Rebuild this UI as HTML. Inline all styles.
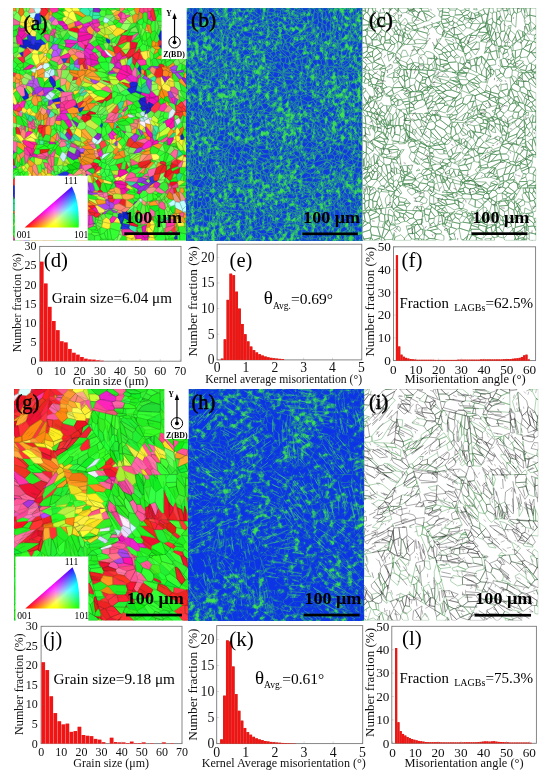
<!DOCTYPE html>
<html><head><meta charset="utf-8"><title>EBSD figure</title>
<style>html,body{margin:0;padding:0;background:#fff}svg{display:block}</style></head>
<body>
<svg width="550" height="780" viewBox="0 0 550 780">
<rect width="550" height="780" fill="#fff"/>
<g id="maps">
<defs><path id="a0" d="M33.7,104.2l0-2.1 -4.2-3 -2.2,5 0,.1 .3,1 2.9,2.1zM40.3,101.1l-2.8-3.8 -2.2,.2 -1.3,.4 -.2,2 2.2,1.4 2.8,.5z"/><path id="a1" d="M27.9,111.5l-.3-6.3 -.3-1 -3.3,6.8 1.9,3.1zM129.8,9.9l-4.7,2.8 .9-8.4 .2-1 3.7,2.3zM76.9,146l-5.3,1.3 -1.2-2 -.2-.6 1.9-3.3 .4,0zM83.4,149.9l-2.2-3.9 -4.3,0 -5.3,1.3 -.4,1.3 10,2.9 2.2-.7z"/><path id="a2" d="M35.3,108.3l2.4-5.7 3.2,2.2 1.1,2.7 -5.1,2.8zM145.3,120.9l.6-.4 .6,3.4 -1.9,.3z"/><path id="a3" d="M40.9,104.8l1.1,2.7 0,0 .3-.3 .1-1.4zM44.4,107.2l-1.1-.8 -1,.8 -.3,.3 .4,5.9zM164.8,179.9l.4-1.9 .9-.2 6.8-.2 -.6,2.3zM146.6,192.2l-1.4,.2 .8,3.8 .6-1.2zM148.8,191.9l2.3-.3 1,.7 .3,.5 -.6,3.2 -3.2-3.2zM146.5,188.5l1.6,3.5 -4.2,.6 -.5-1.9 1.7-1.4zM151.7,188.1l-2.9,3.8 2.4-.3 .1-.1zM89.9,114.2l1.8,.1 1.9-2.5 -.3-1.6 -5,1.9zM0,29l0,5.3 4.1,1.4 -.9-7.6zM169.8,118.4l-.7-3.7 .6-.4 3.5-.1 .5,.7 0,2.5 -1.4,4.2 -1.6-.5zM44.9,106.9l-.8,0 -5.4-3.7 .1-1.4 1.5-.7 3.5,.1 1.7,5.2zM51.5,144.8l3.8-4.5 .9-.3 -1.4,4.1 -3.2,.8zM85.5,209.3l-1.6-.3 -1,.6 -.2,1.9 2.4,.5zM84.3,214.1l-1.4,2.6 .1,.1 4.6,2.6 1.2-.2 .3-3zM85.2,212.1l-.1-.1 .4-2.7 .1-.2 1.9-1 2.3,4.4 -.4,.6zM31.6,204.7l-3.8-3.6 -1.4,.8 -.6,4.7 4.7,1.6 1.4-.6zM6.2,44.8l-.1,.4 -3.5,4.3 -1.6,.5 -1-3.4 0-.8 4.7-2.5z"/><path id="a4" d="M29.1,96.7l.6,.3 -.2,2.1 -2.2,5 -1.8-1.7zM173.7,179.8l-1.4,.1 .6-2.3 .8-1.4zM133.2,194l.6-.1 .3,.7 -.5,.7zM125.4,154.5l.2,.3 2.9-1.3 6.4-6.8 -6.3-.7 -.6,1zM133.2,194l-3.8-2.4 -.8,2.7 .6,2 2.8,1.1 1.3-3.2zM132,197.4l1.3-3.2 .9,3.2 -2,.7zM73.2,166.1l-.5,3.9 -.6-.1 -2.9-3.3 -.4-.8 .4-.9 3.8,.4zM70.5,161.7l-1.9-1.4 -3.5,.6 .7,.4 3,1.8z"/><path id="a5" d="M22.9,111.9l1.1-.9 3.3-6.8 0-.1 -1.8-1.7 -3.8,5.9zM81.5,142.6l-1-1.1 -8-.1 4.4,4.6 4.3,0 .3-.4z"/><path id="a6" d="M42.4,105.8l-.1,1.4 1-.8zM72.5,201.2l1.2-3.6 -2-1.1 -.3-.1 -1.4-.2 -2.1,1.3zM138.4,211.9l2.6,.8 -1.2-4 -3-2.3zM3.4,65l-3.4-1.1 0,4.1 .6,.6 1.4-.4 1.4-3.1zM144.3,93.7l-3.7,3 -3,3.7 .1,2.2 3.8,2.7 3.9-3.1 2.3-5.7 -2.1-3zM160.6,225.4l-2.8-2.8 3.8-4.2 .7,.5 .2,4.6zM49.5,219.6l-4.5,2.3 -.2-.3 -.9-3.6 5-.5 1.1,1.4zM148.4,78.8l.4-.4 .7,2.6 -.7,.7 -1-.1z"/><path id="a7" d="M24.6,117.1l1.2,0 .1-3 -1.9-3.1 -1.1,.9zM152.3,209.3l1.4,.7 2.1-1.9 -1-4 -2.4-3.6 -1.1,1.5zM114.1,0l.6,2.1 -3.6-.7 .7-1.4zM59,216.1l-3.4,.3 -1.7-3.4 0-.8 5.2-.9 .4,.9zM59.7,210.8l-.6,.5 .4,.9zM24.5,117.2l-.9,1.3 -1.5-.3 -.4-1.2 .1-1.9zM26.1,211.8l0,0 -3.4,2.3 0,.2 0,.2 .2,.2 1.1,1zM117.1,139l7.1,1.4 -3.6,4.9 -1.9,.1 -3.4-.4 -.4-.5 1.4-4.7 .4-.5zM114.9,144.5l1.4-4.7 -4.6,1.3zM67,112l2.3,.1 -1.4-2.1z"/><path id="a8" d="M30.5,107.3l-2.9-2.1 .3,6.3 .4,.7 .2,.2 2.1-.3zM4.1,138.3l6.6,4.8 .4-.1 .6-4.2 -3-3.8 -4.7-1.3 -.1,.2zM74.9,61.4l2.3,.4 .3-3.8 0,0 -3.8-2zM9.2,135.7l1.2-.1 3.3,2.7 -.8,2.1zM47.5,93.6l-.2,2.2 -4.8,1 -1.8-1.7 0-1.1 6.1-.8zM154.1,128.6l1,1.8 5.7-6 -.4-1.8 -2.1-1.8 -.5,.1 -3.2,5zM69.6,16.2l.2,2.6 -.6,.6 -3.1,2 -2.4-2.1 .1-1.2zM44.2,124.6l-1.4,7.5 0,0 -3.7-3.5 4.5-3.9zM8.2,71.5l2.6-2.3 -.9-1.6 -3.4-2.2zM137,142.5l-4.8,.8 -1.3-1.8 7.4-2.9zM73.6,62.5l1.3-1 -1.9-.7 -1.8-.2 -3.1,1.7zM104.8,133.7l-1.7-1 -.2-.8 .2-.6 3.9-2.7 1.9,1 .3,.3 -4,3.9zM71.2,148.6l.4-1.3 -1.2-2 -3.3,.1 .2,2.5 3.8,.7z"/><path id="a9" d="M35,108.2l.3,.1 2.4-5.7 -3.3-2.3 -.7,1.8 0,2.1zM30.3,180.4l1.9,2.2 2-.8 0-.1 -.3-1.9 -2.5-2zM32.2,182.6l2-.8 -1.6,1.3zM40.5,175l.7,.7 .3,.4 .8,1.4 -2.2-.8z"/><path id="a10" d="M34.2,109.7l-1.4,7.7 3.7,.2 .4-7.3 -1.6-2 -.3-.1zM90.8,204.6l0,0 .8-1.4 1.1,.2zM38.4,158.4l0,1.8 -.7-1.3 .1-.4zM38.8,158.2l-1.4-9.8 -1.9,1.4 -1.4,2.8 3.3,5.8 .4,.1 .6-.1z"/><path id="a11" d="M36.5,117.6l.4-7.3 5.1-2.8 0,0 .4,5.9 -1.4,4.1 -.2,.3zM58.1,202.9l0,0 -3.6-3.9 4.9-.5 -.6,4zM57.4,202.8l2.3,.1 -.9,.6z"/><path id="a12" d="M26.4,117.2l1.9-5 .2,.2 -.4,4.8zM41.9,66.6l-3.2,2 3.6,5zM82.9,11.2l2.2-.6 2,3.5 -.8,.6 -.7,0zM74.1,37.6l4.7-7.3 -3,1.1 -1.7,6.2zM161.3,217.3l-8.5,2.1 .4-6.5 2.5-2.8 8.1,2.5zM136.9,11.5l-1.9,.1 2.8-3.6zM36.2,0l0,1.1 3.3,4 4.2-.7 2.4-2.2 -.8-2.2z"/><path id="a13" d="M34.2,109.7l-1.4,7.7 -2.2-.1 .1-5zM100.9,43.8l.6,.4 1.1,3.8 -2.1,.8 -.3,0 -7.5-7 .3-.3 1.8-.4zM79.8,58.9l-2.3-.9 -.3,3.8 4.5,.9 1.8-1.6zM150.4,48.1l-1-1.2 -2.8,.3 -3.9,3.3 .4,.3 4.4,.8zM60.2,105.6l2.1,3.1 1.2,.4 1.3-2.4 -.5-1.2zM36.7,133.7l4.6,.8 1.5-2.4 -3.7-3.5 -1.4,.2zM76.5,61.7l-1.6-.3 -1.3,1.1 -2.1,5.4 .8-.1 6.8-4.5zM53.4,101.4l2.2,4.2 6.4,0 3.9-1.5 .4-.3 -1.3-3.8 -4.7-1.3zM173.7,210l-2.3,.5 -1.1-1.6 .7-2.9 2.7,1.4z"/><path id="a14" d="M34.4,100.3l-.7,1.8 -4.2-3 .2-2.1zM95,156.4l-1.2-.5 -2.3,5.3 5,.3 .8-.6zM95.5,157.2l-.2-.2 -.3-.6 4.9-6.1 2,1zM92.3,154.8l6.5-3.3 .2-.2 .6-2.9 -6.8,3.9zM99.6,148.4l.7-2.5 2.9,.1 -4.1,5.2 -.1,.1z"/><path id="a15" d="M28.3,112.2l-1.9,5 -.6-.1 .1-3 2-2.6zM164.6,49.8l2.4,5.6 1.6-.2 5.1-4.3 0-.6 -4.3-5.4 -.9-.5 -1,.2 -2.6,4.3zM83.4,218.1l-2,.3 -.9-.3 -.4-2.1 2.5-.1zM147.7,153.6l-.9,1.5 -4.6-1.8 -.3-1 4-1.1zM155.9,145.8l1.4,.5 4-4.9 -1.1-3 -2.8-.9 -3.8,6.8zM161.3,141.4l-1.1-3 3.3,1.2 2.1,2.1 -.7,.9zM116.4,146.1l-4.3-4.5 -1.2,.6 1.5,6.3 4.1-1.8zM43.8,121.6l-.3,1.4 3.3,6.4 .6-.2 -.8-5.7 -2.6-1.9zM22.6,119.8l-.4-.7 -.1-.9 1.5,.3zM24.6,117.1l-.1,.1 -2.7-2.1 -1.5-3.6 2.7,.8zM24.6,117.1l1.3,0 -1.5,3.4 -1.3-1.3zM22.2,206.8l-3.4-1.6 0-4.7 4.5-.6 0,6.8zM80.9,129.4l3.3-3.4 0-.9 -2.3-3.3 -8.4-4.5 -1.5,3.5 7.3,8.8zM102.1,115.1l1.4-.5 2,1.8 -.7,1.6zM123.2,18.6l2.3,6 0,0 -9.1-.5 1.1-2.4 2.6-2.2 .2-.1z"/><path id="a16" d="M34.2,109.7l-3.5,2.6 -.1-.2 -.1-4.8 3.2-3.1 1.3,4zM163.9,218.9l-.1-6.3 0,0 -2.5,4.7 .3,1.1 .7,.5z"/><path id="a17" d="M30.6,112.1l-2.1,.3 -.4,4.8 2.5,.1 .1-5zM122.3,106l1.8-1.6 2.7,.7 2.2,3.8 -.8,.8 -.9,.4 -4.6-1.8zM90.8,204.6l0,0 -4,.4 .7,1.7zM47.2,164.4l.8-2.3 -3-3.3 0,5 .7,1.5zM78.3,73.9l-7.4-4.5 .5-1.2 5.9,2.4zM124.6,218.6l-.7,.1 -1.1,5.8 .8,.2zM115.3,145l3.4,.4 -.2,.3 -2.1,.4zM115.8,129.8l-.5,1.2 2.6-1.3 .5-1.3zM65.8,114.5l4.9-1.1 1.7,1.4 1.1,2.5 -1.5,3.5 -3.8,1.2 -4.1-2 -.4-.8zM131.5,119.1l-2.7,3.8 .5,.8 4,1 -1.2-5.6zM111.5,125.2l1.3-1.2 .4,0 5.1,.6 3.1,1.1 -.8,1.5 -4.8,2.6zM166,73.6l.6,.8 1.8,8.2 -1.9-.1 -1.3-.3 -3.7-3.4 -.5-5.3 .1-.4zM110.4,124l1.5,2 .2-.1zM68.8,165.8l-4.8,1.5 1.4,4.7 0,0 2.1-2.1 1.7-3.3zM13.4,0l-3.6,0 1.4,4 2-.9zM3,0l3.2,0 .3,.1 -1.2,4.8 -1.6-.6 -.5-1.2 -.4-2.9zM13.2,3.1l-2,.9 -.9,2.4 4.1,4.7 .3,.2 1.7-2.6 0-3.3 -1.1-2zM3.2,3.1l-3.2-.5 0,3.2 1,2 2.7-3.5zM1,7.8l-1-2 0,5.2 .6-.4z"/><path id="a18" d="M6.3,154.4l1.1-4.4 1.1,.8 .6,6.2 -2-.9zM93.4,63.7l.4,1.2 1.1,.2 2.2-2.2 -1-.3 -2.7,.8zM5.5,185.8l-3.2,.5 -.5-.8 2.2-7.6 0,0 .6,.5zM12.1,179.6l2.1,3.3 1.6,.4 .3-2.8zM73,184l.7,.8 2.3-.7zM115.9,65.5l-1.7-1.8 -.2,.8zM82.8,139.1l1.1,2.9 4-2 -1.8-4.2 -2.6,.8zM6.9,178.5l-2.6-2.4 -.2,1.8zM0,163.7l0-2.7 1.1-.4 1,1.1zM57.1,27.6l-1.8,3.6 -3.7,1.3 -2-1.6 .2-.6 4.7-6.6zM114.6,204.3l.1,.2 4.3,4.8 .4-.2 1.5-1.8 .1-1.7 -.4-5.9zM116.5,216.8l-7.2-1.4 1.1-3.5 5.2,1.6 .4,.4zM173.7,79.9l0,5.3 -5.3-2.6 -1.8-8.2zM104.2,126.7l-1.1,4.6 3.9-2.7 -2.1-2.4zM106.4,119.7l1,2.7 -.3,.4 -1.5,.8 -3.4-2.8 .9-1 3.1-.3zM106.4,119.7l1,2.7 1.2-.3zM102.1,138.3l-3.3-2 2.9-1.6 .8,3z"/><path id="a19" d="M17,151.1l-3,3.2 2.1-6.3 .5-.3zM9.6,157.8l1.6-.4 1.2-1.3 -1-8.7 -2.9,3.4 .6,6.2zM98.6,178l-.4-1.6 .2-2.6 2.3,.8zM122.7,101.7l-5.9,.4 2.8-6 .3-.3 4.6,4.1zM128.5,98.5l-3.3-5.9 -5.3,1.6 0,1.6 4.6,4.1 2.8-.4zM68.8,102.8l-2.2,2.1 .2,.6 2.3,1.6 2.4-.4 1.4-.5 2.3-1.7 1.4-1.5 .2-.6 -.1-.1zM60.1,83.9l-.4,.2 1.2,3.6 .7-.8zM94.3,30.2l-4.2-2.1 0,.9 3.1,1.8zM91.4,35l-.8,1.4 -4.9-.5 -2.7-4.2 0-.7 7.2,2.9zM23.8,199.8l4.9-.6 .8-1.4 -1.8-2.2 -3.3,2zM70.7,184l-3.3,3.1 1.2,.5 1.7,.1 3.3-2.4 .1-.5 -.7-.8zM171,166.5l-.5,6.6 1.8,.6 .5,0 .7-4.7 -.3-1.2zM172.8,173.7l.9,1.1 0,1.4 -.8,1.4 -6.8,.2 6.2-4.1zM158.6,155.5l.3-1.1 -4.8,3.2 3.4-.1zM148.2,215.1l1-.9 -.2-2.9 -2.2-1.9 -2.1,4.2 .1,.4zM14.8,153.5l.2,1.9 -1.8-.2zM173.7,58.8l0,1.2 -.1,0 -.5-.1 0-.4zM173.7,63.8l0-3.7 -.1-.1 -.5-.1 -2.8,2.2 .3,2zM173.1,59.5l0,.4 -2.8,2.2 -1.6,0 .4-6.2 3.6,1.8zM173.7,58.8l-.6,.7 -.4-1.8 1-1.5zM30.5,79.7l10-.2 -4-6.5 -5,3.6zM36.1,134.4l.2-.7 -.5-.1 -4.9-.4 -.5,3zM144.9,43.9l-4.2,2.4 -.2,.3 .2,3.8 2,.1 3.9-3.3zM33.9,23.1l1.5,3.3 -3.6-.4 .1-1.1 1.3-1.9zM150.5,153.4l1.9-8.9 1.2-.2 2.3,1.5 -3.4,8.6zM123.9,69.5l3.5-4.2 -2.8-4.6 -.7,.6zM121.9,58.6l2,2.7 .7-.6 2.2-3.3 0-.2 -3.4-4 -1.7,4.5zM171,129.7l2.3-.1 .4-1.2 0-5.1 -1.4-1.7 -1.6-.5 -1.4,4.7zM43.8,202.4l0,1.6 7.5,2.7 3-4zM1.6,170.3l4.1-6.1 1.6,.5 -.2,2.1 -5.1,3.6zM36.8,146.2l2.5-4.5 2.5,0 -4.4,5.6zM141.7,216.7l.3,1 3.2,2.3 3.9-2 -.9-2.9 -2.6-.9 -1.8,.6 -1.9,1.6zM143.2,213.5l.6,1.3 1.8-.6zM85.6,209.1l-.5-.9 3.9-2.5 1.3,0 -2.8,2.4zM43.2,134.9l1.3-1 0-.6 -1.7-1.2 0,0 -1.5,2.4zM97.2,73.6l-.1,0 -4.8-4.3 1.5-.3 2.6,1.8zM120.9,207.3l.7,.8 1.2,4.2 -1.4,3.2 -1-.5 -1-5.9zM123.1,212.1l-.3,.2 -1.4,3.2 3.3,1.8 .1-2.5zM15.6,218.8l1.4-5.7 0-.3 -.3-4.4 -8.7,3.2 -.3,3.6 1.2,3.2 6.4,.7zM60.1,85.4l-1.2,.9 1.2,5.3 2.3,.8zM126.3,127.7l-3.4,5.7 .5-.1 1.3-.7 3.8-3.8zM156,232.4l2.2,0 3.3-1.8 -.1-.9 -5.6,.7 -.2,.3zM52.6,61.1l1.7,.7 3.4,.1 -1.7-3.4 -1.7,.3zM52.2,38.5l5.9,1.5 -.3,.3 -3,3 -2.9-2.7 0-1.4zM52,61.7l2.3,.1 -1.7-.7 -.7,.6zM50.2,38l2,.5 -.3,.7 -1.6-1.1zM143.3,24.8l-1.2-1.9 -3.5,.7 -1.2,2.6 -.2,2 2,5.3 1.7-.9zM133.4,32.6l1.2,3.7 1,2 0,0 3.1,0 .5-4.8 -2-5.3 -3.4,3.6zM145,2.7l-4-.1 1.8,8.2 2.8-5.1 -.3-2.5zM108.5,27.5l-.3-.2 1.8-2.4 6.6-3.6 .9,.4 -1.1,2.4 -2.5,3.3zM37.7,223.3l.4-3 -1.5-2 -2.6,.2 -.6,.7 3.4,4zM162.9,97l1.6,.5 3.6-3.9 -1.8-1.8 -1.7-.5zM173.7,65.4l-1.6-.9 -.2-.5 1.8-.2zM51.1,3.3l-3.2-1.4 3.6-.9 1.6,1.8zM51.1,3.3l-1.5,.8 -3.3-1.9 1.6-.3zM49.6,4.1l2.9,4.7 -.1,0 -8.7-4.4 2.4-2.2 .2,0zM28.1,13.5l5.4-1.3 -2-3.6 -4.2-1.7zM17.3,56.4l-5.6-2.6 -1.2,.8 -.3,4.3 .5,2.2z"/><path id="a20" d="M2.1,144.6l-2.1-2.2 0-8.6 .2-1.3 3.7,1.4 .2,4.4 -.2,6.2zM142.1,203.7l-5.3-3.9 -.1,6.3 .1,.3 3,2.3 2.2,0zM145.6,179l-2.1,1.5 -1.5,2.4 3.5,2 3.6,1.2 3.1-1.7 .1-.4zM54.7,182.4l.8,1.7 -2.3,.7 -.4-3.1zM10,104.9l-.9,3.8 -1.4,.2 -1.7-1.1 -1.5-4.5zM58.9,86.3l1.2-.9 -.4-1.3 -9.5-.5 -2.2,.9 -.3,5 5.2-1 .6-.2zM54.8,92.6l-2.7,.3 .8-4.4 .6-.2zM55.9,92.8l4.2-1.2 -1.2-5.3 -5.4,2 1.3,4.3zM71.3,45.8l-4.2-2 -3.3-.5 -1.3,1.9 -.7,1.2 3.6,3.8 6.4,.2 0-2.6zM64.8,176l-7-1.2 -.3,.1 -1.9,4.3 3,3.7 1.3-.4 5.6-5.4zM68.6,160.3l2.1,1.5 -1.8-4.4 -.6-.2zM77.7,156l1.4,1.7 .2,1.4 -6.9,4.1 -1.7-1.4 -1.8-4.4 4.6-1.2zM135.2,169.3l-1.1,2 -6.3-2.1 2.1-1.1 2.3,0z"/><path id="a21" d="M3.9,133.9l.1-.2 .1-.3 0-.5 -4.1-.9 0,.2 .2,.3zM1.3,129.2l-1.3,2.2 0-4.7 1.5,1.6z"/><path id="a22" d="M0,142.4l2.1,2.2 -2.1,2z"/><path id="a23" d="M5.7,159.2l1.4-3.1 2,.9 .5,.8 0,.2zM4.6,153.5l1.7,.9 .8,1.7 -1.4,3.1 -2.2,.7 -.2-.6zM83,93.8l-1,1.5 -5.6,0 4.4-4zM8,183.2l3.4-3.7 -2.7-.6 -1.5,1.5zM7.2,191.3l2.8,.8 3.5-8.2 -6.6,3.5zM33.9,23.1l2.3-1.7 -2.5-4.3 -1.9,2.9 1.4,3zM96.2,63.8l3.1-3.2 .5,1.4zM85.5,0l2.3,1.9 5.2,.3 1.6-1.4 .2-.8zM51.1,209.9l2.8,2.3 0,.8 -4.9,3.8 -4.8-3.4 3.2-2.8zM24.7,173.6l-2.9,4.7 -2.9-.6 -1.9-4 4.4-4zM100.7,174.6l-.5,.7 1.4-.4 -.2-.9 0,0zM98.3,181l-1.1-.7 3-5 1.4-.4 .2,.3 1.1,3.9 -2.3,1.3zM52.9,35.8l-1.3-3.3 -2-1.6 -.5,.1 -4.5,5.6 .2,0 8-.5zM44.8,26.2l2.3-.1 2.7,4.2 -.2,.6 -.5,.1 -2.6-.4zM117.1,213.2l.5-.5 1.4,1.5zM114.7,204.5l.9,7.9 1.5,.8 .5-.5 1.4-3.4zM7.7,215.2l-1.7-.3 -6,4.1 0,5.4 7.9-2.5 1-3.5zM13.2,201.2l5.6-.7 0,0 0,4.7 -1.6,1.2 -2.9-2.2 -.4-.6zM119.4,214.4l-3.4-.5 -.4-.4 .5-.8zM144,0l1,2.7 -4-.1 -.7-2 .6-.6zM145.7,28l2.2-5.6 .1-1.7 -2.7-.1 -1.7,4.4zM126.3,26.7l2.7,7.2 .7-2 -.7-3 -1.1-2zM113.9,27.4l2.5-3.3 9.1,.5 -5.5,3.1 -5.9,.2zM127.2,29.1l-8.3,3.8 6.8-7.6zM170.8,67.1l-2.6-2.8 3.7-.3 .2,.5zM46.1,23.1l1.6-2 -4.5-2.8 -.9,2.7 1.1,1.3zM92.2,119.3l-2.9-.9 .6-4.2 5.2,.2 .1,.8zM104.9,126.2l.7-2.6 1.5-.8 1.8,6.8 -1.9-1zM110.4,124l1.5,2 -1.3,4.1 -1.4-.2 -.3-.3 -1.8-6.8 .3-.4 1.2-.3zM6.6,18.2l-1,1.7 -2.8,2.1 -2.8,.7 0-5.5 6.7-.5 0,.1zM127.8,169.2l2.1-1.1 1.5-1.5 -.5-.8 -2.8-1.2 -3.8,4.8 1.4,.4z"/><path id="a24" d="M2.5,150.1l1.1-1.6 1,5 -1.3,5.8 -1.3-1.7zM136.8,44.1l-.3,1.1 .9,6.6 1.1,.1 2.2-1.5 -.2-3.8 -2.9-3.4zM91.4,8.8l-3.1-.4 -1.1-.9 -1.1-2.8 1.7-2.8 5.2,.3 -.2,4.8zM78.2,225.9l3.4,2 5-1 -.7-2 -6.4-.9zM145.8,118.5l.2,.1 -.1,1.9 -.6,.4zM89.5,64.1l2.6,.8 3.5,2.9 .1,.2 -1.9,1 -1.5,.3 -4.5,.6 -1.1-.6 -5.9-5.6 3.2-.6 .3,.1zM138.2,58.2l-.2,.2 -1.6,.1 -3-2 -.5-4 2.2-3 2,.5zM138,58.4l-1.6,.1 -.4,1.3z"/><path id="a25" d="M3.6,148.5l.5-3.3 1.8,1.2 1.5,3.6 -1.1,4.4 -1.7-.9zM32.1,165.4l-.2-2.9 -2.2-1.9 -.9-.2 0,2.7zM29.4,168.3l-1.6-3.6 -2.3,.4 -.8,2.7 1.1,4.3 2.6-1.8zM72.1,66.4l0-.7 -5.5,3.3 2.2,5.7zM55.9,82.6l-2,1 -1.8-7.1 1.8-4.2 3.6,2.4 .1,.1 0,.9zM102.1,9.6l-1-1.6 0-.1 3.8-1 3,4 -.1,.1 -.1,.1zM106.5,2.7l-2.5-.3 -4,3 -.1,1.2 1.2,1.3 3.8-1 2.9-3.1zM47.8,117.3l.5-4.6 -5.5-.4 -.8,2.4 0,0 1.5,2 3.7,.7zM144.6,124.2l1.9-.3 .3,.6 0,.1 -2.7,1.7zM19.4,229.3l-.1,0 -.2,3.1 3,0 .1-1 -.9-1.3zM21.8,220.6l-2.4,8.7 1.9,.8 5.4-7.7zM22.1,232.4l.1-1 .7,.4 .2,.6zM26.7,222.4l.7-.2 .4,.3 3.1,6.3 -.4,2.1 -.1,.4 -7.5,.5 -.7-.4 -.9-1.3zM164.2,232.4l-2.5,0 .6-1.2 1.9-.2zM118.3,124.6l.2-2.7 4.7-2 .9,.2 -1.2,5.6 -1.5,0z"/><path id="a26" d="M19.2,148.7l-.1-.4 -.4-.5 -1.9-.6 -.2,.5 .4,3.4zM16.8,147.2l.1-1.7 -5.2-6.7 -.6,4.2 .5,2.6 4.5,2.4 .5-.3zM16.1,144.4l3.5,2.5 -.5,1.4zM82.5,24.4l-.6-1.9 2.9,1.2 -.5,1.6zM33.2,218.6l1-2.5 3.5-.6 .2,.8 -.8,1.9zM41.4,217.8l-2.1,.2 -1.1-1.4zM37.1,218.2l2.2-.2 -1.1-1.4 -.3-.3zM32.8,215.7l.3,2.9 .1,0 1-2.5zM42.5,213.3l1,.2 .6,4 -2.7,.3 -3.2-1.2 -.3-.3 -.2-.8 .5-1zM74.1,37.6l-.1,0 -2.2-.5 -3.8-3.6 7.8-2.1zM72,40.8l-.2-3.7 -3.8-3.6 -3,0 -.8,1.6 .1,.5 1.1,2.4 6.1,3.8 .3-.5 .2-.4zM36.6,218.3l1.5,2 3.5-2.5zM43.9,218l.9,3.6 -7,1.8 -.1-.1 .4-3 3.5-2.5 1.9-.2 .3,.2z"/><path id="a27" d="M8.7,135l-.9-1.2 -3.3-.8 -.4,.4 -.1,.3zM164.6,173.5l-1.4-4.6 .5-2.7 2.5-1.4 3.9,1.3 -3.1,6.1 -2.3,1.4zM149.2,214.2l-.2-2.9 1.9,.2 .2,.8zM53.8,147l.5,1.1 0,2.8 -1.6-.6zM65.4,38l-.4,3.7 -4-1 3.3-5.1zM65,41.7l.4-3.7 6.1,3.8 -.8,1.3zM155.3,208.5l.4,.5 0,1.1 -2.5,2.8 -4.7,1.8zM102.2,120.8l-2.1,.1 1.2-6.3 .3,0 2.7,2.9 -1.2,2.3z"/><path id="a28" d="M16.9,145.5l-.1,1.7 1.9,.6z"/><path id="a29" d="M12.4,156.1l1.6-1.8 2.1-6.3 -4.5-2.4 -.2,1.8z"/><path id="a30" d="M2.5,150.1l-.5,7.5 -.5-.3 -.5-6zM2.1,144.6l-2.1,2 0,4.5 1,.2 1.5-1.2 1.1-1.6 .5-3.3 -.2-.7zM87,181.3l3.4,3.3 4,.1 .2-.3 -3.1-9.2 -1.1-1.3 -2.4,1.4zM82.8,173.7l-2-3.7 -.3-.4 0,4.9 2.1-.5zM132.4,89.1l.7-.3 -5.8-2.7 -.7,4.1 .2,.3zM96,36.4l-1.2,4.7 6.1,2.7 -2.8-5.8 -.3-.4zM82.8,29l1.7-3.6 5.6,2.7 0,.9 -1.4,.7zM71.4,196.4l-.1-8 -1-.7 -1.7-.1 -1.4,.8 .1,6.6 2.7,1.2zM82.6,188.3l3.1,3 -3.1,.6 -7.8-1.5 -3.5-2 -1-.7 3.3-2.4 5.7,1.7zM157.7,160l-4.6,3.3 .7-5.5 .3-.2 3.4-.1zM166.5,159.9l-.3,4.9 3.9,1.3 .1,0 2.9-4.7 -.7-2.1 -4.1-.2zM149,211.3l-2.2-1.9 -1.1-7.3 .4-2.7 5.2,2.6 1,7.3 -1.4,2.2zM144.7,213.6l-.5,.2 -3.2-1.1 -1.2-4 2.2,0zM35.9,42.3l4-5.6 -1.2-2.2 -2.6-.9 -.9,.3 .7,8.4zM0,22.7l2.5-.6 2.4,1.6 -.1,3.1 -1.6,1.3 -3.2,.9zM152.6,157.4l1.2,.4 4.4-2.9 .2-2 -5.4,2.1zM1.9,128l-.4,.3 -1.5-1.6 0-7.3 2.7,.3 .6,6.2 -.5,.9zM62.3,108.7l-2.9,1.5 -.3,1.5 6.2,4 1.2-2.6 -3-4zM8.1,109.6l3.2,8.6 0,0 -6.3-2 -1.5-.7 -.7-6.7 .6-1 2.6,0 1.7,1.1zM97.2,180.3l1.1,.7 -2.7,1.9zM94.9,65.1l-2.6-.5 -.2,.3 3.5,2.9zM123.1,212.1l-.3,.2 -1.2-4.2 2.1-1.5 1.3-.1 -1,4.6zM106.5,232.4l2.9-5.2 .4,0 2.2,.6 1.9,1.4 0,3.2zM111,209.9l-.6,2 5.2,1.6 .5-.8zM108.5,110.1l-5.8,3.7 .7,.6 9.2-2.1 0-1.2 -3.1-1zM147,0l3.7,0 .9,3.9 -2.4,4 -.9-.8zM61.9,227.5l-1.3-2.2 -.1-3.5 0-.1 2.1,.2zM124.8,217.3l4.4-.5 1.4,1 -1.9,1.1 -4.4,1.6zM171.1,69.6l-1.7,.1 -4.3-5.1 3.1-.3 2.6,2.8zM165.5,87.1l.8,4.7 1.8,1.8 1.3,.7 3.3-2.5 -1.8-1.5zM37.9,18l-.6-1.5 1.1-.1zM47.9,1.9l-1.6,.3 -.2,0 -.8-2.2 6.2,0 0,1zM135.2,169.3l-3-1.2 3.1-.2 .4,1.1z"/><path id="a31" d="M1,151.3l-1-.2 0,6.4 1.5-.2zM138.2,154l-10.8,5.8 -1.6,0 -1.1-3.7 .9-1.3 2.9-1.3 9.3-1.9 .1,.3zM150.6,56.5l-2.4-1 -1.9,.6 -1.6,2.6 6.5,.4 .4-1.1zM147.2,166.2l4.4-1.7 1.6-1.4 .6-5.3 -2.6-1 -4.8,8.7z"/><path id="a32" d="M11.1,143l.5,2.6 -.2,1.8 -2.9,3.4 -1.1-.8 -1.5-3.6 4.8-3.3z"/><path id="a33" d="M2,157.6l1.3,1.7 .2,.6 -3.5,1.1 0-3.5 1.5-.2z"/><path id="a34" d="M3.9,144.5l.2,.7 1.8,1.2 4.8-3.3 -6.6-4.8zM118.4,106.7l-.1-1.3 -.1,0 -1.1,.7zM85.6,49.5l-.9,1.4 .1,2.1 1.2,1.5 7.8-.6 -1.7-3.7 -.8-.9 -2.6-1.9zM67,155l-4.9-1 -1.9-2 5.1-1.7zM30.2,136.5l-3.6-.1 -2.4,.4 -.5,.4 -1.4,3.3 0,0 2.6,.4 6.5-3.3zM27.2,145.6l-.1-3.8 -2.2-.9 -2.6-.4 0,0 -2,4.9 4,1.5zM34.3,138.9l2,2 -.1,.4 -9.1,.5 -2.2-.9 6.5-3.3zM34.7,198.9l6.5,3.4 -10-.4 0,0 0-1.2 3.5-1.8zM41.8,194.4l.5,1 .3,1.5 -7,.5 1.4-3.5zM30.4,200.4l.8,.3 0,1.2zM80.1,168.2l-.6-2.4 -.4-.2 -1.7,1.8zM118.7,159.8l-.2-1 -3,.6 -2.7,2.7 2.6,2.5 .2,0zM151.3,92.2l-1.6,3.4 3-.8 .6-.6zM125.3,185.5l1.1,1 .7,3.1 -2.6,1.6 -3.5-1.5 .1-2.5 1.9-1.6zM115.9,182.6l1.3,1.1 4.8,.8 -1.3-3 -4.2-.5zM120.8,181.5l4.5,4 -2.3,.1 -1-1.1 -1.3-3zM115.5,109.1l2.3,.6 3.1,2 -.1,3.4 -3.4,.8 -4.8-3.6 0-1.2zM126,110.5l-4-2 -4.2,1.2 3.1,2 1.4-.1 3.6-.7zM129.7,35.8l-2.7,3.2 -3.7,1.2 -.3-.2 1.6-5.5 3.1-4zM173.7,214.4l-1.1-.4 -1.2-3.5 2.3-.5zM164,222l-.2-7.3 1.7,3.8 .1,4.1zM59,216.1l2.4,3.5 -.9,2.1 0,.1 -1.9-.8 -2.9-4.6zM4.7,43.3l-4.7,2.5 0-6.4 5.7-.4z"/><path id="a35" d="M72,180.9l-.5-2.2 0-.1 1-2.6 2.6-1.1 2.3,8.1 -.8,.1zM43,36.2l-2.3-.6 -2.3,3.2 0,.1z"/><path id="a36" d="M79.7,184.3l2.5-1.9 -2.2-7.2 -.4-.3 -4.4-.8 -.1,.8 2.3,8.1 1.4,1.2zM71,184l-.1-.8 1.1-2.3 4.6,2.2 -.7,1zM78.8,184.2l-1.4-1.2 -.8,.1 -.7,1zM84.1,184.4l.8,2.1 -5.6,.5 -5.7-1.7 .1-.5 2.3-.7zM56.9,188.3l1.7-4.3 -.5-.2 -2.6,.3 -2.3,.7 -3.5,2.3 3.1,3.6z"/><path id="a37" d="M73.2,166.1l1.9,.6 0,.1 -1.4,1.9 -.8-.4zM4,177.9l-2.2,7.6 -.2-.1 -1.6-5.6 0-2.8zM2.3,186.3l-.5-.8 -.2-.1 -1.6,.8 0,2.4 .6,2.4 1.4-.7zM82.6,215.9l-2.5,.1 -.4-.3 2.5-.8zM89,120.8l-2.4-2.8 2-3.4 1.1,1z"/><path id="a38" d="M77.4,167.4l2.8,.8 .3,1.4 0,4.9 -.5,.7 -.4-.3zM90.5,171.4l-.1,2.5 -2.4,1.4 -3.1-3.9 -.5-1.9zM106.6,73.5l-.9,1.4 9.3,4.4 -5.9-5zM121.4,0l5.6,0 -1.4,5.9 -.7,.8 -2.2-1.2 -1.8-4.1zM146.4,87.4l1.9,1.8 -.1,.4 -2.3,3.3 -.7-5.1zM138.6,23.6l-1.2,2.6 -1.4-1.9 -.4-1.1 -1.8-6.2 .1-1.7 3.7,1.9zM156.2,97.1l-.7-2.8 -4-2.4 -.4,.1zM146.4,87.4l4.7,4.6 .4-.1 .2-2.7 -2.9-7.5 -1-.1zM99.1,121.7l-3.9-6.5 -.1-.8 6.2,.2 -1.2,6.3zM67.8,152.3l.5,4.9 .6,.2 4.6-1.2z"/><path id="a39" d="M75.3,166.7l-.2,.1 -1.4,1.9 1.5,5.4 4.4,.8 -2.2-7.5zM74.8,190.4l7.8,1.5 2.2,4.8 -.4,.2 -8.4-4.7z"/><path id="a40" d="M90.4,184.6l-3.4-3.3 -.3,.1 -2.1,1.7 .3,1.3zM116.9,34.2l1.3-.8 .1,0 6.3,1.1 -1.6,5.5 -6,1 -.2-.2zM114.1,27.9l5.9-.2 -1.8,5.7 -1.3,.8 -2.4-.1 -.4-.6 -.7-3.1z"/><path id="a41" d="M84.4,169.5l.5,1.9 -1.4,1.1 -2.7-2.5 -.3-.4 -.3-1.4zM151.6,171.7l-7.4,.8 -.5,1 3.6,2.3 3.8-2zM114.6,204.3l6-4.6 .3-.7 0-2.1 0-.1 -.3-.1 -5.5,5.2 -.5,2.4zM152.4,169.1l-1.8-1.2 -3.3,3.4 1.1,.8 3.4-.4 .3-.2zM57.3,228.5l-3.8-3.7 5.1-3.8 1.9,.8 .1,3.5zM70.6,171.7l-1.1,.3 -2-2.1 1.7-3.3 2.9,3.3z"/><path id="a42" d="M71.5,178.6l1-2.6 -.6-.7zM67.1,197.4l-.7-.3 -.2,1zM5.5,120.1l2.7-2.7 .2-.1 -4.7-1.5 -.3,3.2zM15.3,180.3l3.6-2.6 -1.9-4 -2.1-1.5 -5.5,6.8zM52.4,38.5l-7.6-1.9 8-.5zM148.4,172.1l-1.1-.8 -1.7,.3 -1.1,.9zM61.5,231.1l-2.3,.1 -2.1-1.1 .2-1.6 3.3-3.2 1.3,2.2zM62.7,221.5l-1.3-1.9 -.9,2.1 2.1,.2zM67.5,169.9l-2.1,2.1 .7,2 .5-.2 2.9-1.8zM70.6,171.7l1.5-1.8 .6,.1 -.5,3.4 -1.2-.9z"/><path id="a43" d="M70.8,183.1l.1,.1 1.1-2.3 -.5-2.2z"/><path id="a44" d="M90.5,171.4l-.1,2.5 1.1,1.3 6.7,1.2 .2-2.6z"/><path id="a45" d="M71.9,175.3l1-7 .8,.4 1.5,5.4 -.1,.8 -2.6,1.1z"/><path id="a46" d="M82.8,173.7l-2-3.7 2.7,2.5zM146.4,87.4l1-4.4 -.2-.4 -.2-.2 -.5,0 -1.2,5.3zM84.9,169.7l.2-2.3 3-.2 .1,0 .5,1.7 -1.1,1.6zM72.1,230.8l1.7,.6 -.6,1 -10,0 -.1-.1 3.7-1.9zM154.6,60.1l-.9-.8 -5.5-.4 1.7,3.5 2.7-.3zM136.2,213.9l1.7,3 -1.5,2.2 -2.5,.7 -.4-3.6zM132.3,129.3l0,1.3 4.5,2.2 1-3.4 -2.4-1.4zM109.2,109.6l.3,.5 3.1,1 2.9-2 -1.4-2.2 -.4-.2zM41.3,232.4l.7-.2 .1-1.7 -3.6-3.8 -5.9,2.6 -.7,3.1zM149.5,81l-.7,.7 2.9,7.5 3.3-.8 .9-.8 -1.2-3.9z"/><path id="a47" d="M82.8,173.7l.7-1.2 1.4-1.1 3.1,3.9 -1,6 -.3,.1 -4.1-7.4zM173.7,149.4l0,0 0-2.5 -3.3-.4 -.1,.1 .3,1.9zM90.5,93.8l-.9-1.9 2.7-1.9 .1,0 .8,.6z"/><path id="a48" d="M82.6,174l-2.1,.5 -.5,.7 2.2,7.2 2.4,.7 2.1-1.7zM118.3,105.4l.1,1.3 3.6,1.8 .7-.2 -.4-2.3zM112.5,87.7l.1,.6 1.5-1.2zM23.2,105.9l-3.4-2.3 -1.4-1.3 -.7-1.8 3.4-3.1 3.1,0 .1,.5 .6,5.3zM13.9,101.9l2.3-1.8 -.4-2.2 -2.9-4.5 -.2-.1 -1.7,6.2zM99.7,82.7l-.5-1.6 1.2-4 2.7-.3 3.9,7.8 -.2,.5 -.8,.1zM107.7,85.8l4.8,1.9 5.4-2.1 -4.1-4.4 -1.1,.1 -5.7,3.3 -.2,.5zM100.1,166.9l-.2,0 .9,3.9 1.2-.1zM91.4,161.2l0,1.9 -3.2,4.1 -.1,0 -1.2-1.7 .4-3.7 1.3-1.8zM91.4,161.2l0,1.9 2.2,5.2 1.2,0 .7-.7 1.4-4.3 -.4-1.8 -5-.3zM88.2,167.2l3.2-4.1 2.2,5.2 -1,.8 -3.9-.2zM41.5,163.4l-.2,1.8 1.2,2 3.2-1.9 -.7-1.5z"/><path id="a49" d="M98.6,178l-.4-1.6 -6.7-1.2 3.1,9.2zM65.2,84.6l-3.6,2.3 -.7,.8 1,3.1 4.9-3 .5-1.8 0-.2zM90.2,33.9l-7.2-2.9 -.5-1.8 .3-.2 5.9,.7 1.2,1.7zM81.7,39.4l-.3-.1 -4.3-4 5.9-3.6 2.7,4.2 .2,.8zM89.9,31.4l-1.2-1.7 1.4-.7 3.1,1.8 .4,2.3zM91.4,35l3.1,0 -.9-1.9 -3.7-1.7 .3,2.5zM0,188.6l.6,2.4 -.6,.5zM71.7,196.5l4.1-2.3 .2-2 -1.2-1.8 -3.5-2 .1,8zM172.8,173.7l.9,1.1 0-5.8 -.2,0zM145.7,202.1l1.1,7.3 -2.1,4.2 0,0 -2.7-4.9 .1-5zM30.1,70l1.5,4.5 -.1,2.1 -1,3.1 -.5,.3 -3.1-1.5 -3-8.7 .6-1zM36.7,135.9l-2.4,3 -2.9-1.3 -1.2-1.1 .2-.3 5.7-1.8zM63.6,200.5l-.8-5.2 1.1-.4 1.2,.6 1.3,1.6 -.2,1zM31.8,26l.1-1.1 -2.7-4.2 -.8-.2 2.7,6.6zM31.1,27.1l-2.7-6.6 -1.1-.3 -2.4,3.7 3.8,4.3 1.8,.1zM152.4,144.5l-.2,0 -.1-.1 -2.2-7.8 .4-.4 6.5,1.1 .6,.2 -3.8,6.8zM116.7,58l2.5-3.8 2.5,3.5 .2,.9 -2.8,5.5zM21.5,121.4l-.5,2.5 -1,.7 -.4-.3 -.7-3.7zM14.7,117l.7,2.2 -4.1-1 -3.2-8.6zM57.2,135.7l-.7-.2 -2.6-2.4 .1-.5 3.2,.7 .2,.2 .6,1.2 0,.1 0,0zM43.9,157.3l-2.8,.2 .1-8.4 4.5,.7zM135,231.2l1.9-2.1 -.7-.5 -1.5-.1zM120.4,196.5l-6.3-4.6 5.1-1.4 2.6,3.7zM94.9,187.8l-.4-2.7 3.5,2.2zM124.8,214.8l-.1,2.5 .1,0 3-.3 .4-3.7 -.6-1.9 -.4,.1zM18.7,67.9l-.3,.3 -4.5-2.8 4.9-2 .4,.3zM44.9,36.6l4.1,1.1 1.3,.4 1.6,1.1 0,1.4 -.6,.2 -2.7,.6 -3.3-1zM46.4,48l1,.6 .1,0 3.8-7.8 -2.7,.6zM147.6,155.4l2.7,1 -2.1,.8zM103.4,114.4l9.2-2.1 4.8,3.6 -.6,1 -5.2,.9 -6.1-1.4 -2-1.8zM146.5,0l-1.2,3.2 .3,2.5 2.7,1.4 -1.3-7.1zM49.9,13.1l-5,.2 -1-2.1 5.9-1.4zM37.9,18l1.5,3.3 2.9-.3 .9-2.7 -.1-.7 -4.6-1.2 -.1,0zM49.8,9.8l2.6-1 -8.7-4.4 -4.2,.7 -.5,2.2 .3,.6 3.1,2.5 1.5,.8z"/><path id="a50" d="M84.9,184.4l-.3-1.3 -2.4-.7 -2.5,1.9zM31.4,69.3l.3-5.1 -7.1,3.8 -.1,.8 5.6,1.2zM8.8,73.9l-2-.5 -.9-1.6 2.1-1.1zM0,78.1l1.6,2.7 -1.6,1zM6.8,73.4l-.4,1.4 -4,.8 -.4-1.3 1.2-4.1 2.7,1.6zM8.8,73.9l.6,2.1 -3.1,1.9 .1-3.1 .4-1.4zM19.7,87.8l-.6-2.1 -1.7-1 -2,2.1 -.1,3 .1,.1zM73.4,21.3l1.4,3.5 2.1,1.2 3,1.1 1.3-4.7 -3.8-4.9 -1.4,.5zM79.1,63.3l-6.8,4.5 14.4,1.5 -5.9-5.6zM21,68.2l.7,.3 .7-3.5 -.2-.1z"/><path id="a51" d="M133.6,94.8l.3-1.6 -1.5-4.1 -5.6,1.4 -.2,.7zM134,99.2l-1.8,3 .8,.4zM134.5,97.6l-6,.9 -3.3-5.9 1.4-1.4 7,3.6 1.4,1.4z"/><path id="a52" d="M117.1,106.1l-1.4-.7 -.6-3.2 1.1,.1 2,3.1zM142.2,153.3l-2.3-.9 .1-.3 1.9,.2zM67.7,219.8l-.1-3.3 3.8-2.2 2,3.5zM7.3,164.7l1.3-.7 2.1,3.4 -1.8,3.7 -1.5-3.5 -.3-.8zM8.9,171.4l5.7,0 .1-.1 .8-5 -.6-3.4 -2.4,1 -1.8,3.5 -1.8,3.7zM132.7,204.3l3.6,.5 0-.1 -2.1-7.3 -2,.7zM37.3,52l-3.8-3.4 -.1-2.8 1.1-1.5 3.9,2.7 .5,2.3 -1.5,2.7zM52.6,225l.9-.2 3.8,3.7 -.2,1.6 -.8,.7 -3.5,0 -.8-5.3zM52,225.5l.8,5.3 -.4,.7 -3.2-.7 -3.3-4.7 .1-.2 4.2-.6zM52.3,232.4l.1-.9 .4-.7 3.5,0 .2,1.6z"/><path id="a53" d="M119.9,95.8l-.3,.3 -5.2,1.9 -1.3-7 6.8,3.2zM95.4,105.7l2.7-1.8 4.4,1.5 -8.4,6.3 -.5,.1 -.3-1.6 1.5-3.8zM91.7,114.3l7.3,.2 .7-1.7 -.1-.2 -5.5-.9 -.5,.1zM105.2,110.3l.1,1.9 -3.7,2.4 -2.6-.1 .7-1.7 4.7-2.4zM127.8,217l.4-3.7 3.4-1.6 1.3,2.3 -1.4,2.5zM37.4,52l6.8,2.8 3.5-5 -.3-1.2 -1-.6 -.4-.2 -7.1,1.5z"/><path id="a54" d="M133,102.6l-.8-.4 -2.7,.7 0,.1 2.7,2.1zM6.7,186.9l.2,.5 6.6-3.5 .7-1 -2.1-3.3 -.7-.1 -3.4,3.7zM6.2,178.4l1,2 1.5-1.5zM35.4,148l.3,0 -1.3,2.3 -1.1-1.4 .4-.3zM34.9,143.7l1.4-1.6 2.3,.9 -2.9,5 -.3,0zM138.5,51.9l1.4,6.4 4.8,.4 1.6-2.6 -3.2-5.3 -.4-.3 -2-.1zM60.6,189.2l1-.5 3.3,2.6 -1,3.6 -1.1,.4 -1.8,.1 -3.8-1.8zM27.7,31l1-2.8 1.8,.1 4.6,5.6 -2.5,1.9zM27.2,31.7l-4.3,.9 -.3-3.9 .9-4.6 1.4-.2 3.8,4.3 -1,2.8zM40.3,27l-.5,1.1 .8,4.5 .2-.2 .3-4.2 -.2-1.2zM100.8,174.5l-.1,.1 -2.7-.9 .7-.9zM102.9,172.6l-.9-1.9 -1.2,.1 -2,1.7 -.1,.3 2.1,1.7zM173.7,179.8l-1.7,.1 1.7,.8zM173.7,117.4l-1.4,4.2 1.4,1.7zM33.8,99.9l.2-2 -2.1-1.4 -2.5,.3zM82.2,214.9l.7-5.3 -3.2-2.6 -.4,.4 1.2,8.1zM5.2,159.3l.2,2.3 -2.8-.1 .3-1.4zM2.9,160.1l-1.8,.5 1,1.1 .5-.2zM144.3,132.5l.8,.7 1.3,.4 7.7-5 .5-2.7 -8.8,3.5 -1.4,2.4zM44.9,30.6l-4.2,4.8 0,.2 3.9,1 4.5-5.6 -2.6-.4zM120.4,215l-1-5.9 -.4,.2 -1.4,3.4 1.4,1.5zM0,211.8l2.1,1.6 .9,.1 -1.5-8.6 -.8,.1 -.7,.9zM0,205.9l.7-.9 -.7-1.2zM0,211.8l2.1,1.6 -2.1,4zM109.3,122.8l-4.5-4.8 .7-1.6 6.1,1.4 1.6,6.2 -.4,0zM145,2.7l-1-2.7 2.5,0 -1.2,3.2zM140.9,0l-.6,.6 -.7-.4 0-.2zM48.3,232.4l.9-1.6 -3.3-4.7 -3.8,4.4 -.1,1.7 0,.1 .2,.1z"/><path id="a55" d="M122.5,83.9l.7,.3 -1.8,.2zM86.1,43.5l-4.4-4.1 4.2-2.7 4.5,5.6 -2.7,1.9zM140.3,12.6l-1.4,1.6 -2-2.7 .9-3.5 .2-.5z"/><path id="a56" d="M118.3,105.4l-.1,0 -2-3.1 .6-.2 5.9-.4 1.4,2.7 -1.8,1.6zM47,79.5l-3.9,.8 -.3-.2 -.5-6.7 4.7-3.1 .1,0 .4,8.1zM101.9,16.7l3.9-2.9 3.8,1.9 -2.2,4.4 -3.5-.3zM84.1,220l-2.5,1.9 3.5,.8zM113.4,185.5l3.8-1.8 4.8,.8 1,1.1 -1.9,1.6 -7.8-1.6zM124.4,14.6l1.4,10.9 .5,1.2 1.6,.2 0-1.4 -2-9.3 -1.5-1.6zM124.7,181.1l.3,2.3 -1.2,.8 0,0 -6.1-5.5 1-.6zM128.6,174.8l4.5,1.7 -5.6,2.3 -.1-.3z"/><path id="a57" d="M127.3,99.5l-2.8,.4 -1.8,1.8 1.4,2.7 2.7,.7 2.7-2.1 0-.1zM122,108.5l4,2 1.3-.4 -4.6-1.8zM58.5,156.7l-.9-.5 -3.3-5.3 0-2.8 5.9,3.9 1.9,2zM36.7,135.9l6.1-.3 -2.3,4 -4.2,1.3 -2-2zM26,131.9l-2,4.7 .2,.2 2.4-.4 -.2-4.5zM84,219.6l-2.6-1.2 -.9-.3 -4.7,1.8 -.1,.9 2.3,1.2 3.6-.1 2.5-1.9zM79.5,224l6.4,.9 -.8-2.2 -3.5-.8 -3.6,.1zM84,219.6l-2.6-1.2 2-.3zM31.5,204.1l-.3-2.2 1.6,.1 .5,.7 -.1,.2zM32.8,202l.5,.7 .8-.7zM39.3,141.7l3.1-5.5 2.6,1.2 -2.9,4.1 -.3,.2zM45,137.4l-2.6-1.2 .8-1.3 2.2-1.7 1,2.5 -.6,1.6zM32.6,214.6l-.7-7 -1.4,.6 -.3,3.5 2.3,3.4zM29.5,199.8l.7,.1 1,2 .4,2.8 -3.8-3.6zM66.4,138.6l.1,0 -.5-1.1 -1.6,.1 0,0z"/><path id="a58" d="M136.2,90.2l-3.1-1.4 -.7,.3 1.5,4.1zM78,56.6l-.4-5.5 7.2,1.9 1.2,1.5 .2,1zM19.1,148.3l.1,.4 4.8,1 .6-1.2 -.3-1.6 -4-1.5zM143.9,88.2l-4.9-5.3 -.7,0 -.8,.7 -1.5,2.5 .5,2.5 2.5,1.1zM136.7,90.5l2.3-.8 -2.5-1.1 -.1,1.7zM136,86.1l.5,2.5 -.1,1.7 -8.8-4 .7-2.2zM59.6,117.7l-3.1,2.5 -1-.8 -4.4-6.5 5.4-1.5 1.1,.5zM141.1,90.3l-2.2-.5 -1.7,.5 -.7,1.1 -.1,.2 -.7,2.3 .3,.4 4.6,2.4 3.7-3zM153.7,232.4l-.9-2.8 -1,2.8zM128.8,230.4l-.8,2 4.1,0 -.4-2.9 -1.5-.6zM130.2,228.9l1.5,.6 3.1-.3 -.6-5.6 -1.6-1.4 -2.7,3.2 -.9,1.3z"/><path id="a59" d="M126.8,105.1l2.7-2.1 2.7,2.1 -1,3.2 -2.2,.6z"/><path id="a60" d="M125.2,92.6l-5.3,1.6 -6.8-3.2 -.5-2.7 1.5-1.2 3.7-1.4 8.8,4.5 .2,.3 -.2,.7zM117.8,85.7l8.8,4.5 .7-4.1 -4.1-1.9 -1.8,.2zM152.5,54.7l4.1-2.3 4.3,.8 -.5,1.2 -5.6,4.5 -1.2,0zM153,50.6l4.4-2.9 2.1-6.7 -6.5,1.5 -.2,7.3zM152.5,54.7l4.1-2.3 1.6-2.7 -.8-2 -4.4,2.9 -.9,2.8zM169.3,35.3l-2.7,8.7 .9,.6 1-.2 5.2-5.3 0-4.3 -2.4-1.2 -.5,.1zM173.7,50.3l-4.3-5.4 4.3-.3zM151.1,49.5l1.7,.3 .2-7.3 -2.3-.1 -1.3,.8zM153.6,174.8l.5,.5 .7,1 .6,3.5 .1,.7 -3.2,3.5 -6.7-5 1.7-3.2 3.8-2zM34.5,55l.6-1.8 1.8,2.4 -.7,.5zM148.7,53.1l-.5,2.4 -1.9,.6 -3.2-5.3 4.4,.8zM150.8,48.4l-.9-3.3 -.5,1.8 1,1.2zM151.6,51.2l.4,1.7 .1,1.1 -1.5,2.5 -2.4-1 .5-2.4zM151.6,51.2l-2.9,1.9 -1.2-1.5 2.9-3.5 .4,.3zM152.3,54.1l-.2-.1 -1.5,2.5 1,1.5 1.7-.3zM44,61.4l-.4,.3 -2.1,.1 0-.5zM62.6,222.3l-.5,3.8 4.7,4.3 5.3,.4 1.7-4.9 -6.1-3.3 -2.8-.4zM104.4,151.2l5.9-1.9 .7,.1 .7,3.7 -2.4,1.7 -5.7,2 -1.7-.1zM116.5,146.7l-4.1,1.8 -1.4,.9 .7,3.7 1.6,.8 .1,.1 2.5,.2 1.6-1.6zM29.6,91.7l-1.1-1.2 1.5-2.8 2.4,.5 .6,1.9zM32,94.3l-.1,2.2 2.1,1.4 1.3-.4 .5-5.3zM29.1,96.7l-.6-3.9 1.1-.6 2.4,2.1 -.1,2.2 -2.5,.3zM8.9,171.4l-3.9,3.1 -2.4-3.4 4.8-3.5 1.5,3.5zM29.5,132.5l.5-2.5 2.4-3.9 5,1.2 .3,1.5 -1,4.9zM77.7,82.5l-5-.2 -3.9-4.3 4.8,1.2zM38.4,57.5l-2.6-3.3 .2-.4 .1,0 2.2,3zM117.5,21.7l-.9-.4 3.4-1.9 .1,.1zM104.7,35.8l-1,1.2 -2.3-2.6 3.9-6.9 1.2-.6 1.7,.4 .3,.2zM122.9,17.7l.3,.9 -2.9,.8 .1-.2zM129,226.7l.9-1.3 -1.2-6.5 -4.4,1.6 -.3,1.8 1.6,2.8zM173.7,91.8l-.2,.1 -.8-.1 -1.8-1.5 -4.4-7.8 1.9,.1 5.3,2.6zM45.5,15.8l-2.4,1.8 .1,.7 4.5,2.8 2.9,0 -1.2-2.9zM89,130.4l1.7,1.1 -.9-2.3 -.3-.1 -.3,.4zM65.2,183.1l2.8,3.5 2.3-2.3 -3.9-2.8zM7.8,20.7l-1.2-2.5 .1-1.4 5.7,2.7zM134.7,165.3l-1.7-5.5 -.1,0 -.1,.1 -1.9,5.9 .5,.8zM135.2,169.3l-1.1,2 0,0 2.2-1.2 -.4-1.2 -.2,.1z"/><path id="a61" d="M134,99.2l.5-1.6 -6,.9 -1.2,1 2.2,3.4 2.7-.7z"/><path id="a62" d="M115.1,102.2l1.1,.1 .6-.2 2.8-6 -5.2,1.9zM26.6,182.7l-.2,1.5 -7.7-.7 1.1-2.2zM171,166.5l2.2,1.3 .5-.3 0-6.2 -.6,.1 -2.9,4.7zM20.5,149l.8,1.4 1-1zM31.2,173.1l.2,.4 -.7,2.5 -4.6-1.2 -.3-.3 0-2.4 2.6-1.8zM169.1,55.9l-.4,6.2 -5.1,1.5 -.4-1.1 1.4-4.7 2.4-2.4 1.6-.2zM107.4,105.2l2.9-1.8 -.8-1.4 -3.1-.3 -1.9,2.8 2.1,.9zM114.8,100.1l.9,5.3 -4.5,2.9 -.6-.4 1.9-5.4zM104.5,96.2l-.4,.2 -2.2-.3 -2-1 1.5-5.3 2.7-2.4 6.4-.4 -3.1,6.8zM135.9,40.9l-.3-2.6 1,0 1.3,1.7 -.7,.8zM20.9,17.3l-2.1,1.8 .7,2.3 4,2.7 1.4-.2 2.4-3.7 -.5-4.4zM104.4,65l-9.2,1.3 .3,1.1 7.7,1.5 1.3-3.8zM88.6,232.4l-.5-1.4 -1.8,1.4zM152.5,154.4l.5,.6 5.4-2.1 3.5-2.5 -4.6-4.1 -1.4-.5zM160.3,191.8l-4.5-1 -2.5,3.6 .5,.9 1.6,.3zM42,86.3l5.8-2 -2.3,4.6 -3.4-2.4zM32.1,183.9l.5-.8 -4.7-5.7 -4.3,2.3 -.4,.2 1.5,2.4zM43.8,121.6l-1.3-.7 -1.6-3.1 1.1-3.1 0,0 1.5,2 .5,4.9zM150.1,107.7l.6,2.6 -5.7,3.4 .2-2.7 1.4-1.8zM150.1,221.2l1.8,5.5 -5.2-1.3zM88.8,219.2l-1.2,.2 -.7,1.2 .1,6.1 4.2-1.7 3-3.7 .1-.2zM100.2,231.7l-.5,.7 1.4,0 -.2-.6zM87.2,228.5l2.3,2.8 -.8,1.1 -.1,0zM93.4,231.2l-3.9,.1 -2.3-2.8 -.5-1.5 .3-.3 4.2-1.7zM38.7,117.7l2.2,.1 .7,1.3 -.1,.8 -.3,.6 -2.9,1.6 -.6-3.3zM44.3,124.4l0,.1 -.1,.1 -.6,.1 -2.4-4.2 .3-.6 .4-.2zM96.4,70.8l-2.6-1.8 1.9-1zM2,232.4l5.5,0 .9-2.5 -6.6,1.2zM9.1,226.8l-.2,2.7 -.5,.4 -6.6,1.2 -.4-.7 -1.4-3.3 0-2.7 7.9-2.5zM160.3,232.4l1.7-1.3 -.5-.5 -3.3,1.8zM160.4,225.9l-4.3,2.5 -4.3-2.7 .1-.3 5.9-2.8 2.8,2.8zM78.3,108.7l.2-.4 7.9,1.1 2,2.9 .2,2.3 -2,3.4 -.6,0 -8.5-6.4zM132,36.8l-.1-3.8 1.5-.4 1.2,3.7 -.6,1.3zM129.7,35.8l-.7-1.9 .7-2 2.2,1.1 .1,3.8zM142.2,12.7l-.1,10.2 -3.5,.7 -1-6.4 1.3-3 1.4-1.6zM114.2,49l-1.3,1.3 2.3-.7 .1-.2zM112.1,125.9l3.7,3.9 -2.1,5.1 -.7-.2 -2.4-4.6 1.3-4.1z"/><path id="a63" d="M135,96.2l1.7-5.7 -.5-.3 -2.3,3 -.3,1.6z"/><path id="a64" d="M128.2,109.7l2.9-1 .1-.4 -2.2,.6zM87.2,110.5l1.1,1.6 5-1.9 1.5-3.8 -3.9,.9zM4,61.7l-4-1.5 0,1.4 3.5,2.3zM99.5,165.6l-.1,.2 -2.5-2.5 -.4-1.8 .8-.6zM87.4,151.9l.6-.8 .7-2.3 -2.7-.9zM27.7,88.1l.4,2.3 .4,.1 1.5-2.8 -.6-.5zM146.7,225.4l5.2,1.3 .9,2.9 -1,2.8 -8.9,0 -.7-.4 -.7-1.8 3.6-4zM161.7,232.4l.6-1.2 -.3-.1 -1.7,1.3zM145.6,5.7l2.7,1.4 .9,.8 -.3,5.6 -4.8-.5 -1.4-1.2 .1-1zM83.4,150.8l-2.2,.7 -1.4,2.8 5,1.5 3.3-2 -.4-1.1 -2.2-1.5zM5.7,62.4l1.7-.2 -.2-2 -3.2-2.7 -2.1,3.3 .7,.4z"/><path id="a65" d="M73.6,96.3l-.5-2.5 -2.4-.3 -5.3,7.1 5.8-1.7zM73.6,96.3l3.1,6 .1,.1 5.4-4.8 -.2-2.3 -5.6,0zM74.3,202.7l4-2.2 -3-2.6 -1.6-.3 -1.2,3.6zM75.3,197.9l5.5-.4 -5-3.3 -4.1,2.3 2,1.1zM153.3,57.7l.4,1.6 -2.5-.2 .4-1.1zM72.1,65.7l.1-.2 .1-.7 -.8-2.4 -6.6-.2 .1,4.3 1.4,2.5 .2,0zM65,66.5l1.4,2.5 -1.6,.7 -4.4-1 -4.1-3.8 .2-1zM0,101.9l0-1.1 .6,.5 .1,.1 -.3,.7zM103.3,139.5l1,.1 2.7,1.6 -3.8,4.8 -2.9-.1 -.4-2.3 1.3-2.5zM155.2,68.2l1.7,.6 3.1-3.5 -.4-.2 -3.3-.9zM0,101.9l4.5,1.4 1.5,4.5 -2.6,0 -3.4-5zM0,203l0,.8 .7,1.2 .8-.1 2.6-1 -.3-1.4zM74.9,134.8l-3.5,1.4 -1.9-1.5 4.1-2.6zM159.6,65.8l.1,5.3 -1.8-1.3 -.9-1z"/><path id="a66" d="M83,93.8l-1,1.5 .2,2.3 3.6-.8zM8,70.7l-1.4-5.2 -3.2-.4 -1.4,3.1 1.2,2 2.7,1.6zM0,74.6l2-.3 1.2-4.1 -1.2-2 -1.4,.4 -.6,.2zM21,68.2l1.2-3.3 -3-1.2 -.5,4.2zM68.1,62.3l3.1-1.7 -1.7-4.9 -2.6,1.5 -.6,3.8 .3,1.3z"/><path id="a67" d="M87,98.1l-.1-.1 -2.5,5.4 .9-.2zM84.2,106.4l1.1-3.2 -.9,.2 -1.6,1.5 -.9,1.7zM87.9,106.4l-3.6,.2 -.1-.2 .6-1.6 .3-.4 6.3-5.4 .6-.4 1.2,.1 -.1,3.3 -4.3,4.1zM15.9,119.6l-4.6-1.4 0,0 4.1,1zM87,98.1l-2.4-2.6 4.3,.3zM59.9,182.5l-1.3,.4 -.3,1 8.9,3.4 .8-.7 -2.8-3.5z"/><path id="a68" d="M68.1,80.8l-.1-.3 -.6-.8 -2-.2 -.7,2.7 1.9,0zM149.4,15.5l3.9,3.7 .9-13.7 -2.6-1.6 -2.4,4 -.3,5.6z"/><path id="a69" d="M78,88.2l-2.3,3.2 3.9-1.4zM73.6,96.3l0,0 2.8-1 4.4-4 -1.2-1.3 -3.9,1.4 -2.6,2.4zM73.1,93.8l2.6-2.4 2.3-3.2 -1.3-1.5 -6.9,5.3 -.4,1 1.3,.5zM82.5,197.7l1.7-.4 .2-.4 -8.4-4.7 -.2,2 5,3.3zM172.3,27l1.4-.8 0-5.3 -1.3-.1 -4.9,3.8 1.7,2.3zM160.4,54.4l1.5,2.7 -5,2.9 -2.1-1.1zM68.8,74.7l-.9,2.3 -1.7,1.6 -.1-.1 -3.5-2.9 1-4.4 1.2-1.5 1.6-.7 .2,0zM119.8,7.3l2.9-1.8 2.2,1.2 .4,.5 -1.8,7.8 -2.8,0 -1.6-7.1zM104.6,144.3l1.2-.2 .9,2.7 -4.5,.6zM101.9,151.3l-2-1 2.3-2.9 4.5-.6 3.6,2.5 -5.9,1.9zM156.8,61.9l-2.2-1.8 -2,2 3.3,1.6zM0,106.9l2.8,1.9 .7,6.7 -.1,.2 -2.8-.9 -.6-.5zM74.9,134.8l.4,.1 1.6,1.8 -4.3,.8 -1.2-1.3zM156,69.9l1.9-.1 -.9-1zM80.5,141.5l.8-.8 -5-3.9 -8.5,1.6 1.1,1.3 3.2,1.7 .4,0zM5.5,21.3l-2.7,.7 2.8-2.1z"/><path id="a70" d="M71.9,81.4l1.7,1.9 -6.3,2.7 0-.2zM109.1,108.2l1.5-.3 1.9-5.4 -2.2,.9 -2.9,1.8zM6.3,77.9l.1-3.1 -4,.8 0,4.7zM47.5,78.4l4.6-1.9 1.8-4.2 -1.1-1.9 -5.1-.3 -.6,.2zM86.2,148.5l-2.8,1.4 -2.2-3.9 .3-.4 3.8,.4zM16.9,0l2.5,0 1.7,1.4 1.2,3.1 -5.9,.9 -1.1-2z"/><path id="a71" d="M76.7,86.7l-6.9,5.3 .8-3.9 3.9-3.8z"/><path id="a72" d="M66.9,87.9l3.7,.2 3.9-3.8 -.9-1 -6.3,2.7 -.5,1.8zM70.5,79.8l-2.4,1 -1.5,1.4 -1.4,2.4 2.1,1.2 4.6-4.4z"/><path id="a73" d="M69.4,93l-5.7,3.1 -.4-1.1 3.6-7.1 3.7,.2 -.8,3.9zM116.8,40.8l.2,.2 -4,6.1 -4.4-5.1z"/><path id="a74" d="M75.2,104.5l.4,2.4 -3.1,.1 .4-.8zM69.2,107.2l-.1-.1 2.4-.4 -.4,.4zM108.3,172.6l.1-.2 -5.5,.2 -1.5,1.4 0,0zM74,106.9l-1.2,.1 0,1.5 1.7,4.4 3-1.3 .8-2.9zM74,106.9l4.3,1.8 .2-.4 -.9-1.3 -.4-.2z"/><path id="a75" d="M69.1,78.4l-1.1,2.1 -.6-.8 .9-2.3zM58.8,202.5l2.3,.2 1.5-1.4 -2.6-3.5 -.6,.7zM63.6,71.2l-1,4.4 -5-.8 -.1-.1 2.1-2.3zM61.3,79.4l4.8-.9 -3.5-2.9 -5-.8 0,.9z"/><path id="a76" d="M65.2,84.6l-3.6,2.3 -1.5-3 .8-.9 .4-.3 3.4-.5 1.9,0zM0,85.9l0-4.1 3-1.8 .7,2.5 -3.4,3.4z"/><path id="a77" d="M85.8,96.8l-3.6,.8 -5.4,4.8 -.2,.6 6.2,1.9 1.6-1.5 2.5-5.4zM86.1,43.5l-3.8,1.2 3.3,4.8 3.1-2.1 -1-3.2zM169.3,35.3l-2.7,8.7 -5.9-3.2 1.9-2.2zM172.3,27l1.4-.8 0,3.8 -1.7,1 -.4-1.1zM90.9,107.3l3.9-.9 .6-.7 -1.3-3.1 -1-.6 -4.3,4.1zM87,110.3l-2.7-3.7 3.6-.2zM87.2,110.5l-.2-.2 .9-3.9 .9-.3 2.1,1.2zM87,98.1l-.3,.8 2.8-.3 -1.5-1.7zM11,118.1l0,3.5 -.4-.3 -1.9-3.9zM15.6,119.5l-.4,3.5 -2.3,1.9 -.6-1.5 .3-4.8zM104.8,206.5l2.2-1.4 -2.8-1.2 -.6,.8zM104.1,203.9l-5.4-2.4 .2-.9 1.5-.2 4.6,1.7zM11.3,49.7l6.7-5.2 .4,.1 1.3,1.1 -1.1,3.7 -6.8,4z"/><path id="a78" d="M76.6,103l6.2,1.9 -.9,1.7 -6.3,.3 -.4-2.4zM158.3,160.9l.9,2.4 .1,1.1 -5.4,5.5 -1.6-.1 .8-6.5 4.6-3.3zM152.4,169.1l-1.8-1.2 1-3.4 1.6-1.4z"/><path id="a79" d="M65.4,100.6l-.2,.1 -1.5-4.6 5.7-3.1 1.3,.5zM80.6,158.3l0,1.9 -4.9,1zM106.5,26.9l1.7,.4 1.8-2.4z"/><path id="a80" d="M64.7,82.2l-3.4,.5 3.8-3.3 .3,.1zM68.3,77.4l-.4-.4 -2.8,2.4 .3,.1 2,.2zM57.8,83l2,1 6.4-5.4 -.1-.1 -4.8,.9zM57.8,83l2,1 -.1,.1 -6.1-.3 .3-.2 2-1zM57.8,83l3.5-3.6 -3.7-3.7 -1.7,6.9zM105.2,75.6l-2.1,1.2 3.9,7.8 5.7-3.3zM97.9,76.3l-.1-.5 -7.9-3.3 -2.3-.8 -1.5,1.4 -.1,.7 7.2,3.4zM107.7,220.4l1.4,.8 -.5,1.5 -1.6-.3zM124,13.1l.5,1.2 .6-1.6 .9-8.4z"/><path id="a81" d="M70.5,79.8l-1.4-1.4 -1.1,2.1 .1,.3z"/><path id="a82" d="M73.6,96.3l0,0 3.1,6 -7.9,.5 2.4-3.9zM153.6,58.9l1.2,0 2.1,1.1 1.3,1.7 0,0 -1,.6 -3.5-3zM.7,101.4l-.3,.7 2,.5 -.2-.3zM105.8,144.1l.9,2.7 3.6,2.5 .7,.1 1.4-.9 -1.5-6.3 -1.2-.1 -3.8,1.6zM156.8,61.9l2.4,2.1 .4,1.1 -3.3-.9 -.4-.5zM149.4,67.7l.5-5.3 2.7-.3 3.3,1.6 .4,.5 -1.1,4 -2.2,.9zM78.9,132.4l-3.2-1.2 -1.8,.2 -.3,.7 1.3,2.7 .4,.1 3.9-2zM133.3,159.4l1.7,1.9 6.3-6.2 .2-.6 -2.9-.9zM36.2,1.1l3.3,4 -.5,2.2 -2.9-.1zM33.5,12.2l1.3,.8 1.2-1.2 .2-7.7 -.8-.5 -3.9,5z"/><path id="a83" d="M72.9,106.2l-.4,.8 -1.4,.1 .4-.4zM158.3,160.9l6.9-2.7 -.1-.8 -6.5-1.9 -1.1,2 .2,2.5zM156.5,175.5l.2,.9 1.8,2.1 6-3.3 .2-1.6 -.1-.1 -7.5,.1zM159.2,163.3l.1,1.1 1.7,1.1 2.7,.7 2.5-1.4 .3-4.9 -.1-.1zM56.5,120.2l-1-.8 -2.5,2.4 1,2 5,5.5 1.2-2.6 -2.7-5.3zM64.9,25.3l1-1.4 .2-2.5 -2.4-2.1 -4,.1 -3.6,1.2 -1,2zM72.8,108.5l-1-1.4 -2.6,.1 -1.3,2.8 1.4,2.1 1.4,1.3 1.7,1.4 2.1-1.9zM62.9,18.4l-.6-.5 -.7,.9z"/><path id="a84" d="M71.2,98.9l-2.4,3.9 -2.2,2.1 -1.4-4.2 .2-.1zM95.8,35.9l-1.3-.9 -.9-1.9 -.4-2.3 1.1-.6 3,1.5 0,3.2zM14.8,196l-1.4,3 -1.4,1 -1.3-.5 -.2-6.4 4.3,.4zM19.4,196.2l-2.3,2.8 -2.3-3 0-2.5 2.2-5.3 2.5,6.9zM42.5,205.6l-.9,.3 -.8,3.5 1.7,3.9 1,.2 .7-.1 3.2-2.8zM63.9,96.7l-1.1,.2 .5-1.6 .1,0z"/><path id="a85" d="M63.3,95l3.6-7.1 -.1-.1 -4.9,3z"/><path id="a86" d="M100.9,43.8l.6,.4 -1.7-5.2 -1.7-1zM26.4,184.2l.2-1.5 5.4,1.2 0,.2 -3.4,4 -.8,.1 -1.3-2zM172,31l1.7-1 0,4.8 -2.4-1.2zM173.7,44.6l0-5.5 -5.2,5.3 .9,.5zM37.9,60.6l-1.2-1.8 -.1-1.5 1.7,0 1.3,1.6 -1.5,1.9zM88,96.9l3.7-4.6 1.8,.9 -1.5,5.4 -.6,.4 -1.9-.4zM93.2,98.7l-1.2-.1 1.5-5.4 5.3-3.1 2.6-.3 -1.5,5.3zM22.6,133.9l1.5,2.4 1.9-4.4 -.5-.8 -.2-.1 -.4-.1 -3.4,0zM139.9,38.2l-.4,.9 -1.6,.9 -1.3-1.7zM41.5,61.8l2.1-.1 1.8,6.9 -3.5-.9zM39.8,28.1l-3-1.4 -.3,.4 -.4,6.5 2.6,.9 1.9-1.9zM118.3,15.7l-4.2,6.7 .2,.1 8.6-4.8 .6-2.7 -2.8,0 -2.2,.5zM72.1,230.8l1.7,.6 4.4,1 3.3,0 .1-4.5 -3.4-2 -4.4,0zM169.7,114.3l-.6,.4 -1.3-.9 -.8-2.8 3-4.7 .9,1.5zM173.7,108.6l-.1-.1 -2.7-.7 -1.2,6.5 3.5-.1zM166.3,121.6l3.5-3.2 -.7-3.7 -1.3-.9 -3.7,3.7 -.1,1.3zM124.3,193.1l-2.5,1.1 -2.6-3.7 1.8-.8 3.5,1.5 .7,.5 0,.6zM89.8,94.7l-1.2,.3 .5,.5zM37.3,52l-1.2,1.8 2.2,3 6.4,2.7 .3-2.4 -.8-2.3 -6.8-2.8zM41.5,61.3l-3.1-3.8 -.1-.7 6.4,2.7 .4,1.7 -.4,.2zM145.2,33.9l-2.3,1 -2-2.3 2.4-7.8 .3,.2 2.1,3 .9,3.2zM124.4,14.6l-1.1,1.5 .7-3 .5,1.2 -.1,.3zM122.9,17.7l2.9,7.8 -1.4-10.9 -1.1,1.5zM165.6,222.6l-.1-4.1 5.9-.5 .3,.4 2,4.6 0,1.4 -.9,1.6 -6-1.3zM173.7,214.4l-1.1-.4 -1.4,1.3 .2,2.7 .3,.4 2,.4zM173.7,227.4l0-3 -.9,1.6zM96.9,130l-1.5-4 -1.6,.1 -4,3.1 .9,2.3 1.5,.8 4.5-.1zM88.5,130.2l-.8-.5 .2-1.3 1.3,.4 .3,.3 -.3,.4zM25.9,43.2l4.9,1.7 -5.5,1.9 -.5-.6z"/><path id="a87" d="M79.1,42.5l-6.3-2.7 -1.3,1.9 .1,.4 4.9,4.5 3.4-.6 .5-1.6zM124.7,75.4l1.2-4.8 -1.8-.9 -.6,4.5zM111.2,70.8l3-2 4.9,5.2 -1.9,1zM123.9,69.5l3.5-4.2 .9-.4 .1,.2 -.5,3.9 -2,1.6 -2-1 0,0zM90.4,146.2l-1.7,2.6 -2.7-.9 -1.1-2.9 3.8-4 .1,0zM56.5,111.4l-3.5-5.8 -6.2,0 -.4,.3 .4,2.1 2.3,3.7 2,1.2zM71.4,19.2l4.6-1.2 -2.6,3.3zM77,13.7l-.6,2 -2.3-1zM71.4,19.2l-1.6-.4 -.2-2.6 4.5-1.5 2.3,1 .9,.9 .1,.9 -1.4,.5zM52.9,35.8l-1.3-3.3 3.7-1.3 9.4,1.6 .3,.7 -.8,1.6 -1.1,.3zM79.6,15.1l-2.3,1.5 -.9-.9 .6-2 2-.6zM74.1,37.6l-2,3.2 -.1,.1 0-.1 2-3.2 .1,0zM46.8,105.6l.8,0 1.9-2.9 -2.6,.7zM109.3,122.8l3.5,1.2 -1.3,1.2z"/><path id="a88" d="M91.3,42.3l-.9,0 -2.7,1.9 1,3.2 2.6,1.9 3-2.7zM77.6,51.1l-.2-.1 -.9-4.4 3.4-.6 4.8,4.9 .1,2.1zM94.3,46.6l-3,2.7 .8,.9 5.2-1.4zM14.2,28.3l.9-2.3 -2.1-1.3 -4.6,5.1 1.3,2.2 0-.1zM3.2,28.1l.9,7.6 6.1,2.1 -.5-5.8 -1.3-2.2 -3.6-3zM113.9,183.6l-2.6-3.3 2.1-.9 3.1,1.6 -.6,1.6zM113.4,179.4l.3-1.5 -.3-.5 -.2-.1 -11.4-2.1 1.1,3.9 4.1,2 4.3-.8zM113.2,177.3l-11.4-2.1 -.2-.3 -.2-.9 6.9-1.4 4,1.4zM113.9,183.6l-.5,1.9 -.1,.1 -4.6,1.2 -.7-.5 -1-5.2 4.3-.8zM2,232.4l-2,0 0-.7 1.4-1.3 .4,.7z"/><path id="a89" d="M92.7,41.8l-1.4,.5 -.9,0 -4.5-5.6 -.2-.8 4.9,.5 2.4,5.1zM143.9,192.6l-.5-1.9 -3.1,.4 -1.7,1.4 .5,.7zM162.9,150.4l.5,.9 7-4.8 -.4-.4 -6.2,3zM126.8,57.2l0,.2 1.3,4.2 2.3-.1zM131.7,62.9l-.2,1 -.7-2zM115.7,159l1.3-1.4 1.3,.1 .2,1.1 -3,.6zM167.7,142.8l-.4,.6 3.1,3.1 2.4,.3 .7-1.7 -3-3.1zM167.7,142.8l-.4,.6 -3.2-3.2 .2-1.7zM55.6,216.4l-1.7-3.4 -4.9,3.8 .1,.3zM133.8,68.5l-1.3-6.2 1.5-1 2.7,.6 1.8,3.2z"/><path id="a90" d="M83,31.7l0-.7 -.5-1.8 -1.6-1 -.7-.1 -4.4,6.9 1.3,.3zM23.3,206.7l2.4,0 .1-.1 .6-4.7 -.8-2.3 -2.3,.3 0,0z"/><path id="a91" d="M86.1,43.5l-3.8,1.2 -1.9-.3 -1.3-1.9 2.3-3.2 .3,.1zM86.2,55.5l-.2-1 7.8-.6 1.9,1.2 .4,7.5 -2.7,.8 -4.9-3.6 -2.2-4zM147.2,82.6l.4-.1 .5-2.1 -.1,0 -1,2zM40.1,176.7l3.7,1.5 -.4,1.3 -3.7-2.5zM34.4,181.6l4,4.4 1.2-.9 -2.7-4.2 -.8-.8zM87.7,159l1.5-4.7 -1.1-.5 -3,1.8 .5,2.7zM95.9,158.1l2.3,4.7 7.5-.5 .9-.5 -3-5 -1.7-.1zM87.4,151.9l.6-.8 2.1-.4 2.7,.7 0,.9 -.5,2.5 -.3,.5 -3.9-1.5zM54.3,202.7l-3,4 -.2,3.2 2.8,2.3 5.2-.9 .6-.5 .7-5.5 -1.6-1.8 -1.4-.7zM139.7,212.3l2.2,4.1 1.9-1.6 -.6-1.3zM80.2,83.9l-2.5-1.4 -4.1-3.3 4.5-1.4 6.1,4.7zM9.6,61.9l-3.2,.4 -.5,.8 .6,2.3 3.4,2.2 2.9-2.3zM129.5,19.3l2.6,2.7 1.7-5 .1-1.7 0,0 -3.3-1.7 -1.4,3.5zM155.2,0l-.3,4.8 -.4,.6 -.3,.1 -2.6-1.6 -.9-3.9zM124.4,14.6l.1-.3 .6-1.6 4.7-2.8 .8,3.7 -1.4,3.5 -3.3-.9zM167.4,232.4l6.3,0 0-5 -.9-1.4 -6-1.3 -.1,7.4zM0,52.3l4.4,4 -.4,1.2 -2.1,3.3 -.2,0 -1.7-.6z"/><path id="a92" d="M79.8,58.9l6.5-3.1 -.1-.3 -8.2,1.1 -.5,1.4 0,0zM77.5,58l-3.8-2 -1.1-4.8 2.9-.5 1.9,.3 .2,.1 .4,5.5zM95.5,64.5l.7-.7 3.6-1.8 2.5,2.3 -6.8,.3z"/><path id="a93" d="M98.6,35.1l-1-3.2 -.3-.2 0,3.2zM82.5,29.2l-1.6-1 -.3-.7 1.9-3.1 2,1 -1.7,3.6zM44.2,192l3.6,3.2 -5.5,.2 -.5-1zM56.4,61.9l-7.5-.3 -1.2,8.5 5.1,.3 3.5-5.5 .2-1zM52.3,54.4l4.2,.7 .7,1.1 -1.2,2.3 -1.7,.3 -2.3-1.4 -1.1-2.1 -.1-.5 0,0zM99.8,30.6l-1.8,2.5 -.4-1.2zM49.7,175.4l-8.5,.3 .3,.4 8.1,1.4 .4-1.7zM50,175.8l5.2,3.5 -4.5,1 -1.1-2.8zM49.7,175.4l3.6-3.6 4.2,3.1 -1.9,4.3 -.4,.1 -5.2-3.5z"/><path id="a94" d="M99.4,37.8l-1.6-.2 -1.8-1.2 -.2-.5 1.5-1 1.3,.2zM96,36.4l-1.2,4.7 -1.8,.4 -2.4-5.1 .8-1.4 3.1,0 1.3,.9zM48.3,195.6l-4,3.7 -1.7-2.4 -.3-1.5 5.5-.2zM42.6,196.9l1.7,2.4 -.5,3.1 -2.6-.1 -6.5-3.4 .9-1.5zM60.4,68.7l-4.1-3.8 -3.5,5.5 1.1,1.9 3.6,2.4 2.1-2.3zM97.6,31.9l-1.2-.6 -1.5-4.6 4.5-1.1 3.8,3.1zM158.3,120.8l3.7-2.6 .3,3.6 -1.9,.8zM79.3,29.4l.7-2.2 .7,0zM82.5,24.4l-.7-2.3 -.6,.3 -1.3,4.7 .1,.1 .7,0zM98.3,34.2l1.6,4.9 2.3-.5 1.5-1.4 0-.2 -2.3-2.6zM173.7,218.8l-2-.4 2,4.6z"/><path id="a95" d="M71.5,46.8l4,3.9 -2.9,.5zM28,216.1l1.2-1.5 1-2.9 .3-3.5 -4.7-1.6 -.1,.1 .4,5.1 0,0zM72.6,51.5l0,0 -.8-1.1 0-2.6zM74.9,61.5l0-.1 -2.3-9.9 0,0 -1.1,1.8 1.5,7.5z"/><path id="a96" d="M102.6,48l1.6,5.1 -.8,1.8 -1.1-.1 -1.8-6zM112.9,50.3l1.3-1.3 -1.3-1.7 -3.6,1.3 -3.5,3.5 .1,.5z"/><path id="a97" d="M100.2,48.8l-1.7,.4 -1.2-.4 -3-2.2 -3-4.3 1.4-.5z"/><path id="a98" d="M102.2,57.2l-1.1-.1 -.8-1 2-1.3 1.1,.1z"/><path id="a99" d="M100.2,48.8l-1.7,.4 -1.2,5.8 3,1.1 2-1.3 -1.8-6zM141.4,174.4l.5-.6 1.8-.3 3.6,2.3 -1.7,3.2 -2.1,1.5 -3.5-1.5zM107.4,52.1l-3.2,1 -.4,.9 3.7,1.1z"/><path id="a100" d="M101.8,58.1l-.7-1 1.1,.1zM138.4,211.9l-1.4-4.6 -.1,0 -1.4,6.8 .1,.3z"/><path id="a101" d="M81.7,62.7l1.8-1.6 .9,.3 .3,1.8zM117.1,139l4.2-5 .4-.1 5.9,5.5 -3.4,1zM117.1,139l4.2-5 -3.4-4.3 -2.6,1.3 -2.6,6.4 4,1.9z"/><path id="a102" d="M99.4,37.8l.4,1.2 -1.7-1 -.3-.4zM30.4,151.1l2.7,.5 -1.1-1.4zM32.8,149.2l.5-.3 1.1,1.4 -.8,1.5 -.5-.2 -1.1-1.4zM44.2,191.1l-8.2-2.4 -.3,.2 1.3,5 4.8,.5 2.4-2.4zM17.4,114.8l1.7,.1 .3-1.9 -2.8,.6zM22.1,118.2l.1,.9 -3.3-1.3 -1-1.7 -.5-1.3 1.7,.1 2.6,2.1zM17.4,114.8l.5,1.3 -3,0 -1.4-4.7 1.2,.2 .4,.1 1.5,1.9zM96.7,79.8l2.3,3.7 -1.4,1.7 -8.6-3.2 -.8-1.6 5.2-2.6z"/><path id="a103" d="M84.7,63.2l-.3-1.8 4.1-1.6 4.9,3.6 0,.3 -1.9,.8zM91.5,64.5l2.3,.4 -.4-1.2zM30.4,168.5l.8,4.6 -2.8-2.8 1-2zM27.8,164.7l-2.3,.4 -2-7.9 4.2-.7 1.1,3.9 0,2.7zM145.5,184.9l-2.4,1.8 -3.6-1.6 0,0 2.5-2.2zM137.4,51.8l.8,6.4 1.7,.1 -1.4-6.4zM85.1,10.6l3.2-2.2 3.1,.4 .1,.1 -1.5,4.2 -2.9,1zM99.6,206.7l-6.8-1.2 -1,.6 1.2,3.1 3.7,2.3 3-3.7zM85.2,212.1l-.1-.1 -2.4-.5 -.5,3.4 .7,1.8 1.4-2.6zM100.4,214.2l7.2,1 1.3,1.4 -2.1,6.7 -9.9-3.1 .6-4.6 .4-.7zM7.9,201.9l-4.1,.6 .3,1.4 1.9,1.2 1.9-3z"/><path id="a104" d="M98.5,49.2l-1.2,5.8 -1.6,.1 -1.9-1.2 -1.7-3.7 5.2-1.4zM3.4,65l.1-1.1 .5-2.2 1.7,.7 .9,3.1 -3.2-.4zM3.4,65l-3.4-1.1 0-2.3 3.5,2.3zM39.7,177l-3.6,3.1 .8,.8 7.3-.5 -.8-.9zM89.2,154.3l-1.5,4.7 .9,1 2.8,1.2 .1,0 2.3-5.3zM127.5,194.2l-3.9,5.3 1.1,2.5 1.9,2 .5,0 2.1-7.7 -.6-2zM89.9,114.2l-1.5-1.9 .2,2.3 1.1,1zM166.5,232.4l-2.1,0 -.2-.1 -.2-10.3 1.6,.6 1.2,2.1 -.1,7.4zM10.7,61.8l-3.3,.4 -.2-2 3-1.3 .5,2.2zM128.6,174.8l-1.2,3.7 -3.9-3.8 .3-.3 4.4,.1z"/><path id="a105" d="M79.8,58.9l6.5-3.1 2.2,4 -4.1,1.6 -.9-.3zM158.3,160.9l.9,2.4 7.2-3.5 -1.2-1.6zM58.1,202.9l-7.8-.3 2.4-4.5 1.8,.9zM90.4,17.8l1-3 -1.4-1.7 -2.9,1 -.8,.6 .7,2.2zM102.3,0l-.1,.4 .8,1.3 1,.7 2.5,.3 .3-2.7zM171.4,182.8l2.3,3.3 0,4.1 -1.2,.5 -3-4.9zM11.1,105.2l-1.1-.3 -.9,3.8 4.4,2.7 1.2,.2zM162.5,139.2l.9-.8 0-.3 -3.5,.3zM163.5,139.6l-.1-1.2 -.9,.8zM27.9,216.6l-.8,2.9 -3.1-3.8 2.1-3.9 1.9,4.3zM128.6,128.8l-5.7-2.8 1-5.3 1.4,.3 3.2,7.1zM167.7,22.8l-1.5-6.3 -3.3-.3 .1,1.5 2.5,5.7zM173.7,18l-.1,0 -5.6-4.8 -.7-6.1 6.2,1.4 .2,.8zM127.7,30.5l-3.1,4 -6.3-1.1 .6-.5 8.3-3.8zM160.3,64.9l-.7,.9 .1,5.3 1.4,2 4.9,.5 .5-2.1 -5.2-6.6zM64.3,13l-3-8.4 8.8,4.9 -4.1,3.3zM108.3,141.1l3-.4 2.4-5.8 -.7-.2 -3.9,4z"/><path id="a106" d="M76.5,46.6l.9,4.4 -1.9-.3 -4-3.9 -.8-3.7 .2-.4 .7-.6zM43.5,110l5.6,1.7 0,0 -2.3-3.7 -2.4-.8zM102.1,191l-2.4,3.8 2,2 4.3-1.2 2.7-4.7zM71.4,19.2l-1.6-.4 -.6,.6 4.3,5 1.3,.4 -1.4-3.5zM69.2,19.4l-3.1,2 -.2,2.5 7.6,.5zM81.8,22.1l-.6,.3 -3.8-4.9 -.1-.9 2.3-1.5zM53,101.4l-3.5,1.3 -1.9,2.9 8,0 -2.2-4.2z"/><path id="a107" d="M81.4,39.3l-2.3,3.2 -6.3-2.7 3-4.8 1.3,.3zM123.5,74.2l.6-4.5 -6.6-3.4 -2.8,1.6 -.5,.9 4.9,5.2zM79,13.1l.2-2 3.7,.1 2.7,3.5 -5.8,1.1zM49.1,111.7l-5.6-1.7 -.7,2.3 5.5,.4z"/><path id="a108" d="M97.3,55l-1.6,.1 .4,7.5 1,.3 4.7-4.8 0,0 -.7-1 -.8-1z"/><path id="a109" d="M85.6,49.5l-.9,1.4 -4.8-4.9 .5-1.6 1.9,.3zM137.3,3.3l-2.4-.1 -.8,1.2 .4,7.4 .5-.2 2.8-3.6 .2-.5z"/><path id="a110" d="M17.1,199l-.1,1.7 -2.5,.4 -1.1-2.1 1.4-3zM19.4,196.2l1.5,4 -3.9,.5 .1-1.7z"/><path id="a111" d="M14.5,201.1l-2.4,.3 -.1-1.4 1.4-1zM0,203l1.8-.2 1-1.5 -.5-5.9 -2.3-.1zM3.1,193.2l-.8,2.2 -2.3-.1 0-3.8 .6-.5 1.4-.7zM151.1,212.3l2.6-2.3 -1.4-.7 -1.4,2.2zM21.7,108.3l1.3,4 -2.7-.8 -.4-.4 -3.5-4.2 .1-.1zM16,106.6l-4.9-1.4 3.6,6.4 .4,.1 1.2-4.8zM16.6,113.6l-1.5-1.9 1.2-4.8 .1,0 3.5,4.2 -.5,1.9zM160.8,124.4l1.7,0 .1,2.7 -2.2,2.5 -5.3,.8 0,0zM57.7,39.9l3.3,.8 3.3-5.1 -.1-.5 -1.1,.3zM13.2,201.2l-5.3,.7 0,.2 6,1.5zM159.3,204.9l-4,3.6 .4,.5 5.7-3.8zM139.6,127l4.3,.2 .3-1.3 -4-6.1 -1.1,5.8z"/><path id="a112" d="M3.2,201.2l3.2-2.9 .4-6.2 -3.7,1.1 -.8,2.2 .5,5.9zM142.8,132.4l-1.5,.9 -2-3.9 .3-2.4 4.3,.2z"/><path id="a113" d="M28.7,199.2l.8-1.4 .4,.2 -.2,1zM30.7,193.1l-1,5.9 .7,1.4 .8,.3 3.5-1.8z"/><path id="a114" d="M5.3,178.2l-.7,.2 .9,7.4 1.2,1.1 1.3-3.7 -.8-2.8 -1-2zM144.1,115.1l-5.7-2.8 0-.2 .3-2.6 2-2.3 4.5,3.8 -.2,2.7 -.6,1.2 -.3,.2zM145.8,129.4l1-4.8 0-.1 7.4-5.5 1.3-.4 2.3,2.3 -3.2,5zM146.3,116.2l-.7-.3 .3,2.2 0,0zM145.9,118.1l0,0 -.4,1.9 -.2-.9zM143,117.8l-2.9-4.7 -3.7-1.8 1.4,4.8 2.3,1.8zM140.1,113.1l2.9,4.7 2.3,1.3 .6-1 -.3-2.2z"/><path id="a115" d="M5.5,185.8l-3.2,.5 -.3,4 1.1,2.9 3.7-1.1 .4-.8 -.3-3.9 -.2-.5zM4.9,23.7l.5-1 6.7,.2 .9,1.8 -4.6,5.1 -3.6-3z"/><path id="a116" d="M19.4,196.2l1.5,4 2.9-.4 .6-2.2 -1.5-4.5 -3.4,2zM82.6,164.9l-1.4-.1 -1.7,1 .6,2.4 4.8,1.5 .2-2.3 -1.2-1.7zM170.9,107.8l-.9-1.5 -.7-2.6 2.7-.5 1.1,.7 .5,4.6zM29.5,199.8l-.3-.7 -3.6,.5 .8,2.3 1.4-.8zM63.1,120.5l.9-.5 -.5-.4zM133.3,124.7l2.1,3.3 -3.1,1.3 -2-3.4 -1-2.2zM113.7,106.7l2-1.3 1.5,.7 0,.1 -3.1,.7zM45,221.9l-.2-.3 -7,1.8 .7,3.3 3.6,3.8 3.8-4.4 .1-.2zM67.7,151.7l.1,.6 5.7,3.9 4.2-.2 .3-.5 -8.9-4.4z"/><path id="a117" d="M16.1,180.5l-.3,2.8 1.4,1.8 .5-.3 1-1.3 1.1-2.2z"/><path id="a118" d="M17,188.2l.2-3.1 -1.4-1.8 -1.6-.4 -.7,1 -3.5,8.2 .5,1 4.3,.4zM8.6,201.9l0-.4 -2.2-3.2 -3.2,2.9 .6,.9 .4,.3zM127.4,65.3l.9-.4 -.2-3.3 -1.3-4.2 -2.2,3.3z"/><path id="a119" d="M0,179.8l1.6,5.6 -1.6,.8zM49.6,163.6l-.7,1.2 4.2,4.8 3.5-4.3 -3.1-2.4z"/><path id="a120" d="M12.1,201.4l-.1-1.4 -1.3-.5 -2.1,2 0,.4zM163.4,26.4l3.5,5 1.1-1.3 1.2-3.2 -1.7-2.3 -2.1,.2zM60.3,98.7l4.7,1.3 -1.1-3.3 -1.1,.2z"/><path id="a121" d="M26.5,186.2l1.3,2 -.1,7.4 -3.3,2 -1.5-4.5 .4-3.1zM29.7,160.6l-.9-.2 -1.1-3.9 1.8-3.1 1.1,1.1 1.8,5.2 -.1,.1zM35.5,155.3l-4.9-.8 -1.1-1.1 -.2-2.5 4.3,.9 2,3.4 0,.1zM17.4,84.7l-3.8-4.1 -2-.2 3.8,6.4zM73.8,225.9l4.4,0 1.3-1.9 -1.5-2 -2.3-1.2 -8,1.8zM44.8,157.9l.2,.9 0,5 -3.5-.4 -1.9-5.1 1.5-.8 2.8-.2zM89.5,64.1l2.6,.8 .2-.3zM97.1,73.6l-7.2-1.1 -2.3-.8 .2-1.8 4.5-.6zM88.2,126.3l.8-5.5 -2.4-2.8 -.6,0 -4.1,3.8 2.3,3.3z"/><path id="a122" d="M31.1,190.1l-1.2,7.9 -.4-.2 -1.8-2.2 .1-7.4 .8-.1zM44.4,107.2l2-1.3 .4,2.1 -2.4-.8zM70.7,43.1l.6,2.7 -4.2-2 .7-1.4zM136.4,170.6l-.5-1.7 1.2,.3zM132.2,168.1l-2.3,0 1.5-1.5 3.3-1.3 .8,2.5 -.2,.1z"/><path id="a123" d="M32.1,184.2l-.1-.1 -3.4,4 2.5,2zM35.7,188.9l-.7-.2 -3.4-1.7 .5-3.1 .5-.8 1.8-1.5 4,4.4 -2.4,2.7z"/><path id="a124" d="M3.2,201.2l-.4,.1 -1,1.5 2.2-.3 -.2-.4z"/><path id="a125" d="M7.2,191.3l-.4,.8 -.4,6.2 2.2,3.2 2.1-2 -.2-6.4 -.5-1zM85.5,186.9l.5,1 -3.4,.4 -3.3-1.3 5.6-.5zM31.4,69.3l4.9,.2 -.1,.3 -4.6,4.7 -1.5-4.5zM96,17.5l-.6,.5 5.3,5.3 3.2-3.5 -2-3.1 -.5-.2zM98.1,135.9l-.8,.8 -.9-.3 .4-1.3zM15.5,166.3l1.7-1.7 1.9,2.3 -4.4,4.4zM80.2,83.9l0,.9 -3.7,.9 -1.3-.6 -2.5-2.8 5,.2zM93.4,77.8l-5.2,2.6 -5.8-4.5 3.6-2.1 7.2,3.4zM88.2,80.4l-5.8-4.5 -1.7-.1 -1,.2 -1.6,1.8 6.1,4.7 4.8-.5zM80.3,90.7l5.1-2.7 -5.2-3.2 -3.7,.9 -.5,.3zM135.1,49.5l2,.5 -.9-7.1 -2.2-.2zM171.2,215.3l-6.2-4.9 -1.2,.5 0,3.8 1.7,3.8 5.9-.5zM96.7,135l0-2.8 -4.5,.1zM98.7,136.2l.3-4.8 -2.1-1.4 -.2,2.2 0,2.8zM84.3,143.2l-2.8-.6 -1-1.1 .8-.8 1.8-.8z"/><path id="a126" d="M26.4,184.2l-7.7-.7 -1,1.3 5.6,5.2 3.2-3.8zM173.7,161.3l-.6,.1 -.7-2.1 1.3-3.1zM152.1,171.7l.2-1.9 1.6,.1 3,3.2 .2,.5 -.6,1.9 -1.2,.5zM171,166.5l-.5,6.6 -3.5-.9 3.1-6.1 .1,0zM136.9,193.5l3.4-.5 -3.6,1.6zM19.2,148.7l-2.5,2.8 4.9,4.2 0,0 -.3-5.3 -.8-1.4zM171.6,29.9l.4,1.1 -.7,2.6 -.5,.1 -4.3-1.3 .4-1 1.1-1.3zM139.5,185.1l.8,6 -1.7,1.4 -2.6,1.1 -1.8,.3 0-6.4 .9-1.8 4.4-.6zM104.1,87.4l.9-2.6 -3.3-1.3 -3,1.5 .1,5.1 2.6-.3zM99.7,82.7l-1.9,2.3 .9,0 3-1.5zM38.6,143l-2.3-.9 -.1-.8 .1-.4 4.2-1.3zM128.6,77.3l-1.2-7.4 -.3-.3 -1.2,1 -1.5,6.1 3.7,3.8zM133.3,73.7l.5-1.6 -4.4-2 -2-.2 1.2,7.4zM127.4,69.9l-.3-.3 3.7-3.1 .8,.6 -2.2,3zM57.2,193.6l3.8,1.8 -1,2.4 -.6,.7 -4.9,.5 -1.8-.9 -.7-2.7 1.6-2.2zM114.7,2.1l1.9,1.2 -.9,.8 -3.9,1.4 -2.5-1 -.8-.6 2.6-2.5zM114.1,0l7.3,0 -.5,1.4 -4.3,1.9 -1.9-1.2zM98,173.7l.7-.9 .1-.3 -4-4.2 -1.2,0 -1,.8 -.1,2.9zM81.5,232.4l.1-4.5 5-1 1.5,4.1 -1.8,1.4zM152.2,144.5l-.1-.1 -5.6-2.4 -2.9,3.9 3,2.3zM150.5,153.4l-2.8,.2 -1.8-2.4 .7-3 5.6-3.7 .2,0zM24.7,182.3l-1.5-2.4 -.6-.1 -1.4,1.8zM26.7,176l-3.1,3.7 -.4,.2 -.6-.1 -.8-1.5 2.9-4.7zM151.7,104l-1.6,3.7 -3.5,1.5 1.8-5.8 2.6-.2zM150.7,110.3l-5.7,3.4 -.6,1.2 2.5,1 8.6-4.9 -.3-.5zM95,231.4l-.8-10.1 -3,3.7 2.2,6.2 1.1,.3zM94.3,221.1l-.1,.2 .8,10.1 3.7-.2 -2.1-10.8zM95,231.4l3.7-.2 1.5,.5 -.5,.7 -5.5,0 .3-.9zM94.5,231.5l-.3,.9 -5.5,0 .8-1.1 3.9-.1zM37.4,127.3l.9-5.2 2.9-1.6 2.4,4.2 -4.5,3.9 -1.4,.2zM89.1,95.5l-.2,.3 -4.3-.3 -1.9-2.1 .9-.1 5,1.7zM20.7,60.6l-4.3,.5 1,.7zM17.4,61.8l-1-.7 -3.2,.4 -.4,3.8 1.1,.1 4.9-2zM13.2,61.5l-.4,3.8 0,0 -3.2-3.4zM133.4,37.6l.3-.1 1.9,.8 .6,4.6 -2.2-.2 -.2-.1zM126.9,144.3l3.1-3.1 .9,.3 1.3,1.8zM84.2,106.4l-6.7,.4 .1,.2 .9,1.3 7.9,1.1zM135.6,38.3l-1-2 -.6,1.3zM109.1,138.7l3.9-4 -2.4-4.6 -1.4-.2 -4,3.9zM125,165l4.8-5.2 -4.7,0 -7.5,3 .1,1 4.5,2.2z"/><path id="a127" d="M19.5,195.1l3.4-2 .4-3.1 -5.6-5.2 -.5,.3 -.2,3.1z"/><path id="a128" d="M67.4,197.1l.5,.4 2.1-1.3 -2.7-1.2zM62.1,226.1l4.7,4.3 -3.7,1.9 -.5,.1 -1.2,0zM3.4,119l.3-3.2 -3.7-1.1 0,4.7 2.7,.3zM103.8,232.4l2-6.1 3.6,.9 -2.9,5.2zM147.2,166.2l4.4-1.7 -1,3.4 -3.3,3.4 -1.7,.3zM61.4,232.4l-2.5,0 .3-1.2 2.3-.1zM58.9,232.4l.3-1.2 -2.1-1.1 -.8,.7 .2,1.6zM72.2,173.4l-1.2-.9 -.7,1.8 1.6,.9zM70.6,171.7l-1.1,.3 -2.9,1.8 3.7,.5 .7-1.8zM66.6,173.8l3.7,.5 1.6,.9 -.5,4.1 0,.1 -3.3-.6 -2.6-1.7 -.7-1.1 1.3-2z"/><path id="a129" d="M67.2,187.3l0,1.1 1.4-.8 -1.2-.5zM26.4,131.9l.2,4.5 3.6,.1 .2-.3 .5-3 -.4-.6zM64.9,191.3l2.3-1.3 0-2.7 -5.5-2.1 -.1,3.5z"/><path id="a130" d="M91.1,189.7l1.5,2.4 2.8-1.3 -.5-3 -3.8,1.9zM67.4,197.1l-.1-2.1 -2.2,.5 1.3,1.6 .7,.3zM11.4,80.3l-1-1.2 -3.4-1.6 -4,2.5 .7,2.5 3.8,5.2 .4,.5 1.3,.7 3.1-1.2zM6,120.8l2.4,.1 .3,.3 -1.1,4.2zM8.4,120.9l.3,.3 1.9,.1 -1.9-3.9 -.3-.1 -.2,.1z"/><path id="a131" d="M97,200.7l-.1-.5 -5,1.7 -.3,1.3 1.1,.2zM35.9,13.4l-1.8,.5 2.7,1.6zM118.3,15.7l-8.3-.2 .1-1.1 3.5-3.2 4.9,4.3zM103.4,114.4l-.7-.6 -1.1,.8 .5,.5 1.4-.5zM145.3,20.6l2.7,.1 .1-.6 -2.6-.9zM149.4,15.5l3.9,3.7 1.4,3.7 -1.6,4.1 -5.2-4.6 .1-1.7 .1-.6 .6-2.8zM132.1,22.9l0-.6 3.5,.9 .4,1.1 -3,.5zM36.7,15.2l.6,1.3 1.1-.1 .1,0 -.2-.4zM34.7,13.7l.1-.7 1.2-1.2 -.1,1.6z"/><path id="a132" d="M74.3,202.7l1.4,1.1 6.1,1.2 2.4-.3 -4.8-3.7 -1.1-.5zM158.6,155.5l.3-1.1 4.8-3.3 1.5,6 -.1,.3zM33.2,23l-1.3,1.9 -2.7-4.2 2.6-.7zM79.7,207l-.4,.4 -2.5,.1 -.4-.3 -.9-3.6zM102.1,191l-2.1-.8 -4.7,.3 .6,3.3 3.8,1zM31.5,117.4l-.1,1 -1.5,.3 -.5-1.4zM97.2,73.6l-.1,0 -7.2-1.1 7.9,3.3zM127.4,44.6l3.2,6.6 -6,.8 2.1-7.3zM27.3,6.9l4.2,1.7 3.9-5 -.1-.2 -3.3-3.4 -1.5,0 -2.5,1.6 -1.4,3.4zM35.9,0l-.6,3.4 -3.3-3.4z"/><path id="a133" d="M96.9,200.2l-.3-2 -4-2.8 -7.8,1.3 -.4,.2 -.2,.4 7.7,4.6zM95.7,192.7l-3.1-.5 -.3,.2 .3,3 4,2.8zM158.2,61.7l0,0 -.6,1 2.7,2.2 2.9-.2 .4-1.1 -.4-1.1zM170.3,62.1l.3,2 -7.4,.6 .4-1.1 5.1-1.5zM62.6,140.1l1.9-2 1.6,.4 .2,.1 .1,0 .5,4.6 -.4,.1 -3.1-2.2zM160.3,64.9l-1.1-.9 .4,1.1 .4,.2zM168.8,70.5l-2.3,1 -5.2-6.6 3.8-.3 4.3,5.1z"/><path id="a134" d="M84.2,204.7l-2.4,.3 -1,2.9 2.1,1.7 4.6-2.9 -.7-1.7 -1.3-.3zM75.7,203.8l6.1,1.2 -1,2.9zM163.7,151.1l0,0 5.3,1.7 -3.8,4.3zM106.6,161.8l-3-5 5.7-2 -1.5,6.7zM28.1,125.8l1.4-6.5 -4.8,1.9 -.1,1.9 1.7,2zM31.5,117.4l-.1,1 1,.9 2.4-1.8zM29.4,117.3l.5,1.4 -.4,.6 -4.8,1.9 -.3-.7 1.5-3.4zM28.7,127.8l1.3,2.2 2.4-3.9 0-6.8 -1-.9 -1.5,.3 -.4,.6 -1.4,6.5zM123.5,43.2l-1.8,2.2 2.6-1.1zM125.9,40.3l-2.4,2.9 .8,1.1 2.4,.4 .7-.1 .9-.6 -1.4-3.2zM103.7,37.2l-1.5,1.4 -1.5,3.1 1.1,3.6 2.3,.4 2.8-1.8 1.6-1.9 .1-1.3 -4-3.2zM30.5,0l-2.5,1.6 -.7-1.6z"/><path id="a135" d="M92.3,192.4l.3,3 -7.8,1.3 -2.2-4.8 3.1-.6zM140.3,193l-3.6,1.6 -.8,1.7 .6,1.8 9-.7 -3.3-4.6zM133.7,143.1l-5.2,2.9 -1-.3 .3-1.6zM136.6,142.6l.4,0 .9,3 -3,1.1 -6.3-.7 -.1,0 5.2-2.9zM14.5,161.5l1.9-3.4 2.9,.4 .5,3.7 -.8,4.6zM16.7,151.5l-1.9,2 .2,1.9 1.4,2.7 2.9,.4 2.3-2.8zM135.7,179.8l4.3-.8 1.4-4.6 -4.1,2.8 -.9,.9zM105.2,110.3l.1,1.9 5.9-3.9 -.6-.4 -1.5,.3zM24.1,136.3l-2.3,.7 -1.2,4 1.2,.7zM67.5,155.6l.7,.4 -.7-6.8 -1.5-.5 -1.1-.2 .4,1.8 1.7,4.7zM149.6,136.6l-4.2-1.3 -5.7,1.7 -.7,.6 7.3,3.7zM130.8,66.5l.7-2.6 -.7-2 -.4-.4 -2.3,.1 .2,3.3 .1,.2 1.9,1.9zM167.1,179.9l-.4,3.7 2.8,2.2 1.9-3 -.8-2.7 -.6-.2zM18.9,120.6l.7,3.7 -4.4-1.3 .4-3.5zM59.7,210.5l.8,4.2 -1.4,.5zM60.2,105.6l2.1,3.1 -2.9,1.5 -2.4-4.6zM160.4,122.6l1.9-.8 .2,2.6 -1.7,0zM32.4,126.1l0-6.8 2.4-1.8 2.3,.1 .6,1.2 .6,3.3 -.9,5.2zM37.1,117.6l.6,1.2 1-1.1zM84,63.1l0,0 -3.2,.6 -1.7-.4 -2.6-1.6zM66.8,105.5l-.3-1 -.6-.4 -3.9,1.5zM164,223.2l-1.5,.3 -.2-4.6 1.6,0zM143.6,159.8l4.6-2.6 -.6-1.8 -2.9-1.1 -1.5,4.1 0,1.1zM171.1,69.6l2.3,1.5 .3,.1 0-5.8 -1.6-.9 -1.3,2.6zM173.7,77.4l0,2.5 -7.1-5.5 -.6-.8 .5-2.1 2.3-1zM67.7,151.7l-.4-3.8 3.8,.7 -2,2.5zM2.8,.2l-.1-.2 -2.7,0 0,2.6 3.2,.5zM6.2,38.7l1-1.9 -3.3-1.2 2.2,3.1zM128.1,164.6l2.8,1.2 1.9-5.9 -4.7,4.7z"/><path id="a136" d="M86,187.9l5.1,1.8 1.5,2.4 0,.1 -.3,.2 -6.6-1.1 -3.1-3zM106.6,73.5l2.5,.8 7.1,1.7 1-1 -6-4.2 -4.6,2.2zM163,132.9l.2,2.2 1.1,3.4 3.4,4.3 2.8-.8 -.9-3.3 -4.1-4.9zM170.3,131.4l.6-1.3 2.8,8.1 0,6.9 -.2,0 -3-3.1 -.9-3.3zM163.1,133.9l-.9,1.3 -4.8,1.1 2.8-4.4 2.7-.7zM78.1,77.8l1.6-1.8 -8.1-1.9 -3.2,3.4 .4,.5 4.8,1.2zM97.9,76.3l-4.7,.9 .2,.6 3.3,2 1.9-.9zM165.1,210.2l-1.4-3.2 0-1.4 2-.3 .4,.9 .4,1.6z"/><path id="a137" d="M75.3,197.9l5.5-.4 1.7,.2 .1,1.4 -3.2,1.9 -1.1-.5zM21.2,181.6l1.4-1.8 -.8-1.5 -2.9-.6 -3.6,2.6zM78,155.5l1.8-1.2 5,1.5 -3.5,2.1 -2.2-.2 -1.4-1.7z"/><path id="a138" d="M85,184.4l5.1,1 2-.7zM90,186.4l1.1,3.3 0,0 -5.1-1.8 -.5-1zM90,186.4l-4.5,.5 -.6-.4 -.8-2.1 .9,0 5.1,1zM90,186.4l1.1,3.3 3.8-1.9 -.5-3.1 -2.3,0 -2,.7zM81.2,20.2l.6-1 -1.9-3.1zM11.4,80.3l-1-1.2 -.4-2.9 3.8,1 -.2,3.4 -2-.2zM9.4,76l-2.4,1.5 3.4,1.6 -.4-2.9zM6,120.8l2.4,.1 -.2-3.5 -2.7,2.7zM161.2,88.8l-2.8-4.8 5.8,2.6 -2.2,2.9z"/><path id="a139" d="M82.6,199.1l2.9,5.6 1.3,.3 4-.4 .8-1.4 .3-1.3 -7.7-4.6 -1.7,.4z"/><path id="a140" d="M82.6,199.1l2.9,5.6 -1.3,0 -4.8-3.7zM146.3,133.6l-3.5-1.2 -1.7,1.1 -1.4,3.5 5.7-1.7zM136.8,132.8l3,1.5 1.5-1 -2-3.9 -1.5,0z"/><path id="a141" d="M95.7,192.7l-3.1-.5 0-.1 2.8-1.3zM164.6,57.8l-1.4,4.7 -5-.8 -1.3-1.7 5-2.9zM95.5,64.6l-.4,1.5 .1,.2 9.2-1.3 -2.1-.7zM97,200.7l1.7,.8 .2-.9 -2-.2zM96.9,200.4l2,.2 1.5-.2 1.3-3.6 -2-2 -3.8-1zM78.3,73.9l-1-3.3 8.8,2.5 -.1,.7 -3.6,2.1 -1.7-.1z"/><path id="a142" d="M153.9,169.9l3,3.2 2-2 2.1-5.6 -1.7-1.1zM122.9,133.4l-1.2,.5 5.9,5.5 1.4-.2 2.4-3.6 -8-2.3zM108.5,42l.1,0 4.4,5.1 -.1,.2 -3.6,1.3 -2.4-4.7z"/><path id="a143" d="M173.6,153.6l.1,.1 0-4.3 0,0zM169.4,152.8l1.2-4.3 3.1,.9 -.1,4.2 -3.4-.2zM170.2,153.4l3.4,.2 .1,.1 0,2.5 -1.3,3.1 -4.1-.2z"/><path id="a144" d="M156.5,175.5l-1.2,.5 .9,1.2 .5-.8zM154.8,176.3l.5-.3 1.6,2.2 -1.5,1.6zM155.3,176l-.5,.3 -.7-1 .5-.3z"/><path id="a145" d="M164.5,175.2l.7,2.8 .9-.2 6.2-4.1 -1.8-.6 -3.5-.9 -2.3,1.4zM21.6,155.7l1.9,1.5 4.2-.7 1.8-3.1 -.2-2.5 -7-1.5 -1,1zM111.7,50.7l-4.3,1.4 .1,3 1.1,3 4.7-1.2zM113.5,57l-.2-.1 -1.6-6.2 2.8-.9 .2,1.6 -1,5.5zM25.6,129l-.4,.6 -.6,.1 -1.5-2.4 1.5-4.2 1.7,2z"/><path id="a146" d="M170.3,146.6l.3,1.9 -1.2,4.3 -.4,0 -5.3-1.7zM27.9,216.6l5,.6 0-.5 -.1-.2 -3.6-1.9 -1.2,1.5z"/><path id="a147" d="M173.7,167.5l-.5,.3 .3,1.2 .2,0zM48.3,195.6l-4,3.7 -.5,3.1 6.5,.2 2.4-4.5 -.7-2.7zM115.7,159l-2.3-5 -.1-.1 -1.4,7.8 .9,.4 2.7-2.7zM73,60.8l-1.5-7.5 -2,2.4 1.7,4.9zM145.2,33.9l-.2,1.7 .6,2.6 2.2,0 1.3-4.8 -2.5-2.2zM119.3,48.3l1.4-1.8 -4,2.5 0,.1zM122.2,44.7l1.1-4.5 -.3-.2 -6,1 -4,6.1 -.1,.2 1.3,1.7 1.1,.4 1.4-.4 4-2.5z"/><path id="a148" d="M165.2,158.2l1.2,1.6 .1,.1 1.8-.8 1.9-5.7 -.8-.6 -.4,0 -3.8,4.3 -.1,.3zM73.2,166.1l4.2,1.3 1.7-1.8 -5-3.4 -.5,.3 -1,1.5zM48.5,94.6l-1.1-.2 .3-4.9 5.2-1 -.8,4.4zM143.6,159.8l-2.3,6.9 -1,1 -3.2,1.5 -1.2-.3 -1.5-4.7 .8-2.4 8-2.3zM125.5,24.6l0,0 -5.5,3.1 -1.8,5.7 .1,0 .6-.5 6.8-7.6zM32.6,229.3l-.7,3.1 -1.7,0 1.1-5.3 .6,0zM53.1,169.6l3.5-4.3 2.1,.2 1.4,1.1 .8,.8 -.1,.2 -7.5,4 -.2-.6zM64,167.3l-3.1,.1 -.1,.2 .3,2.9 4.3,1.5zM134.1,171.3l2.2-1.2 .5,1.7 -2.7-.4z"/><path id="a149" d="M158.9,171.1l2.1-5.6 2.7,.7 -.5,2.7zM26.1,174.8l.3,.9 3.9,4.7 1.1-2.6 -.7-1.8zM126.4,186.5l.9,3.8 .8,.5 6.1-3.3 .9-1.8 -2.4-3.3 -2.8-.2zM139.1,193.2l-.5-.7 -2.6,1.1zM14.9,31.7l-5.2,.2 4.5-3.6zM130.3,67l-1.9-1.9 -.5,3.9zM170.6,180.1l.3-.2 1.1,0 1.7,.8 0,5.4 -2.3-3.3zM57.6,111.9l-1.1-.5 -3.5-5.8 4,0 2.4,4.6 -.3,1.5 -.5,.2zM43.5,123l.3-1.4 -1.3-.7zM14.7,117l-6.6-7.4 -.4-.7 1.4-.2 4.4,2.7 1.4,4.7zM151.7,104l4.5,.2 -1,6.3 -4.5-.2 -.6-2.6zM96.6,220.4l2.1,10.8 1.5,.5 .7,.1 4.4-3.9 1.5-4.6 -9.9-3.1zM86.7,227l.3-.3 -.1-6.1 -2.2,1.1zM113.9,183.6l-.5,1.9 3.8-1.8 -1.3-1.1zM20.2,219.5l.5-3.4 2-1.6 .2,.2 -1.6,5.3zM126.9,40.8l-.4-1.2 3.2-3.8 3.6,1.5 .1,.3 .4,5 -5.5,1.4zM151.9,225.4l0-5 -1.9,.3 1.6,5.1 .2-.1zM153.5,231.7l2.1-1 .2-.3 .3-2 -4.3-2.7 -.2,.1zM153.7,232.4l-.2-.7 2.1-1 .4,1.7zM160.4,225.9l-4.3,2.5 -.3,2 5.6-.7 1.3-2.3zM173.7,6.8l0-6.8 -5.9,0 -.5,7.1 0,0 6.2,1.4zM98.3,34.2l3.1,.2 3.9-6.9 -5.5,3.1 -1.8,2.5zM122.2,44.7l1.1-4.5 3.7-1.2zM99,122.1l-1.1,2.1 -2.5,1.8 -1.6,.1 -1.6-6.8 3-4.1 3.9,6.5zM93.8,126.1l-4,3.1 -.3-.1 -.3-.3 -.9-3.3 1-7.1 2.9,.9zM17,61l4.4-3.1 1.2-.1 .5,2.5zM11.8,53.4l-.1,.4 5.6,2.6 4.1,1.5 1.2-.1 .1-.1 -4.1-8.3zM124.3,169.4l3.8-4.8 0,0 -3.1,.4 -2.8,1 .7,3.1z"/><path id="a150" d="M156.7,176.4l-.5,.8 2.1,2.8 .4,0 -.2-1.5zM160.6,180l.5,5.2 -1.6,1.6 -3.2-3.3 2-3.5z"/><path id="a151" d="M158.5,178.5l.2,1.5 6.1-.1 .4-1.9 -.7-2.8zM154.5,186.6l3.8-6.6 -.1,0 -2.7,.5 -3.2,3.5 -.1,.4 .5,.9z"/><path id="a152" d="M157.1,173.6l-.2-.5 2-2 4.3-2.2 1.4,4.6zM30.7,192.8l4.3-4.1 -3.4-1.7z"/><path id="a153" d="M156.6,200.2l0,0 -.2,2.6 1.2,3.6 1.2-1.1 .4-.6zM156.4,199.9l-1.6-1.4 -2.3,1.6 -.1,.4 2.4,3.6 1.6-1.3 .2-2.6zM156.4,202.8l1.2,3.6 -1.8,1.7 -1-4zM42.8,80.1l-.2-2.3 -1.7,1.8 .2,1.4zM47,79.5l4.4,4.2 2.2,.1 .3-.2 -1.8-7.1 -4.6,1.9zM42,86.3l-.6-.7 2.1-2.8 1.6-1.2 2.3,1.5 .6,.7 0,.4 -.2,.1zM42.2,80.4l1.1,.1 1.8,1.1 -1.6,1.2 -4.6-.6zM127.9,25.5l1.6-6.2 2.6,2.7 0,.3 0,.6 -3.1,6 -1.1-2z"/><path id="a154" d="M145.7,202.1l.4-2.7 -.4-1.9 -.2-.1 -9,.7 .3,1.7 5.3,3.9zM118.7,159.8l7.1,0 -1.1-3.7 -6.4,1.7zM146.5,188.5l2.6-2.4 -3.6-1.2 -2.4,1.8 2,2.6zM60.6,189.2l1-.5 .1-3.5 -3.1-1.2 -1.7,4.3zM60.6,189.2l-3.4,4.4 -3.6-.4 -.8-2.5 4.1-2.4zM49.7,187.1l3.5-2.3 -.4-3.1 -3.8-1.5 -3.5,1.3 -.2,.1 -.1,1.4 3.1,3.6zM118.3,157.7l-.6-3.4 -.9,0 .2,3.3zM50,218.9l-1.1-1.4 .1-.4 5-.5 -2,2.2zM52,218.8l2-2.2 1.7-.2 2.9,4.6 -5.1,3.8 -.9,.2zM49.6,177.5l1.1,2.8 -.6,.3 -7.8-3.1 -.8-1.4zM118.7,159.8l-1.9,2.9 .8,.1 7.5-3z"/><path id="a155" d="M133.6,195.3l.5-.7 1.8,1.7 .6,1.8 .3,1.7 -.1,6.3zM0,106.9l0-4.1 3.4,5 -.6,1zM52.3,232.4l.1-.9 -3.2-.7 -.9,1.6z"/><path id="a156" d="M156.4,199.8l-1.6-2.8 0,1.5 1.6,1.4zM152.5,200.1l-.7-4.1 .6-3.2 2.4,4.2 0,1.5zM137.6,43.2l2.9,3.4 .2-.3 1.9-5.1 -3.1-2.1 -1.6,.9 -.7,.8zM96.6,12l3.5,2 1.3,2.5 -5.4,1 -1.8-2.6zM157.7,202l0-3.4 -2.3-3 -1.6-.3zM125.9,16.2l3.3,.9 .3,2.2 -1.6,6.2z"/><path id="a157" d="M136.9,193.5l-3.1,.4 .3,.7 1.8,1.7 .8-1.7zM68.8,165.8l-4.8,1.5 -3.1,.1 -.8-.8 5.7-5.3 3,1.8 .4,1.8zM72.4,163.2l.6,2.1 -3.8-.4 -.4-1.8 1.7-1.4zM128.1,164.6l-3.1,.4 4.8-5.2 3.1,0 -.1,.1z"/><path id="a158" d="M151.3,202l1.1-1.5 .1-.4 -.7-4.1 -3.2-3.2 -2,2.2 -.6,1.2 -.3,1.3 .4,1.9zM27.7,88.1l-4-1.8 6.2-4.7 1.4,4.6zM24,149.7l.6-1.2 8.2,.7 -.8,1 -1.6,.9zM21.8,115.1l-1.5-3.6 -.4-.4 -.5,1.9 -.3,1.9 2.6,2.1zM14.7,117l.7,2.2 .5,.4 2.9,1 .1-2.8 -1-1.7 -3,0zM37.4,148.4l.2-.3 -.2-.8 -.6-1.1 -1.9,3.4 .6,.2zM71.8,107.1l1,1.4 0-1.5zM118.8,178l-2.9-.9 1.8,1.6 1-.6zM122.9,169.1l-.7-3.1 -4.5-2.2 -4.1,3.9 -1.6,2.5 .8,1.2z"/><path id="a159" d="M148.8,191.9l-2.2,.3 0,2.8 2-2.2zM165.4,24.8l2.1-.2 4.9-3.8 -.4-1.1zM2.4,75.6l0,4.7 -.8,.5 -1.6-2.7 0-3.5 2-.3zM9.9,92.8l2.6,.2 .1-1.6zM28.1,98l1-1.5 -.6-3.4 -3.4,.7 -.9,3.6 .1,.5zM12.6,93.1l2.3-2.9 -2.3,1.2 -.1,1.6zM98,0l4.2,.4 .8,1.3 -5.1,.9 -3.3-1.8 .2-.8zM163.2,135.1l1.1,3.4 -.2,1.7 -.6-.6zM53,121.8l2.5-2.4 -4.4-6.5 -2-1.2 0,0 -.8,1 -.5,4.6 2.9,3.9zM162.2,135.2l1.2,2.5 0,.4 -3.5,.3 -3.4-1.2 .9-.9zM7.2,60.2l-3.2-2.7 .4-1.2 5.4-1.6 .7-.1 -.3,4.3z"/><path id="a160" d="M145.2,192.4l.8,3.8 -.3,1.3 -.2-.1 -3.3-4.6zM64.8,106.7l3.8,1.9 -2.1,4.5 -3-4zM123.2,119.9l-5.9-2.5 1.2,4.5z"/><path id="a161" d="M127.8,144.1l-.3,1.6 -3.5,1 -2.9-1 -.2-.4zM116.9,149l4.2-3.3 2.9,1 -6.1,4.5 -.7,0zM78.2,232.4l-4.4-1 -.6,1zM115.7,159l-2.3-5 2.5,.2 .9,.1 .2,3.3zM154.2,119l-7.4,5.5 -.3-.6 -.6-3.4 .1-1.9 4.7-3.7 1.4-.8zM125.7,191.7l1.8,2.5 -3.9,5.3 -2.7-.5 0-2.1 .6-1.1zM133,159.8l.3-.4 1.7,1.9 .2,.5 -.8,2.4zM13.4,0l-.2,3.1 2.1,.3 1.6-3.4z"/><path id="a162" d="M116.4,146.1l4.5-.8 .2,.4 -4.2,3.3zM27.9,177.4l-4.3,2.3 3.1-3.7z"/><path id="a163" d="M125.4,154.5l.2,.3 -.9,1.3 -6.4,1.7 -1.1-6.6 .7,0 2,.6z"/><path id="a164" d="M138.2,154l0,0 -.3-2.1 1.9,.3 0,.1zM145.1,189.3l-2-2.6 -3.6-1.6 .8,6 3.1-.4zM66.3,220.2l-1.4,2 2.8,.4 8-1.8 .1-.9 -1.2-.7 -2.2-1zM5.4,161.6l.1,.1 -.3,1.8 -5.2,3 0-2.8 2.1-2 .5-.2zM12.5,163.9l-2.1-1.1 -1.8,1.2 2.1,3.4zM5.2,163.5l.5,.7 1.6,.5 1.3-.7 1.8-1.2 0,0 -1.8-3.9 -3.1,2.8zM50.7,121.2l-2.9-3.9 -.6,.1 .2,6.4 2.4,1.2zM47.8,131.4l-3.3,2.5 0-.6 1.5-2.6 1.2-.4zM92.3,90l.1,0 2.4-1.4 2.8-3.4 -8.6-3.2 -4.8,.5 -4,1.4 0,.9 5.2,3.2zM139.8,152.3l2.7,1.1 -1,1.1 -2.9-.9zM133.4,32.6l-1.5,.4 -2.2-1.1 -.7-3 3.1-6 .9,1.9 .8,7zM133.8,31.8l3.4-3.6 .2-2 -1.4-1.9 -3,.5zM49.5,219.6l.7,5.7 1.8,.2 .6-.5 -.6-6.2 -2,.1zM49.5,219.6l-4.5,2.3 1,4 4.2-.6z"/><path id="a165" d="M125.4,154.5l2.6-7.5 -8.1,4.8zM119.9,151.8l-2-.6 6.1-4.5 3.5-1 1,.3 .1,0 -.6,1zM18.2,92.3l2.3-4.3 -.4-.5 -5.2,2.7 -2.3,2.9 .1,.2 .2,.1zM19.1,85.7l.9-2.1 -.1-.8 -1.6-3.6 -.7-.9 -3.8-1.1 -.2,3.4 3.8,4.1zM117.5,152.6l-1.6,1.6 .9,.1 .9,0zM171,129.7l2.3-.1 .4,.7 0,7.9 -2.8-8.1zM68.1,138.3l-.9-1.4 -1.2,.6 .5,1.1zM68.1,138.3l-.9-1.4 1.2-2.8 1.1,.6 1.9,1.5 1.2,1.3z"/><path id="a166" d="M139.8,152.2l-1.9-.3 -.1-.3 1.5-1zM145.1,41.6l2.5-1.6 .9-.1 1.4,5.2 -.5,1.8 -2.8,.3 -1.7-3.3zM46.5,179.2l-2.7-1 -.4,1.3 .8,.9 1.1,1.2 .2-.1zM159,204.3l.7,.6 2.2,.4 .5-5.4 -.5-3 -4.2,1.7 0,3.4zM49.1,217.1l-5,.4 -.6-4 .7-.1 4.8,3.4zM136,59.8l-4.3,3.1 -4.4-5.2 0,0 6.1-1.2 3,2zM49,217.1l-.1,.4 -5,.5 -.1-.2 .2-.2zM113.6,167.7l4.1-3.9 -.1-1 -.8-.1z"/><path id="a167" d="M137.9,145.6l-3,1.1 -6.4,6.8 9.3-1.9 1.5-1z"/><path id="a168" d="M133,159.8l5.2-5.8 0,0 -10.8,5.8zM98.8,90.1l-5.3,3.1 -1.8-.9 6.1-7.3 .9,0zM148.8,68.7l-1.3,.9 -4.3,.5 -1.8-2.3 -.5-1.3 2.1-5.5 3.7-2.2 1.5,.1 1.7,3.5 -.5,5.3zM6,120.8l1.6,4.6 .3,1.9 -4.6-1.4 -.6-6.2 .7-.7 2.1,1.1zM108.7,190.9l.7-.3 3.5,1.2 -.2,7.3 -6.7-3.5zM93.2,90.6l1.6-2 -2.4,1.4zM143.6,159.8l-2.3,6.9 5.1-1.2 4.8-8.7 -.9-.4 -2.1,.8z"/><path id="a169" d="M31.9,162.5l.4-2.7 -2.6,.8z"/><path id="a170" d="M32.6,166.4l.5,.3 1.4-1.3 -.5-5.2 -1.6-.5 -.1,.1 -.4,2.7 .2,2.9zM39,169.3l.8,4.1 -3.7,1 -.6-1.4 2.7-5.4zM41.8,170l-2.8-.7 -.8-1.7 -.2-2.1 4.1,3zM173.7,114.9l-.5-.7 .5-5.6 0,0z"/><path id="a171" d="M11.2,157.4l3.3,4.1 1.9-3.4 -1.4-2.7 -1.8-.2zM98.1,77.1l1.1,4 1.2-4 -.7-.2zM106.6,73.5l-.9,1.4 -.5,.7 -2.1,1.2 -2.7,.3 -.7-.2 -2.2-2.1 -.9-3.3 8.6,.3 1.4,1.2zM12.5,163.9l-2.1-1.1 0,0 2.2-3.6 2.7,3.2 -.4,.5zM144.4,131.8l-1.6,.4 1.3-5.9 2.7-1.7 -1,4.8zM163.1,133.9l-.9,1.3 1.2,2.5zM45.1,61.2l.6,.3 1.5,0 3.7-6.2 -.1-.5 -5.8,2.3 -.3,2.4z"/><path id="a172" d="M25.8,174.5l-.2,.2 -4.7-5.6 3.1-1.5 .7,.2 1.1,4.3zM150.5,153.4l-2.8,.2 -.9,1.5 5.8,2.3 .4-2.4 -.5-.6zM121.7,57.7l1.7-4.5 -4.1-4.9 -.2,0 .1,5.9zM119.3,48.3l.1-.2 4.9,4.2 -.3,1.6zM69.5,55.7l-2.6,1.5 -1.7-.9 .1-6 .1-.1 6.4,.2 .8,1.1 -1.1,1.8z"/><path id="a173" d="M34,160.2l-1.6-.5 -1.8-5.2 4.9,.8 -1.3,4.6zM34.2,159.9l1.3-4.6 .1,0 .1,0 3.6,6.3 -.9,1.8zM38.8,158.2l.8,.1 1.5-.8 .1-8.4 -.2-.2 -3.4-.8 -.2,.3z"/><path id="a174" d="M31.4,173.5l2.9-1.8 1.2,1.3 .6,1.4 0,1.5 -2.2,3.9 -2.5-2 -.7-1.8zM21.7,108.3l-4.6-1.3 2.7-3.4 3.4,2.3zM141.7,216.7l.3,1 -1.7,6.6 -3.9-5.2 1.5-2.2zM118.5,230.7l-.8,0 -3.8-1.5 -1.9-1.4 8.4-2.7 1.6,4.1zM119.9,232.4l-6,0 0-3.2 3.8,1.5zM64.1,120l4.1,2 .5,1.9 -.2,4.6 -1.3,1.8 -6.4-4.8 2.3-5 .9-.5zM133.6,217l-.1,.2 -.9,5 1.6,1.4zM122.7,230.9l6.1-.5 -.8,2 -5.6,0zM11.3,14.6l1.8,2.4 2.7-2.7 -1.1-3 -.3-.2zM17.9,17.8l.1,.2 3-.7 1.4-2.3 -.9-5 -1.9,.4 -2.6,5.2z"/><path id="a175" d="M30.4,168.5l2.2-2.1 .5,.3 1.2,5 -2.9,1.8 -.2-.4zM19,166.8l.8-4.6 4.2,5.4 -3.1,1.5zM52.8,190.7l-3.1-3.6 -1.4-.5 -4.1,4.5 0,.9 3.6,3.2 .5,.4 3.7-.2 1.6-2.2zM44.2,191.1l4.1-4.5 -3.1-3.6 -5.6,2.1 -1.2,.9 -2.4,2.7zM63.8,213.7l-2,1.9 -1.3-.9 -.8-4.2 .2-1.5 2.2-1.6zM78.3,73.9l-7.4-4.5 -1.1,3 1.8,1.7 8.1,1.9 1-.2zM30.2,232.4l.2-1.1 0,0 -7.5,.5 .2,.6zM19.3,229.3l-.2,3.1 -2.6,0 1-2.5 .8-1zM154.9,4.8l3.8-1.6 3.3,7.6 -.3,2 -2.8,2.1 -4.4-9.5zM153.3,19.2l1.4,3.7 .4-.1 1-1 2.8-6.9 -4.4-9.5 -.3,.1zM133.8,17l1.8,6.2 -3.5-.9 0-.3zM104.2,126.7l-.4-.1 -3.4,1.2 1,2.7 1.5,1.4 .2-.6z"/><path id="a176" d="M25.5,165.1l-2-7.9 -1.9-1.5 0,0 -2.3,2.8 .5,3.7 4.2,5.4 .7,.2zM81.5,135.9l-4.6,.8 -1.6-1.8 3.9-2zM54.8,43.3l3-3 4.7,4.9 -.7,1.2 -4.4,.9 -2.2-2.2zM18.4,44.6l2.7-3 -5.6-2 -.9,.8 3.4,4.1z"/><path id="a177" d="M38,165.2l.4-1.8 -4.2-3.5 -.2,.3 .5,5.2zM34.2,181.7l-.3-1.9 2.2-3.9 1.4,2 .2,.8zM38.8,158.2l.8,.1 1.9,5.1 -.2,1.8 -2.9-5 0-1.8zM0,227.1l1.4,3.3 -1.4,1.3zM161.4,27.9l.4-3.4 -.2-.7 -1.6-.1 .3,5z"/><path id="a178" d="M30.4,168.5l2.2-2.1 -.5-1 -3.3-2.3 -1,1.6 1.6,3.6zM41.8,170l-1.1,4.2 -.9-.8 -.8-4.1z"/><path id="a179" d="M36.1,175.9l1.4,2 1.5-.2 1.1-1 .6-2.5 -.9-.8 -3.7,1z"/><path id="a180" d="M34.3,171.7l1.2,1.3 2.7-5.4 -.2-2.1 0-.3 -3.5,.2 -1.4,1.3z"/><path id="a181" d="M39,177.7l-1.3,1 -.2-.8zM163.4,26.4l-1,.7 -1,4.2 4.6,1.5 .5-.4 .4-1zM157.6,30.8l2.3,2.3 1.5-1.8 1-4.2zM47.8,84.3l.2-.1 -.3,5.1 -1.6,.3 -.6-.7zM160.3,28.7l-2,1.6 -3.2-7.5 1-1 3.9,1.9zM164.7,25.4l-1.2,.8 -1.7-1.7 -.2-.7 1.4-6.1 2.5,5.7 -.5,1.6zM158.3,30.3l-3.2-7.5 -.4,.1 -1.6,4.1 -.3,1.3 1.7,4.9z"/><path id="a182" d="M42.1,168.5l.4-1.3 -3.2-5.6 -.9,1.8 -.4,1.8 0,.3zM111.4,93.2l1.4-.5 .2-.1 .3-.5 -.8-4.4 -2-.8 0,.1 -3.1,6.8zM17.7,100.5l3.4-3.1 -2.3-2.9 -3,3.4 .4,2.2zM99.8,166.8l-4.3,.8 1.4-4.3 2.5,2.5zM99.8,166.8l-4.3,.8 -.7,.7 4,4.2 2-1.7 -.9-3.9zM0,166.5l0,2.8 1.2,1.1 .4-.1 4.1-6.1 -.5-.7zM2,170.4l.6,.7 4.8-3.5 -.3-.8zM8.9,171.4l-3.9,3.1 -.8,1.2 .1,.4 2.6,2.4 2.5,.5 5.5-6.8 -.3-.8zM47.2,117.4l-3.7-.7 .5,4.9 2.6,1.9 .8,.3zM161.2,96l1,.9 .7,5.1 -.2,1.2 -.2,.1 -6.3-6.2 -.7-2.8 2.1,.3 2.9,.8zM44.2,167.3l4.7-2.5 .7-1.2 -1.5,.3 -4.8,2.8 .6,.7z"/><path id="a183" d="M148.1,38.2l1.2-1 1.1,.8 .3,4.4 -1.3,.8zM24.1,42.6l.7,.3 4.5-6.3 -1-1.4 -6.2-.5 -1.3,2.3 1.8,3.9zM14.9,31.7l2.8,1.6 .3,.4 1.2,2.6 -6.6,2.3 -2.4-.8 -.5-5.8 0-.1z"/><path id="a184" d="M166,32.8l-3.4,5.8 6.7-3.3 1.5-1.6 -4.3-1.3zM164.9,48.9l2.6-4.3 -.9-.6 -5.9-3.2 -1.1,.1 -.1,.1 -2.1,6.7 .8,2z"/><path id="a185" d="M160.9,53.2l3.7-3.4 2.4,5.6 -2.4,2.4 -2.7-.7 -1.5-2.7zM173.7,56.2l0-5.3 -5.1,4.3 .5,.7 3.6,1.8zM99.5,165.6l1,2.1 1.2-.8zM22.7,214.5l0-.2 -5.7-1.5 0,.3 3.7,3zM15.6,218.8l1.4-5.7 3.7,3 -.5,3.4zM116.7,139.3l-4-1.9 -1.4,3.3 .4,.4 4.6-1.3zM134.1,171.4l2.7,.4 .5,1.5 -1.7,2.1 -3.2-2.6z"/><path id="a186" d="M153.4,34.1l-3,3.9 -1.1-.8zM148.5,39.9l-.9,.1 -2-1.8 2.5,0zM43.1,80.3l3.9-.8 4.4,4.2 -3.3-.2zM21.4,41.7l1.2-.8 -1.8-3.9 -1.6-.7 -6.6,2.3zM21.4,41.7l1.2-.8 1.5,1.7zM146.6,31.2l2.5,2.2 .7,.1 3-5.2 .3-1.3 -5.2-4.6 -2.2,5.6zM150.4,36.3l-.6-2.8 3-5.2 1.7,4.9zM14.2,40.4l-.3-1.3 -6.7-2.3 -1,1.9 5.8,2.3z"/><path id="a187" d="M158.9,34.7l.7,6.2 1.1-.1 1.9-2.2 3.4-5.8 -4.6-1.5 -1.5,1.8zM154.1,33.5l4.8,1.2 1-1.6 -2.3-2.3zM99.6,112.6l-5.5-.9 8.4-6.3 .9-.2zM104.4,110.4l-4.7,2.4 -.1-.2 3.8-7.4 1.1-.7 2.1,.9zM74.8,217.4l-.2,1.8 -2.2-1zM51.3,206.7l-.2,3.2 -3.7,.7 -4.9-5 1.3-1.6zM128.3,206.6l-.7,4.8 .6,1.9 3.4-1.6 .7-6.8zM131.5,216.5l2-.3 2.1-1.8 -.1-.3 -2.6-.1zM132.7,204.3l3.6,.5 .6,2.5 -1.4,6.8 -2.6-.1 -1.3-2.3 .7-6.8zM48.1,83.5l2.1,.1 -2.2,.9zM51.7,61.7l.2,0 .7-.6 1.7-2.3 -2.3-1.4 -3.5,4.1 .4,.1zM50.8,54.8l0,0 -5.8,2.3 -.8-2.3 3.5-5 1.2,1.1zM173.7,99.6l-2.8-2.4 -1.5-2.9 3.3-2.5 .8,.1 .2,.6z"/><path id="a188" d="M172.3,27l-3.1-.1 -1.2,3.2 3.6-.2zM165.1,25l-.1,0 .5-1.6 2.2-.6 .1,.1zM161.6,23.8l1.4-6.1 -.1-1.5 -1.2-3.4 -2.8,2.1 -2.8,6.9 3.9,1.9z"/><path id="a189" d="M173.7,18.4l-1.7,1.3 .4,1.1 1.3,.1zM152.1,171.7l2,2.6 -.5,.5 -2.5-1 .5-2.1zM24.9,103.2l-.6-5.3 3.8,.1 .2,0zM2.5,22.1l3.2-.8 -.3,1.4 -.5,1zM33.9,23.1l1.5,3.3 1.1,.7 .3-.4 1.1-2.2 .4-1.9 0-.1 -2.1-1.1zM100,5.4l-2.1-2.8 -3.3-1.8 -1.6,1.4 -.2,4.8 7.1-.4zM11.3,92l-2.1-3.1 -1.3-.7 .9,5.1zM5.8,94.9l-.1,0 -1.9-.5 -1.9-5.3 3.7,5zM5.8,94.9l3-1.6 -.9-5.1 -.4-.5 -1.9,6.4zM5.6,94.1l-3.7-5 -1.6-3.2 3.4-3.4 3.8,5.2zM146.5,142l-2.9,3.9 -5.6,.2 -.4-1.5 -.5-2.5 1.5-4.3 .4-.2 7.3,3.7zM111.3,140.7l.8,.9 -1.2,.6 -1.2-.1 -.3-1.2zM24.4,120.5l-1.3-1.3 -1.6,2.2 -.5,2.5 2.1,3.4 1.5-4.2 .1-1.9zM26.2,131.9l-.2,0 -1.4-2.2 .6-.1zM27.9,216.6l5,.6 .2,1.4 -.2,.8 -5.1,3.1 -.4-.3 -.3-2.7zM21.8,220.6l-.5-.6 1.6-5.3 1.1,1 3.1,3.8 .3,2.7 -.7,.2zM167.8,22.9l1-.8 -1-8 -1.6,2.4 1.5,6.3zM133.9,15.3l.6-3.5 -.4-7.4 -3-.5 -1.2,1.7 -.1,4.3 .8,3.7zM170,21.2l3.6-3.2 .1,0 0,.4zM137.6,17.2l-3.7-1.9 0,0 .6-3.5 .5-.2 1.9-.1 2,2.7zM114.1,33.5l.4,.6 -5.9,6.6 -4-3.2zM60.1,166.6l5.7-5.3 -.7-.4 -4.5,.8 -1.9,3.8zM36.2,4.1l0-4.1 -.3,0 -.6,3.4 .1,.2zM4.2,49.5l5.6,5.2 -5.4,1.6 -4.4-4 0-.4 1-1.9 1.6-.5z"/><path id="a190" d="M160.9,53.2l3.7-3.4 .3-.9 -6.7,.8 -1.6,2.7zM151.1,49.5l1.7,.3 .2,.8 -.9,2.8zM38.3,57.3l-1.4-1.7 -.7,.5 .4,1.2zM39.6,58.9l-1.5,1.9 .4,.5 3,.4 0-.4zM30.5,132.6l.4,.6 4.9,.4zM26.8,15.8l.5,4.4 1.1,.3 .8,.2 2.6-.7 1.9-2.9 .1-3.1 -.1,0zM62.7,221.5l-.1,.8 2.3-.1 1.4-2zM107.8,161.5l4.1,.2 1.4-7.8 -1.6-.8 -2.4,1.7zM92,132.3l-2.8-1.7 -.8,2.7 3.4-.8zM42.1,86.5l-3.2,3.9 0,1.3 .3,.2 6.9-2.2 0-.1 -.6-.7zM41.4,85.6l-3.9-2 .1-.7 1.3-.7 4.6,.6zM34.1,152.6l-.5-.8 1.3-2.2 .6,.2zM145.2,220l-3.2-2.3 -1.7,6.6 .8,5.6 .4,.3 3.6-4zM59.7,19.4l4-.1 .1-1.2zM28.7,127.8l-3.1,1.2 .7-3.9 1.8,.7zM28.7,127.8l1.3,2.2 -.5,2.5 -3.3-.6 -1-2.3 .4-.6zM128.5,128.8l-3.8,3.8 7-2.3zM130.3,125.9l-1.8,2.2 .1,.7 3.7,1.8 0-1.3zM88.3,125.5l.9,3.3 -1.3-.4z"/><path id="a191" d="M153,42.5l-2.3-.1 -.3-4.4 3-3.9 .7-.6 4.8,1.2 .7,6.2 -.1,.1zM102.3,0l-.1,.4 -4.2-.4zM65.1,0l1.5,1.7 2.7-1.7zM66.6,1.7l2.7-1.7 5.5,0 .3,.3 2.2,3.1 -.8,4.3 -3.5,.2 -6.4-4.7z"/><path id="a192" d="M140.6,172.9l3.6-.4 -.5,1 -1.8,.3zM14.9,31.7l2.8,1.6 -1.7-7.4 -.9,.1 -.9,2.3z"/><path id="a193" d="M135.7,179.8l-3,2.6 -2.8-.2 5.5-6.6 1,2.5zM36.1,91.9l2.8-.2 .3,.2 1.5,2.1 0,1.1 -3.2,2.2 -2.2,.2 .5-5.3zM128.6,174.8l4.5,1.7 1.6-.1 .9-1 -3.2-2.6 -4.2,1.7z"/><path id="a194" d="M133.2,194l-5.1-3.2 6.1-3.3 0,6.4zM15.6,106.5l-1.9-3.2 -2.3,2zM54.6,23l-3.4-.8 4.9-1.6 -1,2z"/><path id="a195" d="M151.7,188.1l-2.9,3.8 -.7,.1 -1.6-3.5 2.6-2.4 3.1-1.7 .5,.9zM151.7,191.4l-.4,.1 .4-3.4 1-2.8 1.8,1.3zM125.6,5.9l-.7,.8 .4,.5zM82.8,134.7l-1.1,1.2 .4,1 .6-.3zM167.1,179.9l-.4,3.7 -.8,.7 -2.1-.2 -1.2-4.1zM36,101.3l2.8,.5 -.1,1.4zM138.7,109.5l2-2.3 .8-1.9 -3.8-2.7 -3.8,3.1 1.3,4.9zM87.5,208.1l2.8-2.4 .2-.1 1.3,.5 1.2,3.1 -3.2,3.3zM42,25.2l-.7,.3 1,3.7 2.6,1.4 1.6,0 -1.7-4.4zM54.5,23.7l-4.7,6.6 -2.7-4.2 .9-2.8 3.2-1.1 3.4,.8zM127.1,204l2.1-7.7 2.8,1.1 .2,.7 .5,6.2 -.4,.6 -4,1.7zM120.9,207.3l.1-1.7 2.3-1.1 .4,2.1 -2.1,1.5zM127.1,204l-.5,0 -1.6,2.5 -1,4.6 3.2,.4 .4-.1 .7-4.8zM120.9,199l2.7,.5 1.1,2.5 -1.4,2.5 -2.3,1.1 -.4-5.9zM0,34.3l1.8,.6 -1.8,.8z"/><path id="a196" d="M154.1,174.3l.5,.7 -.5,.3 -.5-.5zM145.1,41.6l-2.5-.4 -1.9,5.1 4.2-2.4zM145.1,41.6l-2.5-.4 -3.1-2.1 .4-.9 5.7,0 2,1.8zM59.9,3.1l1.4,1.5 8.8,4.9 2.9-1.6 -6.4-4.7z"/><path id="a197" d="M137.3,177.2l.2-3.9 3.1-.4 1.3,.9 -.5,.6zM16,25.9l.7-.5 2.6,3.2 -1.3,5.1 -.3-.4z"/><path id="a198" d="M136.4,178.1l-1-2.5 1.9-2.3 .2,0 -.2,3.9zM128.2,174.5l4.2-1.7 1.7-1.4 0-.1 0,0 -6.3-2.1 -2.1,.6 -1.9,4.3 0,.3z"/><path id="a199" d="M156.9,178.2l-1.5,1.6 .1,.7 2.7-.5zM42.3,73.4l4.7-3.1 -1.6-1.7 -3.5-.9zM162,89.5l2.2-2.9 1.1,.3 .2,.2 .8,4.7 -1.7-.5 -2.5-1.6zM84.3,143.2l-2.8-.6 0,3 3.8,.4z"/><path id="a200" d="M135.7,179.8l-3,2.6 2.4,3.3 4.4-.6 2.5-2.2 1.5-2.4 -3.5-1.5z"/><path id="a201" d="M36.6,57.3l-.4-1.2 -1.7-1.1 -3.3-.1 -1.2,2.2 -.2,3 1.9,1.7 5-3zM32.2,63.5l2.2,1.3 1.5-2.9 -3.8,1.1z"/><path id="a202" d="M26.9,78.5l3.1,1.5 -.1,1.6 -6.2,4.7 -.7-.3 -2.5-5.2 4.2-1.7zM27.7,88.1l-3.7-1.6 -.7,1.5 4.5,.6zM19.7,87.8l-.6-2.1 .9-2.1 2.4,2.7zM102.6,137.7l1.7,1 .5-5 -1.7-1 -1.4,2 .8,3z"/><path id="a203" d="M23.8,62.7l-.8-.8 .4-1.6 4.1-3.7 2.5,.5 -.2,3zM161.6,112.3l2.5,5.2 3.7-3.7 -.8-2.8 -.8-1.7 -4.6,2.9zM33.4,45.8l-1.7-.6 -1.6,4.3 3.3-2.6z"/><path id="a204" d="M31.3,86.2l-1.4-4.6 .1-1.6 .5-.3 10-.2 .4,.1 .2,1.4zM143,61l3.7-2.2 -7.7-.5 0,.2zM46.8,129.4l.6-.2 6.2,3.3 -5.8-1.1zM120.6,145.3l0,.1 6.3-1.1 3.1-3.1 -1-2 -1.4,.2 -3.4,1z"/><path id="a205" d="M24.6,68l-.8-5.3 6-2.6 1.9,1.7 .4,1.2 .1,.5 -.5,.7zM27.5,56.6l2.5,.5 1.2-2.2 -.5-1.1zM18.8,94.5l2.3,2.9 3.1,0 .9-3.6 -1.8-5.8 -2.8,0 -2.3,4.3zM23,86l-2.9,1.5 .4,.5 2.8,0 0,0 .7-1.5zM28.5,93.1l-3.4,.7 -1.8-5.8 0,0 4.5,.6zM148.4,78l-.9-8.4 -4.3,.5 -1.4,4 5.4,3.8 .6,.3zM54,16.9l7.6-3 .7,4 -.7,.9 -6.3,2.1 -1.4-3.9zM22.7,57.7l-.1,.1 .5,2.5 .3,0 6.1-5.4 -2.7-.1z"/><path id="a206" d="M31.5,76.6l5-3.6 -.3-3.2 -4.6,4.7z"/><path id="a207" d="M32.1,63l-.4-1.2 5-3 1.2,1.8 -2,1.3zM86.7,98.9l-1.7,5 .1,.5 6.3-5.4 -1.9-.4zM115.7,4.1l.9-.8 4.3-1.9 1.8,4.1 -2.9,1.8 -4-3zM116.7,6.8l-.9-2.5 -.1-.2 -3.9,1.4 .7,1.8zM54,123.8l-2,3.5 -2.2-2.3 .9-3.8 2.3,.6zM65.1,28.5l-.2-3.2 -9.8-2.7 -.5,.4 -.1,.7 2.6,3.9 7.4,3.8z"/><path id="a208" d="M26.9,78.5l-3-8.7 -2.6,.6 -.8,4.4 4.2,4.3zM36,11.8l2.3,3.3 4.1-4.7 -3.1-2.5 -3.3,3.5z"/><path id="a209" d="M34.4,64.8l1.9,1.4 2.2-4.9 -.4-.5 -.2-.2 -2,1.3zM31.4,69.3l4.9,.2 .9-1 -.9-2.3 -1.9-1.4 -2.2-1.3 -.5,.7zM90.4,146.2l-1.7,2.6 -.7,2.3 2.1-.4 7.9-6.3 -5.6,.9zM83.5,136.6l-.8,0 .1-1.9 4.9-5 1.5,.9 -.8,2.7 -2.3,2.5zM22.2,64.9l.2,.1 1-4.7 -2.7,.3 -3.3,1.2 1.4,1.6 .4,.3zM81.7,135.9l3.5-3.6 -4.3-2.9 -1.6,.2 -.4,2.8 .3,.5 2.3,3zM21.5,10l1.6-4.5 -.8-1 -5.9,.9 0,3.3 3.2,1.7z"/><path id="a210" d="M24.6,68l-.8-5.3 -.8-.8 -1.7,8.5 2.6-.6 .6-1zM146.5,82.4l-1.5-1.3 -.2-4.8 3.3,2.3 -.1,1.8 -1,2zM100.7,23.3l3.2-3.5 3.5,.3 5.3,2.4 -1.8,1.9 -7.7,4.3 -3.8-3.1 .3-.9zM148.4,78.8l-.7-.5 .1-.1 .6-.2 .4,.3z"/><path id="a211" d="M37.2,68.5l1.5,.1 3.2-2 -.4-4.9 -3-.4 -2.2,4.9z"/><path id="a212" d="M31.2,54.9l-.5-1.1 2.8-2.5 1.6,1.9 -.6,1.8zM24.8,42.9l4.5-6.3 3-.5 0,2.8 -4,5.2zM26.8,53.3l3.3-3.8 1.6-4.3 -.9-.3 -5.5,1.9z"/><path id="a213" d="M20.5,74.8l4.2,4.3 -4.2,1.7 -.8-1.8 .1-1.2zM18.6,78.6l-.3,.6 -.7-.9z"/><path id="a214" d="M37.2,68.5l1.5,.1 3.6,5 .3,4.2 -1.7,1.8 -.4-.1 -4-6.5 -.3-3.2 .1-.3zM117.2,79.2l-1.5,.6 -1.9,1.4 4.1,4.4 4.5-1.6 -4.8-4.8zM164.1,227l.1,4 -1.9,.2 -.3-.1 -.5-.5 -.1-.9 1.3-2.3zM10.4,43.5l-4.2,1.3 -.1,.4 2.6,3.4 1.4,0z"/><path id="a215" d="M114.3,97.8l.5,2.3 -2.3,2.4 -2.2,.9 -.8-1.4 4.8-4.2zM0,97.9l4.3-2.3 -3.7,5.7 -.6-.5zM11,99.5l1.7-6.2 -.1-.2 -.1-.1 -2.6-.2 -1.1,.5 -2.4,3.2 .2,1.6 2.1,2.4zM5.7,94.9l-1.9-.5 0,1.5zM20,124.6l-.4-.3 -4.4-1.3 -2.3,1.9 -1.2,5.9zM10.7,232.4l-3.2,0 .9-2.5 .5-.4z"/><path id="a216" d="M93.1,102l.1-3.3 6.7-3.6 2,1 -7.8,6.5zM51.2,14.9l.1-.7 3.8-4.8 6.6,4.1 -.1,.4 -7.6,3zM14.6,40.4l.9-.8 -1.6-.5 .3,1.3z"/><path id="a217" d="M114.3,97.8l-.2-.1 -4.8,1.9 -2.8,1.9 -.1,.2 3.1,.3zM143.3,24.8l-1.2-1.9 .1-10.2 .5-.9 1.4,1.2 1.5,5.1 -.1,1.1 -.2,1.4 -1.7,4.4zM149.4,15.5l-.5-2 -4.8-.5 1.5,5.1 3.1-.8z"/><path id="a218" d="M105.2,110.3l3.9-2.1 -1.7-3 -.8,.2 -2.2,5z"/><path id="a219" d="M104.5,104.5l-1.1,.7 -.9,.2 -4.4-1.5 6-7.5 .4-.2 2,5.3 -.1,.2zM83.9,142l1,3 3.8-4 -.8-1zM94.2,137.4l-5.4,3.6 -.1,0 -.8-1 -1.8-4.2 2.3-2.5 3.4-.8z"/><path id="a220" d="M113.4,92.5l-.4,.1 -.2,.1 1.3,5 .2,.1 0,0zM86.7,69.3l1.1,.6 -.2,1.8 -1.5,1.4 -8.8-2.5 -5.9-2.4 .1-.3 .8-.1zM61.4,53.7l-4.2-5.4 .2-1 4.4-.9 3.6,3.8 -.1,.1z"/><path id="a221" d="M94.1,102.6l7.8-6.5 2.2,.3 -6,7.5 -2.7,1.8zM77.5,111.6l8.5,6.4 -4.1,3.8 -8.4-4.5 -1.1-2.5 2.1-1.9z"/><path id="a222" d="M109.3,99.6l4.8-1.9 -1.3-5 -1.4,.5zM101.9,11.4l4.5,1 1.3-1.3 -5.6-1.5zM66.7,210.9l-.7,2.4 1.6,3.2 3.8-2.2 .6-4.1zM21.8,220.6l-.5-.6 -1.1-.5 -4.6-.7 -.3,.3 2.8,9.4 .2,.4 1,.4 .1,0zM78.9,132.4l-3.2-1.2 -7-7.3 -.5-1.9 3.8-1.2 7.3,8.8zM68.7,123.9l7,7.3 -1.8,.2 -5.4-2.9zM126.2,121l.7-5.1 -.7-1.9 -.7-.8 -1.6,7.5 1.4,.3zM161.2,0l1.1,4.8 -.2,5.9 -.1,.1 -3.3-7.6 .7-3.2zM155.2,0l4.2,0 -.7,3.2 -3.8,1.6z"/><path id="a223" d="M110.5,86.9l0,.1 -6.4,.4 .9-2.6zM49.4,160.1l.7-2 3.6-.4 2.6,3.1 -2.5,2.1 -1.7,.3 -2.7-3zM48.1,163.9l4-.7 -2.7-3 0,0zM18.8,94.5l-3,3.4 -2.9-4.5 5.3-1.1zM107.7,85.8l-.9-.7 -.8,.1zM115,79.3l.7,.5 -1.9,1.4 -1.1,.1 -7.5-5.7 .5-.7zM87.6,170.5l1.1-1.6 3.9,.2 -.1,2.9zM4.1,177.9l.2-1.8 -.1-.4 -2.6,1.7zM0,169.3l1.2,1.1 -1.2,1.5zM48.1,163.9l-.9,.5 .8-2.3 .8-.1z"/><path id="a224" d="M109.3,99.6l2.1-6.4 -4,.6 -2.9,2.4 2,5.3zM57.2,133.3l1.1-2.5 -2.8,1.3 0,.8zM22.7,214.1l-.5-7.3 1.1-.1 2.4,0 .4,5.1zM59.5,128.2l3,4 5.9,1.8 -1.2-3.7 -6.4-4.8zM58.5,134.4l5.9,3.2 0,0 -4.1-3.8 -3-.5z"/><path id="a225" d="M7.8,133.8l1.5-1.1 1.1,2.9 -1.2,.1z"/><path id="a226" d="M21.8,141.7l-1.2-.7 -2-.4 1.1,6.3zM14.4,132.8l7.4,4.2 -1.2,4 -2-.4 -4.9-2.3 -3.3-2.7 -1.1-2.9 1.4-1 1.1,0zM14.4,132.8l7.4,4.2 2.3-.7 0,0 -1.5-2.4zM109.3,4.5l-1.3,6.4 -.1,0 -3-4 2.9-3.1 .7,.1z"/><path id="a227" d="M14.4,132.8l8.2,1.1 -1.1-3 -3.7-2 -6,2.8zM25.4,131l-.1,0 -.4-.1 -4.8-6.4 .8-.6 .1,.1zM145.9,151.2l-4,1.1 -1.9-.2 -.5-.8 -1.5-5.2 5.6-.2 3,2.3zM102.9,172.6l1.8,0 2.4-3.3 -.1-.4 -1.5-.6 -3.9,1.6zM110.6,172.3l1.8,1.7 -.1,0 -4-1.4 .1-.2zM112.8,171.4l-.8-1.2 -1.4,2.1 .8,.7 .1,0z"/><path id="a228" d="M11.8,131.7l-1.1,0 5.6-4.3 1.5,1.5z"/><path id="a229" d="M17.8,128.9l-1.5-1.5 3.8-2.9 4.8,6.4 -3.4,0zM115.6,164.6l-.2,0 -8.4,4.3 .1,.4 3.1,2.2 1-.2zM109.9,172.3l.3-.8 -3.1-2.2 -2.4,3.3zM116.6,177.7l-2.9,.2 -.3-.5 1.6-1.1z"/><path id="a230" d="M19.6,146.9l-3.5-2.5 -3.2-4 .8-2.1 4.9,2.3 1.1,6.3z"/><path id="a231" d="M63.4,141.1l-2,5.2 3.5,2.2 1.1,.2 .5-5.4zM66.9,143.2l-.4,.1 -.5,5.4 1.5,.5zM54,123.8l5,5.5 -.7,1.5 -2.8,1.3 -3.5-4.8zM32.8,216.5l-.3-1.4 -2.3-3.4 -1,2.9z"/><path id="a232" d="M52.7,150.3l1.6,.6 3.3,5.3 -1.7,0 -4.1-3.1zM51.3,154.4l3.8,1.9 .8-.1 -4.1-3.1zM91.7,19.7l1.7-.3 2-1.4 .6-.5 -1.8-2.6 -2.8-.1 -1,3zM86.7,22.9l5.2,4.2 -1.4,1.2 -6.2-3 .5-1.6zM91.6,19.7l.6,7.2 2.7-.2 4.5-1.1 .3-.9 -6.3-5.3 -1.7,.3zM117.6,7.9l1.5,0 1.6,7.1 -2.2,.5 -4.9-4.3 -.6-.8 .1-.2zM98.2,162.8l7.5-.5 -.8,5.1 -3.2-.5 -2.2-1.3z"/><path id="a233" d="M50.1,158.1l3.6-.4 1.4-1.4 -3.8-1.9zM38.8,20.1l-.5,2.4 0,.1 1.8,.4zM91.6,19.7l-4.5,1.5 -2.8-1.9 2.7-2.4 3.4,.9 1.3,1.9zM45.7,149.8l-4.5-.7 -.2-.2 1.1-4 4.9,3.3 -.3,.8zM49.6,156.9l.6,.9 1.6-4.9 -1.7,.8zM44.8,157.9l4.8-1 .5-3.2 -3.4-4.7 -1,.8 -1.8,7.5zM54.8,144.1l-3.2,.8 2,2.8zM38.6,39.9l-2.1,1.5 -2,2.9 3.9,2.7 2-4.8z"/><path id="a234" d="M57.7,162.2l-3.9,.7 2.5-2.1zM67.5,155.6l-1,5 -1.7,.3 -1.4-.5 -4.9-3.7 3.6-2.7 4.9,1zM64.8,160.9l-1.4-.5 -.2,.8z"/><path id="a235" d="M62.6,140.1l-5.8-1.9 -1.6,4.7 6.2,3.4 2-5.2zM99.9,6.6l-7.1,.4 -1.4,1.8 .1,.1 4.9,2.7 4.7-3.6 0-.1z"/><path id="a236" d="M66.1,138.5l-7.9-4.3 -.2,.5 6.5,3.4zM163.7,207l1.4,3.2 -.1,.2 -1.2,.5zM69.1,151.1l2-2.5 .1,0 10,2.9 -1.4,2.8 -1.8,1.2z"/><path id="a237" d="M62.6,140.1l-5.8-1.9 1.2-3.5 6.5,3.4z"/><path id="a238" d="M57.7,162.2l5.5-1 .2-.8 -4.9-3.7 -.9-.5 -1.7,0 -.8,.1 -1.4,1.4 2.6,3.1zM60.6,161.7l-1.9,3.8 -2.1-.2 -3.1-2.4z"/><path id="a239" d="M68.6,160.3l-.4-4.3 -.7-.4 -1,5z"/><path id="a240" d="M64.9,148.5l-3.5-2.2 -6.2-3.4 -1.4,4.1 .5,1.1 5.9,3.9 5.1-1.7z"/><path id="a241" d="M36.7,135.9l6.1-.3 .4-.7 -6.9-1.2 -.2,.7zM49.4,18.2l1.2,2.9 1.4,.8 3.3-1 -1.4-3.9zM45.6,15.1l5.6-.2 2.8,2 -.1,.1 -4.5,1.2 -3.9-2.4z"/><path id="a242" d="M24.6,148.5l-.3-1.6 2.9-1.3 .6,0 5.9,3 -.4,.3 -.5,.3zM34.9,143.7l.5,4.3 -1.7,.6 -5.9-3zM104.9,167.4l.6,.9 -3.9,1.6 -1.1-2.2 1.2-.8zM22.6,119.8l-1.1,1.6 -2.7-.8 .1-2.8 3.3,1.3zM146.4,133.6l4.1,1.5 3.3-2.7 1.3-2 0,0 -1-1.8zM123.8,174.1l-11.8-.5 -.5-.5 0-.1 1.3-1.6 10.1-2.3 1.4,.3 1.4,.4z"/><path id="a243" d="M34.9,143.7l1.4-1.6 -.1-.8 -9.1,.5 .1,3.8 .6,0z"/><path id="a244" d="M133.8,76.8l3.7,6.8 -1.5,2.5 -7.7-2 0,0 -.2-3.3zM40.8,32.4l-.1,3.2 -.8,1.1 -1.2-2.2 1.9-1.9z"/><path id="a245" d="M133.8,76.8l-5.7,4 0-.3 .5-3.2 4.7-3.6z"/><path id="a246" d="M144.2,75.8l-5.5,.9 -.5-2.9 1.6-1.1zM62.5,121.5l0,.2 0,.2 -5-.5 -1-1.2 3.1-2.5 .7,.6z"/><path id="a247" d="M135.6,69.8l-.1,1 -1.7,1.3 -4.4-2 2.2-3zM133.8,76.8l3.7,6.8 .8-.7 .4-6.2 -.5-2.9 -2.7-3 -1.7,1.3 -.5,1.6z"/><path id="a248" d="M128.3,84.1l-.7,2.2 -5.1-2.4 .4-1.4 5.4,1.6z"/><path id="a249" d="M139,82.9l6-1.8 -.2-4.8 -.6-.5 -5.5,.9 -.4,6.2zM145.3,87.7l-1.4,.5 -4.9-5.3 6-1.8 1.5,1.3z"/><path id="a250" d="M128.1,80.8l.2,3.3 -5.4-1.6 1.5-5.8 3.7,3.8z"/><path id="a251" d="M139.8,72.7l-1.6,1.1 -2.7-3 .1-1zM161.2,96l1,.9 .7,.1 1.7-5.7 -2.5-1.6z"/><path id="a252" d="M136.4,44.3l.4-.2 .8-.9 -.4-2.4 -1.3,.1zM103.5,139.1l-5.4-3.2 -.8,.8 3.9,4.4 2.1-1.6zM162.7,128l1.7-.5 2.9-3.5 -1-2.4 -2.3-2.8 -1.7,3zM141.7,216.7l-3.8,.2 -1.7-3 2.2-2 1.3,.4 2.2,4.1zM75.2,85.1l1.3,.6 -.5,.3zM128.3,44l5.5-1.4 .2,.1 1.1,6.8 -2.2,3 -2.3-1.3 -3.2-6.6zM151.4,75.3l3.6,1.6 1.1,.8 1.7,1.6 -.3,3.8 -2.8,.6 -5.2-2.7 -.7-2.6zM98.8,136.3l2.9-1.6 1.4-2 -.2-.8 -1.5-1.4 -2.4,.9 -.3,4.8zM102.6,138.6l2.1,1.3 -.4-1.2 -1.7-1zM104.7,139.9l2.3,1.3 1.3-.1 .8-2.4 -3.9-4.9 -.4-.1 -.5,5z"/><path id="a253" d="M54.7,182.4l3.4,1.4 -2.6,.3zM173.7,197.6l-.2-.2 -2.1-5 1.1-1.7 1.2-.5zM58.6,182.9l-.3,1 -8.2-3.3 .6-.3 4.5-1 .4-.1z"/><path id="a254" d="M36.9,180.9l7.3-.5 1.1,1.2 -.1,1.4 -5.6,2.1zM96.6,71.5l8.6,.3 -2-2.9 -7.7-1.5zM99.7,82.7l-1.1-3.8 -1.9,.9 2.3,3.7z"/><path id="a255" d="M58.1,202.9l2.7,.1 .3-.3 -2.3-.2z"/><path id="a256" d="M46.5,179.2l-1,2.3 3.5-1.3zM57.7,39.9l5.4-4.5 -10.2,.4 -.1,.3 -.4,2.4zM62.9,18.4l-.6-.5 -.7-4 .1-.4 2.6-.5 1.7-.2 4.1,3.2zM7.8,20.7l-2.3,.6 .1-1.4 1-1.7z"/><path id="a257" d="M62.8,195.3l.8,5.2 -1,.8 -2.6-3.5 1-2.4zM63.9,194.9l1.2,.6 2.2-.5 -.1-5 -2.3,1.3zM136.6,70.5l5.2,3.6 1.4-4 -1.8-2.3zM64.5,31.4l.2,1.4 -9.4-1.6 1.8-3.6zM44.9,30.6l-4.2,4.8 .3-5.6 1.3-.6z"/><path id="a258" d="M35.7,188.9l-.7-.2 -4.3,4.1 0,.3 4,5.8 0,0 .9-1.5 1.4-3.5zM38.6,39.9l-2.1,1.5 1.9-2.6 0,.1zM43.4,42.4l2.6,5.4 -7.1,1.5 -.5-2.3 2-4.8zM61.2,56.2l4,.1 1.7,.9 -.6,3.8 -4.7-2.3zM68.9,139.7l-2.3,1.1 .4,3.4 3.2,.5 1.9-3.3z"/><path id="a259" d="M71.5,62.4l.8,2.4 .5-.2 .8-2.1zM163.8,212.6l0,0 -8.1-2.5 0-1.1 5.7-3.8 2.3,.4zM173.7,204.1l-3.2,.5 .5,1.4 2.7,1.4zM165.7,205.3l.4,.9 1.3-1.1z"/><path id="a260" d="M44,61.4l4.9,.2 -1.2,8.5 -.6,.2 -.1,0 -1.6-1.7 -1.8-6.9zM36,11.4l.1-4.2 2.9,.1 .3,.6z"/><path id="a261" d="M64.9,62.2l.1,4.3 -8.5-2.6 -.1-2z"/><path id="a262" d="M64.8,69.7l-4.4-1 -.8,3.7 4-1.2zM85.1,155.6l.5,2.7 -.8,.1 -2.5-1.1zM104.7,35.8l8.7-5.4 .7-2.5 -.2-.5 -5.4,.1zM81.3,157.9l-2.2-.2 .2,1.4zM11.3,49.7l-1.2-1.1 -1.4,0 -4.5,.9 5.6,5.2 .7-.1 1.2-.8 .1-.4z"/><path id="a263" d="M16.2,106.7l2.2-4.4 -.7-1.8 -1.5-.4 -2.3,1.8 -.2,1.4 1.9,3.2zM18.4,102.3l-2.2,4.4 .9,.3 2.7-3.4zM13.9,101.9l-2.9-2.4 -2.3,1 -.4,2.2 1.7,2.2 1.4,.4 2.3-2zM20.9,17.3l-2.1,1.8 -.7-.7 0-.4zM16,25.9l.7-.5 2.8-4 -.7-2.3 -.7-.7 -.8-.2 -4.7,1.3 -.5,3.4 .9,1.8 2.1,1.3zM165.5,133.8l4.1,4.9 .7-7.3 -2.9,0zM162.9,131.2l-.3-4.1 -2.2,2.5 -.2,2.3zM136.4,219.1l-2.5,.7 .4,4 1.9,4.8 .7,.5 4.2,.8 -.8-5.6zM89.7,213.9l7.8,1.7 .4-.7 -1.2-3.4 -3.7-2.3 -3.2,3.3 -.4,.6zM103.8,209.3l-3.4,4.9 7.2,1 0-.1 -1.2-3.5 -2-2.4zM89.1,216.2l-.3,3 5.5,1.9 2.3-.7 .3-.2 .6-4.6 -7.8-1.7zM131.5,119.1l-4.6-3.2 -.7,5.1 2.6,1.9zM159.7,71.1l-1.8-1.3 -1.9,.1 -1.5,1.8 1.1,.9 5.4,.9 .1-.4zM11.3,14.6l1.8,2.4 0,2 -.2,.4 -.5,.1 -5.7-2.7 0-.1 .2-2.6 .1,0zM17,15.6l-1.2-1.3 -1.1-3 1.7-2.6 3.2,1.7zM17.9,17.8l-2.6,1 -1.7,.4 -.5-.2 0-2 2.7-2.7 1.2,1.3zM11.3,14.6l3.1-3.5 -4.1-4.7 -2.4,2.2 -.9,5.5zM18,18l-.1-.2 -2.6,1z"/><path id="a264" d="M8.7,100.5l-2.1-2.4 -4.4,4.2 .2,.3 4.4,1.3 1.5-1.2zM66.7,207.4l-4.2-1.1 -.6-4.4 1.3-1.1 5,.6 .1,1.6zM11.3,49.7l-1.2-1.1 .3-5.1 1.6-2.5 2.2-.6 .4,0 3.4,4.1z"/><path id="a265" d="M4.6,95.5l1.8,1 2.4-3.2zM108,186.3l-5-.6 -1.5-2.4 -.9-2.9 2.3-1.3 4.1,2zM113.3,185.6l7.8,1.6 -.1,2.5 -1.8,.8 -5.1,1.4 -1.2-.1 -3.5-1.2 -.7-3.8zM95.9,183.6l-.6-.3 -.9,1.4 .1,.4 3.5,2.2 1.5,.1 1.3-1.5z"/><path id="a266" d="M4.3,95.6l.3-.1 1.8,1 .2,1.6 -4.4,4.2 -1.5-.9 -.1-.1zM0,97.9l2-1.1 -2-1.9zM173.7,128.4l-.4,1.2 .4,.7zM18.1,228.5l-9-1.7 -.2,2.7 1.8,2.9 .8,0 6-2.5 .8-1zM15.3,219.1l-6.4-.7 -1,3.5 1.2,4.9 9,1.7zM160.5,95.4l-2.9-.8 -2.6-6.2 .9-.8 2.4,2.5z"/><path id="a267" d="M10,104.9l-3.2-1 1.5-1.2z"/><path id="a268" d="M16.7,25.4l2.8-4 4,2.7 -.9,4.6 -3.3-.1zM100,5.4l-2.1-2.8 5.1-.9 1,.7z"/><path id="a269" d="M40.3,27l-2.4-2.5 .4-1.9 1.8,.4 1.1,2.5 -.1,1.4 -.2,.1zM41.3,25.5l-.1,0 -.2,4.3 1.3-.6zM41.2,25.5l0,0 1.3-1.1 1.1,.3z"/><path id="a270" d="M5.7,21.3l-.3,1.4 6.7,.2 .5-3.4zM106.6,161.8l-.9,.5 -.8,5.1 .6,.9 1.5,.6 8.4-4.3 -2.6-2.5 -.9-.4 -4.1-.2zM78.8,30.3l-3,1.1 -7.8,2.1 -3,0 -.3-.7 -.2-1.4 .6-2.9 11.8-2.5 3,1.1 .1,.1 -.7,2.2z"/><path id="a271" d="M40.3,27l-2.4-2.5 -1.1,2.2 3,1.4z"/><path id="a272" d="M35.1,33.9l-4.6-5.6 .6-1.2 .7-1.1 3.6,.4 1.1,.7 -.4,6.5 -.9,.3zM42.5,24.4l-1.3,1.1 -1.8-4.2 2.9-.3 1.1,1.3z"/><path id="a273" d="M33.5,42l-4.5,2.3 -.7-.2 4-5.2zM35.9,42.3l-.7-8.4 -.1,0 -2.5,1.9 -.3,.3 0,2.8 1.2,3.1 1.1,.8zM33.4,45.8l.9-1.2 .3-1.8 -1.1-.8 -4.5,2.3zM26.8,54.8l2.7,.1 4-3.6 -.1-4.4 -3.3,2.6 -3.3,3.8z"/><path id="a274" d="M18,33.7l1.2,2.6 1.6,.7 1.3-2.3 .8-2.1 -.3-3.9 -3.3-.1zM137.3,173.3l3.9-.4 -.9-5.2 -3.2,1.5 -.7,1.4z"/><path id="a275" d="M34.3,44.6l.3-1.8 1.3-.5 0,0zM33.5,51.3l0-2.7 3.8,3.4 -1.2,1.8 -.1,0 -.6-.1z"/><path id="a276" d="M36.2,21.4l2.1,1.1 .5-2.4 -2-4.6 -2.7-1.6 0,0 -.3,.1 -.1,3.1zM36,11.8l2.3,3.3 0,.9 -1.6-.8 -.8-1.8zM34.7,13.7l.1-.7 -1.3-.8 -5.4,1.3 -.3,2z"/><path id="a277" d="M27.2,31.7l1.1,3.5 1,1.4 3-.5 .3-.3 -4.9-4.8zM27.2,31.7l-4.3,.9 -.8,2.1 6.2,.5z"/><path id="a278" d="M117.5,66.3l-2.8,1.6 -9.2-3.3 1.4-3.8 .1,0zM74.8,24.8l2.1,1.2 -11.8,2.5 -.2-3.2 1-1.4 7.6,.5z"/><path id="a279" d="M97.5,74.8l2.2,2.1 -1.6,.2zM140.1,117.9l.1,1.9 -1.1,5.8 -.8-1.2 -1-7.9 .5-.4z"/><path id="a280" d="M99.8,62l-.5-1.4 .9-.9 6.7,1.1 -1.4,3.8 -1,.5 -.1-.1 -2.1-.7z"/><path id="a281" d="M116.2,76l1,3.2 .4,0 6.2-1 .2-.1 .7-2.7 -1.2-1.2 -4.4-.2 -1.9,1zM123.8,78.2l.1,.3 -1.4,5.4 -.1,.1 -4.8-4.8z"/><path id="a282" d="M109.1,74.3l5.9,5 .7,.5 1.5-.6 -1-3.2zM147.2,166.2l-1.6,5.4 -1.1,.9 -3.3,.4 -.9-5.2 1-1 5.1-1.2z"/><path id="a283" d="M101.8,58.1l-1.6,1.6 6.7,1.1 .1,0zM101.8,58.1l2-4.1 3.7,1.1 1.1,3 -.5,3.3z"/><path id="a284" d="M106.6,73l-1.4-1.2 -2-2.9 1.3-3.8 1-.5 9.2,3.3 -.5,.9 -3,2zM113.5,57l-.2-.1 -4.7,1.2 -.5,3.3 5.9,3.1 .2-.8z"/><path id="a285" d="M95.5,64.5l-.6,.6 .2,1 .4-1.5zM164.9,142.6l.7-.9 4.4,4.4 -6.2,3z"/><path id="a286" d="M91.6,19.7l.6,7.2 -.3,.2 -5.2-4.2 .4-1.7zM133.8,68.6l2.8,1.9 4.8-2.7 -.5-1.3 -2.4-1.4 -4.7,3.4zM63.8,119l-.8-.7 -2.7,0 2.2,3.2 .1,0zM102.1,191l-2.1-.8 -.5-2.8 1.3-1.5 2.2-.2 5,.6 .7,.5 .7,3.8 -.7,.3zM66.1,174l-1.3,2 -7-1.2 3.3-4.3 4.3,1.5 0,0z"/><path id="a287" d="M84.3,19.3l-2.5-.1 -.6,1 .7,2.3 2.9,1.2 1.9-.8 .4-1.7zM79.8,15.8l5.8-1.1 .7,0 .7,2.2 -2.7,2.4 -2.5-.1 -1.9-3.1zM32.8,215.7l1.4,.4 3.5-.6 .5-1 -2.8-2.8 -3,.6zM151,103.2l3.5-5.3 -1.8-3.1 -3,.8 -2,.9 -2.3,5.7 3,1.2zM124.6,52l-.3,.3 -.3,1.6 3.2,3.8 .1,0 6.1-1.2 -.5-4 -2.3-1.3zM166.2,16.5l1.6-2.4 .2-.9 -.7-6.1 0,0 -2.1,.6 -3.1,3 -.1,.1 -.3,2 1.2,3.4z"/><path id="a288" d="M101.4,16.5l.5,.2 3.9-2.9 .6-1.4 -4.5-1 -1.8,2.6zM47,148.2l1.9-4.3 -1.8-4.6 -1.3-2 -.8,.1 -2.9,4.1 0,3.4z"/><path id="a289" d="M96.4,31.3l-1.5-4.6 -2.7,.2 -.3,.2 -1.4,1.2zM156.8,97.6l-3.5-3.4 -.6,.6 1.8,3.1z"/><path id="a290" d="M118.3,15.7l-4.2,6.7 -1.4,.1 -5.3-2.4 2.2-4.4 .4-.2zM113.6,203.3l.2,1.1 .8-.1 .5-2.4z"/><path id="a291" d="M79.2,11.1l3.7,.1 2.2-.6 3.2-2.2 -1.1-.9 -7.5-.2zM113.7,56.9l1-5.5 4-3 .4-.1 .1,5.9 -2.5,3.8zM13.9,203.6l.4,.6 -7.1,3.9 -1.2-3 1.9-3zM80.5,0l-.3,2.6 -2.9,.8 -2.2-3.1 .6-.3zM79.5,8.4l-.2,1.6 -1.1-1.2zM80.2,2.6l-2.9,.8 -.8,4.3 1.7,1.1 1.3-.4z"/><path id="a292" d="M95.4,18l5.3,5.3 -1,1.4 -6.3-5.3zM9.2,158.1l-.6,.8 1.8,3.9 2.2-3.6 -1.1-1.4 -1.2-.1z"/><path id="a293" d="M80.1,4l.4-4 5,0 2.3,1.9 -1.7,2.8zM36.9,204.7l1,4.2 2.9,.5 .8-3.5zM43.8,202.4l-9.7-.4 -.8,.7 -.1,.2 3.7,1.8 4.7,1.2 .9-.3 1.3-1.6zM36.9,204.7l-3.7-1.8 -1.7,1.2 .2,2.3 3.3,3.8 2.9-1.3zM37.9,208.9l-2.9,1.3 .4,1.5 2.8,2.8 4.3-1.2 -1.7-3.9zM31.7,206.4l.7,5.9 3-.6 -.4-1.5zM63.8,119l-.8-.7 -4.4-6.4 .5-.2 6.2,4zM67.1,145.4l3.3-.1 -.2-.6 -3.2-.5z"/><path id="a294" d="M110.1,14.4l-2.3-3.4 -.1,.1 -1.3,1.3 -.6,1.4 3.8,1.9 .4-.2zM116.7,6.8l-4.2,.5 .6,2.9 4.5-2.3zM112.5,7.3l-.7-1.8 -2.5-1 -1.3,6.4 5-.5 .1-.2zM113.6,11.2l-.6-.8 -5,.5 -.1,0 -.1,.1 2.3,3.4z"/><path id="a295" d="M96.6,12l-.2-.4 -4.9-2.7 -1.5,4.2 1.4,1.7 2.8,.1zM169.8,203.7l-7.4-3.8 -.5-3 .4-3.1 4.3,.4 2.9,7.4zM173.7,204.1l0-1 -.2-.1 -3.5,1.2 0,.4z"/><path id="a296" d="M116.7,6.8l-.9-2.5 4,3 -.7,.6 -1.5,0zM149.6,136.6l-4.2-1.3 .9-1.7 4.4,1.5 -.4,1.1 -.4,.4zM150.7,135.1l-.4,1.1 6.5,1.1zM149.6,136.6l-3.3,4.7 .2,.7 5.6,2.4 -2.2-7.8zM44.8,157.9l.2,.9 3,3.3 .8-.1 1.4-4.2 -.6-.9zM149.8,114.3l-3.5,1.9 -.5,2.3 .2,.1 4.7-3.7zM2.1,213.4l-2.1,4 0,1.6 6-4.1 -3-1.4zM120.6,145.3l0,.1 -2.1,.3 .2-.3zM118.3,124.6l.2-2.7 -1.2-4.5 -.5-.5 -5.2,.9 1.6,6.2zM165.5,87.1l5.4,3.2 -4.4-7.8 -1.3-.3 .1,4.7zM7,14.1l-.1,0 -6.3-3.5 .4-2.8 2.7-3.5 1.6,.6 2.6,3.7zM12,41l-5.8-2.3 -.1,0 -.4,.3 -1,4.3 1.5,1.5 4.2-1.3z"/><path id="a297" d="M111.8,0l-5,0 -.3,2.7 1.3,1.1 .7,.1 2.6-2.5z"/><path id="a298" d="M79.7,7.3l7.5,.2 -1.1-2.8 -6-.7zM116.6,216.9l-.7,2.6 .9,1.8 4.8,3 1.2,.2 1.1-5.8z"/><path id="a299" d="M96.6,12l-.2-.4 4.7-3.6 1,1.6 -.2,1.8 -1.8,2.6z"/><path id="a300" d="M114.3,22.5l-.2-.1 -1.4,.1 -1.8,1.9zM87.7,159l.9,1 -1.3,1.8 -4.7,3.1 -1.4-.1 .6-2.3 3-4.1 .8-.1zM32.9,219.4l-2,9.4 -3.1-6.3zM34,218.5l-.6,.7 -.5,.3 .2-.9zM37.7,223.3l.1,.1 .7,3.3 -5.9,2.6 -.7-2.2 -.1-2.5 .1-.6 4.9-.8zM36.8,223.2l-4.9,.8 1-4.5 .5-.3z"/><path id="a301" d="M11.3,92l-2.1-3.1 3.1-1.2 3,2.1 .1,.1zM15.3,89.8l-3-2.1 -.9-7.4 .2,.1 3.8,6.4zM110.7,208.4l.3,1.5 -2.1,6.7 -1.3-1.4 0-.1zM104.4,209.2l2,2.4 4-3.7 -2-.3 -3.4,.5z"/><path id="a302" d="M19.6,78.9l-1-.3 -.3,.6 1.6,3.6 1.4-.4zM125.2,191.7l.5,0 1.6-1.4 -.2-.7 -2.6,1.6zM56.4,49.6l.8-1.3 4.2,5.4 -.5,2.2 -3.7,.3 -.7-1.1z"/><path id="a303" d="M23,86l-1.7-3.6 -1.4,.4 .1,.8 2.4,2.7zM29.4,87.2l.6,.5 2.4,.5 2.7-2.2 .1-.8 -1.2-.4zM37.6,82.9l-.1,.7 -2.3,1.6 -1.2-.4zM138.2,58.2l-4.2,3.1 2.7,.6 2.3-3.4 0-.2zM126.3,127.7l-3.4,5.7 -1.2,.5 -.4,.1 -3.4-4.3 .5-1.3 4.5-2.4zM120.6,127.2l2.3-1.2 0-.3 -1.5,0z"/><path id="a304" d="M3.8,94.4l0,1.5 -1.8,.9 -2-1.9 0-9 .3,0 1.6,3.2zM110.6,172.3l.6-1 -1,.2 -.3,.8zM14.9,162.9l.4-.5 1.9,2.2 -1.7,1.7z"/><path id="a305" d="M73.6,162.5l-1,1.5 -.2-.8zM103.8,209.3l-3.4,4.9 -2.5,.7 -1.2-3.4 3-3.7zM161.2,96l.9-6.3 -.1-.2 -.8-.7 -2.9,1.3 2.2,5.3z"/><path id="a306" d="M82.6,164.9l4.7-3.1 -.4,3.7 -3,.2zM152,74.6l-3.2-5.9 -1.3,.9 .9,8.4 .4,.3zM153.5,72.9l1.5,4 -3.6-1.6zM59.6,0l-.6,.9 .5,2 .4,.2 6.7,.1 0-1.5 -1.5-1.7zM56.8,0l2.2,.9 .6-.9zM49.9,13.1l1.4,1.1 3.8-4.8 -.1-.1 -2.5-.5 -.1,0 -2.6,1zM53.1,2.8l3.2,2 3.2-1.9 -.5-2 -2.2-.9 -5.3,0 0,1z"/><path id="a307" d="M82.3,157.3l-1.7,1 0,1.9 1.2,2.3 3-4.1zM116.5,216.8l-.5-2.9 3.4,.5 5.4,2.9 -.2,1.3 -.7,.1 -7.3-1.8z"/><path id="a308" d="M81.2,164.8l.6-2.3 -1.2-2.3 -4.9,1 -1.6,1 5,3.4 .4,.2z"/><path id="a309" d="M83.9,165.7l3-.2 1.2,1.7 -3,.2zM150.1,221.2l-3.4,4.2 -1.6,.8 .1-6.2 3.9-2zM60.8,167.6l-7.5,4 0,.2 0,0 4.2,3.1 .3-.1 3.3-4.3z"/><path id="a310" d="M74.6,219.2l.2-1.8 4.9-1.7 .4,.3 .4,2.1 -4.7,1.8z"/><path id="a311" d="M161.9,150.4l-4.6-4.1 4-4.9 3.6,1.2 -1.1,6.5 -.9,1.3zM105.8,144.1l-1.2,.2 .9-1.2 .4,.6zM123.4,133.3l8,2.3 4.3-3.3 -4-2 -7,2.3zM48,61.6l-.8-.1 3.7-6.2 1.1,2.1 -3.5,4.1z"/><path id="a312" d="M161.9,150.4l-3.5,2.5 -.2,2 5.2-3.6 -.5-.9z"/><path id="a313" d="M139,137.6l-.4,.2 1.2-3.5 1.3-.8 -1.4,3.5z"/><path id="a314" d="M114.5,49.8l4.2-1.4 -4,3zM14.6,171.4l.3,.8 2.1,1.5 4.4-4 -2.3-2.8 -4.4,4.4zM74,37.6l-2.2-.5 .2,3.7z"/><path id="a315" d="M113.5,57l.7,6.7 1.7,1.8 3.4,1.7 -.2-3.1 -2.4-6.1 -3-1.1zM153.2,112.3l-1.1,1.8 2.1,4.9 1.3-.4 4.7-6.2 -3.6-2zM158.3,120.8l3.7-2.6 -.4-6.9 -1.4,1.1 -4.7,6.2 2.3,2.3zM156.6,110.4l4.7-2.7 .3,3.6 -1.4,1.1zM21.4,57.9l-4.4,3.1 -6.3,.8 0-.7 6.6-4.7z"/><path id="a316" d="M119.3,67.2l4.6,2.4 0,0 0-.1 0-8.2 -2-2.7 -2.8,5.5zM81.7,135.9l1.4,4 -1.8,.8 -5-3.9z"/><path id="a317" d="M95.7,157.8l.2,.3 6-1.4 2.5-5.5 -2.5,.1 -6.4,5.9zM92.3,154.8l-.3,.5 3,1.1 3.8-4.8 0-.1zM133.5,216.2l.1,.8 -.1,.2 -2.9,.6 -1.4-1z"/><path id="a318" d="M107,141.2l-1.5,1.9 .4,.6 3.8-1.6 -.3-1.2z"/><path id="a319" d="M82.8,139.1l-.7-2.2 .6-.3 .8,0zM153.5,188.2l2.3,2.6 -2.5,3.6 -1.4-2.5 0-.9zM161.3,107.7l.3,4.5 4.6-2.9 -.4-1.8 -3.7-.8zM146.6,109.2l-1.4,1.8 -4.5-3.8 .8-1.9 3.9-3.1 3,1.2zM85.2,212.1l4.2,1 .3,.8 -.6,2.3 -4.8-2.1zM84.7,221.7l2.2-1.1 .7-1.2 -4.6-2.6zM42,25.2l6-1.9 -.9,2.8 -2.3,.1zM70.7,113.4l-4.9,1.1 1.2-2.5 2.3,.1zM46.7,23.7l-3.1,1 -1.1-.3 .9-2.1 2.7,.8zM79,13.1l-8.9,2.9 -4.1-3.2 4.1-3.3 2.9-1.6 3.5-.2 1.7,1.1 1.1,1.2zM46.7,23.7l-.6-.6 1.6-2 2.9,0 1.4,.8zM5.7,39l-5.7,.4 0-3.7 1.8-.8 2.1,.7 2.2,3.1z"/><path id="a320" d="M92.8,152.3l0-.9 6.1-7.3 1-.5 .4,2.3 -.7,2.5zM101.2,141.1l-1.3,2.5 -1,.5 -.9,.3 -5.6,.9 2.9-8.3 1.1-.6 .9,.3z"/><path id="a321" d="M90.1,150.7l2.7,.7 6.1-7.3 -.9,.3zM51.5,144.8l-2.6-.9 -1.8-4.6 5.8-1.3 2.4,2.3zM58,134.8l0,0 -.8,.9 .1,1.2z"/><path id="a322" d="M94.2,137.4l-5.4,3.6 1.6,5.2 2-.9 2.9-8.3z"/><path id="a323" d="M94.2,137.4l-2.4-4.9 .2-.2 4.8,2.8 -.4,1.3 -1.1,.6z"/><path id="a324" d="M160.7,191.7l-1.2-4.9 1.6-1.6 1.3-.5 5,7.7 .1,.8 -.9,1 -4.3-.4zM166.7,183.6l-.8,.7 1.5,8.1 .1,.8 3.9-.8 1.1-1.7 -3-4.9z"/><path id="a325" d="M173.5,197.4l-2.1-5 -3.9,.8 -.9,1 2.9,7.4zM160.3,191.8l-4.9,3.8 2.3,3 4.2-1.7 .4-3.1 -1.6-2.1z"/><path id="a326" d="M163.7,205.6l-1.8-.3 .5-5.4 7.4,3.8 .2,.5 0,.4zM165.1,210.2l-.1,.2 6.2,4.9 1.4-1.3 -1.2-3.5 -1.1-1.6 -3.8-1.1z"/><path id="a327" d="M162.6,180l-2,0 .5,5.2 1.3-.5 1.4-.6z"/><path id="a328" d="M173.7,201.6l0-4 -.2-.2 -4,4.2 .3,2.1 .2,.5 3.5-1.2z"/><path id="a329" d="M163.8,184.1l-1.4,.6 5,7.7 -1.5-8.1zM164.4,127.5l2.9-3.5 2,1.8 -2.2,2.7z"/><path id="a330" d="M153.5,188.2l2.3,2.6 4.5,1 .4-.1 -1.2-4.9 -3.2-3.3zM167.3,124l-1-2.4 3.5-3.2 .9,2.7 -1.4,4.7 0,0z"/><path id="a331" d="M170,106.3l-.7-2.6 -3.2,.5 -.3,3.3 .4,1.8 .8,1.7zM161.3,107.7l1.1-1.2 -1.6,.6 -1.2,1.6zM52.3,54.4l4.2,.7 -.1-5.5 -2,1zM104.7,35.8l-1,1.2 0,.2 .9,.3 9.5-4 -.7-3.1zM169.2,103.7l-6.3-1.7 -.2,1.2 1.6,1.4z"/><path id="a332" d="M172,103.2l1.6-.3 -.5,1zM163.9,104.6l2.2-.4 -.3,3.3 -3.7-.8zM1.6,170.3l-.4,.1 -1.2,1.5 0,5.1 1.6,.4 2.6-1.7 .8-1.2 -2.4-3.4 -.6-.7zM162.5,103.3l1.4,1.3 -1.5,1.9 -1.6,.6zM169,99.1l4.2,3.9 .5-.1 0-3.3 -2.8-2.4zM173.2,103l-4.2-3.9 -1.6,.3 2.5,4.2zM162.5,103.3l1.4,1.3 .4,0 -1.6-1.4z"/><path id="a333" d="M167.1,128.5l2.2-2.7 0,0 1.7,3.9 -.1,.4 -.6,1.3 -2.9,0zM148.1,38.2l-.3,0 1.3-4.8 .7,.1 .6,2.8z"/><path id="a334" d="M173.7,102.9l0,5.7 0,0 -.1-.1 -.5-4.6 .5-1zM99.9,39.1l2.3-.5 -1.5,3.1zM169.9,103.6l-.7,.1 -6.3-1.7 -.7-5.1 .7,.1 1.6,.5 2.9,1.9zM169,99.1l-1.6,.3 -2.9-1.9 3.6-3.9 1.3,.7 1.5,2.9z"/><path id="a335" d="M162.3,121.8l-.7-9.5 2.5,5.2 -.1,1.3z"/><path id="a336" d="M173.7,146.9l-.9-.1 .7-1.7 .2,0z"/><path id="a337" d="M162.7,128l1.7-.5 2.7,1 .3,2.9 -1.9,2.4 -2.5-.9zM135.1,232.4l-.1-1.2 1.9-2.1 4.2,.8 .4,.3 .7,1.8 -.3,.4zM122.7,231l.1-1.2 -.8-.6 -3.5,1.5zM122.7,231l-.3,1.4 -2.5,0 -2.2-1.7 .8,0zM170,21.2l3.6-3.2 -5.6-4.8 -.2,.9 1,8z"/><path id="a338" d="M60.4,205.3l.4-2.3 -1.1-.1 -.9,.6z"/><path id="a339" d="M36.1,91.9l2.8-.2 0-1.3 -3.8-4.4 -2.7,2.2 .6,1.9z"/><path id="a340" d="M40.7,95.1l-3.2,2.2 2.8,3.8 3.5,.1 .5-.8 -1.8-3.6z"/><path id="a341" d="M28.1,90.4l.4,.1 1.1,1.2 0,.5 -1.1,.6zM103.8,232.4l1.5-4.5 -4.4,3.9 .2,.6zM148.5,214.7l-.3,.4 1.8,5.6 1.9-.3 .9-1 .4-6.5z"/><path id="a342" d="M42,86.3l-.6-.7 -3.9-2 -2.3,1.6 -.1,.8 3.8,4.4 3.2-3.9zM66,213.3l1.6,3.2 .1,3.3 -5,1.7 -.8-1.1 -.1-4.8 2-1.9z"/><path id="a343" d="M47.5,93.6l-.7-.4 -.7-3.5 0-.1 1.6-.3zM87.2,130.2l.5-.5 .5-3.4 -4-1.2 0,.9z"/><path id="a344" d="M46.8,105.6l.3-5.9 -2.8,.7 -.5,.8 1.7,5.2zM108.6,40.7l5.9-6.6 2.4,.1 -.1,6.6 -8.2,1.2 -.1,0z"/><path id="a345" d="M47.3,95.8l-4.8,1 1.8,3.6 2.8-.7zM85.2,132.3l-4.3-2.9 3.3-3.4 3,4.2z"/><path id="a346" d="M46.8,93.2l-6.1,.8 -1.5-2.1 6.9-2.2zM105,208.1l3.4-.5 -1-2.3 -.4-.2 -2.2,1.4zM108.9,203.2l3.8,1 -1.9,1.8 -1.6-1.1zM108.9,206l.3-1.1 1.6,1.1 -.6,.6z"/><path id="a347" d="M29.6,91.7l3.4-1.6 3.1,1.8 -.3,.3 -3.8,2.1 -2.4-2.1z"/><path id="a348" d="M138.5,65.1l-1.8-3.2 2.3-3.4 4,2.5 -2.1,5.5z"/><path id="a349" d="M154.5,71.7l-1.5-2.6 2.2-.9 1.7,.6zM145.2,87.8l.7,5.1 -.3,.6 -1.3,.2 -3.2-3.4 2-1.9zM143.1,88.4l-4.2,1.4 2.2,.5zM132.1,119.1l.8-1 5.4,6.3 .8,1.2 .5,1.4 -.3,2.4 -1.5,0 -2.4-1.4 -2.1-3.3zM128.8,230.4l-6.1,.5 .4-3 2.5-2.8 3.4,1.6 1.2,2.2zM132.1,232.4l3,0 -.3-3.2 -3.1,.3z"/><path id="a350" d="M154.5,71.7l-1.5-2.6 -3.6-1.4 -.6,1 3.2,5.9z"/><path id="a351" d="M133.8,68.6l-3-2.1 .9-3.6 .8-.6 1.3,6.2zM90.5,205.6l-.3-.6 -1.2,.7 1.3,0zM85.5,209.3l-1.6-.3 1.2-.8 .5,.9zM95.3,190.5l4.7-.3 -.5-2.8 -1.5-.1 -3.1,.5zM126.7,44.7l-2.1,7.3 -.3,.3 -4.9-4.2 2.3-2.7 2.6-1.1zM141,2.6l-.7-2 -.7-.4 -2.3,3.1 .7,4.2 2.3,5.1 1.9,.1 .5-.9 .1-1z"/><path id="a352" d="M7.4,133.7l.3-.1 -4.9-6.8 -.9,1.2 4.1,5.4z"/><path id="a353" d="M6,133.4l-3.1-.7 -1.6-3.5 .2-.9 .4-.3zM2.9,132.7l-2.9-.7 0-.6 1.3-2.2z"/><path id="a354" d="M7.7,133.6l.8-.3 2.6-2 -3.2-4 -4.6-1.4 -.5,.9z"/><path id="a355" d="M11,118.1l1.6,.5 -.3,4.8 -1.3-1.8z"/><path id="a356" d="M7.9,127.3l3.2,4 .6-.5 1.2-5.9 -.6-1.5 -1.3-1.8 -.4-.3 -1.9-.1 -1.1,4.2zM108.1,202.5l4.8-3.2 4.6,.3 -4.8,4.6 -3.8-1zM104.1,203.9l4.8,2.1 .3-1.1 -.3-1.7 -.8-.7 -3.1-.4zM105,202.1l-4.6-1.7 1.3-3.6 4.3-1.2 6.7,3.5 .2,.2 -4.8,3.2zM125.9,40.3l.6-.7 .4,1.2zM67.8,42.4l-.7,1.4 -3.3-.5 -.2-1.9zM62.5,45.2l1.3-1.9 -.2-1.9 -5.5-1.4 -.3,.3z"/><path id="a357" d="M66.7,210.9l-.7,2.4 -2.2,.4 -1.7-6.3 .4-1.1 4.2,1.1zM68.3,203l-.1-1.6 1.2-2.7 6.1,4.9 .9,3.6 -3.6,1.5zM66.7,210.9l5.3-.7 .8-1.5 -4.5-5.7 -1.6,4.4zM166.5,207.8l3.8,1.1 .7-2.9 -.5-1.4 -3.1,.5 -1.3,1.1z"/><path id="a358" d="M72,210.2l-.6,4.1 2,3.5 1.2-.3 1.1-1.9 1.1-8.1 -.4-.3 -3.6,1.5zM160.4,225.9l2.3,1.5 1.4-.4 -.1-3.8 -1.5,.3 -1.9,1.9z"/><path id="a359" d="M59,216.1l.1-.9 1.4-.5 1.3,.9 .1,4.8z"/><path id="a360" d="M74.6,217.5l1.1-1.9 1.6,.9zM80.5,215.5l-1.2-8.1 -2.5,.1 -1.1,8.1 1.6,.9z"/><path id="a361" d="M62.1,207.4l-2.2,1.6 .9-6 1.1-1.1 .6,4.4z"/><path id="a362" d="M69.4,198.7l-2-1.6 -4.2,3.7 5,.6zM55.9,92.8l-4.7,4.3 -2.7-2.5 3.6-1.7 2.7-.3zM63.3,95.1l-.9-2.7 -2.3-.8 -4.2,1.2 -4.7,4.3 .3,2.7 1.5,1.6 .4,0 6.9-2.7 2.5-1.8 .5-1.6z"/><path id="a363" d="M5.2,159.3l4-1.2 -.6,.8 -3.1,2.8 -.1-.1zM47.5,48.6l7.7-3.5 -.4-1.8 -2.9-2.7 -.6,.2z"/><path id="a364" d="M66.8,105.5l1.9,1.3 .3,.8 -.4,1 -3.8-1.9 -.5-1.2zM66.6,62.3l-.3-1.3 -4.7-2.3 -1.5,3.3z"/><path id="a365" d="M52,127.3l3.5,4.8 0,.8 -1.9-.4 -6.2-3.3 -.8-5.7 .8,.3 2.4,1.2zM68.1,178.8l-1.7,2.7 3.9,2.8 .4-.3 .7-4.6 0,0z"/><path id="a366" d="M63,118.3l-4.4-6.4 -1,0 2,5.8 .7,.6z"/><path id="a367" d="M62.5,121.9l-5-.5 2.7,5.3z"/><path id="a368" d="M56.5,135.5l-2.6-2.4 -2.3,.3 2.1,3.5zM61.2,56.2l-.3-.3 -3.7,.3 -1.2,2.3 1.7,3.4 2.4,.1 1.5-3.3zM123.8,174.4l0-.3 -11.8-.5 3.9,3.5 2.9,.9 4.7-3.3z"/><path id="a369" d="M47.8,131.4l-2.4,1.8 1,2.5 2.2-2.7 .3-1.4zM47.1,139.3l-1.3-2 .6-1.6 2.2-2.7 3,.4 2.1,3.5 -.8,1.1zM44.3,124.5l.6,1.2 1.1,5 -1.5,2.6 -1.7-1.2 1.4-7.5 .1-.1z"/><path id="a370" d="M37.4,147.3l.2,.8 3.4,.8 1.1-4 0-3.4 -.3,.2z"/><path id="a371" d="M46.7,149l.3-.8 1.9-4.3 2.6,.9 .1,.1 2,2.8 -1.8,5.2 -1.7,.8z"/><path id="a372" d="M56.2,140l-.9,.3 -2.4-2.3 .8-1.1 2.8-1.4 .7,.2 .1,1.2zM123.1,212.1l1.7,2.7 2.4-3.3 -3.2-.4zM57.2,133.3l2.3-5.1 3,4 -2.2,1.6 -3-.5z"/><path id="a373" d="M48.9,131.6l5.1,1 -.1,.5 -2.3,.3 -3-.4zM44.9,125.7l1.1,5 1.2-.4z"/><path id="a374" d="M133.6,100.5l3.5-.2 -1.1-6 -.3-.4zM137.1,100.3l-1.1-6 4.6,2.4 -3,3.7zM131.8,106.6l2.1-.9 3.8-3.1 -.1-2.2 -.5-.1 -3.5,.2z"/><path id="a375" d="M146.3,116.2l-2.2-1.1 0,0 .3-.2 2.5,1z"/><path id="a376" d="M145.9,92.9l2.3-3.3 .4-.1 2.7,2.7 -1.6,3.4 -2,.9 -2.1-3z"/><path id="a377" d="M151.7,104l4.5,.2 3.4-3.8 -2.8-2.8 -2.3,.3 -3.5,5.3z"/><path id="a378" d="M138.7,109.5l-.3,2.6 -.1,.1 -3.2-1.6 .1,0z"/><path id="a379" d="M159.6,100.4l2.9,2.9 -1.7,3.8 -1.2,1.6 -4.1,2.3 -.3-.5 1-6.3z"/><path id="a380" d="M131.1,108.7l4,1.9 .1,0 -1.3-4.9 -2.1,.9zM131.5,119.1l-4.6-3.2 -.7-1.9 1.5-1.1 3.8,.3 1.1,2.4 .3,2.5 -.8,1zM132.6,115.6l4.7,.9 .5-.4 -1.4-4.8 -1.1-.6 -3.9,1.8 .1,.7z"/><path id="a381" d="M157.4,136.3l-.9,.9 -2.3-.8 -.4-4 1.3-2 5.3-.8 -.2,2.3zM134.7,228.5l1.5,.1 -1.9-4.8zM133.5,217.2l-2.9,.6 -1.9,1.1 1.2,6.5 2.7-3.2zM126.4,186.5l.4-.6 -3-1.7 0,0zM123.8,184.2l3,1.7 2.8-3.3 -4.6,.8z"/><path id="a382" d="M150.5,135.1l3.3-2.7 .4,4z"/><path id="a383" d="M144.3,132.5l-.3,.3 -1.2-.4 0-.2 1.6-.4zM139.8,134.3l-.9,2.7 .1-3.1z"/><path id="a384" d="M153.2,112.3l-3.4,2 .9,.6 1.4-.8z"/><path id="a385" d="M96,202.2l-.2-.8 1.2-.7 3.2,1.4 -.7,1.1zM92.8,205.5l-1,.6 -1.3-.5 -.3-.6 5.6-3.6 .2,.8zM61.2,56.2l-.3-.3 .5-2.2 3.9-3.4 -.1,6zM129.3,123.7l1,2.2 -1.8,2.2 -3.2-7.1 .9,0 2.6,1.9z"/><path id="a386" d="M103.8,209.3l-4.1-1.5 -.1-1.1 .7-2.1 3.3,.1 1.2,1.8 .2,1.6 -.6,1.1zM148.7,17.3l-.6,2.8 -2.6-.9 .1-1.1z"/><path id="a387" d="M110.2,206.6l-2.8-1.3 1,2.3 2,.3 .1,0zM110.5,207.9l-.1,0 -4,3.7 1.2,3.5 3.1-6.7zM107.7,220.4l1.4,.8 7.7,.1 -.9-1.8 -7.2-2.4z"/><path id="a388" d="M100.3,204.6l-.8-1.4 -3.5-1 -3.2,3.3 6.8,1.2zM65.5,177.1l-5.6,5.4 5.3,.6 1.2-1.6 1.7-2.7z"/><path id="a389" d="M103.6,204.7l.6-.8 -4-1.8 -.7,1.1 .8,1.4z"/><path id="a390" d="M116.5,181l4.2,.5 .1,0 -4.2-3.8 -2.9,.2 -.3,1.5zM29.7,199l-.5,.1 .3,.7 .7,.1z"/><path id="a391" d="M98.3,181l-2.7,1.9 -.3,.4 .6,.3 5.6-.3 -.9-2.9zM101.5,183.3l-5.6,.3 4.9,2.3 2.2-.2zM120.6,196.7l-3.1,2.9 -4.6-.3 -.2-.2 .2-7.3 1.2,.1 6.3,4.6z"/><path id="a392" d="M120.6,196.7l3.7-3.6 -2.5,1.1 -1.4,2.3z"/><path id="a393" d="M115,176.3l-2.6-2.3 -.1,0 .9,3.3 .2,.1zM123.7,206.6l1.3-.1 1.6-2.5 -1.9-2 -1.4,2.5z"/><path id="a394" d="M89.6,91.9l2.7-1.9 -6.9-2 -5.1,2.7 2.4,2.7 .9-.1z"/><path id="a395" d="M89.8,94.7l-1.2,.3 -5-1.7 6-1.4 .9,1.9z"/><path id="a396" d="M67.9,77l1.9-4.6 1.8,1.7 -3.2,3.4z"/><path id="a397" d="M127.5,194.2l-1.8-2.5 1.6-1.4 2.1,1.3 -.8,2.7zM114.1,106.9l3.1-.7 .1,0 4.7,2.3 -4.2,1.2 -2.3-.6z"/><path id="a398" d="M113.6,203.3l.2,1.1 -.5,.5 -.6-.8zM114.6,204.3l.1,.2 .9,7.9 -4.6-2.5 -.3-1.3 2.6-3.7 .5-.5 .8-.1zM110.2,206.6l2.5-2.5 .6,.8 -2.6,3.7z"/><path id="a399" d="M20.8,73.3l-1.8-1 -2.7-.7 -2.3,4.3 6.3-.4zM21,68.2l.7,.3 -.9,4.8 -1.8-1 -.6-4.1 .3-.3zM19.4,78.8l.3-.2 .6-3.1 -6.3,.4 -1.4,1z"/><path id="a400" d="M16.3,71.6l-5.5-2.4 -.9-1.6 2.9-2.3 0,0 1.1,.1 4.5,2.8 .6,4.1zM14,75.9l-1.4,1 -3.1-.8 -.1-.2 -1.2-4.4 2.6-2.3 5.5,2.4z"/><path id="a401" d="M16.7,208.4l.5-2 -2.9-2.2 -7.1,3.9 .8,3.5zM16.7,208.4l.5-2 1.6-1.2 3.4,1.6 .5,7.3 0,.2 -5.7-1.5z"/><path id="a402" d="M11.5,232.4l6-2.5 -1,2.5z"/><path id="a403" d="M7.7,215.2l-1.7-.3 -3-1.4 -1.5-8.6 2.6-1 1.9,1.2 1.2,3 .8,3.5z"/><path id="a404" d="M48.5,94.6l-1.1-.2 -.3,4.8 4.4,.6 -.3-2.7zM46.9,103.4l2.6-.7 3.5-1.3 -1.5-1.6 -4.4-.6z"/><path id="a405" d="M122.8,229.8l.8-5.1 -.8-.2 -1.2-.2 -1.2,.8 1.6,4.1z"/><path id="a406" d="M116.5,216.8l-7.2-1.4 -.6,1.7 7.2,2.4 .7-2.6zM41.2,172.2l.1-.1 12-.3 0,0 -3.6,3.6 -8.5,.3 -.7-.7zM44.2,167.3l8.9,3.7 0-1.4 -4.2-4.8zM22.4,15l2.9,1.2 2.5-.7 .3-2 -.8-6.6 -.7-1.9 -3.5,.5 -1.6,4.5zM21,17.3l4.3-1.1 -2.9-1.2z"/><path id="a407" d="M105.8,226.3l1.2-3.9 1.6,.3 1.2,4.5 -.4,0z"/><path id="a408" d="M109.1,221.2l-.5,1.5 1.2,4.5 2.2,.6 8.4-2.7 1.2-.8 -4.8-3zM123.1,227.9l2.5-2.8 -1.6-2.8z"/><path id="a409" d="M139,133.9l-.1,3.1 -.6,1.6 -7.4,2.9 -.9-.3 -1-2 2.4-3.6 4.3-3.3zM101.4,130.5l-2.4,.9 -2.1-1.4 -1.5-4 2.5-1.8 2.5,3.6z"/><path id="a410" d="M151.9,225.4l0-5 .9-1 8.5-2.1 .3,1.1 -3.8,4.2z"/><path id="a411" d="M60.3,133.8l4.1,3.8 1.6-.1 1.2-.6 1.2-2.8 0-.1 -5.9-1.8zM68.4,134.1l1.1,.6 4.1-2.6 .3-.7 -5.4-2.9 -1.3,1.8 1.2,3.7z"/><path id="a412" d="M43,36.2l-4.6,2.7 .2,1 1.8,2.3 3,.2 1.9-2 -.4-3.8zM45.3,40.4l3.3,1 -2.2,6.6 -.4-.2 -2.6-5.4z"/><path id="a413" d="M54.4,50.6l2-1 .8-1.3 .2-1 -2.2-2.2 -7.7,3.5 -.1,0 .3,1.2 1.2,1.1z"/><path id="a414" d="M52.3,54.4l2.1-3.8 -5.5,.3 1.9,3.9z"/><path id="a415" d="M143.2,159.5l-8,2.3 -.2-.5 6.3-6.2 1.9,3.3zM144.7,154.3l-1.5,4.1 -1.9-3.3 .2-.6 1-1.1z"/><path id="a416" d="M132.6,115.6l4.7,.9 1,7.9 -5.4-6.3z"/><path id="a417" d="M143,117.8l2.3,1.3 .2,.9 -1.3,5.9 -4-6.1 -.1-1.9z"/><path id="a418" d="M128.4,109.7l1.8-.7 .4,1.9zM131.1,108.7l-.9,.3 .4,1.9 .8,1.6 3.9-1.8z"/><path id="a419" d="M127.7,112.9l-1.1-2.6 -.6,.2 -.5,2.7 .7,.8zM125.5,112.9l-1-.1 -2.2-1.2 3.6-.7zM120.8,115.1l4.1,.8 .4-1.9 -.8-1.2 -2.2-1.2 -1.4,.1zM124.1,120.1l-.9-.2 -5.9-2.5 -.5-.5 .6-1 3.4-.8 4.1,.8z"/><path id="a420" d="M131.5,113.2l-.1-.7 -.8-1.6 -2.2-1.2 -1.8,.6 1.1,2.6z"/><path id="a421" d="M125.3,114l-.8-1.2 1,.1z"/><path id="a422" d="M163.1,0l.4,0 1.7,7.7 -3.1,3 .2-5.9z"/><path id="a423" d="M141.7,38.2l.9-1.4 .4,1.4zM145.2,33.9l-.2,1.7 -.4,2.6 -1.6,0 -.4-1.4 .3-1.9z"/><path id="a424" d="M127,0l3.6,0 .5,3.9 -1.2,1.7 -3.7-2.3zM139.6,0l0,.2 -2.3,3.1 -2.4-.1 -.3-3.2z"/><path id="a425" d="M145.6,38.2l-.6-2.6 -.4,2.6zM142.9,34.9l-.3,1.9 -.9,1.4 -3,.1 .5-4.8 1.7-.9z"/><path id="a426" d="M163.5,26.2l-1.7-1.7 -.4,3.4z"/><path id="a427" d="M163.1,0l-.8,4.8 -1.1-4.8zM163.5,0l1.7,7.7 2.1-.6 .5-7.1zM101.8,45.3l2.3,.4 -1.2,2.5 -.2,.1z"/><path id="a428" d="M134.6,0l-4,0 .5,3.9 3,.5 .8-1.2z"/><path id="a429" d="M106.9,43.9l2.4,4.7 -3.5,3.5 -1.9-.1 -.9-3 -.1-.8 1.2-2.5zM104.2,53.1l1.7-.5 -.1-.5 -1.9-.1z"/><path id="a430" d="M31.8,224.6l.1,2.5 -.6,0z"/><path id="a431" d="M158.3,90.1l-2.4-2.5 -1.2-3.9 2.8-.6 .9,.9 2.8,4.8z"/><path id="a432" d="M171.1,69.6l-1.7,.1 -.6,.8 4.9,6.9 0-5.5 -.3-.8z"/><path id="a433" d="M156.1,77.7l-.5-5.1 5.4,.9 .5,5.3 -3.7,.5z"/><path id="a434" d="M153.5,72.9l1-1.2 1.1,.9 .5,5.1 -1.1-.8zM51.1,3.3l-1.5,.8 2.9,4.7 2.5,.5 1.3-4.5 -3.2-2zM61.7,13.5l2.6-.5 -3-8.4 -1.4-1.5 -.4-.2 -3.2,1.9 -1.3,4.5 .1,.1z"/><path id="a435" d="M164.2,86.6l1.1,.3 -.1-4.7 -3.7-3.4 -3.7,.5 -.3,3.8 .9,.9z"/><path id="a436" d="M157.6,94.6l-2.6-6.2 -3.3,.8 -.2,2.7 4,2.4zM104.2,126.7l-.4-.1 -4.8-4.5 .1-.4 1-.8 2.1-.1 3.4,2.8 -.7,2.6z"/><path id="a437" d="M45.6,15.1l-.7-1.8 -1-2.1 -1.5-.8 -4.1,4.7 0,.9 .2,.4 4.6,1.2 2.4-1.8z"/><path id="a438" d="M45.6,15.1l-.7-1.8 5-.2 1.4,1.1 -.1,.7z"/><path id="a439" d="M106.2,119.5l-3.1,.3 1.2-2.3z"/><path id="a440" d="M103.8,126.6l-4.8-4.5 -1.1,2.1 2.5,3.6z"/><path id="a441" d="M42.5,167.2l.8-.5 .6,.7 -2.6,4.7 -.1,.1z"/><path id="a442" d="M44.2,167.3l8.9,3.7 .2,.6 0,.2 -12,.3 2.6-4.7z"/><path id="a443" d="M83.4,149.9l2.8-1.4 .9,2.5 -1.6,.2 -2.1-.4z"/><path id="a444" d="M87.1,151l-1.6,.2 2.2,1.5z"/><path id="a445" d="M66.4,138.6l.2,2.2 2.3-1.1 -1.1-1.3z"/><path id="a446" d="M23.1,5.5l3.5-.5 1.4-3.4 -.7-1.6 -5.9,0 -.3,1.4 1.2,3.1zM21.4,0l-.3,1.4 -1.7-1.4z"/><path id="a447" d="M6.9,14.1l-.2,2.6 -6.7,.5 0-6.2 .6-.4z"/><path id="a448" d="M7.9,8.6l-2.6-3.7 1.2-4.8 .1-.1 3.2,0 1.4,4 -.9,2.4z"/><path id="a449" d="M18.6,49.4l4.1,8.3 4.1-2.9 0-1.5 -1.5-6.5 -.5-.6 -5.1-.5zM18.4,44.6l2.7-3 4.8,1.6 -1.1,3 -5.1-.5z"/><path id="a450" d="M4.2,49.5l4.5-.9 -2.6-3.4 -3.5,4.3z"/><path id="a451" d="M0,51.9l1-1.9 -1-3.4z"/><path id="a452" d="M127.5,178.8l-2.8,2.3 .3,2.3 4.6-.8 5.1-6.2 -1.6,.1z"/><path id="a453" d="M123.5,174.7l-4.7,3.3 -.1,.1 6,3 2.8-2.3 -.1-.3z"/><path id="g0" d="M98.4,217.3l5.9-4.6 9.7-.3 -2.6,5.8 -11.3-.3zM72.9,171.6l-.6-.4 -.7-2.6 2.4-2.7 3.9,.3 -1.2,5.4zM153.3,163.5l-1.6,1.9 6.3,7 3.3-.9 -5.2-6.7zM145.4,23.3l.8-1.7 .2,0 .1,2.8 0,0zM146.5,24.4l0,0 .2,9.2 -13-2.8zM71.3,153.3l-1.4-1.9 .6,2.1zM63.9,163.2l2.5-5.7 2.8,1.3 1.4,10.1 -.9,.2 -5.3-2.9 -.4-.6zM43,163.9l3,2.6 .3,5 -6.7-2.4 -.2-.6zM109.9,19.4l-1.1,5.1 3.3,.5 -.4-5.2zM73.4,88.9l-5.1-4.9 3.7-.4 1.6,.1zM114.5,49.9l-2.3,4.7 12.4,8.6 1.4-2.4 -3.7-7.4 -3.8-2.4zM73.2,155.9l2.3-.7 0,3.2 -.4,.3zM163.7,178.9l-2.6-.9 -.3-.2 -1.8-2.1 -.2-2.4zM155.6,131.4l0-.5 9.3,.6 .1,.6zM106.1,71l-2.3,2.6 -5.2-11.6 5.9-.2 .9,3zM167.4,116.8l2.9-6.7 .3,6.9 -1,9.6 -1.9-5.9zM54.3,97l-4.6,.4 -.7,.5 -2.2,9 .3,1.2 4.5-2.4 3.5-6.2zM42.9,206.8l-.1-.3 -.3-.2 -3.4,1.3 -.9,4.1 2.2,6.1 1-1.1zM50.4,211l-1.1-3.1 2.8,1.6 -1.6,1.5zM126.3,225l8.9,.2 -4.9-7.5 -7.5,4.1 0,0 .5,.6zM20.5,199.3l-1.4,2.5 -.1,2.8 2.8,3.9 .4,.2 1.7-8.3 -.6-3.7 -.2-.1zM0,210.6l1.4-.6 2,2.1 -3.4,4.1zM69.4,208.8l-2.2-8.9 3.9-.7 -.4,10.9zM55.3,75.1l3-3.3 5.4-1.7 -.2,5 -4.8,1.1z"/><path id="g1" d="M79.8,199.8l1.7,2 -1,.7z"/><path id="g2" d="M95.9,158.6l-8.2,2.3 .2,3.5 6.1,1.7 1.9-1.2zM0,89.2l2.2,2.1 1.4,2.7 -3.6-2.6zM5.1,97.3l-5.1-1.3 0-4.6 3.6,2.6 2,2.1z"/><path id="g3" d="M113.3,162.8l2.4-.6 -3.5-4.9 -3.3,3.1z"/><path id="g4" d="M93.9,196.9l7.5,8 -6.9,.4 -7.1-2.6 -1.4-1.1 7.7-4.8z"/><path id="g5" d="M119.3,176.4l-.2-.3 -9.2-2 -6.9,.5 1.6,3.7zM21.3,9.9l-.2,4.4 7.2-5.5 2.6-6.5 -9,5.3z"/><path id="g6" d="M104.5,178.8l-2.5,1.6 -8.1-3.1 1.9-3.4 3.9-1.6 3.3,2.3 1.6,3.7z"/><path id="g7" d="M120,176.9l1.4-.3 -1.3-8.2 -.1,0 -2.3,.5 1.4,7.2 .2,.3zM98.5,0l6.4,5.2 4.2-.1 3-3.1 -.3-2zM21.6,141.1l1-1.1 -6,.8 -4.1,2 -9.1,12.2 .3,.7 1.4-.6zM127.2,183.9l-.3,0 -3.8,3.4 .6,3.2 9.6,2 .3-.3zM20.2,111.8l1.4-2 -10.1-5 -5.8,2.4 2.4,3zM132.2,129.4l-.7,.6 -1.5-4.6 .5-.3 1.5,2.4zM96.1,100.8l-4-.9 -6.7-5.2 -.9-2 5.8-.3 6.9,2.5 -.8,5.9zM84.6,87l-3.9-5.5 3.5-.6 5.5,.6 3.2,5.4z"/><path id="g8" d="M97.9,156.8l-.6-1.3 4.9-2 8.1,1.1 1.9,2.7 -3.3,3.1 -3.7,.1zM123.7,190.5l-1.7-9.9 -5.9,11.3 .6,1 5.7,.4zM115.7,162.2l-2.4,.6 2.9,5.5 1.5,.6 2.3-.5zM71.2,11.7l-4.3,6.3 -1.1-4.5 4.7-2zM138,175.4l-2.2,5.7 -7.1-2.4 -2.9-4.2 8-3.4zM120.1,168.4l-.1-.1 1.4-1.2 2.1-.2 1,1.1zM122.5,115.5l.9,6.1 6.6,3.8 .5-.3 1.2-1.4 -.2-1.6 -4.8-6.9z"/><path id="g9" d="M114,212.4l-9.7,.3 -1.2-7.1 7.8-.4 4,5.1zM89.8,207.7l-2.4-5 7.1,2.6 -3.7,2.8zM86.1,223.5l6.7,7 -1.1,.9 -2.3,0 -1.4-.4zM38.3,14.6l-.1,0 -1.3-2.6 5.5-1.4 3.4,1.6 1.2,2.4 -1.2,1.1zM42.1,0l7.2,6 -6.7,.4 -1.6-.6 -5.2-5.7 0-.1zM34.5,37.2l-.8,0 -1.5-.4 .6-6.6 .2,.2zM34.5,37.2l-.8,0 -1.8,2.4 -.4,4.2 2.9,1.1 1.7-6.9zM17.8,150.1l6.3-3.4 3.4,1.1 -1,3.5 -1,1.6zM30.1,98.5l1.2,0 .1,.2 -2.8,1.8zM20.9,161.3l-3.5,7.4 -3.5-6.1zM67.5,55.4l-1.9,3.9 2,3.1 7-2.2 1.5-1.5 -.8-8.4 -2.3-.4 -4.6,4.5z"/><path id="g10" d="M99.6,171.4l-3.8-2.6 -11.7,2.9 -.1,.2 .3,.4 11.5,1.6 3.9-1.6zM122.6,192.9l-2.9,6.6 2.5,3.2 1.3,.4 5.1-8.9z"/><path id="g11" d="M87.1,192.5l-8.3,3.4 -1.2-4.6 .8-.3 8.4,1.1zM93,182l-3.4-.2 -1.3,3.3 .8,1.5 9.5,1.3 .6-.2 1.4-1.1zM41,5.8l-5.2-5.7 -.7,7.2 5.1,.4zM48.6,34.3l11.5,2.9 3.2,4.6 -8.1,5.3 -6.1-1.2 -2.5-4zM15.2,151l6.4-9.9 -16.5,14 5.3-1.6zM137,161.5l.7-2 .2-2.5 -9-5.8 -.3,3.4 3.8,4.4zM144.3,119.1l4.3,5.3 -1.3,3.5 -3.1,2 -2.7-3.2zM38,83.1l.8,3.7 -2.4,3.2 -8.5-6.4 .3-1.7 4.1,0zM24.4,117.3l-.7-.9 1.9-1.1 1.7,2.1zM174.7,229.7l-2.2-4.9 2.2,.3zM89.1,79.9l.6,.6 6.8-.4 .4-1.7zM57,49.2l.4-3.1 -.7,0 -10.9,7.1 .2,.3 7.9-2.1z"/><path id="g12" d="M104.4,231.4l-.3-.5 -7.4-2.6 -.2,0 -3.7,2.2 -1.1,.9zM117.3,204.8l-4.7-1.2 -1.7,1.6 4,5.1zM88.2,179.1l-1.3-.7 -2.3-3.6 -.3-2.5 11.5,1.6 -1.9,3.4zM15.2,151l6.4-9.9 1-1.1 .7-.2 .9,1.6 -.1,5.3 -6.3,3.4zM146.5,191.4l-6.8-3.1 -.8,2.7 7.5,3.5 1.3-.4zM126.4,148.3l2.5,2.9 9,5.8 9-3.9 -2.9-2.9 -2.4-1.1 -14.7-3.2zM136.3,129.4l-3.1-.9 1.6-10.3zM14.1,24.8l-2.3,7.2 3.5,5.7 11.5-7.4 1.1-2.7 -1-3.1 -3.2-4.8 -4.9,.1zM10.4,15.2l-3,5.7 -7.4,3.6 0-2.3 4.9-6 4.6-3.9z"/><path id="g13" d="M99.6,171.4l7.8-3.2 1.1,.2 1.4,5.7 -6.9,.5 -3.3-2.3z"/><path id="g14" d="M102.5,153l-.3,.5 -4.9,2 -.7-.4zM77.3,190l1.1,1 -.8,.3zM161.2,153.7l7.4,2.4 .5,.2 .3,1.8 -7.9-.9 -2.1-1.2zM126.1,13.4l1.9-3 2.7-.5 3.9,.8 .4,.4zM137.9,13.1l8.4,2.6 -.3-11.7 -2.1-.1 -6.4,2.9 -2.9,3.9 .4,.4zM133.3,30.8l1.9,6.3 8.5,2.8 2.2,.5 .9-1.1 -.1-5.7 -13-2.8zM69.7,169.1l-5.3-2.9 .8,4.1zM56.8,146.4l1.2-1.4 6.2,2.5 2.2,10 -2.5,5.7zM109.9,19.4l-1-.3 -8.5,.2 -.7,1.7 3.6,3 5.5,.5zM92.6,1.9l1.4-1.9 4.5,0 6.4,5.2 -3,2.6zM105.3,27.5l-2.8-.7 .8-2.8 5.5,.5 3.3,.5 .3,.2 .4,1zM44.1,189.2l-.1-.3 1.1-4 3.9,3.1 -1.3,5.5 -1.6,.5zM45.2,173.1l-.6-2.2 -8.1-2.8 -1.1,1.3 .1,.2 6.2,6.8zM120.8,28.8l-3.1-1.3 -.7,1 .2,1.6 6.6,6.5 .9,.1zM113.2,48.5l-6.4-4.7 -1-10.8 1-.1 3.2,4.7zM124.7,36.7l5.3,10.4 -2,.5 -6.3-6.3 -.3-.9 .4-1.2 2-2.6zM72.7,115.9l4.8,1.1 -1.7,2.9 -7.3,2.1 .3-3.3zM17.4,132.2l-3.5,.8 -5.6,5.2 6.9,1.3 3.4-6.6zM146.4,194.5l0,.7 -6.3-1.3 -2.1-1.8 .9-1.1zM150,154l6.9,5 -3.1,3.8 -3.1-2.5 -2.6-6.5zM142.3,166.3l-4.5-3.1 -3,3.1 .3,.6zM117.7,143.6l-4.1,4.1 2.5,1.8 2.9,.6 2.2-2zM98,46.2l-.5-10.6 -.1-.5 -.6,.2 -2.4,8.9 1.4,7.4zM108.6,64.9l-.1-2.8 -.8-8.6 -2.3,1.8 -.9,6.5 .9,3zM84.4,28.6l-.7,5.9 -1.7,.6 -3.4-2.5 -1.6-6.6 .2-1.3 2.5-3.4 .7,.1 3.6,6.2zM78.2,20.9l1.5,.4 -2.5,3.4 -.1-.3zM174.7,73.1l-3.9,2.1 3.3,6.8 .6-.1zM130.6,110.7l4.6,5.1 -.2,.8 -.2,.6 -3.5,1.5zM20.5,74.2l3.1,.7 8.7,7 -4.1,0 -8.5-6zM38.7,105.7l8.1,1.2 .3,1.2 -5.4,5.5 -6,2.6 2-9.8zM38.9,223.4l-2.2,3.1 .1,1.5 2.3,3.2 .3,.2 5.2,0 -1.3-5.3 -.7-1.3zM27.8,231.4l-.1-1 1.7,1zM158.5,221.8l-2.6,.6 -6.5-1.5 -9.8-8.4 12.4-.9zM91,119.6l.9,2 1.5,1.2 .1,0 .9-.4 -1-4.4 -1-2.4zM93.7,125.4l-.3-2.6 -1.5-1.2zM117.7,103.9l2.2,.6 6,5.2 .8,5.5 -4.2,.3 -3.5-5.1 -1.8-3.9zM114.3,130.3l-9.7-5.6 -1.9-2.2 -1.3-5.2 .3-1.3 2.1,.8 10.5,11.5zM0,165.2l1.1-.2 2.5,4.8 .3,4.1 -.7,1.6 -3.2,1.6zM20.5,194.1l-2.3,1.6 -3.8-7.3 1.8-4.7 4.8,9.7zM14.4,214.5l-2.9-.6 1.1,6.6 2.3,1zM8.5,211.7l-4.1,1.4 1.5,4.6 1.4,1.9 1.5,1.1 3.8-.2 -1.1-6.6zM0,186.8l.2,.4 7,.5 -6.1-8.6 -1.1-.1zM134.6,49.2l2.4,2.5 -.4-3.1 0-.3zM144.6,50l-3.8-3.7 -.7,.3 -.1,8.5 .7,1.5 9.6,5.2 0-3.4 -1.8-4zM160,57.5l-.9-1.6 .2-3.8zM69.4,208.8l-2.2-8.9 -2.4-4.9 -5.2,3.4 .3,2.1 6.7,8.1 .1,.2zM52.9,194.2l1.2-2.1 1.3-.7 4.2,7 .3,2.1 -.6,9.7 -1.3,.9 -5.2-8zM76.3,215.7l2.5,10.1 1.8,1.1 .9-3.8 -1.6-11.2zM71.6,168.6l1.4,5.4 -.1-.1 -1.6-5.2zM174.7,25.8l-1,2.1 -2.8-5.5 1.6-12.7 2.2,1.1zM55.3,75.1l3-3.3 .8-4 -3.6-.2 -7.2,7.1 1.7,3.1zM80.2,43.7l-7.2,5.8 0,.4 2.3,.4 7.4-2.9z"/><path id="g15" d="M101.5,181.8l.5-1.4 2.5-1.6 8.4,3.3 -2.7,4.4 -6.8-1.5zM122.3,182l4.6,1.9 -3.8,3.4zM140.7,62.2l1.3,3.9 -4.7-.8 -.4-1.9 1.1-1.5zM137.4,67.4l5.3,6 1.2,8.5 -4.6-2.4 -7.2-11.6 1.5-2z"/><path id="g16" d="M77.5,162l-3.5,3.9 3.9,.3 4.8,.1 .8-.8 -4.7-4zM128.8,9l1.9,.9 -2.7,.5zM42.2,159.6l-3.3-9 -1.5-.5 -.7,16 2.7,2.4 3.6-4.6zM116.8,7.3l.2-2.5 -4.9-2.8 -3,3.1 1.4,1.5 3.7,1.1zM126.4,4.5l.6-.9 -7.9-3.6 -7.3,0 .3,2 4.9,2.8zM29.4,211.4l-3.1-8.4 -3.2,1 -1,5 .4,1.7 3.8,1.9zM29.4,173.3l-1.1,5.4 1.2,0zM44.1,189.2l-.1-.3 -7.7-4.3 -1,2.5 .7,1.8 2.4,1.8zM104.5,61.8l-5.9,.2 -2.5-1.6 -.1-.4 5-7.8 3,.4 1.4,2.7zM98,46.2l2.1-1 0-5.6 -2.6-4zM84.2,46.8l3.2,6.3 2.8-2.5 -1.2-6.5 -4.2-3.9zM34.3,209.5l0,2.1 1.2,.6 2.7-.5 .9-4.1zM41.4,216.7l-1,1.1 -1.4,5 -.1,.6 3.7,1.4 5.1-4.1 -2-3.2zM83.1,228.5l-6.6-4.1 -3.8,3.2 -.1,3.7 .1,.1 10.6,0 .9-.9zM115.8,208.2l4.3,2.3 11.2-1.2 -7.8-6.2 -1.3-.4 -4.1,.3zM18.2,195.7l-3.8-7.3 -4,3.6 -.1,.2 8.7,12.4 .1-2.8zM140.1,46.6l-.1,8.5 -3-3.4 -.4-3.1 .1-.4zM77.6,191.5l-2,3.1 -2,0 -.6-.5 -2.4-4 -.2-7.4 2.5-8.8 .1,.1zM73.9,35l.1-.1 1.5,2.2 -8.4,8.1 1.7-7z"/><path id="g17" d="M119.1,176.1l-9.2-2 -1.4-5.7 7.7-.1 1.5,.6z"/><path id="g18" d="M90,219.6l-4.4,2.3 .5,1.6 6.7,7 3.7-2.2 -5-8.7zM82.7,210.8l2.7,.6 9.1,2.1 2.9,3.7 -5.9,2.4 -1.5,0 -5.7-2.7zM141.6,149.1l-15.7-12.3 7.5-.1 6,3.2 1.1,1.1 3.5,9.2zM162.8,204.6l9.8-3.6 2.1,5 0,4.2 -1.3,1.3z"/><path id="g19" d="M111.4,218.2l-11.3-.3 6,6.6 2.2,.9zM167.6,146l-.1-.1 6.4-7.8 .8,.6 0,8.4 -6.7-.7zM80.7,138.7l9.3-8.2 5.5-1.2 3.1,6.8 -2.6,2.2 -10.3,1.7zM164.8,105.5l5.7,2.2 1-.9 -.6-8.1 -8-9.9 -.5,4.3 .1,4.2zM142.8,85.8l.5,1.9 .3,1.9 -3.6-2.6 -.1-1.2zM51.1,86.8l-1.3,1.1 -.2,.2 2,.3zM61.5,224.3l2.1,3.1 1.6,4 -8.4,0 -.1-1zM83.1,228.5l1.9,1.1 -.1,1.1 -.7-.2zM103.6,95.1l1.7,11.4 4.5,5.1 1.8-3.3 -1.7-5 -6.1-8.2zM114.3,128.3l-10.5-11.5 5.8,.3 2,1.6 3.4,4.8zM20.5,194.1l0,5.2 2.6-2.7 -1.8-2.9 -.3-.3zM2.9,231.4l-.7,0 -1.6-1.5 -.6-1.3 0-7 5.9-3.9 1.4,1.9 -3.5,11.1zM49.3,186.8l4.8,5.3 1.3-.7 .2-6.5 -3.8-9.1zM49.4,207l-3.2-2.6 -.4,1.4 4.4,2.6 .1-.2zM174.7,10.8l0-10.8 -6.1,0 -.1,2 4,7.7zM42.9,61.1l3.1-7.6 -.2-.3 -8,5.2 1.3,3.2 2.6,.5z"/><path id="g20" d="M86.9,190.2l-10.6-3.8 1,3.6 1.1,1 8.4,1.1zM169.2,231.4l5.5-.4 0,.4zM80.7,227l6.1,.3 1.2,3.4 0,0 -.2,.6z"/><path id="g21" d="M87.8,209.7l3.5-1.1 2.9,2.6 .3,2.3 -9.1-2.1zM104.1,230.9l-7.4-2.6 9.4-3.8 2.2,.9 -1,2.2 -2.8,3zM38.9,150.6l4.4-4 -.8-8.5 -7.5,.5 1.2,10 1.2,1.5zM32.2,36.8l1.5,.4 -1.8,2.4zM152.8,130.7l2.7,1.5 .1-.8 0-.5zM173.6,138.5l-4.1-6.6 -4.6-.4 .1,.6 2.6,7.4 3.6,1.9zM3.1,68.4l-3.1-1 0,7.7 .5,.8 12.5,3.9 1-1.6zM21.3,110.3l7.3-3.6 2.9-8 -.1,0 -2.8,1.8zM106.3,231.4l-.1-1.4 1-2.2 4.4-3.1 1.3-.2 7.3,6.9z"/><path id="g22" d="M120,176.9l1.4-.3 .6,4 -.9-.7zM49.6,6.6l-1.7,1.9 -5.1,.1 -.2-2.2 6.7-.4 0,0zM0,123.8l.2,0 1.6-1.1 .1-.1 -1.9-1.2zM0,111.5l1.6-1.6 -1.6,0zM25.4,121.2l-.6-2.5 .8,.3zM31.4,98.7l.1,0 8.2-4.4 .1-.1 4.2-8.3 -1.7-3.8 -10.9,14.7 -.1,1.7zM121.2,125l2.2-3.4 6.6,3.8 1.5,4.6 -3.4,3.4 -2.8-2.2zM93.4,118l1,4.4 2.4,1 5.9-.9 -1.3-5.2 -6.3-6.1z"/><path id="g23" d="M89.6,181.8l-1.3,3.3 -12.5-2.3 .7-3.2 10.4-1.2 1.3,.7zM174.7,154.5l-2.9-1.5 -3.8-6.6 6.7,.7zM157.9,163.2l-1.8,1.6 5.2,6.7 8.3,4.5 -2.9-9.1 -7.3-4zM123.5,28.3l9.8,2.5 .4,0 12.8-6.4 -1.1-1.1 -20.8-1.4 -1.8,4.1zM146.9,41.6l-1-1.2 .9-1.1zM71.3,153.3l3.9,5.4 -2,.6 -2.7-2.8 0-3zM114.2,9.5l-6.8,2.4 3.1-5.3 3.7,1.1zM122.4,19.4l-.3,.4 -2.5,4 -7.2,1.4 -.3-.2 -.4-5.2 10.6-.4zM26.3,203l-3.2,1 1.4-6.7 2.4,5zM51.5,177.4l.8-3.7 -7.7-2.8 .6,2.2zM104.1,148.2l-.3,.1 -6.4,4.7 4.6,.2 1.6-.6 1.9-1.5zM123.5,166.9l-2.1,.2 -3.8-2.1 -5.2-7.3 2.1-.6 1.4,.3 7,4.7zM135.1,166.9l-.3-.6 -9.3-4.3 4.2,5.5zM53,117.7l-5.4,2.6 -3.1-2.7zM83.4,48.3l4,5.7 0-.9 -3.2-6.3zM79.4,42.7l-.6-.8 -1.5-6.3 1.3-3 3.4,2.5zM83.8,22.3l.2,5.3 -3.6-6.2zM95.8,51.6l0,7.2 -5.6-8.2 -1.2-6.5 2.3-6.6 3.1,6.7zM158.6,46.4l.2,1.3 .2-.3 .5-1.4zM149.4,99.4l-1.5-.8 -4.3-9 -.3-1.9 .2-1.9 7.5-.2 1,3.7 0,4.4 -.1,1.9zM143.5,85.8l-.2,1.9 -.5-1.9zM40.2,117.5l-6.9-.1 2.4-1.2 6-2.6 .2,2zM42.6,224.8l.7,1.3 5.6,3.4 .7-7.7 -1.9-1.1zM152.7,196.5l-.4,.9 -4.4-1.9zM139.6,212.5l9.8,8.4 -4.8,2.6 -3.7-1.2 -7.9-7.3 .6-4.3zM93.7,125.4l-.3-2.6 .1,0 11.5,18.5 -4.5-.9zM14.4,214.5l.5,7 2.3,1.9 .6-.1 2.1-3.6 -2.5-6.2zM10.5,192.4l-3.3,3.3 -5.6-4.3 -1.4-4.1 0-.1 7,.5zM161.8,72.4l-.2-.3 -2.3-.8 .9,8 1.2,1.6 1.7,1.6zM93.8,111.4l-1.5,1 .9,.7zM74.5,205.7l-2.5,6.2 4.3,3.8 3.6-3.8 .1-.2 0-1.2zM64.4,65.1l3.2-2.7 7-2.2 -1,3.6 -9.4,5.7zM53.2,63.5l2.5,2.5 9.9-6.7 1.9-3.9 -13.8,6.7zM59.1,67.8l-.8,4 5.4-1.7 .5-.6 .2-4.4zM43.3,72.1l9.1-7.9 .8-.7 2.5,2.5 -.2,1.6 -7.2,7.1 -3.6,.9zM72.4,48.8l5.4-8.4 2.4,3.3 -7.2,5.8z"/><path id="g24" d="M81.7,206.7l1.1,1.1 7-.1 -2.4-5 -1.4-1.1 -4.5,.2 -1,.7zM87.9,164.4l-4.4,1.1 -.8,.8 1.4,5.4 11.7-2.9 -1.8-2.7zM173.9,178.7l.8,.3 0,12.3 -5.1-5.8 3.8-6.9zM42.2,159.6l8-7.8 1.1,.5 -.8,10.2 -4.5,4 -3-2.6zM73.5,0l1.1,5.1 7.4-.1 -5.1-5zM8.1,163.7l5.3-2 1.6,.7zM135.7,168.5l-2.2,1.5 .3,1.1 4.2,4.3 2.8,.1 -3.6-6.8zM122.1,139.3l4.8,6.6 -.5,2.4 -5.2-.2 -3.5-4.5zM103.7,27.4l.3-.2 1.3,.3 1.2,12.8 -1-1.8zM130.2,98.9l0-.1 -.6,.8 1,11.1 4.6,5.1 .5-.9 -1.2-5.6zM151,85.6l1,3.7 2.6-3.7zM32.6,210.1l1.2,2.2 -3.9,7 -3.1-6.6 .3-.4zM23.9,231.4l.5-4.3 1.9-.5 1.4,3.8 .1,1zM76.5,224.4l-5.6-3.4 1.8,6.6zM133,215l-2.1,1.6 -.6,1.1 4.9,7.5 3.2,2.2 2.5-5.1zM129.5,191.7l-.2,.1 .1,2.2 9.7,6.7 4,.3 1.1-6.2zM153.5,207.1l-10.4-6.1 -4-.3 -5.6,10 .1,0 6,1.8 12.4-.9zM23.8,160.8l1.8,1.3 .5,1.5 -7.4,8.6 -1.3-3.5 3.5-7.4zM3.4,212.1l1,1 4.1-1.4 .4-1.2 -1.3-5.1 -3.7-3.7 -1.2,0 -1.8,6.9 .5,1.4zM93.8,111.4l.6-1.6 -3.7-6.9 -9.4-.5 .5,2 8,8.1 2.5-.1zM93.2,113.1l-2,6.2 -3.1-5 1.7-1.8 2.5-.1zM65.6,216.7l1.1-7.9 2.7,0 1.3,1.3 1.1,1.8 -.8,5.6zM146.5,25.6l1.3,4.9 -1.1,2zM92,60.4l-.8,2.1 -.1,3.8 3.5-2.1zM83.5,62.7l-7.8,5.4 5.7,2.7 3.3-1 .9-4.9z"/><path id="g25" d="M94.5,213.5l2.9,3.7 1,.1 5.9-4.6 -1.2-7.1 -.7-.2 -8.2,5.8zM73.9,34.9l-.5,.4 -2.1-3.2 .6-2.8 3.7,.3zM28.9,134.7l-1.2,2.6 1.7-.4zM172.1,132l2.4,.2 .2-.4 0-5 -2.9-6.3zM51.6,59.7l7.2-10.3 -1.8-.2 -3.1,2.2 -5.6,7.9z"/><path id="g26" d="M73.1,174.1l-.2-2.5 -.6-.4zM122.4,19.4l4.1-6.7 -1.4-.3 -4.2,4.6 1.4,2.4zM126,60.8l2.5-4.5 -4.6-2.7 -1.6-.2zM126.4,148.3l2.5,2.9 -.3,3.4 -4.8,.2 -4.8-4.7 2.2-2zM36.7,126.5l1.8-1 4.7-1.3 6.8,1.8 2.3,3.5 -1.3,1.2 -12.2,3.8 -1-.6zM91.1,29.8l.6-5.6 -6-1.5 -1.2,5.8 6.1,2.4zM51.6,88.4l-2-.3 -9.8,6.1 -.1,.1 2.7,2.8 9.8-6.7zM163.7,22.2l.7,2.6 9,9.2 .5-5.1 -.2-1 -2.8-5.5 -6.4-4.7zM89.1,68.4l-3.1,1.4 -4.6,6.1 2.6,4.8 7.2-4.8 .6-3.2z"/><path id="g27" d="M98.4,217.3l-1-.1 -5.9,2.4 5,8.7 .2,0 9.4-3.8 -6-6.6zM105.6,231.4l.4-.9 -1.5,.1 -.4,.3 .3,.5zM85.6,221.9l4.4-2.3 -5.7-2.7zM139.4,139.9l-3.5-7.6 5,1.2 2.5,1.7 -2.1,5.4 -.8,.4zM27.1,63.1l9.6,4.1 .3-6.4 -4.7-2.1 -9.3-1.1 -.2,.4zM0,30.6l0-4.5 4.5,1.4zM82.9,215.9l.9-.9 1.5,5.6 -1.4-1.1z"/><path id="g28" d="M93.9,196.9l7.5,8 1,.5 .7,.2 7.8-.4 1.7-1.6 1-2.8 -1.3-5 -13.5-.2zM84.3,172.3l.3,2.5 -10.9,1.7 -.6-2.4 -.2-2.5 3.8,0 7.3,.3zM87.1,192.5l-8.3,3.4 1,3.9 1.7,2 4.5-.2 7.7-4.8zM82.8,208.3l5,1.4 3.5-1.1 -.5-.5 -1-.4 -7,.1zM161.2,153.7l1.1-1.3 1.5,.7 4.8,3zM161.5,157.2l-2.2,2.6 .7,1.9 8.6,1.2 2.2-2.7 -1.4-2.1zM155.6,160.6l1.9-2.4 1.8,1.6 .7,1.9 -.6,1.2 -1.5,.3zM125.8,38.7l3.8,7.7 1.5-5.4 -2.9-3.3zM54,173.1l.2,.1 4.6-1.2 -4.5-19.9 -.8-2.5 -2.2,2.7 -.8,10.2zM75.2,158.7l1.9,2.7 0,.7 -.7,1.1 -3.7,4.2 .5-8.1zM45.3,137.9l-2.8,.2 .8,8.5 6.9,5.2 1.1,.5 2.2-2.7 .8-2.4 -.8-2.4 -6.1-6.2zM53.5,149.6l.8,2.5 7.5,15.9 2.2-2.4 -.1-2.4 -7.1-16.8 -2.5,.8zM120.9,17l-5.6-2.3 1.5-4 5-1.2 2.9,.4 .4,2.5zM76.4,12.9l1.3-.5 -1.5-.5zM132.5,0l-13.4,0 7.9,3.6 5.9-2zM44.1,189.2l-5.7,1.5 6.7,7 1-3.7zM44,188.9l1.1-4 -2.2-3.9 -6.3,1.2 -.3,2.4zM56.7,104.7l3.3,.7 3.4,6 -4.4,.9zM117.7,27.5l-.2-2.2 -3.3,.6 2.8,2.6zM60.9,124.3l-.6,4.7 4.5-3 -.2-.8zM99.5,141.6l1.2-.7 -2.1-4.8 -2.6,2.2 -.6,3.7 0,.9zM8.3,138.2l-6.8,1.4 -1.5,5.4 1.8,1.7 10.7-3.9 4.1-2 -1.4-1.3zM25,154l.1,1.1 -11.7,6.6 -5.3,2 -.3,.1 -7.8-4.3 0,0 3.7-3.8 1.4-.6 5.3-1.6zM161.1,178l-.3-.2 -5.2,4.9 .3,1.9 7.1,5.3zM147.7,194.1l-1.3,.4 0,.7 4.4,.9 -.2-.5zM147.7,190.5l-4.4-5.8 -3.8,.4 .2,3.2 6.8,3.1zM140.1,193.9l-2.1-1.8 -1.6,.5 .3,.6zM135.7,168.5l-.3-1.6 -4.1,.4 -.2,.2 2.4,2.5zM129.7,167.5l-4.2-5.5 -.2-.1 -2.4,.2 .6,4.8 1,1.1zM174.7,132.2l0,1 -1.1-1.1zM137,161.5l.8,1.7 -3,3.1 -9.3-4.3 -.2-.1 .3-3.9 6.8,1zM122.1,139.3l2.9-2.9 .9,.4 15.7,12.3 -14.7-3.2zM84.5,28.5l1.2-5.8 -1.9-.4 .2,5.3 .4,1zM174.7,87.3l-4.8-4.1 -3.1,.4 0,3.2 5.7,2.2 2.2-1.1zM174.7,53.8l-4.4-.2 -1.1-.9 2-3.7 3.5-1.8zM136.7,97.5l.5-.8 -1.7-6.7 -3.7,.2 -1.9,6.8 .3,1.8 0,.1zM170.9,98.7l.1-.4 -3.3-11.2 -4.3-1.7 -1.4,.1 .9,3.3zM18.2,83.7l9,7.9 -8.6,3.9 -3.6-1.2 -4.2-4.9 6.1-6.4zM8.9,69.4l-.7,.6 6.7,6.9 4.8-1 .8-1.7 -4-4.5zM45.2,210.4l5.2,.6 .1,0 .3,9.9 -1.2,.9 -1.9-1.1 -2-3.2zM39.2,231.4l-.1-.2 -2.3-3.2 -.9,3.4zM48.2,231.4l.8-.6 -.1-1.3 -5.6-3.4 1.3,5.3zM50.5,211l1.6-1.5 7.7,4.8 .2,.3 0,0 -1.9,2.3 -6.6,4.2 -.7-.2zM111.5,218l1.8,.3 2.2,2 -2.6,4.2 -1.3,.2 -2.3-1.5zM141.6,231.4l-7.1,0 4-3.8 3.1,1.5zM158.4,203.8l-6.1-6.4 .4-.9 7.5,1.6 -.9,5.5zM125.9,109.7l2.4-1.2 2.4,3.4 .8,10.2 -4.8-6.9zM106.7,142.5l.8-3.7 -.1-.7 -10.6-14.7 -2.4-1 -.9,.4 11.5,18.5zM8.2,163.7l-4.4,.8 .2,4.7zM7.8,198.6l-.6-2.9 -5.6-4.3 -1.6,3.9 0,2.8 2.7,3.6 1.2,0zM13.7,203.9l-6.1,1.5 -3.7-3.7 3.9-3.1zM0,177.5l1.1,1.6 -1.1-.1zM134.2,55.3l-3.9-2.2 -.3,.5 6.9,9.8 1.1-1.5zM73.1,94.5l.9,1 .1,.6 -1.1,.4zM85.3,220.6l-1.4-1.1 -2.4,3.6 -.9,3.8 .1,.1 6.1,.3 0-1.1zM71.1,199.2l1.9-5.1 -2.4-4 -3.6,.8 -1.5,1.7 -.7,2.4 2.4,4.9zM74.5,205.7l5.5,4.8 .5-2.5 -.9-2.8 -5-1.2zM158.6,26.7l.1,2 -1,6 -.5,.8 -5.7-4.8 -.3-.6 0-5.3 .6-2 4.1-1.2zM163,11.8l4.8-9.2 -2.5-2.6 -8,0 -2.1,3.5zM162.8,39.6l-1.3,5.5 3.1-1.3 -.7-4zM154.2,3.1l-.9-2.3 -.3-.8 4.3,0 -2.1,3.5zM83.5,62.7l-7.8,5.4 -1,.4 -1.1-4.7 1-3.6 1.5-1.5 6.8-3.6 1.7,6.6zM68.4,54.4l4.6-4.5 0-.4 -.6-.7 -7-.7 -.4,.2 -7.1,8.1zM42,68.8l.6-.8 9.8-3.8 -9.1,7.9z"/><path id="g29" d="M84.9,159.3l1.3,.4 .5-1zM101.7,11.8l5.3,.4 3.9,1.7 -2,5.2 -8.5,.2 -2.7-6.4zM120.1,168.4l2.4-.3 -.6,3.1 -1,0 -.4-.2zM144.3,119.1l-2.8,7.6 -.4,0 -4.8-11.5 4.8-2.2zM119,110.4l-3.7,2.7 5.4,11.6 .5,.3 2.2-3.4 -.9-6.1z"/><path id="g30" d="M107.3,227.6l-2.8,3 1.5-.1zM29.3,151.9l-.1,0 -2.3-2.1 2.5-8.7 0,10.6zM15.2,151l-4.8,2.5 14.6,.5 .5-1.1 -7.7-2.8zM150.7,134.1l2.4,.5 3.2-1 -.8-1.4 -2.7-1.5 -6.7-.4 0,1zM158.2,145.9l5.8,4.3 2.5-3.1 -5.1-3.8 -3.4,1.3zM112.4,216.1l.9,2.2 -1.8-.3zM120.8,213.3l-.7-2.8 -4.3-2.3 -1.6,3.7 5.2,2zM14.1,24.8l4.7-5 .1-.8 -6.4-2.5 -4.3,9.5zM77.8,40.4l-5.4,8.4 -7-.7 1.5-2.6 .2-.3 8.4-8.1z"/><path id="g31" d="M95.9,164.9l-1.9,1.2 1.8,2.7 3.8,2.6 7.8-3.2 -3.7-4.1z"/><path id="g32" d="M117.3,204.8l-4.7-1.2 1-2.8 5.2,.7zM89.1,186.6l-.8-1.5 -12.5-2.3 -.4,.2 .9,3.4 10.6,3.8zM150.7,134.1l2.4,.5 0,6.2 -2.7-1.1 -1.3-4.1zM30.3,128.9l-2.4,2 0,.1 1.3,5 8.6-2.1 -1.1-7.4 -.6,.1zM164.1,131.5l-5-10.4 -3.6,6.3 -.7,2.7 .6,.8zM36.7,67.2l.3-6.4 1.6,.4 .6,.6 3.2,8.1 -4.2-1zM129.4,194l9.7,6.7 -5.6,10 -2.2-1.4 -7.8-6.2 5.1-8.9zM34.9,9l-.1,1.7 -7.9,13.8 -3.2-4.8 7.7-8.6zM99.8,71.6l-2.6-3.8 -5.4,4.9 -.6,3.2 5.4-.5z"/><path id="g33" d="M113.2,194.9l3.5-2 5.7,.4 -3.6,8.2 -5.2-.7 -1.3-5z"/><path id="g34" d="M76.5,179.6l-2.7-2.9 1.6,6.3 .4-.2zM76.5,179.6l-2.7-2.9 -.1-.2 10.9-1.7 2.3,3.6zM174.7,163.3l-3.9-3.1 -2.2,2.7 1.2,4.1 3.1,2.4 1.8,.3zM122.5,32.2l0-2.8 -1.2,.3zM102.8,46.6l1.2,6 -3-.4 -.5-6.3zM174.7,89.9l0-2 -2.2,1.1zM23.9,231.4l.5-4.3 -6.5-4 -.3,.4 2.3,7.9zM0,231.4l2.2,0 -1.6-1.5 -.6,.2zM79.2,202.4l1-1.3 -2.6-9.6 -2,3.1zM45,205.3l.8,.5 .4-1.4 -.5-1.9z"/><path id="g35" d="M95.9,158.6l0,6.3 7.8-.8 1.5-3.6 -7.3-3.7zM53.3,0l1,.9 -5,5.1 0,0 -7.2-6zM78.2,20.9l-.2-.8 1.5-1.5 13,3.6 -1.7,1.8z"/><path id="g36" d="M103.4,185l6.8,1.5 5.9,5.4 .6,1 -3.5,2 -14-7.2 1.4-1.1z"/><path id="g37" d="M101.5,181.8l.5-1.4 -8.1-3.1 -5.7,1.8 1.4,2.7 3.4,.2z"/><path id="g38" d="M101.5,181.8l1.9,3.2 -2.8,1.6 -7.6-4.6zM18.6,132.9l9.2-2.5 1.1,4.3 -1.2,2.6 -4.4,2.5 -.7,.2 -6,.8 -1.4-1.3zM156.9,159l-6.9-5 4-1.6 6.1,2.7zM6.3,61.9l-2.2,.3 4.8,7.2 7.6,.3 -.3-.9 -8.1-6.4 -1.7-.5zM28.4,111.4l9.3-5 1-.7 4.7-6.9 -.9-.9 -13.7,12zM164.3,225.9l6.9-1.5 -.3-7.9 -2.4-.2 -8.8,5.9zM15.3,37.7l-7.5,9.5 -2.1,.3 -1.8-11.1 7.9-4.4zM5.5,27.6l1.2-1 .7-5.7 -7.4,3.6 0,1.6 4.5,1.4z"/><path id="g39" d="M121.1,179.9l.9,.7 0,0 -5.9,11.3 -5.9-5.4 2.7-4.4zM17.7,125.3l6.9-7.1 1.1,4.2 -7.7,3zM137.3,65.3l.1,2.1 5.3,6 4.1,.9 -.2-1 -4.6-7.2z"/><path id="g40" d="M95.9,158.6l-8.2,2.3 -1.5-1.2 .5-1 9.9-3.6 .7,.4 .6,1.3zM85.7,140l10.3-1.7 -.6,3.7 -10.6,1.1zM81.7,89l-8.1-4.4 0-1.7 7.1-1.4 3.9,5.5z"/><path id="g41" d="M87.9,164.4l-4.4,1.1 -4.7-4 6.1-2.2 1.3,.4 1.5,1.2zM50.7,180.7l-7.7-.2 -1.3-4.1 3.5-3.3 6.3,4.3zM147.7,190.5l-4.4-5.8 3.4-1.3 4.7,3.5 1.4,4zM79.4,42.7l2.6-7.6 1.7-.6 1.1,5.7 -.6,6.6 -.8,1.5zM98,46.2l2.1-1 .4,.7 .5,6.3 -5,7.8 -.2-1.2 0-7.2zM161.3,110.3l.3,3.2 -2.4,4.9 -4.3-4.9 -5.3-12.5 -.2-1.6 2.5-3.8 2.6,3.2zM42.2,117.5l.3-.7 -.6-1.2 -1.7,1.9zM58.4,110.2l-1.5,.9 -1.7-6.6 1.1-.8zM72.7,227.6l-1.8-6.6 -3.8-2.3 -3.5,8.7 1.6,4 7.4,0 0-.1zM164.3,225.9l4.1,5.5 -9.8,0 -4.6-3.2 1.9-5.8 2.6-.6 1.2,.4zM125.8,135.7l-.5-4.5 2.8,2.2zM95.9,105.2l3,.8 .1-.3 -1.7-4.8zM0,187.4l.2-.1 1.4,4.1 -1.6,3.9zM60.6,171.9l0-.4 9.5-2.5 -4.6,3.2zM66.8,180.2l3.6,2.5 .2,7.4 -3.6,.8 -2.7-10.5zM157.7,34.7l-.5,.8 0,10.1 2,.5 2.3-1 1.3-5.5z"/><path id="g42" d="M91.3,208.6l2.9,2.6 8.2-5.8 -1-.5 -6.9,.4 -3.7,2.8zM42.1,9.5l-1.9-1.8 -5.1-.4 -.2,1.7 .8,1.9 1.2,1.1 5.5-1.4zM34.7,11.1l1-.2 -.8-1.9zM27.4,128.9l2.9,0 -2.4,2 0,0zM174.7,119.1l0-9.7 -.2-.3 -2-1.1zM161.6,113.5l.6,1.2 1.3,3.9 2.6,12.3 -1.3,.6 -.7,0 -5-10.4 .1-2.7zM132.9,129.4l.3-.9 3.1,.9 .1,.2zM6.4,61.9l-5.8-8.8 3.7,.1 8,7.5 -4.2,1.7zM159.3,203.6l.9-5.5 12.5,2.6 0,0 -.1,.3 -9.8,3.6zM174.7,212.1l-1.2-.4 -.1-.2 1.3-1.3zM164.3,225.9l4.1,5.5 .8,0 5.5-.4 0-1.3 -2.2-4.9 -1.3-.4zM18,49.4l10.8-17 2.3,.6 -7.5,13.9 -2.5,2.5z"/><path id="g43" d="M98.6,187.9l.6-.2 14,7.2 -.9,.9 -13.5-.2zM20.9,112.8l5.1,1.7 -.4,.8 -1.9,1.1zM32.6,33.2l-1.5-.2 -2.3-.6 -2-2.1 1.1-2.7 5.8-5.9zM12.5,16.5l-.5-.6 9.3-6 -.2,4.4 -2.2,4.7z"/><path id="g44" d="M82.8,208.3l-.2,2.1 -.9-3.7 1.1,1.1zM170,45.3l2-3.3 -2.4-.3 -10.1,4.3 -.5,1.4 3.9-.5zM90.9,58.9l-2.5,.6 1-2.7z"/><path id="g45" d="M82.6,210.4l.2-2.1 5,1.4 -2.4,1.7 -2.7-.6zM46.3,171.5l6,2.2 1.6-.4 .1-.2 -3.5-10.6 -4.5,4zM65.2,170.3l-.8-4.1 -.4-.6 -2.2,2.4 -1.4,3.6zM29.4,211.4l-3.1-8.4 .6-.7 9.2,1.8 -.5,4.9zM46.1,194l1.6-.5 -1.6,7 -1-2.8zM38.4,190.7l-2.4-1.8 -2.2,7.4 2.4,7.8 5.2,2.6 3.6-1.4 1.1-4.8 -1-2.8zM56.1,80.4l1.7,3.8 .7,.3 5.6-.5 -.3-2.5zM118.5,51l3.8,2.4 1.6,.2 4.4-5.2 -.3-.8 -6.3-6.3 -2.9,2.1zM123.8,36.6l-2,2.6 -10.3-9.9 5.7,.8zM111.5,29.3l-2.4-.7 -2.1,1.5 .3,1.8 14.1,8.5 .4-1.2zM96,148.7l-2,2.7 -1.5,2.6 4.9-1 6.4-4.7zM75.9,154.5l7.6-4.8 8.1,4.9 -4,3.5 -12.1,.3 0-3.2 0-.1zM133.5,170l-2.4-2.5 -.2-.2 -8.4,.8 -.6,3.1 3.9,3.3 8-3.4zM151.4,186.9l4.5-2.3 -.3-1.9 -8.9-8 -.6,.4 -.9,1 1.5,7.3zM144,150.2l2.9,2.9 1.2,.7 1.9,.2 4-1.6 .2-.3 -5.6-11.4 -7.3-.1 -.8,.4zM44.5,117.6l-7-.1 1,8 4.7-1.3 4.4-3.9zM43.4,98.8l-4.7,6.9 8.1,1.2 2.2-9zM26.3,226.6l-1.9,.5 -6.5-4 5.4-9.3 3.4-1.3 .1,.2 3.1,6.6 .1,.5zM149.4,220.9l6.5,1.5 -1.9,5.8 -4.7,1.7 -4.7-6.4zM27.6,164.9l1.1,4.3 -.5,4.8 -7.5,2.4 -1.2-1 -.8-3.2 7.4-8.6zM13,231.4l-.3,0 -3.3-2.5 1.3-3.2 4.4,2.2zM146.2,12.7l.2,6.7 4.8,5.4 .6-2 -2.9-10.5z"/><path id="g46" d="M84,171.9l-7.3-.3 1.2-5.4 4.8,.1 1.4,5.4zM174.7,179l-.8-.3 -1-9.3 1.8,.3zM168.6,156.1l-4.8-3 -1.2-1.1 4.9-6 .1,0 .4,.4 3.8,6.6 -2.7,3.3zM123.5,28.3l9.8,2.5 1.9,6.3 -7,.4 -1.7-1 -3.5-3.3 -.5-1 0-2.8 .6-.8zM120.6,28.5l2.5,.1 -.6,.8 -1.2,.3zM118.9,25l.2,.4 3.7,.6 1.8-4.1 -.3-.3 -2.6-1.1zM42.2,159.6l8-7.8 -6.9-5.2 -4.4,4zM30.9,166l-4.7-3.5 3-10.6 .1,0 4.3,15.1zM134.3,0l-1.8,0 .4,1.6 .4,.1zM117,28.5l-2.8-2.6 -5.3,.9 -.1,.5 .3,1.3 2.4,.7 5.7,.8zM106.8,32.9l-1,.1 -.4-4.5 1.6,1.6 .3,1.8zM63.3,142.3l2.1-.2 -1.4,1.1zM75.1,158.7l.4-.3 12.1-.3 0,.3 -10.1,3.6zM72.8,155.4l.4,.5 2.3-.7 0-.1zM173.9,190.4l.8,.9 0,7.7 -6.8-3.8 3.4-4.2zM158.2,145.9l5.8,4.3 -1.9,2.3 -6.5-1.7zM155.6,150.8l6.5,1.7 -2,2.6 -6.1-2.7 .2-.3zM107.7,53.5l-2.3,1.8 -1.4-2.7 -1.2-6 .7-5.6 2-2.5 1,1.8zM77.3,35.6l-2.9-.1 -.5-.6 2.7-8.6 .4-.3 1.6,6.6zM170,45.3l2-3.3 2.7-1 0,6.2 -3.5,1.8 -.5-.7zM161.3,110.3l3.5-4.8 -2.3-8.2 -8,1.5zM162.2,114.7l5.2,2.1 .3,3.9 -4.2-2.1zM28.4,111.4l9.3-5 -2,9.8 -2.4,1.2 -6,0 -1.7-2.1 .4-.8zM48.9,229.5l.7-7.7 1.2-.9 .7,.2 5,8.8 .2,.5 .1,1 -7.4,0 -.4-.6zM13,231.4l2.2,0 .3-4.3zM149.1,231.4l-.2-.3 .4-1.2 4.7-1.7 4.6,3.2zM127.8,227l-6.6,4.4 -.9,0 3-9 3,2.6zM159.7,222.2l-1.2-.4 -6.5-10.2 1.5-4.5 .9-.1 14.1,9.3zM144.6,231.4l1.1-1 3.2,.7 .2,.3zM103.6,95.1l-3.8-1.6 -2.5,7.4 1.7,4.8 3.6,2.3 2.7-1.5zM122.4,93.3l-3.8,2.9 .8,1.2 4.1-1zM23.9,200.4l-.6-3.7 1.4-.3zM26.6,187l-.6-.9 -5.3-9.7 7.5-2.4 .9,.8zM14.4,214.5l-2.9-.6 -3-2.2 .4-1.2 8-4.8 0,0 1.1,4.8 -.6,3zM13.7,203.9l3.2,1.8 0,0 .8-.9 -.5-2.7 -6.7-9.7 -3.3,3.3 .6,2.9zM0,207.8l.9,.8 1.8-6.9 -2.7-3.6zM81.3,102.4l-7.2-6.3 -1.1,.4 -.4,8.9 9.2-1zM52.8,203.1l5.2,8 -1,1.4 -5.5-3.3 -.6-.9zM79.6,205.2l-.4-2.8 1-1.3 1.7,6.6 -1.4,.3zM60.5,172.2l-.6-.5 -7.6,2 -.5,2.1 3.8,9.1 4.3-5.3 .7-2.5zM163.7,22.2l-5.1,4.5 -2.7-5.1 -1.8-18 .1-.5 1,.4 7.8,8.3 1.5,5.9zM146.7,32.5l1.1-2 3.4-.4 .3,.6 .2,7.4 -2.8,.3 -2.2-5.4zM174.7,25.8l0,3.5 -.8-.4 -.2-1zM158.7,28.7l7.1,8 -1.9,3.1 -1.1-.2 -5.1-4.9z"/><path id="g47" d="M98.6,187.9l.2,7.7 -4.9,1.3 -.2-.1 -6.6-4.3 -.3-.4 .1-1.9 2.2-3.6zM174.7,67.6l-1.9-1.1 1.3-5.6 .6-.5zM171.7,66.6l-9-3.3 -1.7,2.9 .5,3.3 4,.4zM53.4,94.1l-.7,.4 0-2.6zM52.7,94.5l0-2.6 -.5-1.5 -9.8,6.7 .1,.8 .9,.9 5.6-.9 .7-.5zM0,32.6l2.8-.6 2.7-4.4 -1-.1 -4.5,3.1z"/><path id="g48" d="M105.2,160.5l3.7-.1 4.4,2.4 2.9,5.5 -7.7,.1 -1.1-.2 -3.7-4.1z"/><path id="g49" d="M120,176.9l1.1,3 -8.2,2.2 -8.4-3.3 .1-.5 14.7-1.9zM146.9,43.5l-1.1,.5 -1.2,6 3.9,4.4 2.7-3.2 .1-3.2 -1.5-3.8zM105.2,77.6l-.3-.1 -2.1-.2 -3.1,.6 4.4,3z"/><path id="g50" d="M110.3,154.6l-8.1-1.1 .3-.5 3.3-1.2 3,.7z"/><path id="g51" d="M174.7,138.7l-.8-.6 .8-1zM114.2,211.9l5.2,2 3.4,7.9 0,0 -7.3-1.5 -2.2-2 -.9-2.2zM131.7,50.5l1.3-.6 2,5.4 -.8,0 -3.9-2.2z"/><path id="g52" d="M169.4,158.1l1.4,2.1 3.9,3.1 0-8.8 -2.9-1.5 -2.7,3.3zM143.7,39.9l2.2,.5 1,1.2 0,1.9 -8.8,4.1 -7.9,0 -.6-1.2 1.5-5.4zM167.9,195.2l6.8,3.8 0,2.1 -7.8-1.6 -1.4-.8 2.1-3.5zM94.4,44.2l-3.1-6.7 -.7-6.6 .5-1.1 5.7,5.5zM0,177.5l10.3,14.7 .1-.2 -7.2-16.5 -3.2,1.6zM3.9,173.9l12.7,5.4 2.9-3.9 -.8-3.2 -1.3-3.5 -3.5-6.1 -5.7,1.1 -4.2,5.5 -.4,.6zM85.6,64.9l-.9,4.9 1.3,0 3.1-1.4 2-2.1 .1-3.8zM90.9,58.9l-2.5,.6 -3.8,2.2 -1.1,1 2.1,2.2 5.6-2.4 .8-2.1z"/><path id="g53" d="M159.4,156l-1.9,2.2 1.8,1.6 2.2-2.6zM159.4,162.9l7.3,4 3.1,.1 -1.2-4.1 -8.6-1.2zM33.2,26.5l6.4-2 -5-5 -.7-.1zM144.7,131.8l-2.8-1.8 4.2,.3 0,1zM74.6,204l-1-9.4 2,0 3.6,7.8 .4,2.8z"/><path id="g54" d="M155.6,160.6l-2.3,2.9 2.8,1.3 1.8-1.6zM23.3,213.8l3-1.2 -3.8-1.9zM136.7,97.5l.5-.8 4.7,6.2 -.8,10.1 -4.8,2.2 -.6-.3 -1.2-5.6zM129.9,97l-.6-1.1 .3,3.7 .6-.8z"/><path id="g55" d="M166.7,166.9l2.9,9.1 3.8,2.6 .5,.1 -1-9.3 -3.1-2.4zM154.9,113.5l.6,13.9 3.6-6.3 .1-2.7zM21.6,109.8l5.6-7.4 -8.6-6.9 -3.6-1.2 -9.4,1.8 -.5,1.2 6.4,7.5zM28.3,68.9l8.6,2.5 1.3-2.5 -1.5-1.7 -9.6-4.1zM174.7,217.7l-1.8-1.3 .6-4.7 1.2,.4zM80,210.5l0,1.2 2.9,4.2 .9-.9 -1.9-7.3 -1.4,.3z"/><path id="g56" d="M158,172.4l11.6,13.1 3.8-6.9 -3.8-2.6 -8.3-4.5zM145.9,0l.1,4 -2.1-.1 -7.6-3.9zM134.6,10.7l2.9-3.9 -5.7-2.7 -3,4.9 1.9,.9zM121.7,20.5l2.6,1.1 4-4.5 -3.3-2zM125,15.1l3.3,2 9.6-4 -2.9-2 -8.9,2.3zM54.3,152.1l4.5,19.9 1.6-.4 1.4-3.6zM70.5,156.5l-1.3,2.3 1.4,10.1 1-.3 1.1-1.2 .5-8.1zM37.4,150.1l-1.2-1.5 -6.8,3.1 -.1,.2 4.3,15.1 0,0 3.1-.9zM133.3,1.7l-.4-.1 -5.9,2 -.6,.9 .4,3.9 2.1,.5zM114.5,49.9l4,1.1 .3-7.6 -8.8-5.8 3.2,10.9zM0,139.2l0,5.8 0,0 1.5-5.4zM170,45.3l.7,3 -7.8-1.4zM164,78.3l-.4,.3 -1,0 -1.1-9.1 4,.4zM167.7,87.1l3.3,11.2 .5-1.5 .1-8.2zM171.5,106.8l1,1.2 2,1.1 .2-.3 0-12.3 -.3-.3 -2.9,.6 -.5,1.5 -.1,.4zM0,210.6l0-2.8 .9,.8 .5,1.4zM65,217.4l.6-.7 5.4,.8 .2,3.7z"/><path id="g57" d="M123,33.2l3.5,3.3 -1.7,.2zM42.5,116.8l11-1.9 1.8-1.5 1.6-2.3 -1.7-6.6 -3.6,1.2 -4.5,2.4 -5.4,5.5 .2,2zM27.7,230.4l1.7,1 6.5,0 .9-3.4 -.1-1.5 -6.7-6.7 -3.7,6.8zM38.2,211.7l-2.7,.5 3.5,10.6 1.4-5z"/><path id="g58" d="M124.8,36.7l1.7-.2 1.7,1 0,.2 -2.4,1zM120.8,28.8l-1.4-2.7 -1.2-.9 -.7,.1 .2,2.2zM101.8,143.1l-.9-1.8 -1.4,.3 -4.1,1.3 -.4,.8 2.3,1.5 1.4-.7zM136.7,193.2l-.3-.6 -2.8-.4 -.3,.3zM170.5,107.7l-.2,2.4 .3,6.9 1.2,3.5 2.9,6.3 0-7.7 -2.2-11.1 -1-1.2zM136.7,97.5l-2.2,11.8 -4.3-10.4zM134.1,85.9l2,0 -.4,1.9zM28.8,109.9l13.7-12 -.1-.8 -2.7-2.8 -8.2,4.4 -2.9,8zM60.7,117.7l-1.4,0 .2-2.3 .3-.4zM115.8,133.7l6.7,5.2 3.3-3.2 -.5-4.5 -4.1-6.2 -.5-.3 -5.7-1.2 -.7,4.8 0,2zM94.3,110l.8,1.2 6.3,6.1 .3-1.3 -2.8-10 -3-.8zM1.1,165l2.5,4.8 .4-.6 -.2-4.7zM19.9,219.7l-2.5-6.2 .6-3 5,3.9zM160.2,79.3l1.2,1.6 -4.5,4.7 -1.1,0 -3.2-5.5 2.3-4.9zM154.2,3.1l-.9-2.3 -7.4,1.1 .3,10.8 2.7-.4 5.2-8.7z"/><path id="g59" d="M123.5,28.3l-.7-2.3 -3.7-.6 1.5,3.1 2.5,.1zM134.3,0l-2.5,4.1 5.7,2.7 6.4-2.9 -7.6-3.9zM36,188.9l-2.2,7.4 -7.7-6.8 1.2-5.8 3.6,.7 4.4,2.7zM36.3,184.6l.3-2.4 -5.2-8.7 -1.8-.5 -.2,.3 0,0 .1,5.4 1.4,5.7 4.4,2.7zM105.3,27.5l3.3-.6 .2,.4 .3,1.3 -2.1,1.5 -1.6-1.6zM67.8,148.5l.1,0 .3-.3 -2.7-6.1 -.1,0 0,0 -1.4,1.1zM139.7,188.3l-.2-3.2 -3.7-4 -7.1-2.4 -1.5,5.2 6.4,8.3 2.8,.4 1.6-.5 .9-1.1zM173.9,190.4l-2.6,.6 -6.6-11zM151.7,165.4l-6.2,.5 2.1,6.6 11.4,3.2 -.2-2.4zM152.8,190.9l-1.4-4 4.5-2.3 7.1,5.3 4.6,5.3 -2.1,3.5 -.3,.3 -12-7.5zM97.4,35.1l1.2-9.2 -6.9-1.7 -.6,5.6 5.7,5.5zM154.5,98.8l-2.6-3.2 .1-1.9 10.4-.6 .1,4.2zM15.2,231.4l.3-4.3 2.1-3.6 2.3,7.9zM144.6,231.4l1.1-1 -4.1-1.3 0,2.3zM13.7,203.9l3.2,1.8 -8,4.8 -1.3-5.1zM14.9,221.5l-2.3-1 -3.8,.2 1.9,5 4.4,2.2 2-3.4 .1-1.1zM0,216.2l0,5.4 5.9-3.9 -1.5-4.6 -1-1zM155.8,85.6l-8.8,.1 -3.1-3.8 -1.2-8.5 4.1,.9 5.8,5.8zM50.4,195.5l-1,11.5 .9,1.2 .6,.1 1.9-5.2 .1-8.9zM71.2,221.2l-.2-3.7 .8-5.6 .2,0 4.3,3.8 2.5,10.1zM173,40.3l1.7-.7 0-10.3 -.8-.4 -.5,5.1zM154.1,3.6l-5.2,8.7 2.9,10.5 4.1-1.2zM61.4,81.1l4.8-4.5 6.3,2.7 .1,.5 -1,2.8zM89.4,56.8l-3.2-4.5 -3.3,2.8 1.7,6.6 3.8-2.2zM86.2,52.3l-3.3,2.8 -6.8,3.6 -.8-8.4 7.4-2.9z"/><path id="g60" d="M128.2,37.5l7-.4 8.5,2.8 -12.6,1.1 -2.9-3.3zM118.9,25l-6.1,1.2 -.4-1 7.2-1.4 .1,0zM30.9,184.4l-3.6-.7 1-5 1.2,0zM29.6,173l-.1-.2 1.4-6.8 2.8,1 1.7,2.4 .1,.2 -4.1,3.9zM107.6,52.4l4.5,2.3 .1,.7 -4,3.1zM82.8,146.8l0-.3 2-3.4 10.6-1.1 0,.9 -.4,.8 -8.4,3.5 -1.7,.7zM166.5,147.1l-5.1-3.8 .7-4.8 5.5,1 3.6,1.9zM59.6,114l-4.3-.6 1.6-2.3 1.5-.9zM9.4,228.9l1.3-3.2 -1.9-5 -1.5-1.1 -3.5,11.1zM59.1,67.8l-3.6-.2 .2-1.6 9.9-6.7 2,3.1 -3.2,2.7z"/><path id="g61" d="M145.4,23.3l.8-1.7 .2-.9 -.1-5 -8.4-2.6 -9.6,4 -4,4.5 .3,.3z"/><path id="g62" d="M131.7,50.5l6.4-2.9 -7.9,0zM108.2,58.5l4-3.1 6.9,11.5 -10.4-2.8zM107.6,52.4l-.8-8.6 6.4,4.7 1.3,1.4 -2.3,4.7 -.1,.1zM118.8,43.4l2.9-2.1 -.3-.9 -14.1-8.5 -.5,1 3.2,4.7zM101.9,143.4l.7,1.4 -1.4,.8 -3.5,.1 -.4-.5 1.4-.7zM135.7,168.5l-.3-1.6 4-.4 -1.9,2.2 -.3,0zM129.9,86l1.9,4.2 -1.9,6.8 -.6-1.1 -.8-9.9zM55.1,99.5l-3.5,6.2 3.6-1.2 1.1-.8zM54.3,97l-4.6,.4 3-2.9 .7-.4zM145.7,230.4l3.2,.7 .4-1.2 -4.7-6.4 -3.7-1.2 -2.5,5.1 .1,.2 3.1,1.5zM109.6,117.1l-5.8-.3 -2.1-.8 -2.8-10 .1-.3 3.6,2.3zM22.1,209l1.2,4.8 -.3,.6 -5-3.9 -1.1-4.8 .8-.9 1.6,.3zM163.4,85.4l-.3-2.9 -1.7-1.6 -4.5,4.7zM74.5,205.7l-2.5,6.2 -.2,0 -1.1-1.8 .4-10.9 1.9-5.1 .6,.5 1,9.4zM62.1,215.6l-.3-.8 -2.5-4.6 -1.3,.9 -1,1.4zM64.2,69.5l9.4-5.7 1.1,4.7 -8.3,7.7 -2.9-1.1 .2-5z"/><path id="g63" d="M51.9,137.4l6.5-.4 .5,2.6 -.9,5.4 -1.2,1.4 -2.5,.8 -.8-2.4z"/><path id="g64" d="M45.3,137.9l1.8-.2 .3,.9zM109.9,76.7l2.7,.3 4.3,.2 .6-1.1 -8.7-11.6z"/><path id="g65" d="M69.9,151.4l.6,2.1 0,3 -1.3,2.3 -2.8-1.3 -2.2-10 2-1.3zM48.3,33.3l5.2-4.3 7.9,1.8 1.6,.9 -2.9,5.5 -11.5-2.9zM97.7,145.7l-.4-.5 -2.3-1.5 -8.4,3.5 7.4,4.2 2-2.7zM111.6,108.3l3.7,4.8 5.4,11.6 -5.7-1.2 -3.4-4.8 -1.8-7.1z"/><path id="g66" d="M59.9,137.6l-1,2 -.9,5.4 6.2,2.5 2-1.3zM151.2,51.2l9.4,11.3 -1.1,.6 -9.2-4.7 -1.8-4zM48.8,79.4l-3.2-1.7 -.9-2.1 3.6-.9 1.7,3.1 -1.1,1.6z"/><path id="g67" d="M39.6,169.1l-.2-.6 -2.7-2.4 -3.1,.9zM126.5,12.7l-1.4-.3 -.4-2.5 2.1-1.5 2.1,.5zM169.5,131.9l4.1,6.6 1.1-1.4 0-3.9 -1.1-1.1zM96,60l-.2-1.2 -5.6-8.2 -2.8,2.5 0,.9 6.2,8.8 2.4-1.9 .1-.5zM174.7,60.4l0-6.6 -4.4-.2 -2.8,5.8 6.6,1.5zM127.8,227l4.5,4.4 2.2,0 4-3.8 -.1-.2 -3.2-2.2 -8.9-.2zM21,193.4l-4.8-9.7 .4-4.4 2.9-3.9 1.2,1 5.3,9.7 -4.7,7.6zM27.6,164.9l.8-.7 -2.8-2.1 .5,1.5zM140.6,57.2l.1-.6 -.7-1.5 -3-3.4 -2.4-2.5 -1.6,.7 2,5.4zM158.6,46.4l-1.5-.4 .1-.4 2,.5z"/><path id="g68" d="M59.4,136.9l-1,.1 .5,2.6 1-2z"/><path id="g69" d="M24.8,161.5l-.6-1.9 -.4,1.2z"/><path id="g70" d="M26.9,149.8l2.3,2.1 -3,10.6 -1.4-1 -.6-1.9zM23.8,160.8l-8.8,1.6 -1.6-.7 11.7-6.6 .3,0zM17.4,132.2l4.5-4.1 4.8-1.6 .1,.1 1,3.8 -9.2,2.5zM164.7,180l6.6,11 -3.4,4.2 -.3,0 -4.6-5.3 -1.9-11.9 2.6,.9zM163.5,118.6l2.6,12.3 .5,.3 3.6,.7 -.6-5.3 -1.9-5.9zM9.7,53.7l0-.2 10.1,.4 3.2,3.7 -.2,.4 -4.5,0zM58.8,49.4l6.2-1.1 .4-.2 1.5-2.6 -2.6-4.3 -5.5,3.5 -1.4,1.4 -.4,3.1z"/><path id="g71" d="M47.1,137.7l.3,.9 6.1,6.2 -1.6-7.4zM49.6,6.6l-1.7,1.9 -2.1,3.7 1.2,2.4 5.3,1.2 1.7-.6 1.3-3.9 -.1-.1zM72.6,104.5l.2-3.5 -4.8,.3 -.7,2.2 4.5,1.2zM41,83.8l3.5-4.7 -4.6,1 -.7,2.5zM38.5,82.8l.7-.2 .7-2.5 -10.3-6.6 -4.3,1.5zM8.2,26l-1.5,.6 .7-5.7 3-5.7 1.6,.7 .5,.6zM81.3,102.4l-7.2-6.3 -.1-.6 11.4-.8 6.7,5.2 -1.4,3z"/><path id="g72" d="M30,138.9l-.6,2.2 0,10.6 6.8-3.1 -1.2-10zM53.9,22.9l4.1,.2 .3-4.4 -4.3-3.5 -1.7,.6 .1,3.5zM172.8,66.5l1.9,1.1 0,5.5 -3.9,2.1 -6.8,3.1 1.5-8.4 6.2-3.3zM45.6,77.7l-3.2-7.8 -4.2-1 -1.3,2.5 8.1,7.1z"/><path id="g73" d="M60.6,13.2l-5.3-1.9 -.1-.1 6.3-6.8 2,2.2 -2.1,6.3z"/><path id="g74" d="M71.2,11.7l.3,.1 3.3-1 -5.7-8.6 -7.7,1.8 .1,.4 2,2.2 7,4.9z"/><path id="g75" d="M67.4,20.5l-.5-2.5 -1.1-4.5 -4.4-.6 -.8,.3 2.9,5.6 3.7,2.2zM70.9,25.8l1,3.5 -.6,2.8 -8.3-.4 -1.6-.9 -3.3-7.6 11.6,1.6zM72.6,105l-.8-.3 -4.5-1.2 -7.3,1.9 3.4,6 5.9,.8 3-.8zM68.8,118.7l-7.5,1.4 -.4,4.2 3.7,.9 3.9-3.2zM122.2,67.6l6.5,4.6 2.2-4.6 -6.4-4.1zM151.8,66.7l-7.7-2.3 2.7,4.6 5.5,1.5z"/><path id="g76" d="M42.8,8.6l-.2-2.2 -1.6-.6 -.8,1.9 1.9,1.8z"/><path id="g77" d="M52.3,24.1l1.6-1.2 4.1,.2 .1,.1 3.3,7.6 -7.9-1.8z"/><path id="g78" d="M72,15.2l-.5-3.4 3.3-1 1.2,.2 2.2,9.9 -.3,1 -.9,.1z"/><path id="g79" d="M67.2,21l-3.7-2.2 -5.2-.1 -.3,4.4 .1,.1 11.6,1.6z"/><path id="g80" d="M55.2,47.1l-6.1-1.2 -1.8,3.8 1.3,1.7zM170.2,131.9l0,0 -3.6-.7 0,.5zM34.9,9l.9-9 -2.8,0 -2.1,2.3 -2.6,6.5 3.1,2.3zM104.1,80.9l-4.4-3 -2.8,.5 -.4,1.7 6.3,4.6zM99,78l-.4-1.1 -2-1.5 -5.4,.5 -7.2,4.8 -.2,.2z"/><path id="g81" d="M58.8,0l11.4,0 -1.1,2.2 -7.7,1.8 -3-2.5zM72.7,115.9l0-.2 5.3,1.1 -.5,.2zM38.6,61.2l.4,0 -1.2-2.8 -6.4-3.5 -.5,.4 1.4,3.4 4.7,2.1z"/><path id="g82" d="M70.9,25.8l1,3.5 3.7,.3 2.3-7.7 -.9,.1zM162.7,63.3l-1.7,2.9 -.5-4.3 2,.8zM72.6,105.9l2.6,4.7 -.3,.2 -2.6,.8z"/><path id="g83" d="M45.8,12.2l-3.4-1.6 -.3-1.1 .7-.9 5.1-.1z"/><path id="g84" d="M39.3,52.6l8-2.9 1.3,1.7 -8.7,5.7 -.7-4.4z"/><path id="g85" d="M45.8,21.7l.6-2.7 -.6-3.3 -7.5-1.1 5.7,7.5z"/><path id="g86" d="M63.5,18.8l-5.2-.1 -4.3-3.5 1.3-3.9 5.3,1.9zM46.4,19l6,.3 -.1-3.5 -5.3-1.2 -1.2,1.1zM14.1,24.8l-2.3,7.2 -7.9,4.4 -2.3,.5 -.1-.7 1.3-4.2 2.7-4.4 1.2-1 1.5-.6z"/><path id="g87" d="M38.8,30.9l-.7,7.8 8.5,3.2 2-7.6 -.3-1 -3.5-3.2zM12,15.9l9.3-6 .6-2.3 -4.5-4.6 -.7,.1 -4.4,3.5 -2.8,5.7 .9,2.9zM86.8,226.2l0,1.1 1.2,3.4z"/><path id="g88" d="M30.8,50.7l-.3,3.7 7.3,4 2.1-1.3 -.7-4.4zM72.3,111.4l-.1,2.8 -2.9-2zM68.5,122l-3.9,3.2 .2,.8 5.8,1.4 3.2-.5 3.8-4.1 -1.8-2.9z"/><path id="g89" d="M41.1,25l2.9-2.9 -5.7-7.5 -.1,0 -1,.9 -2.6,4 5,5zM15,129.8l-2.3,2.6 1.2,.6 3.5-.8 4.5-4.1 -2.8-.5zM25.4,121.3l1.1,4.3 4-1.5 -3.2-2.3zM139.9,85.8l-2.3,.1 2.4,1.1zM137.6,84.1l2.2,1.7 7.2-.1 -3.1-3.8 -4.6-2.4 -3.1,1.7zM128.9,86l1.5,0 -1.6-1zM99.3,95.2l-1.6-1 -.5-3.1 3,1.3z"/><path id="g90" d="M31.5,43.8l2.9,1.1 4.9,7.7 -.1,.1 -8.4-2z"/><path id="g91" d="M37.2,15.5l-2.9-.5 .4-3.9 1-.2 1.2,1.1 1.3,2.6zM149.6,101l.2,23.4 3.5,5.3 1.5,.4 .7-2.7 -.6-13.9z"/><path id="g92" d="M38.8,30.9l-5.8-.5 -.2-.2 .4-3.7 6.4-2 1.5,.5 3.7,5.1zM101.7,11.8l5.3,.4 .4-.3 3.1-5.3 -1.4-1.5 -4.2,.1 -3,2.6zM8.8,114.6l5,4.2 -9.1,2.4 2.4-5.9zM13.8,118.8l.3,0 .9,1.4 -.6,.7 -9.1,3.8 -3.5-2 .1-.1 2.8-1.4zM8.8,114.6l5.7-3.6 -12.2-1.6 -.7,.5 -1.6,1.6 0,5.3 7.1-1.5zM172.8,66.5l1.3-5.6 -6.6-1.5 -5,3.3 .2,.6 9,3.3zM159.2,51.1l.5-.6 5.8,2.3 -5.3,6.5zM110.6,150.7l-1.2-3.7 3.4,1.5zM137.3,65.3l.1,2.1 -3.8-1.5 -5.5-8.9 1.9-3.4 6.9,9.8z"/><path id="g93" d="M33.9,19.4l.7,.1 2.6-4 -2.9-.5zM63.3,41.8l10.1-6.5 -2.1-3.2 -8.3-.4 -2.9,5.5zM2.6,131.8l-2.6,.5 0-5 2.4,.2 .2,4.3zM9.5,12.3l-4.6,3.9 -4.9-.5 0-3.6 4.9-6.5 7.4,1z"/><path id="g94" d="M70.5,11.5l-7-4.9 -2.1,6.3 4.4,.6zM67.4,20.5l-.5-2.5 4.3-6.3 .3,.1 .5,3.4z"/><path id="g95" d="M38.8,30.9l-5.8-.5 1.5,6.8 1.6,.8 2,.7zM171.2,224.4l1.3,.4 2.2,.3 0-7.4 -1.8-1.3 -2,.1zM5.5,0l-1.2,4.5 -4.3,2 0-6.5zM48.3,59.3l5.6-7.9 -7.9,2.1 -3.1,7.6zM99.8,71.6l1.9,2.6 -3.1,2.7 -2-1.5z"/><path id="g96" d="M53.3,0l1,.9 4.1,.6 .4-1.5zM38.2,138.4l1-.8 2.3,.5z"/><path id="g97" d="M45.8,21.7l.6-2.7 6,.3 1.5,3.6 -1.6,1.2zM44.8,30.1l-3.7-5.1 2.9-2.9 1.8-.4 6.5,2.4 1.2,4.9 -5.2,4.3zM21.1,49.4l2.5-2.5 8.1-5.1 -.7,7.3 -4.1,5.1 -.5,0 -.9-.2zM7.7,53.4l.4-.8 0-.7 -2.5,1.4z"/><path id="g98" d="M76,11l-1.2-.2 -5.7-8.6 1.1-2.2 3.3,0z"/><path id="g99" d="M38.1,38.7l-2-.7 -1.7,6.9 4.9,7.7 8-2.9 1.8-3.8 -2.5-4zM29.9,54.4l1,.9 1.4,3.4 -9.3-1.1 -3.2-3.7z"/><path id="g100" d="M54.3,.9l-5,5.1 .3,.6 5.6,4.6 6.3-6.8 -.1-.4 -3-2.5zM15.6,61l8,6.9 3.7,1.3 1-.3 -1.2-5.8 -4.3-5.1 -4.5,0zM18,49.4l3.1,0 4.4,4.6 -.3,.1 -9.1-.4 .2-3.3z"/><path id="g101" d="M67.4,20.5l4.6-5.3 5,6.8 -6.1,3.8 -1.2-1 -2.5-3.8zM86.2,118.6l-8.2-1.8 -.5,.2 -1.7,2.9 1.8,2.9 8-3 .2-.2z"/><path id="g102" d="M121.8,9.5l-5-2.2 -2.6,.4 0,1.8 2.6,1.2zM34.3,211.6l0-2.1 -1.7,.6 1.2,2.2zM163.7,22.2l.7,2.6 2.6,11.3 -1.2,.6 -7.1-8 -.1-2z"/><path id="g103" d="M85,6.6l-3-1.6 -7.4,.1 1.6,6.8 1.5,.5 3.8,.4 .7-.2 3.9-2.2z"/><path id="g104" d="M86.1,10.4l-3.9,2.2 11.2,9.2 6.3-.8 .7-1.7 -2.7-6.4z"/><path id="g105" d="M121.8,9.5l2.9,.4 2.1-1.5 -.4-3.9 -9.4,.3 -.2,2.5zM120.9,171.2l-.3,.8 1.7,10 4.6,1.9 .3,0 1.5-5.2 -2.9-4.2 -3.9-3.3zM151.7,165.4l2.1-2.6 -3.1-2.5 .4,5.1zM174.7,39.6l0,1.4 -2.7,1 -2.4-.3zM57.2,117.7l2.3-2.3 .3-.4 -.2-1 -4.3-.6 -1.8,1.5 -1.8,2.7zM75.7,68.1l-1,.4 -8.3,7.7 -.2,.4 6.3,2.7 8.9-8.5z"/><path id="g106" d="M90.8,24l1.7-1.8 .9-.4 6.3-.8 3.6,3 -.8,2.8z"/><path id="g107" d="M122.3,19.4l-10.6,.4 -1.8-.4 -1-.3 2-5.2 4.4,.8 5.6,2.3zM97.5,35.6l2.6,4 .6-.2 .8-12.8 -2.9-.7 -1.2,9.2zM171.6,88.6l-.1,8.2 2.9-.6 .3-.3 0-6zM109.8,111.6l1.8,7.1 -2-1.6 -7-9.1 2.7-1.5zM94.6,64.2l-3.5,2.1 -2,2.1 2.7,4.3 5.4-4.9zM73.6,82.9l-2-.3 1-2.8 8.8-3.9 2.6,4.8 -.2,.2z"/><path id="g108" d="M116.8,10.7l-1.5,4 -4.4-.8 -3.9-1.7 .4-.3 6.8-2.4zM154.6,85.6l-2.6,3.7 0,4.4 10.4-.6 .5-4.3 -.9-3.3zM149.4,99.4l-1.5-.8 -6,4.3 -.8,10.1 3.2,6.1 4.3,5.3 1.2,0 -.2-23.4zM138.2,85.9l1.6-.1 -2.2-1.7zM65,217.4l-2.9-1.8 -.3-.8 4.8-6.2 .1,.2 -1.1,7.9z"/><path id="g109" d="M93.4,21.8l-.9,.4 -13-3.6 2-5.8 .7-.2zM8.9,128.6l-6.3,3.2 -.2-4.3 2.9-2.8 9.1-3.8 -1.3,5zM130.9,67.6l.3-.1 .9,.4 7.2,11.6 -3.1,1.7 -2.7-2 -4.8-7z"/><path id="g110" d="M81.5,12.8l-2,5.8 -1.5,1.5 -1.6-7.2 1.3-.5zM131.3,51.2l-2.8,5.1 -4.6-2.7 4.4-5.2zM150.4,139.7l-.3-.1 -1.5,1.1 5.6,11.4 1.4-1.3 2.6-4.9 -.2-1.3 -4.9-3.8zM91.3,37.5l-2.3,6.6 -4.2-3.9 -1.1-5.7 .7-5.9 .1-.1 6.1,2.4zM162.9,46.9l-3.9,.5 -.2,.3 0,.2 .9,2.6 5.8,2.3 3.7-.1 2-3.7 -.5-.7zM146.4,19.4l4.8,5.4 0,5.3 -3.4,.4 -1.3-4.9zM145.9,1.9l0-1.9 7.1,0 .3,.8z"/><path id="g111" d="M76.9,0l5.1,5 3,1.6 7.6-4.7 1.4-1.9zM68.3,84l-4.2,0 -.3-2.5 8.4,1.2 -.2,.9z"/><path id="g112" d="M92.6,1.9l9.3,5.9 -.2,4 -4,1.1 -11.6-2.5 -1.1-3.8z"/><path id="g113" d="M43,180.5l-.1,.5 -6.3,1.2 -5.2-8.7 4.1-3.9 6.2,6.8z"/><path id="g114" d="M36.2,204.1l-.1,0 -9.2-1.8 -2.4-5 1.6-7.8 7.7,6.8zM50.7,180.7l-1.7,7.3 -3.9-3.1 -2.2-3.9 .1-.5zM137.2,168.7l.3,0 8.6,6.4 -.9,1 -4.4-.6zM96.1,100.8l.9,1.2 .3-.9 -.9-.3z"/><path id="g115" d="M33.7,167l1.7,2.4 1.1-1.3zM131.7,50.5l-1.7-3.4 -2,.5 .3,.8 3,2.8zM8.9,128.6l-6.3,3.2 0,0 -.1,1.6 10.2-1 2.3-2.6zM147.7,190.5l5.1,.4 .4,.6 -2.6,4.1 -2.9-1.5 -1.2-2.7zM137.7,159.5l11.3,6.1 2.1-.2 -.4-5.1 -2.6-6.5 -1.2-.7 -9,3.9zM88,231.4l-2.2,0 -.9-.7 .1-1.1zM34.3,211.6l1.2,.6 3.5,10.6 -.1,.6 -2.2,3.1 -6.7-6.7 -.1-.5 3.9-7zM60,214.6l1.5,9.7 -4.8,6.1 -.2-.5 1.6-13zM84.5,92.7l.9,2 -11.4,.8 -.9-1 .5-9.9 8.1,4.4zM50.4,195.5l-3.2,.1 -1.5,6.9 .5,1.9 3.2,2.6zM164.5,17.7l6.4,4.7 1.6-12.7 -4-7.7 -.7,.6 -4.8,9.2zM149.6,44.2l-.7-5.8 2.8-.3 2.1,7.1zM42.6,68l.4-1.1 10-6.5 .5,.1 .2,1.6 -.5,1.4 -.8,.7z"/><path id="g116" d="M41.4,206.7l-5.2-2.6 -.1,0 -.5,4.9zM73.6,82.9l0,.8 -1.6-.1 .2-.9zM108.8,65.4l-.2-.5 -3.2-.1 .7,6.2 1.6,2.8 1.5-4.1zM133.6,210.7l-.1,0 -2.2-1.4 -11.2,1.2 .7,2.8 10.1,3.3 2.1-1.6zM30.2,169.2l-1.5,0 -.5,4.8 .9,.8zM60.6,171.9l4.9,.3 1.3,8 -2.5,.2 -3.7-3.3 -.1-4.9zM157.1,46l-3.3-.8 -2.1-7.1 -.2-7.4 5.7,4.8 0,10.1z"/><path id="g117" d="M73,96.6l-8.7,1.7 -10.6-3.2 -.5-1.4 2.4-2.5 17.6,1.7zM48.8,79.4l7.3,1 1.7,3.8 -8.1-1.9zM0,45l1.5,4 -1.5,1z"/><path id="g118" d="M73.4,88.9l-5.1-4.9 -4.2,0 -5.6,.5 -3.5,4.7 .6,2 17.6,1.7z"/><path id="g119" d="M67.3,103.5l-7.3,1.9 -3.3-.7 -3-9.6 10.6,3.2 3.7,3zM71.1,153.1l2.8-.6 -.9-1.6 -5-2.4 -.1,0 -.1,0z"/><path id="g120" d="M60.7,117.7l-1.7-5.4 4.4-.9 5.9,.8 2.9,2 -.1,1.4 -10.6,2.8zM68,148.5l13.9-1.5 .9-.2 0-.3 -7.3-3.2 -7.3,4.9 -.3,.3zM160.8,177.8l-5.2,4.9 -8.9-8 .9-2.2 11.4,3.2zM36.8,117.5l-9.5,4.3 3.2,2.3 5.6,2.5 .6-.1 1.8-1 -1-8zM103.5,27.1l.2,.3 1.8,11.1 -2,2.5 -2.8-1.6 .8-12.8zM174.7,81.9l-.6,.1 -4.2,1.2 4.8,4.1zM58.1,216.9l-6.6,4.2 5,8.8zM42.9,206.8l-.1-.3 .3-.5 1.9-.7 4.3,2.6 1.1,3.1 -5.2-.6zM21.3,193.7l4.7-7.6 .6,.9 -1.9,9.4 -1.4,.3 -.2-.1zM146.9,43.5l2.7,.7 -.7-5.8 -2.2-5.4zM164.4,24.8l9,9.2 -.4,6.3 -1,.4 -5-4.6z"/><path id="g121" d="M53.2,93.7l-1.5-5 3.3,.5 .6,2z"/><path id="g122" d="M49.7,82.3l2,6.4 3.3,.5 3.5-4.7 -.7-.3zM6.3,61.9l-6.3-4.5 0,4.5 4.1,.3z"/><path id="g123" d="M72.8,101l-4.8,.3 -3.7-3 8.7-1.7z"/><path id="g124" d="M112.2,55.4l6.9,11.5 2.3,2.1 0,0 3.2-5.8 -12.4-8.6 -.1,.1zM65.4,142.1l-2.1,.2 -2.6-3.7 5.3-2.4 3.7-.3 .4,.4 -4.7,5.8z"/><path id="g125" d="M117.5,76.1l-8.7-11.6 -.1-.4 10.4,2.8 2.3,2.1 0,0z"/><path id="g126" d="M68,148.5l13.9-1.5 -8.9,3.9zM12.7,231.4l-3.3-2.5 -5.6,1.8 -.9,.7z"/><path id="g127" d="M105.8,151.8l-.3-.7 -1.9,1.5zM0,152.7l3.4,2.3 .3,.7 -3.7,3.8zM18,125.4l7.7-3 1.1,4.1 -.1,0 -4.8,1.6 -2.8-.5zM7.1,115.3l-7.1,1.5 0,4.6 1.9,1.2 2.8-1.4zM129.9,86l1.9,4.2 3.7-.2 .2-2.2 -1.6-1.9zM123.7,190.5l5.3,1.1 .3,.2 .1,2.2 -.8,.2 -6-1.3zM118.6,96.2l-7.3-8.1 -.7,3.5 7.1,12.3 2.2,.6 0-6.2 -.5-.9zM122.2,67.6l6.5,4.6 4.8,7 -2.9,1.8 -3.7-.8 -7.2-8.2zM128.5,86l-11.4-8.6 -.1-.5 2.7-4.9 7.2,8.2 1.9,4.8 .1,1zM140.6,57.2l-5.6-1.9 -.8,0 3.8,6.6 2.7,.3 1-1z"/><path id="g128" d="M89.9,119.4l1.1,.2 1.1,2.4 -4.5,2.7 -1.4-.3 -.6-4.6 .2-.2zM75.5,143.3l-7.3,4.9 -2.7-6.1 12-1.1z"/><path id="g129" d="M70.1,136.3l1.5,.1 13.3-6.1 -9.7-.9 -5.5,6.5zM83.3,231.4l.9-.9 .7,.2 .9,.7zM141.7,61.2l2.4,3.2 2.7,4.6 -.2,4.3 -4.6-7.2 -1.3-3.9z"/><path id="g130" d="M97.7,145.7l3.5-.1 1.9,.5 1,2.1 -.3,.1 -7.8,.4zM103.1,146.1l-1.9-.5 1.4-.8z"/><path id="g131" d="M84.9,147.9l1.7-.7 7.4,4.2 -1.5,2.6 -.9,.6 -8.1-4.9zM115.2,146.1l2.7-2.7 -1.7-3.6 -7.4-3.3 -1.4,1.6 .1,.7z"/><path id="g132" d="M86.2,118.6l-.4,1 4.1-.2z"/><path id="g133" d="M72.7,115.9l0-.2 -.6-.1 -10.6,2.8 -.2,1.7 7.5-1.4zM60.7,138.6l-1.3-1.7 .4-3.3 2.9-.4 3.3,3zM161.8,72.4l-.2-.3 -2.1-9 1.1-.6 0,0z"/><path id="g134" d="M59.8,133.6l.5-4.6 4.5-3 5.8,1.4 -7.9,5.8zM128.1,57l5.5,8.9 -1.5,2 -.9-.4 -5.3-6.5zM73.5,115.9l-1.3-1.2 .1-3.1 2.6-.8 5.9,6.6z"/><path id="g135" d="M77.5,141l-12,1.1 -.1,0 4.7-5.8 1.5,.1 8.7,2.4z"/><path id="g136" d="M92.5,154l4.9-1 4.6,.2 -14.4,5.2 0-.3 4-3.5zM96.6,67l-.6-6.1 -2.4,1.9zM163.4,85.1l0,.3 3.4,1.4 0-3.2 -.5-.3zM161.3,110.3l.3,3.2 .6,1.2 5.2,2.1 2.9-6.7 .2-2.4 -5.7-2.2z"/><path id="g137" d="M88.6,130l-1-5.3 4.5-2.7 3.4,7.3 -5.5,1.2zM104.1,148.3l.7,.9 3.6-3.6 -1.7-3.1 -2.9,5zM151.3,48l7.8,7.9 .9,1.6 .6,5 0,0 -9.4-11.3z"/><path id="g138" d="M80.3,138.8l-8.7-2.4 13.3-6.1 3.7-.3 1.4,.5 -9.3,8.2z"/><path id="g139" d="M75.5,143.3l7.3,3.2 2-3.4 .9-3.1 -5-1.3 -.4,.1 -2.8,2.2z"/><path id="g140" d="M69.7,135.9l5.5-6.5 -.5-1.9 -.9-.6 -3.2,.5 -7.9,5.8 3.3,3zM124.5,63.5l1.4-2.5 5.3,6.5 -.3,.1z"/><path id="g141" d="M85.6,119.8l.6,4.6 -11.5,3.1 -.9-.6 3.8-4.1zM121.2,86l1.8-.7 -4.5-6.9 -1.6-1.2 -7-.2 -2.9,.4 3,4.4z"/><path id="g142" d="M73,150.9l8.9-3.9 .9-.2 2.1,1.1 -1.4,1.8 -7.6,4.8 -2-2z"/><path id="g143" d="M101.9,143.4l-3.2,1.1 3.1-1.4z"/><path id="g144" d="M88.6,130l-1-5.3 -1.4-.3 -11.5,3.1 .5,1.9 9.7,.9zM16.5,69.7l4,4.5 3.1,.7 1.7,.1 4.3-1.5 -2.3-4.3 -3.7-1.3 -7.4,.9zM16.1,53.7l.2-3.3 -8.2,2.2 -.4,.8z"/><path id="g145" d="M71.1,153.1l1.7,2.3 2.7-.3 .4-.6 -2-2z"/><path id="g146" d="M24.4,117.3l.1,.3 -9.5,2.6 -.9-1.4 6.8-6.1z"/><path id="g147" d="M30,138.9l-.6-2 -1.7,.4 -4.4,2.5 .9,1.6 4.8,.9z"/><path id="g148" d="M0,148.2l1.8-1.5 -1.8-1.7 0,0z"/><path id="g149" d="M13.1,125.9l1.3-5 .6-.7 9.5-2.6 .1,.6 -6.9,7.1zM0,152.7l3.4,2.3 9.1-12.2 -10.7,3.9 -1.8,1.5zM123,85.3l-4.5-6.9 6.7,5.2 -.8,2.2z"/><path id="g150" d="M27.5,147.8l1.5-5.5 -4.8-.9 -.1,5.3z"/><path id="g151" d="M2.5,133.4l-2.5,3.5 0,2.3 1.5,.4 6.8-1.4 5.6-5.2 -1.2-.6z"/><path id="g152" d="M2.3,109.4l-2.3-.3 0,.8 1.6,0z"/><path id="g153" d="M25.5,152.9l1-1.6 -1.1,3.8 -.3,0 -.1-1.1zM0,36.3l0,2.6 1.6-2 -.1-.7zM53,60.4l-1.4-.7 7.2-10.3 6.2-1.1 -7.1,8.1 -4.4,4.1zM43,66.9l-2.1-3.9 .8-.9 1.2-1 5.4-1.8 3.3,.4 1.4,.7z"/><path id="g154" d="M1.8,122.7l3.5,2 -2.9,2.8 -2.4-.2 0-3.3 .2-.2z"/><path id="g155" d="M0,165.2l7.8-1.4 -7.8-4.3zM170.8,75.2l3.3,6.8 -4.2,1.2 -3.1,.4 -.5-.3 -2.7-4.7 .4-.3z"/><path id="g156" d="M8.8,114.6l5.7-3.6 5.7,.8 .7,.9 -6.8,6.1 -.3,0zM24.4,117.3l.4,1.4 .8,.3 2.1-1.6z"/><path id="g157" d="M8.9,128.6l6.1,1.2 4.1-2.2 -1.1-2.2 -.3-.1 -4.6,.6z"/><path id="g158" d="M2.6,131.8l-2.6,.5 0,4.6 2.5-3.5zM145,132.7l-.6,2.6 -1-.1 -2.5-1.7 -1-3.6 2,.1 2.8,1.8zM144.2,130.2l0-.3 3.1-2 0,2.5zM33.7,21.7l-5.8,5.9 -1-3.1 7.9-13.8z"/><path id="g159" d="M137.5,168.7l1.9-2.2 6.1-.6 2.1,6.6 -.9,2.2 -.6,.4zM145.8,44l-1.2,6 -3.8-3.7zM89.1,79.9l-4.9,1 5.5,.6 0-1z"/><path id="g160" d="M153.2,191.5l12,7.5 0,.1 -14.4-3 -.2-.5zM158.8,47.9l.9,2.6 -.5,.6z"/><path id="g161" d="M143.3,184.7l-3.8,.4 -3.7-4 2.2-5.7 2.8,.1 4.4,.6 1.5,7.3z"/><path id="g162" d="M125.9,136.8l-.9-.4 4.7-4.6 3.7,4.9zM121.2,231.4l6.6-4.4 4.5,4.4zM120.3,231.4l-.1,0 -7.3-6.9 2.6-4.2 7.3,1.5 .5,.6zM129.1,93l-4.7-7.2 .8-2.2 3.3,2.4zM123.5,96.4l2.6,6.6 -6.2-4.7 -.5-.9zM14.4,188.4l-4,3.6 -7.2-16.5 .7-1.6 12.7,5.4 -.4,4.4zM66.8,180.2l3.6,2.5 2.5-8.8 -1.6-5.2 -1.2,.3 -4.6,3.2z"/><path id="g163" d="M108.8,152.5l.7-.8 5,5.4 -2.1,.6z"/><path id="g164" d="M132.4,159l-6.8-1 -1.8-3.2 4.8-.2z"/><path id="g165" d="M156.3,133.6l5.8,4.9 5.5,1 -2.6-7.4 -9.4-.7 -.1,.8zM103.5,41l-.7,5.6 -2.3-.7 -.4-.7 0-5.6 .6-.2zM152.3,70.5l-5.5-1.5 -.2,4.3 .2,1 5.8,5.8 2.3-4.9zM50.4,195.5l-3.2,.1 2.1-8.8 4.8,5.3 -1.2,2.1z"/><path id="g166" d="M113.6,147.7l2.5,1.8 -.2,7.9 -1.4-.3 -5-5.4z"/><path id="g167" d="M153.1,140.8l4.9,3.8 3.4-1.3 .7-4.8 -5.8-4.9 -3.2,1z"/><path id="g168" d="M150.1,139.6l-5.7-4.3 -1-.1 -2.1,5.4 7.3,.1zM132,127.5l-.3-3.8 -1.2,1.4z"/><path id="g169" d="M149.1,135.6l1.3,4.1 -.3-.1 -5.7-4.3 .6-2.6z"/><path id="g170" d="M132.2,129.4l-.7,.6 3.2,1.1 .4-1.5zM170.2,131.9l0,0 -.6-5.3 1-9.6 1.2,3.5 .3,11.5zM0,32.6l0,3.7 1.5-.1 1.3-4.2z"/><path id="g171" d="M134.7,131.1l.4-1.5 4.8,.3 1,3.6 -5-1.2z"/><path id="g172" d="M120,168.3l1.4-1.2 -3.8-2.1zM36.8,117.5l-9.5,4.3 -1.9-.5 0-.1 .2-2.2 2.1-1.6zM33.5,94l-6.3-2.4 -9-7.9 9.7-.1 8.5,6.4z"/><path id="g173" d="M119,150.1l-2.9-.6 -.2,7.9 7,4.7 2.4-.2 .3-3.9 -1.8-3.2z"/><path id="g174" d="M137,161.5l.8,1.7 4.5,3.1 6.7-.7 -11.3-6.1zM60.6,177.1l-.7,2.5 5.6,13 1.5-1.7 -2.7-10.5z"/><path id="g175" d="M150.7,134.1l-4.6-2.8 -1.4,.5 .3,.9 4.1,2.9zM136.4,129.6l-.1-.2 -1.5-11.2 0-1 .2-.6 3.1,11 -.2,2.1zM0,15.7l4.9,.5 -4.9,6z"/><path id="g176" d="M139.4,139.9l-3.5-7.6 -1.2-1.2 -3.2-1.1 -1.8,1.8 3.7,4.9z"/><path id="g177" d="M59.4,136.9l-13.8,.9 6-3.2 7.9,2.1zM52.3,129.5l8.1-1 .9-7.8 -11.3,5.3zM103.8,77.1l-2.1-2.9 -3.1,2.7 .4,1.1z"/><path id="g178" d="M41.5,138.1l4.1-.3 6-3.2 -.6-3.9 -12.2,3.8 .4,3.1z"/><path id="g179" d="M59.5,136.7l-7.9-2.1 -.6-3.9 1.3-1.2 8.1-1z"/><path id="g180" d="M53,117.7l7.6,0 .9,.9 -.2,2.1 -11.3,5.3 -6.8-1.8 4.4-3.9z"/><path id="g181" d="M26.5,125.6l4-1.5 5.6,2.5 -5.8,2.3 -2.9,0z"/><path id="g182" d="M38.2,138.4l-8.2,.5 -.8-2.9 8.6-2.1 1,.6 .4,3.1z"/><path id="g183" d="M109.2,69.7l.7,7.3 -1.3,.1 -.9-3.3z"/><path id="g184" d="M98.6,62l-2.5-1.6 -.1,.5 .6,6.1 6.8,9.6 .4-3zM59.3,210.2l.6-9.7 6.7,8.1 -4.8,6.2z"/><path id="g185" d="M74.4,35.5l2.9,.1 1.5,6.3zM20.5,194.1l-2.3,1.6 .9,6.1 1.4-2.5zM167.8,2.6l-2.5-2.6 3.3,0 -.1,2zM54.3,80.2l4.4-4 4.8-1.1 2.9,1.1 -.2,.4 -4.8,4.5z"/><path id="g186" d="M106.1,71l-2.3,2.6 -.4,3 .4,.5 1.4,.5 3.4-.5 -.9-3.3z"/><path id="g187" d="M163.4,85.1l2.9-1.8 -2.7-4.7 -1,0z"/><path id="g188" d="M160.5,61.9l2,.8 5-3.3 2.8-5.8 -1.1-.9 -3.7,.1 -5.3,6.5zM120.8,213.3l10.1,3.3 -.6,1.1 -7.5,4.1 -3.4-7.9z"/><path id="g189" d="M164.8,131.5l1.3-.6 .5,.3 0,.5zM13,79.8l3.9,3.2 -6.1,6.4 -10.8-7.5 0-2.7 .3-3.2 .2-.1z"/><path id="g190" d="M147.3,127.9l0,2.5 5.9,.4 .1-1.1 -3.5-5.3 -1.2,0z"/><path id="g191" d="M153.2,130.8l2.2,.1 -.6-.8 -1.5-.4z"/><path id="g192" d="M140.7,129.9l0-.1 .4-3.1 .4,0 2.7,3.2 0,.3z"/><path id="g193" d="M137.9,129.7l.2-2.1 2.6,2.2 0,.1zM8.2,70l6.7,6.9 -.9,1.3 -10.9-9.8zM174.7,206l-2.1-5 .1-.3 2,.5zM154.4,207l4-3.2 -6.1-6.4 -4.4-1.9 -3.7-.7 -1.1,6.2 10.4,6.1zM18.8,19.8l4.9-.1 7.7-8.6 -3.1-2.3 -7.2,5.5 -2.2,4.7z"/><path id="g194" d="M135.5,90l1.7,6.7 4.7,6.2 6-4.3 -4.3-9 -3.6-2.6 -2.4-1.1 -1.5,0 -.4,1.9zM60,214.6l0,0 .2-.1 6.9,4.2 -3.5,8.7 -2.1-3.1zM94.3,110l.8,1.2 -1.7,6.8 -1-2.4zM53.7,62.1l13.8-6.7 .9-1 -10.5,2 -4.4,4.1z"/><path id="g195" d="M141.1,126.7l-.4,3.1 -2.6-2.2 -3.1-11 .2-.8 .5-.9 .6,.3zM134.8,117.2l-3.5,1.5 .9,10.7 .7,0 .3-.9 1.6-10.3zM28.4,111.4l.4-1.5 -.2-3.2 -7.3,3.6 -1.1,1.5 .7,1 5.1,1.7zM119.7,199.5l2.5,3.2 -4.1,.3zM5.7,47.5l-1.8-11.1 -2.3,.5 -1.6,2 0,6.1 1.5,4zM21.9,7.6l9-5.3 2.1-2.3 -5.1,0 -6.4,.5 -4.1,2.5zM89.7,80.5l0,1 3.2,5.4 1.7,1.2 7.1-.1 1.1-3.3 -6.3-4.6zM40.9,63l-.9,.8 -.9-2.2 2.6,.5z"/><path id="g196" d="M11.5,104.8l-6.4-7.5 -5.1-1.3 0,10.5 5.7,.7z"/><path id="g197" d="M15.6,61l2.7-3 -8.6-4.3 -1.2-.3 -4.2-.2 8,7.5z"/><path id="g198" d="M27.2,102.4l-8.6-6.9 8.6-3.9 6.3,2.4z"/><path id="g199" d="M38.5,82.8l-13.2-7.8 -1.7-.1 8.7,7 5.7,1.2z"/><path id="g200" d="M0,109.1l8.1,1.1 -2.4-3 -5.7-.7z"/><path id="g201" d="M30.5,54.4l-.6,0 1,.9 .5-.4zM140.6,57.2l.1-.6 9.6,5.2 1.5,2.9 0,2 -7.7-2.3 -2.4-3.2z"/><path id="g202" d="M27.3,69.2l2.3,4.3 10.3,6.6 4.6-1 .5-.6 -8.1-7.1 -8.6-2.5z"/><path id="g203" d="M14.9,76.9l4.8-1 8.5,6 -.3,1.7 -9.7,.1 -1.3-.7 -3.9-3.2 1-1.6z"/><path id="g204" d="M4.1,62.2l-4.1-.3 0,5.5 3.1,1 5.1,1.6 .7-.6z"/><path id="g205" d="M8.1,62.4l4.2-1.7 3.3,.3 8,6.9 -7.4,.9z"/><path id="g206" d="M0,89.2l2.2,2.1 -2.2-7z"/><path id="g207" d="M6.3,61.9l-6.3-4.5 0-4.4 .6,.1 5.8,8.8z"/><path id="g208" d="M5.6,96.1l-2-2.1 -1.4-2.7 -2.2-7 0-2.4 10.8,7.5 4.2,4.9z"/><path id="g209" d="M38.5,82.8l.7-.2 1.8,1.2 -2.2,3 -.8-3.7z"/><path id="g210" d="M30.1,98.5l1.3-1.7 -.1,1.7z"/><path id="g211" d="M42.2,117.5l.3-.7 11-1.9 -1.8,2.7z"/><path id="g212" d="M51.1,86.8l-.4-1.3 -.9,2.4zM81.8,104.4l-9.2,1 0,.5 2.6,4.7 12.9,3.7 1.7-1.8z"/><path id="g213" d="M49.8,87.9l.9-2.4 -.9-2.9 -5.8,3.3 -4.2,8.3 9.8-6.1zM128.8,85l1.6,1 3.6-.1 -3.4-4.9 -3.7-.8zM55.3,75.1l-5.3,2.7 -1.1,1.6 5.4,.8 4.4-4z"/><path id="g214" d="M48.8,79.4l1,3.2 -5.8,3.3 -1.7-3.8 3.3-4.4z"/><path id="g215" d="M59.3,117.7l.2-2.3 -2.3,2.3z"/><path id="g216" d="M42.9,206.8l-1.5,9.9 4.3,.8 -.5-7.1z"/><path id="g217" d="M168.5,216.3l-14.1-9.3 4-3.2 .9-.2 3.5,1 10.6,6.9 .1,.2 -.6,4.7 -2,.1z"/><path id="g218" d="M109.3,223.2l2.3,1.5 -4.4,3.1zM42,68.8l.6-.8 .4-1.1 -2.1-3.9 -.9,.8z"/><path id="g219" d="M122.4,93.3l-1.2-7.3 -11.2-4.2 1.3,6.3 7.3,8.1z"/><path id="g220" d="M117.7,103.9l-7.1-12.3 -6.3,1.1 -.5,2.4 6.1,8.2 7.3,3.2zM90.3,92.4l6.9,2.5 .5-.7 -.5-3.1 -2.1-2.4z"/><path id="g221" d="M103.6,95.1l-3.8-1.6 2.1-6.1 2.4,5.3 -.5,2.4z"/><path id="g222" d="M105.8,151.8l-1.7-3.5 .7,.9 1.1,2.7z"/><path id="g223" d="M130.1,105.4l-2,.5 .2,2.6 2.4,3.4zM159.3,52.1l-.2,3.8 -7.8-7.9 -1.5-3.8 8.5,2.1 .3,.3z"/><path id="g224" d="M122.4,93.3l-1.2-7.3 1.8-.7 1.4,.5 4.7,7.2 1,12.4 -2,.5 -2-2.9 -2.6-6.6z"/><path id="g225" d="M108.8,152.5l1.8-1.8 -1.2-3.7 -1-1.4 -3.6,3.6 1.1,2.7z"/><path id="g226" d="M110,81.8l-3-4.4 -1.8,.2 -3.3,9.8 2.4,5.3 6.3-1.1 .7-3.5z"/><path id="g227" d="M102.7,122.5l-5.9,.9 10.6,14.7 1.4-1.6 -4.2-11.8z"/><path id="g228" d="M100.5,140.4l4.5,.9 1.7,1.2 0,0 -2.9,5z"/><path id="g229" d="M117.2,106.5l-7.3-3.2 1.7,5 3.7,4.8 3.7-2.7z"/><path id="g230" d="M119.9,104.5l0-6.2 6.2,4.7 2,2.9 .2,2.6 -2.4,1.2z"/><path id="g231" d="M122.5,138.9l-6.7-5.2 .4,6.1 1.7,3.6z"/><path id="g232" d="M106.7,142.5l0,0 .8-3.7 7.7,7.3 -2.4,2.4 -3.4-1.5 -1-1.4z"/><path id="g233" d="M115.8,133.7l.4,6.1 -7.4-3.3 -4.2-11.8 9.7,5.6z"/><path id="g234" d="M30.9,166l-2.5-1.8 -.8,.7 1.1,4.3 1.5,0z"/><path id="g235" d="M19.3,205.1l-1.6-.3 -.5-2.7z"/><path id="g236" d="M151.8,64.7l-1.5-2.9 0-3.4 9.2,4.7 2.1,9 -2.3-.8z"/><path id="g237" d="M151.8,66.7l.5,3.8 2.6,4.7 5.3,4.1 -.9-8 -7.5-6.6z"/><path id="g238" d="M134,85.9l-3.4-4.9 2.9-1.8 2.7,2 1.4,2.9 .6,1.8z"/><path id="g239" d="M30.5,54l-2.3,.3 -1.3-.1 4.1-5.1z"/><path id="g240" d="M12.3,6.6l-7.4-1 -.6-1.1 1.2-4.5 12.2,0 -1,3.1z"/><path id="g241" d="M22,0l-.5,.5 6.4-.5z"/><path id="g242" d="M26.8,30.3l2,2.1 -10.8,17 -1.7,1 -8.2,2.2 0-.7 -.3-4.7 7.5-9.5zM0,53l5.6,.3 2.5-1.4 -.3-4.7 -2.1,.3 -4.2,1.5 -1.5,1z"/><path id="g243" d="M4.9,5.6l-4.9,6.5 0-5.6 4.3-2z"/><path id="g244" d="M17.4,3l4.1-2.5 .5-.5 -4.3,0 -1,3.1z"/><path id="g245" d="M31.7,41.8l-8.1,5.1 7.5-13.9 1.5,.2z"/><path id="g246" d="M99.3,95.2l-1.6-1 -.5,.7 -.8,5.9 .9,.3z"/><path id="g247" d="M101.7,88l-7.1,.1 .5,.6 2.1,2.4 3,1.3z"/><path id="g248" d="M90.3,92.4l4.8-3.7 -.5-.6 -1.7-1.2 -8.3,.1 -2.9,2 2.8,3.7z"/><path id="g249" d="M97,102l-.9-1.2 -4-.9 -1.4,3 3.7,6.9z"/><path id="g250" d="M72.1,115.6l.1-.9 1.3,1.2z"/><path id="g251" d="M91,119.6l-10.2-2.2 -5.9-6.6 .3-.2 12.9,3.7 3.1,5z"/><path id="g252" d="M82.9,215.9l-2.9-4.2 -.1,.2 1.6,11.2 2.4-3.6z"/><path id="g253" d="M65.5,192.6l-5.6-13 -4.3,5.3 -.2,6.5 4.2,7 5.2-3.4z"/><path id="g254" d="M165.8,36.7l1.2-.6 5,4.6 -7.4,3.1 -.7-4z"/><path id="g255" d="M68.8,38.2l-4.5,3 2.6,4.3 .2-.3z"/><path id="g256" d="M84.7,69.8l1.3,0 -4.6,6.1 -8.8,3.9 -.1-.5 8.9-8.5z"/><path id="xa" d="M108.2,172.4l-3.1,2.3M128.5,214.3l2.7,.2M163.9,150.8l-1.7,.5M81.5,57.3l-.4,2.9M2.3,50.4l2.4,2.9M133,37.1l-1.5,1.1M107.3,29.4l3.7,0M36.4,50.1l-3.7,.2M50.3,223.4l-.4,3.2M35.6,218.7l-2.2,3.2M155.2,69.4l.8,1.7M25.3,15.1l1.8,2.4M.6,157.6l1.1,2M142.2,111.7l1.5,2.3M122.4,13.2l-1.6,.1M130.2,196.4l3.5,.2M63.6,134.4l1.6,0M31.4,222l2.8,2M161.5,218.9l1.1,2.1M91.1,180.3l3.2,1.1M138.5,199.8l3.8,.4M15.8,79.2l-1.3,3.6M59.1,214.8l-.3,2.3M55,41.2l1.8,.5M119.7,231.6l1.4,.8M171.4,124l.6,2M103.2,192l.4,2.5M9.7,212.9l2.7,.3M145.6,30.3l-2.6,2.9M109.5,183.1l2.4,.9M25.9,196.3l1.6,2.1M173.6,198.1l-2.6,.2M84.8,169.5l.1,2.2M70.1,34l1.5,3.7M166.7,145.7l0,2.3M15.5,63.3l-2.8,2.3M62.8,182.7l-2.5,2.1M115.3,176.5l1.4,3M48.8,112.9l-2.4,2.1M51,219.7l-1.3,2.6M2,127.1l2.2,2.3M80.4,189.8l-1.6,3.1M60.4,149.7l-2.4,2.6M60.8,195.9l-3,1.3M169.6,222.3l-.2,2.8M28.9,194.4l-2.6,.5M120.1,167.3l-1.3,1.4M135.6,135l-1.3,2.2M108.3,180l-1.4,3M4.8,37.2l.6,3.1M38,159.4l-.6,1.5M81.9,52.6l1.8,.3M55.1,42.2l1.3,.9M80.8,88.4l-1,2.8M41.3,209.9l2.5,0M48.4,95.3l3.3,1.3M64.9,8.4l-.6,1.6M94.7,78.9l-1,3.8M142.2,97.4l-2.6,1.7M64.2,33l-.9,2.8M166.3,225l-.8,2.2M155.2,.2l2.7,1M106.9,32.7l-1.5,3.4M65.3,100.3l1.7,1.5M168.9,88.3l-3.8,.5M103.5,60.4l-2.7,.2M72.2,74.2l-2.7,.1M49.7,110.8l2.8,1.1M77,68.1l-2.8,2.3M2.3,123.8l2.5,2.9M135.8,57.1l1.3,1.4M171.8,68.1l-.9,2.5M112,140.3l-1.2,1.3M132.1,69.9l-.2,2.3M51.6,123.1l.3,2.4M129.4,137.3l2.1,.2M79.1,213l-2.7,1M2.5,180.9l.7,2.9M123,146.9l.2,3.8M67,91.1l-1.8,.9M51.5,192.9l3.5,.7M120.7,100.6l2.1,2.7M158.2,33.2l.2,2.9M86.4,76.9l2.6,1.4M141,15.9l2.7,2.3M137.5,154.2l3.3,.3M170,232l-1,1.3M146.3,50.9l-1.7,3.5M123.8,31.3l2.3,3M26,141.9l.5,1.8M108.1,10.1l2.3,.8M12.5,13.4l-.8,3.3M152.6,31.2l.5,2.2M104.3,113.8l-2.4,.5M9.7,162.1l2.7,1.4M87.9,211.6l-.5,3M45.7,128.2l2.4,2.4M89.8,31.1l1.8,1.6M128,41.7l-1.9,2.5M14.8,155.2l1.7,.5M103.2,55.4l-2.5,1M56.2,185.1l3.3,.3M9.3,35l-3.2,.5M38.8,27l-3.2,.3M142.5,32.5l-.9,2.2M40.8,77.5l-.8,2.2M67,31.7l-2.7,1.6M139.7,100.7l-2.5,1.3M102.9,133.2l-1.7,1.8M16.8,7.7l1.3,.9M154.5,111.8l-1.1,1M81.7,206.8l-.9,2.4M80.9,23.2l1.7,.9M65.1,89.6l-1.7,.7M44.1,64.5l1.9,1.1M40.8,112l3.8,.4M64.1,218l-1.8,2.6M81.9,219.7l3,1.1M50.6,156.7l-1.3,1.4M34.9,5.8l1.3,1.1M69.7,226.3l.9,2.1M81.3,65.8l-2.2,2.5M28.4,55.9l-2,3.3M112.2,100.1l-1.5,.1M10.6,181.1l.4,1.5M95.3,230l-.1,2.4M16.3,16.6l-2.6,.9M162.5,12.5l1.2,1.1M69,14l1.8,1.8M53.1,11.9l3.9,.5M31.2,118.2l.9,2.7M14.7,72.9l2.7,.9M160,139l-1.8,.9M3,125.4l.1,2.9M65.4,145.3l-2.5,2.9M53.4,104.4l-1.8,1.1M20.1,72.4l3.3,.9M142.3,72.7l1.6,.7M42.5,19.6l.7,2.9M42.6,14.3l-1,1.3M34.7,66.5l.7,1.6M73.1,73l-2.1,2M155.7,152l-2.1,2M76.8,189.8l-1.8,3.4M126.5,163l2.4,2.6M66.4,30.3l1.9,.4M45.6,157.1l1,1.3M132.7,129.5l1.6,.1M22.6,83l-3.5,1.7M106.3,53.7l.5,2.3M57.4,2.9l-.9,3.4M126.3,22.1l-.2,1.9M123.2,103.7l-3.4,.7M20.5,73.7l-2.6,.7M75.4,102.6l-2.9,2.6M92.5,225.4l-.5,1.7M141.4,97.5l3.9,.6M5.7,134.1l.2,3.7M68.2,50.1l1.3,1.5M97.7,83l-1.5,1.5M61.1,57.7l-3.6,.2M147.6,143.7l.6,1.8M144.5,113.9l1.9,.2M17.1,166.8l-1.9,.6M138.4,75.3l-2,3.1M108.2,186l.6,1.4M88.9,136.3l2.1,1.4M55.1,6.3l1.4,2M82.7,163.5l1.2,3.8M141.7,214.7l-1.8,2.6M93.2,185.6l1.2,2.7M118,121.4l1.1,1.3M15.2,82.7l-.8,3.3M124.1,71.3l-2.1,.5M124.4,16.7l-2.3,2.2M166.2,208.5l-2,3M128.3,142l2.2,1.7M155.7,55.6l-2.9,.2M68.3,.7l.7,1.8M113.4,209.1l-2.9,.8M67.2,25.3l-1.6,2.4M124.2,86.9l-1.9,.7M53.1,62.2l-1.4,3.5M29.1,147.1l-1.5,1.4M10.9,131.5l-3.2,1.9M126.5,96.9l.7,2.7M157.2,70.3l1.9,2.3M167.9,43.5l1.8,.2M97.7,140.2l1.7,1.1M103.3,150.2l-1.9,2.7M10.7,112.6l-3.4,1.9M55.3,197.6l-1.7,3.4M39.8,161.9l-2.4,1.3M17.5,45l1.5,.8M26.4,143.1l3.2,1.1M127.9,189.7l-2.7,1.9M160.5,222.4l-1.5,3.6M17.9,23.9l2,.4M65,106.6l-1.8,2.8M14.6,93.7l-.3,2.4M20.4,138.8l1.2,3M86.1,223.7l-1.7,.3M132,167.6l1.1,1.4M83.2,82.3l-2.6,2.8M66.4,67.5l0,3.2M137,133.8l1.4,1.9M147.3,120.7l2.5,.4M41.3,154.8l2.1,.5M16.7,111l-2.9,.1M67.1,217l2.3,.7M140.8,1.2l-1.8,1.6M2.9,58.3l.3,2.4M89.8,12.3l3,2.5M76.9,109.7l2.1,.6M165.8,159.7l0,1.6M68.2,180.9l.6,2.9M156.7,149.9l-.7,1.4M4.1,178.8l1,3.5M143.4,212.7l1.5,3.7M131.4,207.2l3.1,1.6M73.3,225.9l-2,0M73.2,63l.2,2.2M115.8,28.7l2.3,1.3M12.8,88.6l-3.5,1.2M34.1,4.3l-3.3,2M104,31.7l2.8,2.6M162.9,7.2l2.2,1.4M46.3,175.2l1.3,3.2M26.4,120.5l-3.2,.3M15.6,25.8l-1.1,2.2M64,111l-1,3.8M41.8,132.2l1.9,2.1M127.1,31l.2,3.3M1.4,179.2l.7,2.7M106,184.3l2.7,.5M6.7,89.6l.7,1.4M51.7,104.6l-1.8,3.4M64.3,123.2l-2.4,3M165,229.6l1.1,1.6M161.9,18l.5,3.3M91.8,90.3l-2.2,.5M95.8,192.8l2.2,1M85.9,131.5l2.1,1.6M10.4,20.4l.9,1.6M168.1,61.2l2.2,2.6M128.7,60.9l-2.6,1.6M67.5,146.1l1.5,1.5M152.3,101.9l-1.8,.6M23.8,12.1l-2,2.1M1.7,10.1l-2.3,1.4M151.3,9.2l-.5,1.7M125.3,142.1l-.7,1.9M164.8,25.8l3.1,.6M16.1,15.5l.4,3.1M155,167.5l3,.7M146.5,28l-1.5,1.5M51.9,.3l-2,1.9M156.7,108.2l1.8,1M45.7,220l1.4,1M61.3,18.4l.7,3M113,40.6l2.5,1.2M119.4,103.9l-.9,3.7M25.2,62.2l.1,2.8M156.4,129.1l-1.2,2.2M136.2,194.3l1.1,1.4M45,83.1l-2,.7M109.3,148.9l-1.8,.2M133.7,78.2l2.9,1M146.7,135.4l3.9,.6M66.7,147.9l-1.4,1.6M70.9,76.5l1.6,.5M124.5,95.4l-1.5,.7M52.4,41.9l-3.4,.6M155.7,117.7l2.4,.8M39.3,6.2l-.5,2.2M18.7,118.9l-3.8,.8M81,23.9l-1.3,1.2M93.3,19.5l-2.9,.1M76,63.3l-.6,3.9M74.3,48.6l-.2,3.8M66.3,147.3l-2.2,.6M140.9,122.9l1.5,.7M163.1,108.3l.7,3.7M99.7,116.2l2.1,2.6M44.5,109.3l-2.2,2.1M23.3,47.1l-1.9,2.7M17.8,231.8l1.8,.8M15.6,103.7l-1.3,3.4M28.3,162.4l2.8,1M43.8,82.8l3.3,.5M21.2,177.6l1.5,2.6M111,113.6l-3.5,1.5M49,77.6l-1.7,.7M73,96.4l-1.8,.1M113.8,175.9l-1,1.1M163.9,72.6l-2.8,1.4M73.1,194.7l-1.2,2M127.1,117.4l-1.9,2.4M138.3,37l0,1.5M137.4,179.3l-1.4,.8M93,111.2l1.9,.7M169.2,198.2l2.6,2.4M113.1,89.5l-.9,1.9M47.6,2.3l-1.4,2.6M129.1,117.1l.5,2.2M127.7,86.6l-1,3.2M77.2,159.5l2.1,.4M146,34.3l1.5,.3M133.1,24.7l.3,2.6M139.5,110.8l-.1,1.6M138.1,178.3l-1.4,3.3M106.7,166.4l-2.7,1.4M3.5,205.6l-2,.1M11.5,79l2.3,.7M15.5,51.2l2.6,0M52.1,169.4l.7,1.8M165.6,207.9l-1.1,1.7M69.9,104.8l.4,1.5M79.2,178.4l-2.1,3M118.6,177.3l-3.5,1.5M137.8,96.7l-1.5,2.8M153.3,165.8l.3,1.9M56.9,58.2l-1.9,2.9M33.4,124l-2.1,1.2M16.5,140.7l.8,1.7M50,1.6l2.3,1.2M18.2,1.4l-.6,3.8M144.9,75.8l-1.7,.4M26.1,1.6l3,.5M131.5,111l-2.1,1.5M159.6,141.3l-.2,1.9M74.1,102.3l-1.8,1.1M51.2,189.8l2.8,.6M38.1,154.6l-.5,1.7M126.8,94.7l1.9,3.1M135.3,71.9l-1,1.5M90.1,19.2l-1.6,3.4M110.5,9.5l-.1,2.7M77,35.1l1.7,2M12.4,156.7l1.6,1.5M15.8,70.3l-2.2,.5M16.7,80.4l-1.7,.3M59.5,48.6l-1.4,2.2M17.1,200.4l1.7,2.8M78.7,202.6l2,.4M49.6,61.4l-2.3,1.5M60.2,117.8l-2.6,1.4M78.4,152.6l-.9,2.4M74.1,30.6l.7,3.6M53.2,84.9l-.9,2.8"/><path id="xg" d="M103.4,163.4l11.5,1.5M88.3,158.8l13.2,1.8M82.3,167.1l5,.3M100.8,186.7l12.4,.3M95.6,158.2l13.3,1.8M77.2,187.2l13.2,1.8M76.6,175.6l5,1.1M110.7,197.6l4.7,.6M77.5,182.9l9.5,2.1M78.7,172.7l13.3,.4M97.7,182l15.5,2.8M102.9,190.8l7.1,1.5M87,173.8l9.4,.5M102.4,157.5l4.2,.2M98.2,205.8l13.3,.6M93.9,171.8l14,3.1M92.5,220.9l8.4,1.6M100.9,208.1l7.7,.2M106.8,163.4l8.2,1.6M102.3,196.5l12.1,.2M102.1,202.7l13.8,1M162.9,160.7l8.7,6.3M124.3,25.3l13.4,.8M128.8,11.4l5.8,1M132.4,34.5l7.3,.4M130.7,26.3l11.2,2M129.7,43.8l9,1.7M123,22.5l14.9,.7M132.7,14.9l8.3,.3M43.1,154.1l1.9,8.7M34.3,150.2l.2,6.8M62.5,143.5l2,10.5M42.7,148.1l1.4,12.8M51.9,150.4l.8,9.4M29,143.1l2.1,11.5M67.1,155.6l1.4,7.6M56.2,163.2l1.1,6.9M58.6,154.9l2.1,10.7M34.8,16.3l12.8,8.3M35.9,40.6l13.7,7.3M51.6,24.1l11.7,5M31.9,41.1l8.3,4.1M40.9,34.7l13.1,7.1M63,6.1l11.2,4.4M54.9,1.6l7.1,2.9M43.6,7.5l10.7,5.8M51.1,22.2l8.2,3.2M40.5,36.3l7.8,3.9M35,9l12.3,7.7M52.1,8.1l4.5,1.8M68.4,15.7l6.3,4.2M52.3,23.6l7.2,4.2M36.2,18l8.8,5.5M35,44.5l5.9,3M111.5,.5l10,.3M108.8,.4l14.4,1.7M99.8,18.2l15.2,1.3M88.7,10.2l11.9,2.4M94.3,20.6l12.9,2.3M109.3,11.6l12,2.5M99.3,5.2l11,2.2M94.3,6l10.6,.4M96,16.7l14.8,.5M81.6,10.5l8.8,.1M109.1,2.7l12.9,2.9M109.6,11.6l13.3,2.2M32.8,171.5l3.3,6.2M35.8,187.1l7.4,9.2M39.4,177.5l6.8,10M67.3,85.3l6.2,-.1M61.2,105.7l10.6,1.9M50.2,80.8l8.3,1.5M57,93.9l14.9,-.6M64.2,113.5l4.5,.3M57.6,81.5l9.7,1.8M115.3,63.1l4.1,3.2M109.9,49.6l6.2,5M108.8,47.9l7.4,6.6M119.4,53.6l4.7,3.9M113.4,61.8l4.1,3.6M111.4,71.6l4.5,4.1M113.7,56.2l3,3M112.9,45.7l7.5,8.2M120.2,52.4l4,3M110,69.7l2.9,3M115.5,33.6l6.1,5.7M109.2,58.5l11.6,8M71.4,132.2l9.3,-3.6M62.6,124.9l14.9,-4.3M91.4,152.2l9.7,-2.7M63.1,140.8l8.2,-3.8M75.8,155.9l14.2,-3.6M74.3,149.4l13.9,-5.4M91.3,138.4l6.7,-2.6M85,146.9l14.2,-6M64.2,126.5l9.2,-4.2M73,136.9l5,-1.3M75,151.1l6.8,-3M78.3,148.3l10,-2.9M68.8,149.2l4.4,-2.1M10.2,121.8l10,-5.2M7.5,143.1l6.4,-2.6M7.6,146.8l12.9,-4.1M7.8,155.1l8.5,-2.6M12.8,146.3l13.2,-7.5M.9,152.7l13,-5.7M5.1,126l6.4,-3M13.1,148.3l12.1,-6.7M17.2,151.9l7.3,-3.5M2.4,137.6l5.2,-2M.7,162.2l10.5,-5.5M15.8,124l8.8,-3M138.3,184.8l7,5.5M130.9,174.8l7.6,8.5M162.4,180.4l4.5,3.9M140.3,187.4l6.8,5.4M165.5,194.2l3,2.9M135.5,178.7l10.6,11M135.5,171.6l3,2.7M128.2,185.4l3.8,4.1M136.7,179.1l8.7,7.1M163.3,192.5l8.8,6.3M152.5,175l10.4,10.1M136.1,182l9.5,7.3M138.9,159.5l4,3.1M148.1,141.5l7.6,4.8M142,148.8l6.1,4.4M127.2,152.5l11.6,9.5M129.9,140.2l12.5,7.7M149.6,139.6l4.6,4.4M130.3,132.7l5.9,3.8M150.2,143.1l10.4,8.1M147.6,135l8.7,6.2M151.7,140.2l3.9,3M143.5,151.2l3.9,2.4M125.7,145.8l10.5,10M124,150l11,8M38,131.2l4.3,-1.6M29.7,134.6l14.7,-4.5M45.5,136.9l5.3,-1.8M39.5,133.2l4.3,-.9M31.1,136.8l9.1,-2.7M34.2,120.9l9.4,-1.9M43.9,132.2l7.4,-2.2M100.4,64.5l1,7.5M103.5,42.9l.8,5.4M94,47.4l.6,5.3M102.7,64.8l.7,5.1M104.6,56.5l1.3,6M83.7,30.5l-.2,12.6M96.8,32.5l-.1,5.9M104.6,48.7l-.1,12.1M99.3,55.8l1.5,10.7M89.8,45l.7,11.7M97.5,51.9l1.7,15.1M84.7,32.8l.6,7.7M93.1,42l.3,11M93.2,35.8l1,8.1M163,70.6l7,-1.7M165.8,80.4l3.8,-1.9M163.8,81.5l6.9,-2.3M152.9,107.6l3.7,13.6M149.2,92.3l1.9,11M137.6,121.2l2,6.7M162,95.9l1.7,6.6M162.1,112.5l2.1,12.6M142,117.3l3.4,12.5M148.9,109.4l.9,12.9M140.5,87.5l1.3,4.8M170.9,94.5l1.4,7.2M142.8,115.8l.9,8M150.7,99.6l1.6,5.2M156.1,104.9l1.9,10.1M173,102.7l1.2,10.5M154.6,108.6l2.6,9.3M165.8,110.2l3.8,14.8M135.5,123.7l1,4.3M159.5,100.4l1.8,7M160.7,113.1l4.6,15M138.4,119.5l.5,7.5M132.7,102.4l.7,4.3M138.9,90l.7,9.6M20.6,77.8l9.5,4.8M12.8,80l10.3,6.9M19.4,85.1l7.1,4.3M13.1,59.9l3.7,2.5M1.8,84.7l9.1,4M20.1,85.4l13,7.8M5.5,107.7l4.9,2.7M16.8,103.7l4.6,2.3M.1,68.1l7.1,3.5M18.9,103.9l5.1,2.3M12.8,77.9l6.7,2.9M8.9,60.5l10.4,5.5M15.7,58.8l10.1,4.7M8.4,106.1l4.6,2.8M12,82.5l12.4,5.6M11.8,78.3l8.7,3.4M21,60.7l12.1,8.2M26.6,106.1l4.4,-4.3M51.6,107.9l3.1,-2.5M39.3,97.2l11.5,-9.6M40.2,106.6l4,-3.6M40,113.9l4.7,-3.4M43.4,106.8l6.8,-5.1M25.6,221.3l.7,8.7M31.3,221.4l2,9.9M45.5,208.2l.3,4.6M52.1,210.1l1,7.2M119.8,209.9l12.2,6.4M127,202.6l4.2,2.5M155.3,202.4l9.7,4.8M136.9,209.5l6.7,4.3M142.2,219.1l4.6,2.7M165.6,220.3l3.8,2.5M132,209.1l10.6,5.5M123.9,198.2l11.3,7.2M136,216.1l12.9,5.8M143.8,195.3l12.9,7.1M112.1,223.8l11.6,6.5M129.4,219.6l3.7,2.1M146,216.3l11.2,4.2M137.2,198.1l11.8,5.7M154.2,223.2l11.5,6.5M161.8,209.6l8.1,4.4M127.2,212l14,5.7M122.4,225.2l8.1,3.3M125,199.6l6.4,4M144.9,203.7l6.5,3.1M145.7,196.4l5.3,3.1M115,221.6l12.8,7.9M153.3,222.7l5.2,2.3M100.3,118.7l4.9,9.3M126.8,92.3l2,3.9M97,120.7l5.7,7.7M104.8,123.6l4.6,6.2M110.7,96.3l3.9,7.6M104.8,109.6l8.8,10.9M95.3,110.5l2.1,4.3M113.2,91.4l3.4,5.8M97.6,128.6l6.6,8.6M96.8,120.7l5,9M113.8,102.4l5.1,7.5M103.8,92.4l2.8,4.8M110.2,82.9l3.6,6M101.1,112.4l3.1,4.2M105,91l7.6,9.9M125.2,89.2l2.7,5.3M100,96.2l5,8.2M99.5,117.8l6.6,13.6M99.6,117.3l3.8,5.8M104,91.7l5.4,8.2M120.2,93.8l8.8,12.1M92.2,118.8l5.4,10.8M118.9,80.2l4.4,8.3M106.1,122.6l7.8,10.2M1.3,174.2l3.5,8.8M14.5,185l2.4,11.8M14.7,171l2.4,6.8M23.6,181.8l1.4,7M8,183.4l1.5,5.7M22.2,176.4l2.6,7.4M20,166.4l1.9,7.4M1.9,167l1,5.7M14.7,183.9l1.4,5.1M15.4,201.2l7.2,10.6M1.9,203.1l6.9,9.9M.1,196l3.3,4.6M.4,199.9l7.7,10.5M135.6,76.5l5.1,8M138.8,73.2l4.1,7M151.7,66.1l2.8,3.6M129.9,63.5l2.3,3.8M148.1,65l8.1,9.1M149.3,76.9l7.2,8.6M133.5,55l7.6,11.4M149,76.4l2.7,3.1M137.7,49.6l5.8,9.3M142.8,59.3l6.5,10.7M139.7,57.7l4,5.9M143.4,74l9.6,10.1M154.2,77.2l4,6.5M124.1,76.6l4.4,4.8M124.3,69.5l4.4,6.6M136.9,81.1l3,3.2M146.9,46.4l7.9,9.4M130.2,65.2l8.1,10M17.8,18.5l6.3,-7.3M9.2,31.5l10.7,-11.7M14.8,25l6.5,-7M14.2,47.6l4.5,-4.3M24.6,30.1l3.3,-3.7M8.2,34.8l5.4,-4.9M26.1,39.6l5.3,-6.3M12.2,45.7l2.9,-3.3M15.1,29.6l10.7,-11.3M5.7,29.8l4.8,-4.2M15.3,32l8.2,-10.9M22.7,28.4l6,-7.5M8.4,36.6l5.9,-6.5M13.6,40.7l5.9,-6.8M12.7,8.6l4,-4.3M2.8,37.8l4.2,-3.5M82.7,94.9l6.9,3.8M83.5,95.7l8.6,3.6M88.5,85.3l11.4,6.2M86.2,89.6l6.8,2.9M76.5,111.6l11.3,6.3M84.3,101.5l5.6,3.3M80.8,87.2l13.4,8.1M85.4,81.9l10.9,7.7M82.5,103.6l10.2,5.2M63.7,201.6l2.4,12.4M69.9,191.1l.7,8.1M49.5,194.8l2.5,8.6M69.8,188.4l1.8,7.9M75.4,202.2l.6,10.1M71.2,210.2l.2,4.7M78.7,214l.6,10.4M56.6,184.3l1,12.6M60.4,204.6l.8,8.9M77.6,200.8l1.1,8M53.9,187.6l1.7,6.4M55.9,176.1l.4,7.5M157,20.3l1.4,7.4M167.7,24.3l4.2,15M157.6,39.2l.9,4.6M150.6,28.6l.9,6.3M155.2,18.1l1.2,5.2M165.9,30.2l.8,6.5M152.2,36.2l.5,4.9M151.2,29.3l3.9,15.2M150.1,40l1,4.1M147.5,19.4l.9,4.7M166.4,21.3l3.9,12.5M60.1,60.2l12.8,-8.9M55.4,51.7l12.2,-7.5M72,59.4l6,-4.9M68.5,72.7l4.3,-3.1M53.8,53.6l9.1,-7.9M48,65.4l11.1,-8.8M61,65.7l3.3,-2.6M47.2,64.4l12.6,-8.1M78.9,68l5.4,-4.9M49,55.4l3.5,-3.3M46,62.4l10.7,-8.6M56.9,66.1l5.7,-4.4M41.3,60.3l11.9,-8.4M70.5,79.9l8.6,-6.5M51.4,61.7l5.1,-4.4M84,74.9l10.6,-8.3M58.4,79.6l6.9,-4.6M78.1,54.6l3.9,-2.9"/><path id="xg2" d="M39.6,222.7l3.7,1.5M14.9,57.3l-2.2,0M112.1,106.2l.5,3.2M33.6,192.2l2.2,.6M3.5,61.7l1.3,4.5M66.2,26.3l3.4,3.6M11,143.5l1.4,3.5M59.1,160l0,3.8M157.5,134.6l1.6,.7M165.3,113.1l3.9,2.8M101.1,168.7l-2.3,.9M62.3,203.2l3.8,1.7M17.1,159.7l-2.9,3.9M147.4,116.5l1.6,1.2M92.4,118l4.5,1M88.6,162.3l1.8,1.5M2.1,79.4l2,2.2M65.8,193.1l-2,.7M69.2,38.5l-2.4,4.3M35.3,177.4l.9,1.3M133.5,79.1l2.6,1.5M40.5,94.9l.5,2.9M102.8,66.8l1.7,.5M18.6,120.5l1.8,3.9M88.2,163.9l-1.7,.1M3,32.5l1.2,3.3M129.9,81.3l-1.5,.2M146,48.6l-1.5,.6M168.6,175.7l-3.5,.1M31.1,224.4l.3,1.8M105.8,115.1l.2,2M21.3,134.4l.3,1.9M76.8,167.9l-2,2.5M68.8,83.5l1.7,1.4M78,25l-2.6,3M106.8,5.2l1.2,2.7M16.3,223.9l-2.3,2.3M123.2,46.4l2.5,2.2M130,149.8l3.6,.1M158.8,172l-4.8,1.1M39.1,68.6l-.7,4.9M64.5,217.8l-2.9,1.5M109.2,221.5l-2,1.6M147.7,45.3l1.9,4.5M148,72.2l2.2,2.9M147.2,158.4l-4,.8M143.4,140l1.3,2.7M85.6,122.4l-2.1,1.2M12,169.6l2,2.2M20.4,191.9l1.6,1.9M140.5,116.7l3,3.5M71.9,83.6l-4.2,.5M130.6,57.8l-3,2M145,85.1l-3.3,2.7M67.8,151.5l-3.8,3.2M160.8,181.9l3.3,1.5M119.7,20.1l.5,4.5M158.2,214.1l3.5,1M151.1,151l.9,1.4M160.7,198.8l-1.3,2.5M144.7,188.5l-2.3,2.7M55.8,68.6l1.1,2.4M90.9,26.4l-1.7,2.1M27.9,59l1,2.8M136.7,23.1l1.9,1.6M30.9,173.4l1.6,.6M97.1,170.3l-2.9,1.8M57.1,204.1l-2.1,2.3M98.3,216.6l-4.8,0M23.2,75.6l.6,2M133.1,14.1l-3.3,1.2M107.2,96l-3.5,.7M156.6,213.5l-2.8,4.1M85.5,84.8l-3,1.6M54,157.4l.1,1.9M146.4,115.7l-3.4,.3M163.7,66.9l2.6,2.1M133.9,190.9l-.9,1.7M68.8,8.1l1.9,4.4M60.6,161.7l-.7,1.9M120.3,18.4l3,1.9M22.3,223.2l.9,3.6M168.6,25l-1.6,0M105,151.8l-2.8,.1M165.4,150.5l.2,2.1M41.2,84.5l1.3,2.5M141.2,86.8l-.6,1.5M24.6,164.3l-2.4,.9M5.7,53.8l1.2,2.5M98.1,69.8l-1.9,3.8M136.8,171.6l-.6,2.3M147,67l-2.8,1.3M109.9,115.5l-1.3,2.4M101,170.4l1.5,3.3M79.7,108.8l1.2,3.2M123.9,40.2l3.9,1.9M15.5,183.5l-1.6,1.6M111.1,58.6l-2,.8M20.2,8.5l-1.4,1.7M54.9,226.1l-2.8,3M100.6,148.2l4.3,.2M57.5,197.8l1.2,4.5M.1,226.9l3.1,1M84.1,228.2l-3.1,3.8M158.2,98.4l1.8,.9M123.9,220.1l-1.3,2.4M104.3,152l2.8,2.8M34.8,6.4l3.1,.6M121.6,52.2l1.2,3.7M46,120.9l-.9,2.8M36.4,160.3l-1.3,1.7M141,151.6l-3.9,1.7M86.4,165.6l2.1,3.2M14.4,80l-.1,4.6M119.5,210.3l-4.5,2M107.9,142.7l.2,2.3M139.2,141.2l2,1.1M38.6,167.2l-.7,2.1M120.1,130.4l2,2.3M173.4,32.6l2.6,2.4M146.7,213.3l1.3,4M20.7,89.4l-3.4,1.7M78,138.5l.1,3.4M154.4,225.8l3.3,2.4M165,140.5l0,2.8M84.6,134.4l-.7,1.8M174.5,63.9l-.3,2.2M110.3,17.3l1.4,2.5M54.7,112.7l2.8,1.5M139,145.5l-4.8,.5M83.4,108.3l-3.4,3.1M94.5,154.4l-1.9,2.7M88.8,92.8l.5,3.1M140.2,37l4.4,1.7M89.2,161.3l-3.9,1.1M99,220.3l-1.2,2.8M31.9,36.9l-3.7,2.8M62.4,122.4l-1.9,3.1M48.1,210.9l-.6,3.9M120.3,101.4l-1.3,1.7M95.7,150.8l-1,2.3M31.7,23.4l2,.8M84.8,131.6l-1.8,2.4M134.1,6.9l.9,1.7M90.2,132.5l-.8,2.9M64.3,76l2.1,.7M85,131.4l4.2,1.4M4.8,29.2l.4,2.6M90.9,159.7l-1.2,4.1M82.1,156.5l.5,1.9M13,42.1l.4,2.4M97.9,154.4l-2,.5M167.3,.3l-4.7,1.7M63.8,184.8l-.1,3.5M149.8,217.9l1.3,1.8M160.1,137l-2.2,.7M148.3,36.9l2.2,1.1M162,89.6l.5,2.5M13.1,102.2l0,2.7M127.7,71.7l-4.7,.3M101.1,23.5l-.7,3.6M113.6,98.4l-3.2,3.8M122.7,9.5l-1.4,3.4M95.3,217.1l1.5,.3M126.2,23.2l4,1.8M63.2,204.4l-3.1,2.2M62.7,19.1l-4.5,.3M160.3,117.8l2.3,2.9M73.2,44.4l2.7,1M25.9,62l-4.8,.3M154.7,118.5l-1.5,1.4M108.4,225.5l-3.9,3M109.7,70.3l2.4,.2M144.8,122.1l-1.6,4M51.6,32.6l-3.4,1.2M4.7,161.2l-2.7,3.2M22.9,63.2l-2.5,2.9M60.5,224.2l2.7,3.8M23.7,105.8l-3.9,.1M132.3,204.5l-1.3,3.1M144.1,123l-4.1,.5M.2,66.5l-1.8,.7M2.6,134.6l-2.8,4M168.2,145l-2,2.7M148.4,160.2l3.4,1.5M8.8,77.6l2.4,4.1M38.5,87.1l-.4,2.2M79.2,68.7l-2.7,3.3M101.7,200.8l.1,4.1M16.5,89.6l2.4,3.9M87,87.1l-2.4,4.2M145,185.9l-2.1,3.7M98.2,89.9l1.3,2M58.9,115.9l-2.1,1M68.4,60.5l.1,1.7M108.8,198.6l-2.6,.8M29.5,169.1l-1.6,1.5M10.6,155l1.2,3.1M98.6,204.5l2.2,.9M6,159.4l4.3,1.1M106.5,118.5l3,3.4M20,134.3l-3.3,1.9M8.6,25.8l2.5,3.2M23.9,221.2l-3.3,1.2M153.2,147l2.6,1.4M4.2,101.4l-2.9,.1M116,83.3l-1.4,2.3M159.6,94.9l2,2.2M13.1,76.3l-2,2.1M78.1,54.3l-3.9,2.4M71.4,.4l1,4.4M113.8,52.8l4.4,1.5M13.8,142.4l-.6,2M77.2,199.6l-1.8,0M5.4,60.1l4.7,.7M14,85l-2.8,1.4M40.8,14.5l2,1.7M148,100.4l-.4,2.4M71.3,214.7l3.7,1.4M54.8,96.7l-1.7,2.1M85.4,112.9l.1,1.8M68.6,87.9l.6,2.4M78.4,171.4l1.7,.4M93.5,133.7l-1.3,1M1.7,140.6l2.5,2M51.4,20.2l-.5,2.6M85.1,201.1l.7,4.4M51.1,42l.8,2.4M127,28l-1.5,1.7M71.3,50l1.8,.9M172.3,23l-3,.7M154.1,41.5l-1,3.8M53.5,142l-2.8,.9M5.1,141.2l-2.4,2M146.6,82.2l.5,3M16.5,16.5l-1.9,4.2M32.1,209.4l1.5,2.5M7.3,1.7l-1.1,4.5M111.1,30l-1,1.7M82.1,173.5l.9,2.5M56,67.3l4,.2M68.4,43.3l.9,1.4M82.1,135l-1.1,2.8M172.8,34.8l2.8,2M72,70.1l-2.1,2.5M98.9,160.1l.8,3.2M172.6,37.4l.4,3.6M133.4,20.6l2.3,.9M116.6,48.5l2.9,.3M27,159l-4.1,.7M99.3,94.2l3,.3M91,69.5l1.4,4.6M65.1,60.7l.9,4.7M7.3,108l-3.3,.1M55.5,76.9l-1.1,1.6M166.1,160.3l-2,.6M3.1,74.2l.3,3.3M108.7,8.1l-2,.4M32.5,29.2l.8,1.9M124.8,81.6l2.6,1.1M143.6,126.9l3.5,.8M86,120.1l-1.4,1.4M122,178.6l-2.8,.7M38.9,164.2l-4.9,0M103.8,74.2l-2,.5M112.5,198.2l-.8,4M74.9,162.9l3,2.4M24.2,40.2l2.4,1M1.1,162.5l-4.3,1.2M7.3,114.2l3.2,1.4M2.2,220.5l.3,2.1M72.4,72.1l.1,2.9M169.1,72.7l3.4,.7M83.2,82.5l-4.4,.5M71.6,32l-4,1.6M161.7,92.7l2.5,2.2M92.1,169.8l4.4,2.1M93.9,67l-.5,1.6M144.7,124.7l1.3,1M93.1,184.7l3.5,3.3M106.4,118.7l-2.7,.3M122.6,87.2l1.5,3M166.1,22.3l.5,1.6M72.2,15.2l-3.2,2.2M167.9,169.8l1.7,3.3M28,100.4l4.6,1.6M116.4,58.9l-.3,2.8M155.2,156.3l-2.2,2.9M26.4,131.9l-2.5,1.3M.8,71.6l3.5,.2M83.4,25.4l-2.2,1M77.4,34.3l-.3,3.5M123.4,3.1l1.8,1M53.6,187l-3.6,1.8M97.8,5.8l2,2.6M128.5,88.2l.4,2.6M91.9,100.2l1.9,4.3M106.2,153.4l-3.7,1.8M45.2,173.7l-1.2,3.1M122.6,192.8l1.5,2M93.3,22.4l-1.7,1.4M54.1,181.1l-2.3,.8M21.5,155.5l-1,2.7M30.6,224.6l4.3,1.4M41.1,57.5l.5,1.9M132.7,44l1.8,2M140.7,8.6l-1.7,1.8M114.1,224l1.3,.9M52.2,164.2l2,1.7M171.5,199.7l-2.2,.3M121.1,71.8l-2.6,3.5M115.3,116l-1.8,3.5M28.5,164.7l4.1,1.7M59.9,20.8l3.6,.2M12.3,93.9l3.9,.5M150.8,5.7l-1.3,3.5M97.3,223.9l2.6,3.8M94.2,51.8l1.2,1.4M133.4,51.4l-1.1,4M44.8,150.8l-1.6,2.5M136.8,99l1.6,.8M25.5,167.9l0,2M165.2,2.7l-.9,3M155.3,138.7l-2,1.1M92.8,180.7l1.6,3.7M72.6,79.4l2.5,2.9M172.4,9.2l1.4,1.1M29.9,116.9l-.8,3.9M22.2,196.5l3.5,2.5M69.1,119.3l-4.1,2.3M94.3,14l2.2,3.3M142.9,205.8l-.3,1.8M48.8,98.4l2.5,1.1M54.2,167.9l.4,3.5M51.7,167.3l-.3,1.8M161.4,25l1.3,1.3M139.4,198.8l.5,4.1M139.7,198.6l-3.7,.6M104.9,7.9l3.8,3.2M92.4,217.5l3.3,2.8M138.8,169.5l2.8,4.1M58.3,230.3l-1.8,.3M13,94.4l2,2.1M31.5,173.9l3.4,1.1M57.2,77.7l-.5,1.5M131.1,107.9l-3,3.2M160.4,2.5l1.8,2M95.1,68.7l.7,3.2M134.1,19.6l.9,2.1M74.4,82.6l3.5,3.3M.3,8.2l-1.5,1.7M160.5,147.3l-4.2,2.5M131.1,223.3l1.9,1.2M4.2,.2l-3.2,2.3M52.3,33.5l3.1,1M172.8,.3l-.8,3.9M43.8,36.3l-4.1,1.1M58.3,221.2l.7,4.4M122.7,106.9l.7,1.7M64.9,168.5l1.3,2.2M57.4,18.6l-3.5,1.5M108.3,195.2l-.9,2.8M149.3,52.6l-3.4,3.5M21.8,54.9l1.6,3.7M90.9,92.7l-2.8,.9M39,7.3l-5,.4M169.8,136.9l-.6,4.8M95.2,81.1l-1.1,2.1M89,43.9l2.1,1.9M121.5,189.2l3.2,.7M147.4,22.4l2.8,2.5M52.1,208.8l3.8,.4M102,62.2l-1.6,1.9M13.6,117.2l3.5,.7M36.3,113.8l-3.9,.4M97.9,182.9l.9,3.4M164,226l3.7,.1M131.7,196.3l-.1,1.9M73.4,61.8l0,1.9M20.5,219l.4,4.2M106.8,91.8l-1.5,4.4M25.9,158l-4.9,.6M99.1,12l-1.8,2.6M170.3,55.9l1.7,.7M98.5,148.8l.2,4.5M173,32.5l-.3,3M15,45.1l-.5,3M49.7,14.8l-2.8,3.7M27.1,201l1.5,4.5M165.7,222.7l4.1,.3M7.3,9.8l-.6,2.4M167.9,119.3l2.1,2.5M85,3.7l-3.3,1.3M125.2,193.9l-1.2,1M120.3,145.7l-1.7,3.1M153,19l1.6,4M67.7,215l-3.4,.8M126.1,14.5l2.1,2.6M.3,150.2l-.1,2M116.3,103.9l2.2,.5M32.9,121.4l-.1,2.9M154.7,8.7l-2.6,1.6M30.9,61.9l3.6,3.4M101.4,67.2l2.9,3.7M46.2,196.4l.8,1.3M.8,210.4l-4.4,.9M94.4,3.5l-.3,2.4M79.6,201.4l3.3,2.2M21.7,10.2l2.6,1M19.7,172.1l.7,3.1M38.1,134.1l1.9,.2M28.2,70.5l-2.2,1.2M36.2,110.5l2.8,0M107.2,133.9l-2.8,1.2M94.4,31l-.6,4.6M105.4,13.8l1.1,4M5,211.5l-2.8,2.4M132.9,113.9l-1.5,2.8M122.7,43.8l1.4,2.1M98.7,202.7l.2,3.3M156.7,34.2l2.5,2.8M140.1,122.8l3,3.1M89.1,6.1l4,1.8M52.5,27.3l2.6,3.3M21,89.7l-2.5,1.5M76.6,26.6l2.1,1.2M46,58.6l2.3,.9M106.2,218.5l1.4,3M32.5,91.2l2.1,1.8M27.4,211.7l-1.7,1.1M5.8,102.7l2.1,4.2M35.4,205.2l-3.1,1.1M152.9,188.2l4.1,2.1M166.1,101.3l-1.4,1M159.1,228.9l-4.7,.1M125.2,148l.7,3M72,40.8l2.7,.3M168.3,20.7l1.6,3.1M137,208.9l-1,3.1M156.9,65.1l-.6,3M72.3,82.4l.1,4.6M159.8,17.6l.5,2.2M166,130l-.8,2.9M30.1,100.4l2.3,3.8M130.8,75.1l1,2.2M164.7,153.4l-.7,2M169.5,203.9l2.1,1.1M153.1,13.5l.1,2.8M128.4,111.5l.5,2.3M66.3,1.4l3.6,1"/><g id="allA"><use href="#a0"/><use href="#a1"/><use href="#a2"/><use href="#a3"/><use href="#a4"/><use href="#a5"/><use href="#a6"/><use href="#a7"/><use href="#a8"/><use href="#a9"/><use href="#a10"/><use href="#a11"/><use href="#a12"/><use href="#a13"/><use href="#a14"/><use href="#a15"/><use href="#a16"/><use href="#a17"/><use href="#a18"/><use href="#a19"/><use href="#a20"/><use href="#a21"/><use href="#a22"/><use href="#a23"/><use href="#a24"/><use href="#a25"/><use href="#a26"/><use href="#a27"/><use href="#a28"/><use href="#a29"/><use href="#a30"/><use href="#a31"/><use href="#a32"/><use href="#a33"/><use href="#a34"/><use href="#a35"/><use href="#a36"/><use href="#a37"/><use href="#a38"/><use href="#a39"/><use href="#a40"/><use href="#a41"/><use href="#a42"/><use href="#a43"/><use href="#a44"/><use href="#a45"/><use href="#a46"/><use href="#a47"/><use href="#a48"/><use href="#a49"/><use href="#a50"/><use href="#a51"/><use href="#a52"/><use href="#a53"/><use href="#a54"/><use href="#a55"/><use href="#a56"/><use href="#a57"/><use href="#a58"/><use href="#a59"/><use href="#a60"/><use href="#a61"/><use href="#a62"/><use href="#a63"/><use href="#a64"/><use href="#a65"/><use href="#a66"/><use href="#a67"/><use href="#a68"/><use href="#a69"/><use href="#a70"/><use href="#a71"/><use href="#a72"/><use href="#a73"/><use href="#a74"/><use href="#a75"/><use href="#a76"/><use href="#a77"/><use href="#a78"/><use href="#a79"/><use href="#a80"/><use href="#a81"/><use href="#a82"/><use href="#a83"/><use href="#a84"/><use href="#a85"/><use href="#a86"/><use href="#a87"/><use href="#a88"/><use href="#a89"/><use href="#a90"/><use href="#a91"/><use href="#a92"/><use href="#a93"/><use href="#a94"/><use href="#a95"/><use href="#a96"/><use href="#a97"/><use href="#a98"/><use href="#a99"/><use href="#a100"/><use href="#a101"/><use href="#a102"/><use href="#a103"/><use href="#a104"/><use href="#a105"/><use href="#a106"/><use href="#a107"/><use href="#a108"/><use href="#a109"/><use href="#a110"/><use href="#a111"/><use href="#a112"/><use href="#a113"/><use href="#a114"/><use href="#a115"/><use href="#a116"/><use href="#a117"/><use href="#a118"/><use href="#a119"/><use href="#a120"/><use href="#a121"/><use href="#a122"/><use href="#a123"/><use href="#a124"/><use href="#a125"/><use href="#a126"/><use href="#a127"/><use href="#a128"/><use href="#a129"/><use href="#a130"/><use href="#a131"/><use href="#a132"/><use href="#a133"/><use href="#a134"/><use href="#a135"/><use href="#a136"/><use href="#a137"/><use href="#a138"/><use href="#a139"/><use href="#a140"/><use href="#a141"/><use href="#a142"/><use href="#a143"/><use href="#a144"/><use href="#a145"/><use href="#a146"/><use href="#a147"/><use href="#a148"/><use href="#a149"/><use href="#a150"/><use href="#a151"/><use href="#a152"/><use href="#a153"/><use href="#a154"/><use href="#a155"/><use href="#a156"/><use href="#a157"/><use href="#a158"/><use href="#a159"/><use href="#a160"/><use href="#a161"/><use href="#a162"/><use href="#a163"/><use href="#a164"/><use href="#a165"/><use href="#a166"/><use href="#a167"/><use href="#a168"/><use href="#a169"/><use href="#a170"/><use href="#a171"/><use href="#a172"/><use href="#a173"/><use href="#a174"/><use href="#a175"/><use href="#a176"/><use href="#a177"/><use href="#a178"/><use href="#a179"/><use href="#a180"/><use href="#a181"/><use href="#a182"/><use href="#a183"/><use href="#a184"/><use href="#a185"/><use href="#a186"/><use href="#a187"/><use href="#a188"/><use href="#a189"/><use href="#a190"/><use href="#a191"/><use href="#a192"/><use href="#a193"/><use href="#a194"/><use href="#a195"/><use href="#a196"/><use href="#a197"/><use href="#a198"/><use href="#a199"/><use href="#a200"/><use href="#a201"/><use href="#a202"/><use href="#a203"/><use href="#a204"/><use href="#a205"/><use href="#a206"/><use href="#a207"/><use href="#a208"/><use href="#a209"/><use href="#a210"/><use href="#a211"/><use href="#a212"/><use href="#a213"/><use href="#a214"/><use href="#a215"/><use href="#a216"/><use href="#a217"/><use href="#a218"/><use href="#a219"/><use href="#a220"/><use href="#a221"/><use href="#a222"/><use href="#a223"/><use href="#a224"/><use href="#a225"/><use href="#a226"/><use href="#a227"/><use href="#a228"/><use href="#a229"/><use href="#a230"/><use href="#a231"/><use href="#a232"/><use href="#a233"/><use href="#a234"/><use href="#a235"/><use href="#a236"/><use href="#a237"/><use href="#a238"/><use href="#a239"/><use href="#a240"/><use href="#a241"/><use href="#a242"/><use href="#a243"/><use href="#a244"/><use href="#a245"/><use href="#a246"/><use href="#a247"/><use href="#a248"/><use href="#a249"/><use href="#a250"/><use href="#a251"/><use href="#a252"/><use href="#a253"/><use href="#a254"/><use href="#a255"/><use href="#a256"/><use href="#a257"/><use href="#a258"/><use href="#a259"/><use href="#a260"/><use href="#a261"/><use href="#a262"/><use href="#a263"/><use href="#a264"/><use href="#a265"/><use href="#a266"/><use href="#a267"/><use href="#a268"/><use href="#a269"/><use href="#a270"/><use href="#a271"/><use href="#a272"/><use href="#a273"/><use href="#a274"/><use href="#a275"/><use href="#a276"/><use href="#a277"/><use href="#a278"/><use href="#a279"/><use href="#a280"/><use href="#a281"/><use href="#a282"/><use href="#a283"/><use href="#a284"/><use href="#a285"/><use href="#a286"/><use href="#a287"/><use href="#a288"/><use href="#a289"/><use href="#a290"/><use href="#a291"/><use href="#a292"/><use href="#a293"/><use href="#a294"/><use href="#a295"/><use href="#a296"/><use href="#a297"/><use href="#a298"/><use href="#a299"/><use href="#a300"/><use href="#a301"/><use href="#a302"/><use href="#a303"/><use href="#a304"/><use href="#a305"/><use href="#a306"/><use href="#a307"/><use href="#a308"/><use href="#a309"/><use href="#a310"/><use href="#a311"/><use href="#a312"/><use href="#a313"/><use href="#a314"/><use href="#a315"/><use href="#a316"/><use href="#a317"/><use href="#a318"/><use href="#a319"/><use href="#a320"/><use href="#a321"/><use href="#a322"/><use href="#a323"/><use href="#a324"/><use href="#a325"/><use href="#a326"/><use href="#a327"/><use href="#a328"/><use href="#a329"/><use href="#a330"/><use href="#a331"/><use href="#a332"/><use href="#a333"/><use href="#a334"/><use href="#a335"/><use href="#a336"/><use href="#a337"/><use href="#a338"/><use href="#a339"/><use href="#a340"/><use href="#a341"/><use href="#a342"/><use href="#a343"/><use href="#a344"/><use href="#a345"/><use href="#a346"/><use href="#a347"/><use href="#a348"/><use href="#a349"/><use href="#a350"/><use href="#a351"/><use href="#a352"/><use href="#a353"/><use href="#a354"/><use href="#a355"/><use href="#a356"/><use href="#a357"/><use href="#a358"/><use href="#a359"/><use href="#a360"/><use href="#a361"/><use href="#a362"/><use href="#a363"/><use href="#a364"/><use href="#a365"/><use href="#a366"/><use href="#a367"/><use href="#a368"/><use href="#a369"/><use href="#a370"/><use href="#a371"/><use href="#a372"/><use href="#a373"/><use href="#a374"/><use href="#a375"/><use href="#a376"/><use href="#a377"/><use href="#a378"/><use href="#a379"/><use href="#a380"/><use href="#a381"/><use href="#a382"/><use href="#a383"/><use href="#a384"/><use href="#a385"/><use href="#a386"/><use href="#a387"/><use href="#a388"/><use href="#a389"/><use href="#a390"/><use href="#a391"/><use href="#a392"/><use href="#a393"/><use href="#a394"/><use href="#a395"/><use href="#a396"/><use href="#a397"/><use href="#a398"/><use href="#a399"/><use href="#a400"/><use href="#a401"/><use href="#a402"/><use href="#a403"/><use href="#a404"/><use href="#a405"/><use href="#a406"/><use href="#a407"/><use href="#a408"/><use href="#a409"/><use href="#a410"/><use href="#a411"/><use href="#a412"/><use href="#a413"/><use href="#a414"/><use href="#a415"/><use href="#a416"/><use href="#a417"/><use href="#a418"/><use href="#a419"/><use href="#a420"/><use href="#a421"/><use href="#a422"/><use href="#a423"/><use href="#a424"/><use href="#a425"/><use href="#a426"/><use href="#a427"/><use href="#a428"/><use href="#a429"/><use href="#a430"/><use href="#a431"/><use href="#a432"/><use href="#a433"/><use href="#a434"/><use href="#a435"/><use href="#a436"/><use href="#a437"/><use href="#a438"/><use href="#a439"/><use href="#a440"/><use href="#a441"/><use href="#a442"/><use href="#a443"/><use href="#a444"/><use href="#a445"/><use href="#a446"/><use href="#a447"/><use href="#a448"/><use href="#a449"/><use href="#a450"/><use href="#a451"/><use href="#a452"/><use href="#a453"/></g><g id="cA"><use href="#a3"/><use href="#a4"/><use href="#a5"/><use href="#a6"/><use href="#a7"/><use href="#a8"/><use href="#a9"/><use href="#a10"/><use href="#a11"/><use href="#a12"/><use href="#a15"/><use href="#a16"/><use href="#a17"/><use href="#a19"/><use href="#a20"/><use href="#a21"/><use href="#a22"/><use href="#a23"/><use href="#a25"/><use href="#a28"/><use href="#a29"/><use href="#a30"/><use href="#a31"/><use href="#a33"/><use href="#a34"/><use href="#a35"/><use href="#a37"/><use href="#a38"/><use href="#a39"/><use href="#a41"/><use href="#a43"/><use href="#a44"/><use href="#a46"/><use href="#a47"/><use href="#a48"/><use href="#a50"/><use href="#a51"/><use href="#a52"/><use href="#a54"/><use href="#a55"/><use href="#a56"/><use href="#a58"/><use href="#a60"/><use href="#a62"/><use href="#a63"/><use href="#a64"/><use href="#a65"/><use href="#a66"/><use href="#a68"/><use href="#a69"/><use href="#a72"/><use href="#a73"/><use href="#a74"/><use href="#a75"/><use href="#a76"/><use href="#a77"/><use href="#a79"/><use href="#a80"/><use href="#a81"/><use href="#a83"/><use href="#a84"/><use href="#a85"/><use href="#a86"/><use href="#a87"/><use href="#a88"/><use href="#a89"/><use href="#a91"/><use href="#a92"/><use href="#a93"/><use href="#a94"/><use href="#a95"/><use href="#a98"/><use href="#a99"/><use href="#a101"/><use href="#a102"/><use href="#a103"/><use href="#a105"/><use href="#a107"/><use href="#a108"/><use href="#a109"/><use href="#a110"/><use href="#a111"/><use href="#a112"/><use href="#a113"/><use href="#a114"/><use href="#a115"/><use href="#a117"/><use href="#a118"/><use href="#a121"/><use href="#a123"/><use href="#a125"/><use href="#a128"/><use href="#a132"/><use href="#a133"/><use href="#a134"/><use href="#a135"/><use href="#a136"/><use href="#a137"/><use href="#a138"/><use href="#a140"/><use href="#a141"/><use href="#a144"/><use href="#a145"/><use href="#a146"/><use href="#a148"/><use href="#a149"/><use href="#a151"/><use href="#a152"/><use href="#a153"/><use href="#a154"/><use href="#a156"/><use href="#a157"/><use href="#a158"/><use href="#a160"/><use href="#a162"/><use href="#a164"/><use href="#a165"/><use href="#a167"/><use href="#a168"/><use href="#a170"/><use href="#a171"/><use href="#a172"/><use href="#a174"/><use href="#a176"/><use href="#a177"/><use href="#a178"/><use href="#a179"/><use href="#a181"/><use href="#a182"/><use href="#a183"/><use href="#a184"/><use href="#a186"/><use href="#a187"/><use href="#a189"/><use href="#a193"/><use href="#a194"/><use href="#a195"/><use href="#a196"/><use href="#a197"/><use href="#a199"/><use href="#a200"/><use href="#a202"/><use href="#a203"/><use href="#a204"/><use href="#a207"/><use href="#a209"/><use href="#a211"/><use href="#a212"/><use href="#a213"/><use href="#a214"/><use href="#a215"/><use href="#a216"/><use href="#a218"/><use href="#a221"/><use href="#a222"/><use href="#a224"/><use href="#a225"/><use href="#a226"/><use href="#a227"/><use href="#a228"/><use href="#a229"/><use href="#a230"/><use href="#a232"/><use href="#a234"/><use href="#a235"/><use href="#a236"/><use href="#a237"/><use href="#a240"/><use href="#a241"/><use href="#a243"/><use href="#a244"/><use href="#a248"/><use href="#a249"/><use href="#a250"/><use href="#a251"/><use href="#a252"/><use href="#a253"/><use href="#a258"/><use href="#a260"/><use href="#a261"/><use href="#a262"/><use href="#a263"/><use href="#a264"/><use href="#a265"/><use href="#a266"/><use href="#a267"/><use href="#a268"/><use href="#a269"/><use href="#a272"/><use href="#a274"/><use href="#a275"/><use href="#a276"/><use href="#a277"/><use href="#a279"/><use href="#a280"/><use href="#a282"/><use href="#a283"/><use href="#a284"/><use href="#a285"/><use href="#a286"/><use href="#a287"/><use href="#a289"/><use href="#a290"/><use href="#a291"/><use href="#a293"/><use href="#a294"/><use href="#a296"/><use href="#a298"/><use href="#a299"/><use href="#a301"/><use href="#a302"/><use href="#a306"/><use href="#a307"/><use href="#a308"/><use href="#a311"/><use href="#a312"/><use href="#a313"/><use href="#a314"/><use href="#a315"/><use href="#a316"/><use href="#a317"/><use href="#a318"/><use href="#a321"/><use href="#a322"/><use href="#a323"/><use href="#a324"/><use href="#a325"/><use href="#a326"/><use href="#a327"/><use href="#a328"/><use href="#a329"/><use href="#a332"/><use href="#a334"/><use href="#a335"/><use href="#a336"/><use href="#a339"/><use href="#a341"/><use href="#a344"/><use href="#a345"/><use href="#a346"/><use href="#a347"/><use href="#a348"/><use href="#a350"/><use href="#a352"/><use href="#a355"/><use href="#a357"/><use href="#a360"/><use href="#a361"/><use href="#a362"/><use href="#a363"/><use href="#a364"/><use href="#a365"/><use href="#a367"/><use href="#a368"/><use href="#a369"/><use href="#a371"/><use href="#a373"/><use href="#a374"/><use href="#a375"/><use href="#a376"/><use href="#a377"/><use href="#a378"/><use href="#a379"/><use href="#a380"/><use href="#a381"/><use href="#a382"/><use href="#a384"/><use href="#a386"/><use href="#a387"/><use href="#a388"/><use href="#a390"/><use href="#a391"/><use href="#a392"/><use href="#a393"/><use href="#a394"/><use href="#a397"/><use href="#a399"/><use href="#a400"/><use href="#a401"/><use href="#a402"/><use href="#a403"/><use href="#a404"/><use href="#a406"/><use href="#a408"/><use href="#a410"/><use href="#a416"/><use href="#a417"/><use href="#a418"/><use href="#a419"/><use href="#a420"/><use href="#a421"/><use href="#a423"/><use href="#a424"/><use href="#a426"/><use href="#a427"/><use href="#a429"/><use href="#a430"/><use href="#a432"/><use href="#a433"/><use href="#a434"/><use href="#a435"/><use href="#a436"/><use href="#a437"/><use href="#a440"/><use href="#a441"/><use href="#a442"/><use href="#a444"/><use href="#a445"/><use href="#a446"/><use href="#a447"/><use href="#a448"/><use href="#a450"/><use href="#a452"/><use href="#a453"/></g><g id="kA"><use href="#a3"/><use href="#a4"/><use href="#a7"/><use href="#a8"/><use href="#a10"/><use href="#a16"/><use href="#a22"/><use href="#a23"/><use href="#a28"/><use href="#a30"/><use href="#a31"/><use href="#a33"/><use href="#a35"/><use href="#a41"/><use href="#a44"/><use href="#a46"/><use href="#a48"/><use href="#a52"/><use href="#a56"/><use href="#a63"/><use href="#a64"/><use href="#a66"/><use href="#a68"/><use href="#a69"/><use href="#a72"/><use href="#a73"/><use href="#a74"/><use href="#a75"/><use href="#a76"/><use href="#a79"/><use href="#a84"/><use href="#a86"/><use href="#a89"/><use href="#a93"/><use href="#a95"/><use href="#a98"/><use href="#a99"/><use href="#a101"/><use href="#a103"/><use href="#a105"/><use href="#a107"/><use href="#a109"/><use href="#a112"/><use href="#a114"/><use href="#a115"/><use href="#a123"/><use href="#a132"/><use href="#a137"/><use href="#a141"/><use href="#a146"/><use href="#a148"/><use href="#a149"/><use href="#a151"/><use href="#a156"/><use href="#a158"/><use href="#a162"/><use href="#a171"/><use href="#a174"/><use href="#a176"/><use href="#a178"/><use href="#a179"/><use href="#a183"/><use href="#a184"/><use href="#a197"/><use href="#a204"/><use href="#a211"/><use href="#a212"/><use href="#a215"/><use href="#a216"/><use href="#a218"/><use href="#a222"/><use href="#a224"/><use href="#a225"/><use href="#a226"/><use href="#a229"/><use href="#a232"/><use href="#a235"/><use href="#a244"/><use href="#a248"/><use href="#a249"/><use href="#a252"/><use href="#a260"/><use href="#a261"/><use href="#a264"/><use href="#a265"/><use href="#a272"/><use href="#a277"/><use href="#a279"/><use href="#a280"/><use href="#a284"/><use href="#a287"/><use href="#a290"/><use href="#a293"/><use href="#a294"/><use href="#a296"/><use href="#a298"/><use href="#a301"/><use href="#a306"/><use href="#a307"/><use href="#a311"/><use href="#a312"/><use href="#a313"/><use href="#a314"/><use href="#a321"/><use href="#a322"/><use href="#a324"/><use href="#a325"/><use href="#a326"/><use href="#a329"/><use href="#a334"/><use href="#a341"/><use href="#a344"/><use href="#a345"/><use href="#a347"/><use href="#a352"/><use href="#a355"/><use href="#a361"/><use href="#a365"/><use href="#a369"/><use href="#a371"/><use href="#a374"/><use href="#a376"/><use href="#a377"/><use href="#a378"/><use href="#a381"/><use href="#a388"/><use href="#a390"/><use href="#a393"/><use href="#a394"/><use href="#a399"/><use href="#a401"/><use href="#a404"/><use href="#a406"/><use href="#a410"/><use href="#a419"/><use href="#a420"/><use href="#a423"/><use href="#a426"/><use href="#a430"/><use href="#a432"/><use href="#a433"/><use href="#a435"/><use href="#a437"/><use href="#a442"/><use href="#a444"/><use href="#a445"/><use href="#a446"/><use href="#a447"/><use href="#a450"/><use href="#a452"/></g><g id="gG"><use href="#g0"/><use href="#g3"/><use href="#g5"/><use href="#g8"/><use href="#g9"/><use href="#g10"/><use href="#g18"/><use href="#g21"/><use href="#g24"/><use href="#g26"/><use href="#g30"/><use href="#g35"/><use href="#g36"/><use href="#g40"/><use href="#g43"/><use href="#g46"/><use href="#g48"/><use href="#g50"/><use href="#g56"/><use href="#g57"/><use href="#g67"/><use href="#g72"/><use href="#g75"/><use href="#g79"/><use href="#g82"/><use href="#g83"/><use href="#g85"/><use href="#g88"/><use href="#g89"/><use href="#g90"/><use href="#g93"/><use href="#g94"/><use href="#g96"/><use href="#g98"/><use href="#g102"/><use href="#g105"/><use href="#g106"/><use href="#g108"/><use href="#g110"/><use href="#g111"/><use href="#g112"/><use href="#g118"/><use href="#g120"/><use href="#g122"/><use href="#g125"/><use href="#g129"/><use href="#g131"/><use href="#g137"/><use href="#g140"/><use href="#g145"/><use href="#g146"/><use href="#g147"/><use href="#g149"/><use href="#g150"/><use href="#g152"/><use href="#g157"/><use href="#g159"/><use href="#g160"/><use href="#g163"/><use href="#g167"/><use href="#g168"/><use href="#g179"/><use href="#g186"/><use href="#g189"/><use href="#g192"/><use href="#g195"/><use href="#g196"/><use href="#g202"/><use href="#g203"/><use href="#g204"/><use href="#g205"/><use href="#g206"/><use href="#g209"/><use href="#g213"/><use href="#g215"/><use href="#g216"/><use href="#g217"/><use href="#g218"/><use href="#g225"/><use href="#g226"/><use href="#g227"/><use href="#g228"/><use href="#g230"/><use href="#g232"/><use href="#g235"/><use href="#g236"/><use href="#g237"/><use href="#g238"/><use href="#g239"/><use href="#g243"/><use href="#g245"/><use href="#g249"/><use href="#g252"/><use href="#g254"/></g><g id="oG"><use href="#g2"/><use href="#g6"/><use href="#g14"/><use href="#g16"/><use href="#g17"/><use href="#g19"/><use href="#g22"/><use href="#g25"/><use href="#g27"/><use href="#g29"/><use href="#g33"/><use href="#g34"/><use href="#g37"/><use href="#g39"/><use href="#g47"/><use href="#g55"/><use href="#g59"/><use href="#g61"/><use href="#g62"/><use href="#g63"/><use href="#g64"/><use href="#g65"/><use href="#g66"/><use href="#g68"/><use href="#g69"/><use href="#g70"/><use href="#g73"/><use href="#g76"/><use href="#g84"/><use href="#g95"/><use href="#g99"/><use href="#g101"/><use href="#g103"/><use href="#g107"/><use href="#g113"/><use href="#g116"/><use href="#g123"/><use href="#g124"/><use href="#g126"/><use href="#g130"/><use href="#g132"/><use href="#g133"/><use href="#g139"/><use href="#g142"/><use href="#g143"/><use href="#g148"/><use href="#g153"/><use href="#g155"/><use href="#g156"/><use href="#g164"/><use href="#g165"/><use href="#g170"/><use href="#g172"/><use href="#g175"/><use href="#g183"/><use href="#g184"/><use href="#g185"/><use href="#g191"/><use href="#g193"/><use href="#g199"/><use href="#g200"/><use href="#g207"/><use href="#g214"/><use href="#g220"/><use href="#g222"/><use href="#g224"/><use href="#g229"/><use href="#g231"/><use href="#g233"/><use href="#g234"/><use href="#g241"/><use href="#g242"/><use href="#g246"/><use href="#g247"/><use href="#g251"/><use href="#g255"/></g><g id="nG"><use href="#g1"/><use href="#g4"/><use href="#g7"/><use href="#g11"/><use href="#g12"/><use href="#g13"/><use href="#g15"/><use href="#g20"/><use href="#g23"/><use href="#g28"/><use href="#g31"/><use href="#g32"/><use href="#g38"/><use href="#g41"/><use href="#g42"/><use href="#g44"/><use href="#g45"/><use href="#g49"/><use href="#g51"/><use href="#g52"/><use href="#g53"/><use href="#g54"/><use href="#g58"/><use href="#g60"/><use href="#g71"/><use href="#g74"/><use href="#g77"/><use href="#g78"/><use href="#g80"/><use href="#g81"/><use href="#g86"/><use href="#g87"/><use href="#g91"/><use href="#g92"/><use href="#g97"/><use href="#g100"/><use href="#g104"/><use href="#g109"/><use href="#g114"/><use href="#g115"/><use href="#g117"/><use href="#g119"/><use href="#g121"/><use href="#g127"/><use href="#g128"/><use href="#g134"/><use href="#g135"/><use href="#g136"/><use href="#g138"/><use href="#g141"/><use href="#g144"/><use href="#g151"/><use href="#g154"/><use href="#g158"/><use href="#g161"/><use href="#g162"/><use href="#g166"/><use href="#g169"/><use href="#g171"/><use href="#g173"/><use href="#g174"/><use href="#g176"/><use href="#g177"/><use href="#g178"/><use href="#g180"/><use href="#g181"/><use href="#g182"/><use href="#g187"/><use href="#g188"/><use href="#g190"/><use href="#g194"/><use href="#g197"/><use href="#g198"/><use href="#g201"/><use href="#g208"/><use href="#g210"/><use href="#g211"/><use href="#g212"/><use href="#g219"/><use href="#g221"/><use href="#g223"/><use href="#g240"/><use href="#g244"/><use href="#g248"/><use href="#g250"/><use href="#g253"/><use href="#g256"/></g><clipPath id="cla"><rect width="173.7" height="232.4"/></clipPath><clipPath id="clg"><rect width="174.7" height="231.4"/></clipPath><filter id="kamA" x="0" y="0" width="100%" height="100%" color-interpolation-filters="sRGB"><feTurbulence type="fractalNoise" baseFrequency="0.24 0.21" numOctaves="3" seed="4"/><feColorMatrix type="matrix" values="1 0 0 0 0  1 0 0 0 0  1 0 0 0 0  0 0 0 0 1" result="hi"/><feTurbulence type="fractalNoise" baseFrequency="0.035 0.03" numOctaves="2" seed="9"/><feColorMatrix type="matrix" values="1 0 0 0 0  1 0 0 0 0  1 0 0 0 0  0 0 0 0 1" result="lo"/><feComposite in="hi" in2="lo" operator="arithmetic" k1="0" k2="1" k3="0.42" k4="-0.21"/><feColorMatrix type="matrix" values="1 0 0 0 0  0 1 0 0 0  0 0 1 0 0  0 0 0 0 1"/><feComponentTransfer><feFuncR type="table" tableValues="0.06 0.06 0.06 0.06 0.06 0.08 0.11 0.18 0.25 0.25 0.25"/><feFuncG type="table" tableValues="0.22 0.22 0.22 0.22 0.24 0.32 0.50 0.74 0.88 0.88 0.88"/><feFuncB type="table" tableValues="0.88 0.88 0.88 0.88 0.86 0.80 0.64 0.44 0.32 0.32 0.32"/></feComponentTransfer></filter><filter id="kamG" x="0" y="0" width="100%" height="100%" color-interpolation-filters="sRGB"><feTurbulence type="fractalNoise" baseFrequency="0.17 0.2" numOctaves="3" seed="9"/><feColorMatrix type="matrix" values="1 0 0 0 0  1 0 0 0 0  1 0 0 0 0  0 0 0 0 1" result="hi"/><feTurbulence type="fractalNoise" baseFrequency="0.03 0.026" numOctaves="2" seed="14"/><feColorMatrix type="matrix" values="1 0 0 0 0  1 0 0 0 0  1 0 0 0 0  0 0 0 0 1" result="lo"/><feComposite in="hi" in2="lo" operator="arithmetic" k1="0" k2="1" k3="0.6" k4="-0.3"/><feColorMatrix type="matrix" values="1 0 0 0 0  0 1 0 0 0  0 0 1 0 0  0 0 0 0 1"/><feComponentTransfer><feFuncR type="table" tableValues="0.05 0.05 0.05 0.05 0.05 0.06 0.08 0.14 0.22 0.25 0.25"/><feFuncG type="table" tableValues="0.20 0.20 0.20 0.20 0.20 0.24 0.36 0.60 0.82 0.90 0.90"/><feFuncB type="table" tableValues="0.90 0.90 0.90 0.90 0.90 0.86 0.76 0.56 0.38 0.30 0.30"/></feComponentTransfer></filter><filter id="bl" x="-5%" y="-5%" width="110%" height="110%"><feGaussianBlur stdDeviation="0.4"/></filter></defs>
<g transform="translate(13,8)" clip-path="url(#cla)"><rect width="173.7" height="232.4" fill="#3e3"/><g stroke-width="0.4" stroke-linejoin="round"><use href="#a0" fill="#f97" stroke="#f97"/><use href="#a1" fill="#e82" stroke="#e82"/><use href="#a2" fill="#4ea" stroke="#4ea"/><use href="#a3" fill="#6e4" stroke="#6e4"/><use href="#a4" fill="#f97" stroke="#f97"/><use href="#a5" fill="#e82" stroke="#e82"/><use href="#a6" fill="#f34" stroke="#f34"/><use href="#a7" fill="#7e5" stroke="#7e5"/><use href="#a8" fill="#f92" stroke="#f92"/><use href="#a9" fill="#b4e" stroke="#b4e"/><use href="#a10" fill="#f68" stroke="#f68"/><use href="#a11" fill="#f88" stroke="#f88"/><use href="#a12" fill="#f3a" stroke="#f3a"/><use href="#a13" fill="#f92" stroke="#f92"/><use href="#a14" fill="#4f4" stroke="#4f4"/><use href="#a15" fill="#7e5" stroke="#7e5"/><use href="#a16" fill="#e82" stroke="#e82"/><use href="#a17" fill="#7f5" stroke="#7f5"/><use href="#a18" fill="#2e3" stroke="#2e3"/><use href="#a19" fill="#2e2" stroke="#2e2"/><use href="#a20" fill="#f6a" stroke="#f6a"/><use href="#a21" fill="#9e5" stroke="#9e5"/><use href="#a22" fill="#93e" stroke="#93e"/><use href="#a23" fill="#2e3" stroke="#2e3"/><use href="#a24" fill="#4f3" stroke="#4f3"/><use href="#a25" fill="#fa3" stroke="#fa3"/><use href="#a26" fill="#f3a" stroke="#f3a"/><use href="#a27" fill="#2d8" stroke="#2d8"/><use href="#a28" fill="#92c" stroke="#92c"/><use href="#a29" fill="#f5a" stroke="#f5a"/><use href="#a30" fill="#2e2" stroke="#2e2"/><use href="#a31" fill="#e22" stroke="#e22"/><use href="#a32" fill="#e86" stroke="#e86"/><use href="#a33" fill="#a5e" stroke="#a5e"/><use href="#a34" fill="#2f2" stroke="#2f2"/><use href="#a35" fill="#b5f" stroke="#b5f"/><use href="#a36" fill="#93e" stroke="#93e"/><use href="#a37" fill="#23d" stroke="#23d"/><use href="#a38" fill="#f81" stroke="#f81"/><use href="#a39" fill="#cf4" stroke="#cf4"/><use href="#a40" fill="#e13" stroke="#e13"/><use href="#a41" fill="#8f6" stroke="#8f6"/><use href="#a42" fill="#8f6" stroke="#8f6"/><use href="#a43" fill="#4e9" stroke="#4e9"/><use href="#a44" fill="#fe5" stroke="#fe5"/><use href="#a45" fill="#e87" stroke="#e87"/><use href="#a46" fill="#f81" stroke="#f81"/><use href="#a47" fill="#e13" stroke="#e13"/><use href="#a48" fill="#3f4" stroke="#3f4"/><use href="#a49" fill="#2e2" stroke="#2e2"/><use href="#a50" fill="#f93" stroke="#f93"/><use href="#a51" fill="#22c" stroke="#22c"/><use href="#a52" fill="#3f2" stroke="#3f2"/><use href="#a53" fill="#f69" stroke="#f69"/><use href="#a54" fill="#2e3" stroke="#2e3"/><use href="#a55" fill="#f2a" stroke="#f2a"/><use href="#a56" fill="#2f2" stroke="#2f2"/><use href="#a57" fill="#2f2" stroke="#2f2"/><use href="#a58" fill="#e1b" stroke="#e1b"/><use href="#a59" fill="#bee" stroke="#bee"/><use href="#a60" fill="#3e3" stroke="#3e3"/><use href="#a61" fill="#22c" stroke="#22c"/><use href="#a62" fill="#3f3" stroke="#3f3"/><use href="#a63" fill="#f1b" stroke="#f1b"/><use href="#a64" fill="#2f3" stroke="#2f3"/><use href="#a65" fill="#f82" stroke="#f82"/><use href="#a66" fill="#f93" stroke="#f93"/><use href="#a67" fill="#6e5" stroke="#6e5"/><use href="#a68" fill="#5e4" stroke="#5e4"/><use href="#a69" fill="#f82" stroke="#f82"/><use href="#a70" fill="#f98" stroke="#f98"/><use href="#a71" fill="#bf4" stroke="#bf4"/><use href="#a72" fill="#4da" stroke="#4da"/><use href="#a73" fill="#7f4" stroke="#7f4"/><use href="#a74" fill="#e12" stroke="#e12"/><use href="#a75" fill="#8e6" stroke="#8e6"/><use href="#a76" fill="#fd2" stroke="#fd2"/><use href="#a77" fill="#6e5" stroke="#6e5"/><use href="#a78" fill="#e12" stroke="#e12"/><use href="#a79" fill="#f24" stroke="#f24"/><use href="#a80" fill="#8e6" stroke="#8e6"/><use href="#a81" fill="#4da" stroke="#4da"/><use href="#a82" fill="#f82" stroke="#f82"/><use href="#a83" fill="#e12" stroke="#e12"/><use href="#a84" fill="#13d" stroke="#13d"/><use href="#a85" fill="#7f4" stroke="#7f4"/><use href="#a86" fill="#3e3" stroke="#3e3"/><use href="#a87" fill="#e2c" stroke="#e2c"/><use href="#a88" fill="#e1a" stroke="#e1a"/><use href="#a89" fill="#1e2" stroke="#1e2"/><use href="#a90" fill="#8e5" stroke="#8e5"/><use href="#a91" fill="#2f3" stroke="#2f3"/><use href="#a92" fill="#e2b" stroke="#e2b"/><use href="#a93" fill="#8e5" stroke="#8e5"/><use href="#a94" fill="#8e5" stroke="#8e5"/><use href="#a95" fill="#e2b" stroke="#e2b"/><use href="#a96" fill="#e2a" stroke="#e2a"/><use href="#a97" fill="#dff" stroke="#dff"/><use href="#a98" fill="#d2c" stroke="#d2c"/><use href="#a99" fill="#e2a" stroke="#e2a"/><use href="#a100" fill="#d2c" stroke="#d2c"/><use href="#a101" fill="#e32" stroke="#e32"/><use href="#a102" fill="#f59" stroke="#f59"/><use href="#a103" fill="#4f3" stroke="#4f3"/><use href="#a104" fill="#2f3" stroke="#2f3"/><use href="#a105" fill="#3e2" stroke="#3e2"/><use href="#a106" fill="#e2c" stroke="#e2c"/><use href="#a107" fill="#e2c" stroke="#e2c"/><use href="#a108" fill="#6f6" stroke="#6f6"/><use href="#a109" fill="#f2a" stroke="#f2a"/><use href="#a110" fill="#fa8" stroke="#fa8"/><use href="#a111" fill="#2d8" stroke="#2d8"/><use href="#a112" fill="#2d8" stroke="#2d8"/><use href="#a113" fill="#ee3" stroke="#ee3"/><use href="#a114" fill="#cf3" stroke="#cf3"/><use href="#a115" fill="#e1a" stroke="#e1a"/><use href="#a116" fill="#f81" stroke="#f81"/><use href="#a117" fill="#ade" stroke="#ade"/><use href="#a118" fill="#13d" stroke="#13d"/><use href="#a119" fill="#23d" stroke="#23d"/><use href="#a120" fill="#13d" stroke="#13d"/><use href="#a121" fill="#4f3" stroke="#4f3"/><use href="#a122" fill="#f6a" stroke="#f6a"/><use href="#a123" fill="#2e1" stroke="#2e1"/><use href="#a124" fill="#3e8" stroke="#3e8"/><use href="#a125" fill="#fe4" stroke="#fe4"/><use href="#a126" fill="#3f3" stroke="#3f3"/><use href="#a127" fill="#fa8" stroke="#fa8"/><use href="#a128" fill="#8f6" stroke="#8f6"/><use href="#a129" fill="#4e9" stroke="#4e9"/><use href="#a130" fill="#f7a" stroke="#f7a"/><use href="#a131" fill="#9f6" stroke="#9f6"/><use href="#a132" fill="#f23" stroke="#f23"/><use href="#a133" fill="#a4e" stroke="#a4e"/><use href="#a134" fill="#f23" stroke="#f23"/><use href="#a135" fill="#f92" stroke="#f92"/><use href="#a136" fill="#bf3" stroke="#bf3"/><use href="#a137" fill="#f13" stroke="#f13"/><use href="#a138" fill="#f7a" stroke="#f7a"/><use href="#a139" fill="#fe5" stroke="#fe5"/><use href="#a140" fill="#f1b" stroke="#f1b"/><use href="#a141" fill="#a4e" stroke="#a4e"/><use href="#a142" fill="#e32" stroke="#e32"/><use href="#a143" fill="#ee4" stroke="#ee4"/><use href="#a144" fill="#e48" stroke="#e48"/><use href="#a145" fill="#ce3" stroke="#ce3"/><use href="#a146" fill="#ee4" stroke="#ee4"/><use href="#a147" fill="#e23" stroke="#e23"/><use href="#a148" fill="#f6a" stroke="#f6a"/><use href="#a149" fill="#3f3" stroke="#3f3"/><use href="#a150" fill="#e48" stroke="#e48"/><use href="#a151" fill="#e48" stroke="#e48"/><use href="#a152" fill="#2e1" stroke="#2e1"/><use href="#a153" fill="#6f4" stroke="#6f4"/><use href="#a154" fill="#1e2" stroke="#1e2"/><use href="#a155" fill="#3f2" stroke="#3f2"/><use href="#a156" fill="#6f4" stroke="#6f4"/><use href="#a157" fill="#f97" stroke="#f97"/><use href="#a158" fill="#f59" stroke="#f59"/><use href="#a159" fill="#3e2" stroke="#3e2"/><use href="#a160" fill="#f87" stroke="#f87"/><use href="#a161" fill="#7f5" stroke="#7f5"/><use href="#a162" fill="#7e4" stroke="#7e4"/><use href="#a163" fill="#f58" stroke="#f58"/><use href="#a164" fill="#3f2" stroke="#3f2"/><use href="#a165" fill="#ae3" stroke="#ae3"/><use href="#a166" fill="#1e2" stroke="#1e2"/><use href="#a167" fill="#f76" stroke="#f76"/><use href="#a168" fill="#e22" stroke="#e22"/><use href="#a169" fill="#2d9" stroke="#2d9"/><use href="#a170" fill="#ed2" stroke="#ed2"/><use href="#a171" fill="#bf3" stroke="#bf3"/><use href="#a172" fill="#e23" stroke="#e23"/><use href="#a173" fill="#f68" stroke="#f68"/><use href="#a174" fill="#fe3" stroke="#fe3"/><use href="#a175" fill="#fa3" stroke="#fa3"/><use href="#a176" fill="#f87" stroke="#f87"/><use href="#a177" fill="#f68" stroke="#f68"/><use href="#a178" fill="#ed2" stroke="#ed2"/><use href="#a179" fill="#b4e" stroke="#b4e"/><use href="#a180" fill="#ed2" stroke="#ed2"/><use href="#a181" fill="#fe2" stroke="#fe2"/><use href="#a182" fill="#3f4" stroke="#3f4"/><use href="#a183" fill="#12c" stroke="#12c"/><use href="#a184" fill="#6e5" stroke="#6e5"/><use href="#a185" fill="#7e5" stroke="#7e5"/><use href="#a186" fill="#12c" stroke="#12c"/><use href="#a187" fill="#f69" stroke="#f69"/><use href="#a188" fill="#fe2" stroke="#fe2"/><use href="#a189" fill="#3e2" stroke="#3e2"/><use href="#a190" fill="#3e3" stroke="#3e3"/><use href="#a191" fill="#3ea" stroke="#3ea"/><use href="#a192" fill="#33e" stroke="#33e"/><use href="#a193" fill="#93d" stroke="#93d"/><use href="#a194" fill="#6f5" stroke="#6f5"/><use href="#a195" fill="#6e4" stroke="#6e4"/><use href="#a196" fill="#f91" stroke="#f91"/><use href="#a197" fill="#33e" stroke="#33e"/><use href="#a198" fill="#93d" stroke="#93d"/><use href="#a199" fill="#f98" stroke="#f98"/><use href="#a200" fill="#e98" stroke="#e98"/><use href="#a201" fill="#cff" stroke="#cff"/><use href="#a202" fill="#a3e" stroke="#a3e"/><use href="#a203" fill="#edf" stroke="#edf"/><use href="#a204" fill="#a3e" stroke="#a3e"/><use href="#a205" fill="#f93" stroke="#f93"/><use href="#a206" fill="#1e1" stroke="#1e1"/><use href="#a207" fill="#8f5" stroke="#8f5"/><use href="#a208" fill="#b5e" stroke="#b5e"/><use href="#a209" fill="#cff" stroke="#cff"/><use href="#a210" fill="#fd2" stroke="#fd2"/><use href="#a211" fill="#bef" stroke="#bef"/><use href="#a212" fill="#fd3" stroke="#fd3"/><use href="#a213" fill="#b5e" stroke="#b5e"/><use href="#a214" fill="#22d" stroke="#22d"/><use href="#a215" fill="#f2b" stroke="#f2b"/><use href="#a216" fill="#ce4" stroke="#ce4"/><use href="#a217" fill="#5e4" stroke="#5e4"/><use href="#a218" fill="#3d8" stroke="#3d8"/><use href="#a219" fill="#f44" stroke="#f44"/><use href="#a220" fill="#fa2" stroke="#fa2"/><use href="#a221" fill="#ce4" stroke="#ce4"/><use href="#a222" fill="#fa3" stroke="#fa3"/><use href="#a223" fill="#3f4" stroke="#3f4"/><use href="#a224" fill="#3d9" stroke="#3d9"/><use href="#a225" fill="#ff3" stroke="#ff3"/><use href="#a226" fill="#f29" stroke="#f29"/><use href="#a227" fill="#ff5" stroke="#ff5"/><use href="#a228" fill="#ff3" stroke="#ff3"/><use href="#a229" fill="#ff5" stroke="#ff5"/><use href="#a230" fill="#f29" stroke="#f29"/><use href="#a231" fill="#82c" stroke="#82c"/><use href="#a232" fill="#be3" stroke="#be3"/><use href="#a233" fill="#be3" stroke="#be3"/><use href="#a234" fill="#1d1" stroke="#1d1"/><use href="#a235" fill="#7e6" stroke="#7e6"/><use href="#a236" fill="#e92" stroke="#e92"/><use href="#a237" fill="#e49" stroke="#e49"/><use href="#a238" fill="#1d1" stroke="#1d1"/><use href="#a239" fill="#e2d" stroke="#e2d"/><use href="#a240" fill="#82c" stroke="#82c"/><use href="#a241" fill="#e1c" stroke="#e1c"/><use href="#a242" fill="#f59" stroke="#f59"/><use href="#a243" fill="#e21" stroke="#e21"/><use href="#a244" fill="#2c8" stroke="#2c8"/><use href="#a245" fill="#2c8" stroke="#2c8"/><use href="#a246" fill="#9f5" stroke="#9f5"/><use href="#a247" fill="#94e" stroke="#94e"/><use href="#a248" fill="#22d" stroke="#22d"/><use href="#a249" fill="#9f5" stroke="#9f5"/><use href="#a250" fill="#2c8" stroke="#2c8"/><use href="#a251" fill="#94e" stroke="#94e"/><use href="#a252" fill="#fe4" stroke="#fe4"/><use href="#a253" fill="#93e" stroke="#93e"/><use href="#a254" fill="#bf3" stroke="#bf3"/><use href="#a255" fill="#e68" stroke="#e68"/><use href="#a256" fill="#e2b" stroke="#e2b"/><use href="#a257" fill="#3e9" stroke="#3e9"/><use href="#a258" fill="#b5f" stroke="#b5f"/><use href="#a259" fill="#e92" stroke="#e92"/><use href="#a260" fill="#f98" stroke="#f98"/><use href="#a261" fill="#e81" stroke="#e81"/><use href="#a262" fill="#f24" stroke="#f24"/><use href="#a263" fill="#fe3" stroke="#fe3"/><use href="#a264" fill="#f34" stroke="#f34"/><use href="#a265" fill="#fa4" stroke="#fa4"/><use href="#a266" fill="#f2b" stroke="#f2b"/><use href="#a267" fill="#aee" stroke="#aee"/><use href="#a268" fill="#fe5" stroke="#fe5"/><use href="#a269" fill="#f4a" stroke="#f4a"/><use href="#a270" fill="#e1a" stroke="#e1a"/><use href="#a271" fill="#f4a" stroke="#f4a"/><use href="#a272" fill="#f4a" stroke="#f4a"/><use href="#a273" fill="#fd3" stroke="#fd3"/><use href="#a274" fill="#33e" stroke="#33e"/><use href="#a275" fill="#fd3" stroke="#fd3"/><use href="#a276" fill="#9f6" stroke="#9f6"/><use href="#a277" fill="#23e" stroke="#23e"/><use href="#a278" fill="#f1a" stroke="#f1a"/><use href="#a279" fill="#fa8" stroke="#fa8"/><use href="#a280" fill="#f76" stroke="#f76"/><use href="#a281" fill="#22d" stroke="#22d"/><use href="#a282" fill="#f32" stroke="#f32"/><use href="#a283" fill="#d2c" stroke="#d2c"/><use href="#a284" fill="#f1a" stroke="#f1a"/><use href="#a285" fill="#2d9" stroke="#2d9"/><use href="#a286" fill="#be3" stroke="#be3"/><use href="#a287" fill="#f3a" stroke="#f3a"/><use href="#a288" fill="#2e1" stroke="#2e1"/><use href="#a289" fill="#fd2" stroke="#fd2"/><use href="#a290" fill="#9f6" stroke="#9f6"/><use href="#a291" fill="#3ea" stroke="#3ea"/><use href="#a292" fill="#fe4" stroke="#fe4"/><use href="#a293" fill="#82c" stroke="#82c"/><use href="#a294" fill="#f5a" stroke="#f5a"/><use href="#a295" fill="#bff" stroke="#bff"/><use href="#a296" fill="#7f5" stroke="#7f5"/><use href="#a297" fill="#f86" stroke="#f86"/><use href="#a298" fill="#3ea" stroke="#3ea"/><use href="#a299" fill="#7e6" stroke="#7e6"/><use href="#a300" fill="#f24" stroke="#f24"/><use href="#a301" fill="#12d" stroke="#12d"/><use href="#a302" fill="#2d2" stroke="#2d2"/><use href="#a303" fill="#a3e" stroke="#a3e"/><use href="#a304" fill="#ff5" stroke="#ff5"/><use href="#a305" fill="#f2b" stroke="#f2b"/><use href="#a306" fill="#ff4" stroke="#ff4"/><use href="#a307" fill="#e13" stroke="#e13"/><use href="#a308" fill="#1d3" stroke="#1d3"/><use href="#a309" fill="#6f5" stroke="#6f5"/><use href="#a310" fill="#e5a" stroke="#e5a"/><use href="#a311" fill="#f69" stroke="#f69"/><use href="#a312" fill="#e76" stroke="#e76"/><use href="#a313" fill="#f2c" stroke="#f2c"/><use href="#a314" fill="#e23" stroke="#e23"/><use href="#a315" fill="#f1a" stroke="#f1a"/><use href="#a316" fill="#f6b" stroke="#f6b"/><use href="#a317" fill="#4f4" stroke="#4f4"/><use href="#a318" fill="#7e4" stroke="#7e4"/><use href="#a319" fill="#6e4" stroke="#6e4"/><use href="#a320" fill="#7f4" stroke="#7f4"/><use href="#a321" fill="#4f4" stroke="#4f4"/><use href="#a322" fill="#4e3" stroke="#4e3"/><use href="#a323" fill="#4e3" stroke="#4e3"/><use href="#a324" fill="#e98" stroke="#e98"/><use href="#a325" fill="#bff" stroke="#bff"/><use href="#a326" fill="#e92" stroke="#e92"/><use href="#a327" fill="#f22" stroke="#f22"/><use href="#a328" fill="#bff" stroke="#bff"/><use href="#a329" fill="#e71" stroke="#e71"/><use href="#a330" fill="#e71" stroke="#e71"/><use href="#a331" fill="#f33" stroke="#f33"/><use href="#a332" fill="#f33" stroke="#f33"/><use href="#a333" fill="#12c" stroke="#12c"/><use href="#a334" fill="#f33" stroke="#f33"/><use href="#a335" fill="#3e8" stroke="#3e8"/><use href="#a336" fill="#ee4" stroke="#ee4"/><use href="#a337" fill="#fe3" stroke="#fe3"/><use href="#a338" fill="#f88" stroke="#f88"/><use href="#a339" fill="#cef" stroke="#cef"/><use href="#a340" fill="#ce3" stroke="#ce3"/><use href="#a341" fill="#6f5" stroke="#6f5"/><use href="#a342" fill="#cef" stroke="#cef"/><use href="#a343" fill="#92d" stroke="#92d"/><use href="#a344" fill="#ce3" stroke="#ce3"/><use href="#a345" fill="#92d" stroke="#92d"/><use href="#a346" fill="#12d" stroke="#12d"/><use href="#a347" fill="#4d9" stroke="#4d9"/><use href="#a348" fill="#f86" stroke="#f86"/><use href="#a349" fill="#e1b" stroke="#e1b"/><use href="#a350" fill="#92c" stroke="#92c"/><use href="#a351" fill="#f23" stroke="#f23"/><use href="#a352" fill="#9e5" stroke="#9e5"/><use href="#a353" fill="#9e5" stroke="#9e5"/><use href="#a354" fill="#ff3" stroke="#ff3"/><use href="#a355" fill="#e58" stroke="#e58"/><use href="#a356" fill="#f87" stroke="#f87"/><use href="#a357" fill="#f58" stroke="#f58"/><use href="#a358" fill="#e3c" stroke="#e3c"/><use href="#a359" fill="#e81" stroke="#e81"/><use href="#a360" fill="#e3c" stroke="#e3c"/><use href="#a361" fill="#f88" stroke="#f88"/><use href="#a362" fill="#f39" stroke="#f39"/><use href="#a363" fill="#bf4" stroke="#bf4"/><use href="#a364" fill="#3e9" stroke="#3e9"/><use href="#a365" fill="#4e9" stroke="#4e9"/><use href="#a366" fill="#7e6" stroke="#7e6"/><use href="#a367" fill="#9f5" stroke="#9f5"/><use href="#a368" fill="#3d9" stroke="#3d9"/><use href="#a369" fill="#f79" stroke="#f79"/><use href="#a370" fill="#f5a" stroke="#f5a"/><use href="#a371" fill="#cef" stroke="#cef"/><use href="#a372" fill="#3d9" stroke="#3d9"/><use href="#a373" fill="#f79" stroke="#f79"/><use href="#a374" fill="#22c" stroke="#22c"/><use href="#a375" fill="#cf3" stroke="#cf3"/><use href="#a376" fill="#1e1" stroke="#1e1"/><use href="#a377" fill="#e97" stroke="#e97"/><use href="#a378" fill="#fef" stroke="#fef"/><use href="#a379" fill="#def" stroke="#def"/><use href="#a380" fill="#fef" stroke="#fef"/><use href="#a381" fill="#e1b" stroke="#e1b"/><use href="#a382" fill="#1d2" stroke="#1d2"/><use href="#a383" fill="#f1b" stroke="#f1b"/><use href="#a384" fill="#a5e" stroke="#a5e"/><use href="#a385" fill="#a4e" stroke="#a4e"/><use href="#a386" fill="#5e4" stroke="#5e4"/><use href="#a387" fill="#23e" stroke="#23e"/><use href="#a388" fill="#2d2" stroke="#2d2"/><use href="#a389" fill="#b4e" stroke="#b4e"/><use href="#a390" fill="#ee3" stroke="#ee3"/><use href="#a391" fill="#fa4" stroke="#fa4"/><use href="#a392" fill="#82d" stroke="#82d"/><use href="#a393" fill="#f32" stroke="#f32"/><use href="#a394" fill="#ee2" stroke="#ee2"/><use href="#a395" fill="#e22" stroke="#e22"/><use href="#a396" fill="#8f5" stroke="#8f5"/><use href="#a397" fill="#dde" stroke="#dde"/><use href="#a398" fill="#12d" stroke="#12d"/><use href="#a399" fill="#b5e" stroke="#b5e"/><use href="#a400" fill="#9e6" stroke="#9e6"/><use href="#a401" fill="#4ea" stroke="#4ea"/><use href="#a402" fill="#22e" stroke="#22e"/><use href="#a403" fill="#f7b" stroke="#f7b"/><use href="#a404" fill="#f39" stroke="#f39"/><use href="#a405" fill="#e3a" stroke="#e3a"/><use href="#a406" fill="#23d" stroke="#23d"/><use href="#a407" fill="#8e6" stroke="#8e6"/><use href="#a408" fill="#e3a" stroke="#e3a"/><use href="#a409" fill="#f2c" stroke="#f2c"/><use href="#a410" fill="#f58" stroke="#f58"/><use href="#a411" fill="#ae3" stroke="#ae3"/><use href="#a412" fill="#b5f" stroke="#b5f"/><use href="#a413" fill="#f2a" stroke="#f2a"/><use href="#a414" fill="#24e" stroke="#24e"/><use href="#a415" fill="#7f6" stroke="#7f6"/><use href="#a416" fill="#fa2" stroke="#fa2"/><use href="#a417" fill="#4ea" stroke="#4ea"/><use href="#a418" fill="#bee" stroke="#bee"/><use href="#a419" fill="#e87" stroke="#e87"/><use href="#a420" fill="#bee" stroke="#bee"/><use href="#a421" fill="#e87" stroke="#e87"/><use href="#a422" fill="#e58" stroke="#e58"/><use href="#a423" fill="#f91" stroke="#f91"/><use href="#a424" fill="#f48" stroke="#f48"/><use href="#a425" fill="#f91" stroke="#f91"/><use href="#a426" fill="#fe2" stroke="#fe2"/><use href="#a427" fill="#e58" stroke="#e58"/><use href="#a428" fill="#f48" stroke="#f48"/><use href="#a429" fill="#e2a" stroke="#e2a"/><use href="#a430" fill="#34e" stroke="#34e"/><use href="#a431" fill="#a4d" stroke="#a4d"/><use href="#a432" fill="#82d" stroke="#82d"/><use href="#a433" fill="#ed3" stroke="#ed3"/><use href="#a434" fill="#ff4" stroke="#ff4"/><use href="#a435" fill="#e59" stroke="#e59"/><use href="#a436" fill="#1e1" stroke="#1e1"/><use href="#a437" fill="#f7b" stroke="#f7b"/><use href="#a438" fill="#e1c" stroke="#e1c"/><use href="#a439" fill="#f32" stroke="#f32"/><use href="#a440" fill="#f2c" stroke="#f2c"/><use href="#a441" fill="#5e5" stroke="#5e5"/><use href="#a442" fill="#def" stroke="#def"/><use href="#a443" fill="#f22" stroke="#f22"/><use href="#a444" fill="#e21" stroke="#e21"/><use href="#a445" fill="#ae3" stroke="#ae3"/><use href="#a446" fill="#cff" stroke="#cff"/><use href="#a447" fill="#e69" stroke="#e69"/><use href="#a448" fill="#e71" stroke="#e71"/><use href="#a449" fill="#ff4" stroke="#ff4"/><use href="#a450" fill="#cf4" stroke="#cf4"/><use href="#a451" fill="#e76" stroke="#e76"/><use href="#a452" fill="#93d" stroke="#93d"/><use href="#a453" fill="#a2e" stroke="#a2e"/></g><use href="#allA" fill="none" stroke="#111" stroke-width="0.3" opacity="0.4"/></g>
<g transform="translate(186.7,8)"><rect width="175.6" height="232.4" fill="#1848d0" filter="url(#kamA)"/><g clip-path="url(#cla)" transform="scale(1.0109,1)" fill="none" filter="url(#bl)"><use href="#allA" stroke="#3ad25a" stroke-width="0.6" opacity="0.5"/><use href="#xa" stroke="#48e060" stroke-width="0.9" opacity="0.45"/></g></g>
<g transform="translate(362.3,8)"><rect width="173.9" height="232.4" fill="#fff"/><g clip-path="url(#cla)" transform="scale(1.0012,1)" fill="none"><use href="#cA" stroke="#347e3e" stroke-width="0.55" opacity="0.92"/><use href="#xa" stroke="#222" stroke-width="0.55" opacity="0.75"/></g></g>
<g transform="translate(14,389)" clip-path="url(#clg)"><rect width="174.7" height="231.4" fill="#3e3"/><g stroke-width="0.5" stroke-linejoin="round"><use href="#g0" fill="#2e3" stroke="#2e3"/><use href="#g1" fill="#f32" stroke="#f32"/><use href="#g2" fill="#f69" stroke="#f69"/><use href="#g3" fill="#f39" stroke="#f39"/><use href="#g4" fill="#e81" stroke="#e81"/><use href="#g5" fill="#f3a" stroke="#f3a"/><use href="#g6" fill="#f5a" stroke="#f5a"/><use href="#g7" fill="#f69" stroke="#f69"/><use href="#g8" fill="#f59" stroke="#f59"/><use href="#g9" fill="#f23" stroke="#f23"/><use href="#g10" fill="#f68" stroke="#f68"/><use href="#g11" fill="#e23" stroke="#e23"/><use href="#g12" fill="#e13" stroke="#e13"/><use href="#g13" fill="#a4e" stroke="#a4e"/><use href="#g14" fill="#2e2" stroke="#2e2"/><use href="#g15" fill="#f7a" stroke="#f7a"/><use href="#g16" fill="#2e3" stroke="#2e3"/><use href="#g17" fill="#f1a" stroke="#f1a"/><use href="#g18" fill="#e22" stroke="#e22"/><use href="#g19" fill="#3e2" stroke="#3e2"/><use href="#g20" fill="#d12" stroke="#d12"/><use href="#g21" fill="#f33" stroke="#f33"/><use href="#g22" fill="#f59" stroke="#f59"/><use href="#g23" fill="#3f3" stroke="#3f3"/><use href="#g24" fill="#3f3" stroke="#3f3"/><use href="#g25" fill="#f34" stroke="#f34"/><use href="#g26" fill="#2f2" stroke="#2f2"/><use href="#g27" fill="#f23" stroke="#f23"/><use href="#g28" fill="#2e2" stroke="#2e2"/><use href="#g29" fill="#f6a" stroke="#f6a"/><use href="#g30" fill="#e23" stroke="#e23"/><use href="#g31" fill="#f78" stroke="#f78"/><use href="#g32" fill="#e22" stroke="#e22"/><use href="#g33" fill="#f13" stroke="#f13"/><use href="#g34" fill="#2f3" stroke="#2f3"/><use href="#g35" fill="#f58" stroke="#f58"/><use href="#g36" fill="#f32" stroke="#f32"/><use href="#g37" fill="#d12" stroke="#d12"/><use href="#g38" fill="#f33" stroke="#f33"/><use href="#g39" fill="#f58" stroke="#f58"/><use href="#g40" fill="#eef" stroke="#eef"/><use href="#g41" fill="#2f3" stroke="#2f3"/><use href="#g42" fill="#f34" stroke="#f34"/><use href="#g43" fill="#f34" stroke="#f34"/><use href="#g44" fill="#2d2" stroke="#2d2"/><use href="#g45" fill="#2e3" stroke="#2e3"/><use href="#g46" fill="#2e2" stroke="#2e2"/><use href="#g47" fill="#f92" stroke="#f92"/><use href="#g48" fill="#a4e" stroke="#a4e"/><use href="#g49" fill="#f48" stroke="#f48"/><use href="#g50" fill="#f2b" stroke="#f2b"/><use href="#g51" fill="#1d2" stroke="#1d2"/><use href="#g52" fill="#3f2" stroke="#3f2"/><use href="#g53" fill="#f23" stroke="#f23"/><use href="#g54" fill="#3f4" stroke="#3f4"/><use href="#g55" fill="#e13" stroke="#e13"/><use href="#g56" fill="#3e3" stroke="#3e3"/><use href="#g57" fill="#4e3" stroke="#4e3"/><use href="#g58" fill="#3e3" stroke="#3e3"/><use href="#g59" fill="#3f3" stroke="#3f3"/><use href="#g60" fill="#4f3" stroke="#4f3"/><use href="#g61" fill="#2d3" stroke="#2d3"/><use href="#g62" fill="#3e3" stroke="#3e3"/><use href="#g63" fill="#bf3" stroke="#bf3"/><use href="#g64" fill="#df4" stroke="#df4"/><use href="#g65" fill="#4f4" stroke="#4f4"/><use href="#g66" fill="#fd2" stroke="#fd2"/><use href="#g67" fill="#2f3" stroke="#2f3"/><use href="#g68" fill="#ff3" stroke="#ff3"/><use href="#g69" fill="#f32" stroke="#f32"/><use href="#g70" fill="#e22" stroke="#e22"/><use href="#g71" fill="#f82" stroke="#f82"/><use href="#g72" fill="#fa3" stroke="#fa3"/><use href="#g73" fill="#f87" stroke="#f87"/><use href="#g74" fill="#fa8" stroke="#fa8"/><use href="#g75" fill="#fe3" stroke="#fe3"/><use href="#g76" fill="#f82" stroke="#f82"/><use href="#g77" fill="#ee5" stroke="#ee5"/><use href="#g78" fill="#f5a" stroke="#f5a"/><use href="#g79" fill="#ff5" stroke="#ff5"/><use href="#g80" fill="#f22" stroke="#f22"/><use href="#g81" fill="#ff4" stroke="#ff4"/><use href="#g82" fill="#ff4" stroke="#ff4"/><use href="#g83" fill="#f5a" stroke="#f5a"/><use href="#g84" fill="#ee3" stroke="#ee3"/><use href="#g85" fill="#e69" stroke="#e69"/><use href="#g86" fill="#fa3" stroke="#fa3"/><use href="#g87" fill="#e32" stroke="#e32"/><use href="#g88" fill="#fd2" stroke="#fd2"/><use href="#g89" fill="#f6a" stroke="#f6a"/><use href="#g90" fill="#f91" stroke="#f91"/><use href="#g91" fill="#e12" stroke="#e12"/><use href="#g92" fill="#f59" stroke="#f59"/><use href="#g93" fill="#e12" stroke="#e12"/><use href="#g94" fill="#f87" stroke="#f87"/><use href="#g95" fill="#f33" stroke="#f33"/><use href="#g96" fill="#f92" stroke="#f92"/><use href="#g97" fill="#f81" stroke="#f81"/><use href="#g98" fill="#ce3" stroke="#ce3"/><use href="#g99" fill="#fe2" stroke="#fe2"/><use href="#g100" fill="#f93" stroke="#f93"/><use href="#g101" fill="#fe3" stroke="#fe3"/><use href="#g102" fill="#2e1" stroke="#2e1"/><use href="#g103" fill="#cf3" stroke="#cf3"/><use href="#g104" fill="#f2b" stroke="#f2b"/><use href="#g105" fill="#1e2" stroke="#1e2"/><use href="#g106" fill="#e57" stroke="#e57"/><use href="#g107" fill="#3f2" stroke="#3f2"/><use href="#g108" fill="#3f4" stroke="#3f4"/><use href="#g109" fill="#f49" stroke="#f49"/><use href="#g110" fill="#3e2" stroke="#3e2"/><use href="#g111" fill="#2d2" stroke="#2d2"/><use href="#g112" fill="#e2c" stroke="#e2c"/><use href="#g113" fill="#2e1" stroke="#2e1"/><use href="#g114" fill="#4f4" stroke="#4f4"/><use href="#g115" fill="#2f2" stroke="#2f2"/><use href="#g116" fill="#2f2" stroke="#2f2"/><use href="#g117" fill="#f92" stroke="#f92"/><use href="#g118" fill="#e71" stroke="#e71"/><use href="#g119" fill="#ed2" stroke="#ed2"/><use href="#g120" fill="#4f3" stroke="#4f3"/><use href="#g121" fill="#f91" stroke="#f91"/><use href="#g122" fill="#f82" stroke="#f82"/><use href="#g123" fill="#fa3" stroke="#fa3"/><use href="#g124" fill="#ee4" stroke="#ee4"/><use href="#g125" fill="#4e2" stroke="#4e2"/><use href="#g126" fill="#1e2" stroke="#1e2"/><use href="#g127" fill="#f6a" stroke="#f6a"/><use href="#g128" fill="#ff3" stroke="#ff3"/><use href="#g129" fill="#fe2" stroke="#fe2"/><use href="#g130" fill="#f7a" stroke="#f7a"/><use href="#g131" fill="#ddf" stroke="#ddf"/><use href="#g132" fill="#e59" stroke="#e59"/><use href="#g133" fill="#fe4" stroke="#fe4"/><use href="#g134" fill="#fe3" stroke="#fe3"/><use href="#g135" fill="#fd4" stroke="#fd4"/><use href="#g136" fill="#4e3" stroke="#4e3"/><use href="#g137" fill="#f69" stroke="#f69"/><use href="#g138" fill="#fd2" stroke="#fd2"/><use href="#g139" fill="#ee2" stroke="#ee2"/><use href="#g140" fill="#fe4" stroke="#fe4"/><use href="#g141" fill="#f58" stroke="#f58"/><use href="#g142" fill="#ed2" stroke="#ed2"/><use href="#g143" fill="#bef" stroke="#bef"/><use href="#g144" fill="#fe5" stroke="#fe5"/><use href="#g145" fill="#2f4" stroke="#2f4"/><use href="#g146" fill="#e6a" stroke="#e6a"/><use href="#g147" fill="#e33" stroke="#e33"/><use href="#g148" fill="#f78" stroke="#f78"/><use href="#g149" fill="#f7a" stroke="#f7a"/><use href="#g150" fill="#d12" stroke="#d12"/><use href="#g151" fill="#f12" stroke="#f12"/><use href="#g152" fill="#92d" stroke="#92d"/><use href="#g153" fill="#e23" stroke="#e23"/><use href="#g154" fill="#e5a" stroke="#e5a"/><use href="#g155" fill="#1e3" stroke="#1e3"/><use href="#g156" fill="#a3d" stroke="#a3d"/><use href="#g157" fill="#f7b" stroke="#f7b"/><use href="#g158" fill="#f24" stroke="#f24"/><use href="#g159" fill="#3f2" stroke="#3f2"/><use href="#g160" fill="#1e3" stroke="#1e3"/><use href="#g161" fill="#4e2" stroke="#4e2"/><use href="#g162" fill="#3e2" stroke="#3e2"/><use href="#g163" fill="#e49" stroke="#e49"/><use href="#g164" fill="#f2c" stroke="#f2c"/><use href="#g165" fill="#4f3" stroke="#4f3"/><use href="#g166" fill="#e2b" stroke="#e2b"/><use href="#g167" fill="#d21" stroke="#d21"/><use href="#g168" fill="#f24" stroke="#f24"/><use href="#g169" fill="#d21" stroke="#d21"/><use href="#g170" fill="#e12" stroke="#e12"/><use href="#g171" fill="#f44" stroke="#f44"/><use href="#g172" fill="#f68" stroke="#f68"/><use href="#g173" fill="#e2c" stroke="#e2c"/><use href="#g174" fill="#1d1" stroke="#1d1"/><use href="#g175" fill="#f24" stroke="#f24"/><use href="#g176" fill="#e31" stroke="#e31"/><use href="#g177" fill="#bf4" stroke="#bf4"/><use href="#g178" fill="#bf3" stroke="#bf3"/><use href="#g179" fill="#f81" stroke="#f81"/><use href="#g180" fill="#be4" stroke="#be4"/><use href="#g181" fill="#b4f" stroke="#b4f"/><use href="#g182" fill="#e71" stroke="#e71"/><use href="#g183" fill="#ae3" stroke="#ae3"/><use href="#g184" fill="#1e1" stroke="#1e1"/><use href="#g185" fill="#3f4" stroke="#3f4"/><use href="#g186" fill="#ce4" stroke="#ce4"/><use href="#g187" fill="#2d3" stroke="#2d3"/><use href="#g188" fill="#1e1" stroke="#1e1"/><use href="#g189" fill="#e32" stroke="#e32"/><use href="#g190" fill="#e33" stroke="#e33"/><use href="#g191" fill="#e33" stroke="#e33"/><use href="#g192" fill="#f13" stroke="#f13"/><use href="#g193" fill="#e32" stroke="#e32"/><use href="#g194" fill="#1e2" stroke="#1e2"/><use href="#g195" fill="#e13" stroke="#e13"/><use href="#g196" fill="#e58" stroke="#e58"/><use href="#g197" fill="#fa2" stroke="#fa2"/><use href="#g198" fill="#d23" stroke="#d23"/><use href="#g199" fill="#e81" stroke="#e81"/><use href="#g200" fill="#f49" stroke="#f49"/><use href="#g201" fill="#fe4" stroke="#fe4"/><use href="#g202" fill="#f72" stroke="#f72"/><use href="#g203" fill="#1f2" stroke="#1f2"/><use href="#g204" fill="#fa4" stroke="#fa4"/><use href="#g205" fill="#ff3" stroke="#ff3"/><use href="#g206" fill="#e3c" stroke="#e3c"/><use href="#g207" fill="#f93" stroke="#f93"/><use href="#g208" fill="#f3a" stroke="#f3a"/><use href="#g209" fill="#e93" stroke="#e93"/><use href="#g210" fill="#f2d" stroke="#f2d"/><use href="#g211" fill="#ce3" stroke="#ce3"/><use href="#g212" fill="#fe2" stroke="#fe2"/><use href="#g213" fill="#ed2" stroke="#ed2"/><use href="#g214" fill="#ec2" stroke="#ec2"/><use href="#g215" fill="#fd3" stroke="#fd3"/><use href="#g216" fill="#1d2" stroke="#1d2"/><use href="#g217" fill="#f22" stroke="#f22"/><use href="#g218" fill="#f44" stroke="#f44"/><use href="#g219" fill="#ae3" stroke="#ae3"/><use href="#g220" fill="#e49" stroke="#e49"/><use href="#g221" fill="#e68" stroke="#e68"/><use href="#g222" fill="#f1b" stroke="#f1b"/><use href="#g223" fill="#2e1" stroke="#2e1"/><use href="#g224" fill="#1d2" stroke="#1d2"/><use href="#g225" fill="#e1b" stroke="#e1b"/><use href="#g226" fill="#ae3" stroke="#ae3"/><use href="#g227" fill="#f49" stroke="#f49"/><use href="#g228" fill="#bee" stroke="#bee"/><use href="#g229" fill="#2d2" stroke="#2d2"/><use href="#g230" fill="#3e4" stroke="#3e4"/><use href="#g231" fill="#cff" stroke="#cff"/><use href="#g232" fill="#edf" stroke="#edf"/><use href="#g233" fill="#fef" stroke="#fef"/><use href="#g234" fill="#4f2" stroke="#4f2"/><use href="#g235" fill="#4f2" stroke="#4f2"/><use href="#g236" fill="#7f6" stroke="#7f6"/><use href="#g237" fill="#6f5" stroke="#6f5"/><use href="#g238" fill="#f48" stroke="#f48"/><use href="#g239" fill="#e91" stroke="#e91"/><use href="#g240" fill="#dff" stroke="#dff"/><use href="#g241" fill="#f22" stroke="#f22"/><use href="#g242" fill="#f81" stroke="#f81"/><use href="#g243" fill="#fef" stroke="#fef"/><use href="#g244" fill="#e24" stroke="#e24"/><use href="#g245" fill="#e81" stroke="#e81"/><use href="#g246" fill="#f29" stroke="#f29"/><use href="#g247" fill="#f2b" stroke="#f2b"/><use href="#g248" fill="#1e3" stroke="#1e3"/><use href="#g249" fill="#1e1" stroke="#1e1"/><use href="#g250" fill="#fd3" stroke="#fd3"/><use href="#g251" fill="#ff4" stroke="#ff4"/><use href="#g252" fill="#e21" stroke="#e21"/><use href="#g253" fill="#2d1" stroke="#2d1"/><use href="#g254" fill="#4f4" stroke="#4f4"/><use href="#g255" fill="#f12" stroke="#f12"/><use href="#g256" fill="#def" stroke="#def"/></g><use href="#oG" fill="none" stroke="#111" stroke-width="0.35" opacity="0.55"/><use href="#gG" fill="none" stroke="#121" stroke-width="0.3" opacity="0.3"/><use href="#nG" fill="none" stroke="#121" stroke-width="0.3" opacity="0.2"/><use href="#xg" fill="none" stroke="#131" stroke-width="0.35" opacity="0.4"/></g>
<g transform="translate(188.7,389)"><rect width="175.3" height="231.4" fill="#1040d8" filter="url(#kamG)"/><g clip-path="url(#clg)" transform="scale(1.0034,1)" fill="none" filter="url(#bl)"><use href="#oG" stroke="#40dc58" stroke-width="0.5" opacity="0.45"/><use href="#gG" stroke="#40dc58" stroke-width="0.4" opacity="0.25"/><use href="#xg" stroke="#4ce864" stroke-width="0.9" opacity="0.5"/><use href="#xg2" stroke="#48e060" stroke-width="0.9" opacity="0.35"/></g></g>
<g transform="translate(364,389)"><rect width="174.3" height="231.4" fill="#fff"/><g clip-path="url(#clg)" transform="scale(0.9977,1)" fill="none"><use href="#oG" stroke="#4a9a50" stroke-width="0.45" opacity="0.95"/><use href="#gG" stroke="#181818" stroke-width="0.42" opacity="0.85"/><use href="#xg" stroke="#222" stroke-width="0.5" opacity="0.8"/><use href="#xg2" stroke="#333" stroke-width="0.45" opacity="0.7"/></g></g>
</g>
<g id="overlays">
<rect x="161.6" y="8" width="25.1" height="51" fill="#fff"/><line x1="174.55" y1="42.3" x2="174.55" y2="17" stroke="#000" stroke-width="1.2"/><path d="M172.35000000000002,19 L174.55,13 L176.75,19Z" fill="#000"/><circle cx="174.55" cy="42.3" r="5.7" fill="none" stroke="#000" stroke-width="1"/><circle cx="174.55" cy="42.3" r="1.9" fill="#000"/><text font-family="Liberation Serif, serif" font-weight="bold" font-size="7.4" x="166.15" y="15.6">Y</text><text font-family="Liberation Serif, serif" font-weight="bold" font-size="7.8" textLength="21.6" lengthAdjust="spacingAndGlyphs" x="163.2" y="56.6">Z(BD)</text>
<rect x="14.9" y="175.7" width="72.8" height="64.7" fill="#fff"/><defs><clipPath id="cipf14_175"><path d="M24.700000000000003,227.6 L71.9,186.39999999999998 Q79.9,202.0 78.7,227.6 Z"/></clipPath><linearGradient id="ripf14_175" gradientUnits="userSpaceOnUse" x1="24.7" y1="227.6" x2="79.5" y2="221.2"><stop offset="0" stop-color="#f00"/><stop offset="0.57" stop-color="#f00"/><stop offset="1" stop-color="#f00" stop-opacity="0"/></linearGradient><linearGradient id="gipf14_175" gradientUnits="userSpaceOnUse" x1="78.7" y1="227.6" x2="55.3" y2="200.8"><stop offset="0" stop-color="#0f0"/><stop offset="0.57" stop-color="#0f0"/><stop offset="1" stop-color="#0f0" stop-opacity="0"/></linearGradient><linearGradient id="bipf14_175" gradientUnits="userSpaceOnUse" x1="71.9" y1="186.4" x2="71.9" y2="227.6"><stop offset="0" stop-color="#00f"/><stop offset="0.57" stop-color="#00f"/><stop offset="1" stop-color="#00f" stop-opacity="0"/></linearGradient></defs><g clip-path="url(#cipf14_175)" style="isolation:isolate"><rect x="14.9" y="175.7" width="72.8" height="64.7" fill="#000"/><g style="mix-blend-mode:screen"><rect x="14.9" y="175.7" width="72.8" height="64.7" fill="url(#ripf14_175)"/></g><g style="mix-blend-mode:screen"><rect x="14.9" y="175.7" width="72.8" height="64.7" fill="url(#gipf14_175)"/></g><g style="mix-blend-mode:screen"><rect x="14.9" y="175.7" width="72.8" height="64.7" fill="url(#bipf14_175)"/></g></g><g font-family="Liberation Serif, serif" font-size="9.6" fill="#000" text-anchor="middle"><text x="70.9" y="184.0">111</text><text x="23.9" y="238.29999999999998">001</text><text x="81.2" y="238.29999999999998">101</text></g>
<rect x="124.3" y="232.29999999999998" width="55.7" height="2.7" fill="#000"/><text font-family="Liberation Serif, serif" font-weight="bold" font-size="17" fill="#000" x="125.1" y="222.6" textLength="57" lengthAdjust="spacingAndGlyphs">100 μm</text>
<rect x="302.3" y="232.5" width="55.5" height="2.7" fill="#000"/><text font-family="Liberation Serif, serif" font-weight="bold" font-size="17" fill="#000" x="303.1" y="222.6" textLength="57" lengthAdjust="spacingAndGlyphs">100 μm</text>
<rect x="471.5" y="232.29999999999998" width="56.0" height="2.7" fill="#000"/><text font-family="Liberation Serif, serif" font-weight="bold" font-size="17" fill="#000" x="472.3" y="222.6" textLength="57" lengthAdjust="spacingAndGlyphs">100 μm</text>
<text font-family="Liberation Serif, serif" font-size="21.5" fill="#000" stroke="#000" stroke-width="0.45" x="23.5" y="30.2">(a)</text>
<text font-family="Liberation Serif, serif" font-size="21.5" fill="#000" stroke="#000" stroke-width="0.45" x="191" y="27.3">(b)</text>
<text font-family="Liberation Serif, serif" font-size="21.5" fill="#000" stroke="#000" stroke-width="0.45" x="369" y="27.3">(c)</text>
<rect x="164.4" y="389" width="24.3" height="50" fill="#fff"/><line x1="176.95000000000002" y1="423.3" x2="176.95000000000002" y2="398" stroke="#000" stroke-width="1.2"/><path d="M174.75000000000003,400 L176.95000000000002,394 L179.15,400Z" fill="#000"/><circle cx="176.95000000000002" cy="423.3" r="5.7" fill="none" stroke="#000" stroke-width="1"/><circle cx="176.95000000000002" cy="423.3" r="1.9" fill="#000"/><text font-family="Liberation Serif, serif" font-weight="bold" font-size="7.4" x="168.55" y="396.6">Y</text><text font-family="Liberation Serif, serif" font-weight="bold" font-size="7.8" textLength="21.6" lengthAdjust="spacingAndGlyphs" x="166.0" y="437.6">Z(BD)</text>
<rect x="15.5" y="556.5" width="72.8" height="64.7" fill="#fff"/><defs><clipPath id="cipf15_556"><path d="M25.3,608.4 L72.5,567.2 Q80.5,582.8 79.3,608.4 Z"/></clipPath><linearGradient id="ripf15_556" gradientUnits="userSpaceOnUse" x1="25.3" y1="608.4" x2="80.1" y2="602.0"><stop offset="0" stop-color="#f00"/><stop offset="0.57" stop-color="#f00"/><stop offset="1" stop-color="#f00" stop-opacity="0"/></linearGradient><linearGradient id="gipf15_556" gradientUnits="userSpaceOnUse" x1="79.3" y1="608.4" x2="55.9" y2="581.6"><stop offset="0" stop-color="#0f0"/><stop offset="0.57" stop-color="#0f0"/><stop offset="1" stop-color="#0f0" stop-opacity="0"/></linearGradient><linearGradient id="bipf15_556" gradientUnits="userSpaceOnUse" x1="72.5" y1="567.2" x2="72.5" y2="608.4"><stop offset="0" stop-color="#00f"/><stop offset="0.57" stop-color="#00f"/><stop offset="1" stop-color="#00f" stop-opacity="0"/></linearGradient></defs><g clip-path="url(#cipf15_556)" style="isolation:isolate"><rect x="15.5" y="556.5" width="72.8" height="64.7" fill="#000"/><g style="mix-blend-mode:screen"><rect x="15.5" y="556.5" width="72.8" height="64.7" fill="url(#ripf15_556)"/></g><g style="mix-blend-mode:screen"><rect x="15.5" y="556.5" width="72.8" height="64.7" fill="url(#gipf15_556)"/></g><g style="mix-blend-mode:screen"><rect x="15.5" y="556.5" width="72.8" height="64.7" fill="url(#bipf15_556)"/></g></g><g font-family="Liberation Serif, serif" font-size="9.6" fill="#000" text-anchor="middle"><text x="71.5" y="564.8">111</text><text x="24.5" y="619.1">001</text><text x="81.8" y="619.1">101</text></g>
<rect x="126" y="613.7" width="56.0" height="2.7" fill="#000"/><text font-family="Liberation Serif, serif" font-weight="bold" font-size="17" fill="#000" x="126.8" y="603.6" textLength="57" lengthAdjust="spacingAndGlyphs">100 μm</text>
<rect x="303.6" y="613.7" width="56.0" height="2.7" fill="#000"/><text font-family="Liberation Serif, serif" font-weight="bold" font-size="17" fill="#000" x="304.40000000000003" y="603.6" textLength="57" lengthAdjust="spacingAndGlyphs">100 μm</text>
<rect x="474.5" y="613.9000000000001" width="56.5" height="2.7" fill="#000"/><text font-family="Liberation Serif, serif" font-weight="bold" font-size="17" fill="#000" x="475.3" y="603.6" textLength="57" lengthAdjust="spacingAndGlyphs">100 μm</text>
<text font-family="Liberation Serif, serif" font-size="20.5" fill="#000" stroke="#000" stroke-width="0.45" x="15.5" y="408.6">(g)</text>
<text font-family="Liberation Serif, serif" font-size="20.5" fill="#000" stroke="#000" stroke-width="0.45" x="191.5" y="408.6">(h)</text>
<text font-family="Liberation Serif, serif" font-size="20.5" fill="#000" stroke="#000" stroke-width="0.45" x="369" y="408.6">(i)</text>
</g>
<g id="charts">
<rect x="39.7" y="246.4" width="141.3" height="114.8" fill="#fff" stroke="#7a7a7a" stroke-width="0.9"/>
<g fill="#e39a9a"><rect x="39.70" y="261.71" width="4.02" height="99.49"/><rect x="43.72" y="283.52" width="4.02" height="77.68"/><rect x="47.73" y="306.86" width="4.02" height="54.34"/><rect x="51.75" y="321.02" width="4.02" height="40.18"/><rect x="55.76" y="330.20" width="4.02" height="31.00"/><rect x="59.78" y="341.30" width="4.02" height="19.90"/><rect x="63.80" y="342.45" width="4.02" height="18.75"/><rect x="67.81" y="348.95" width="4.02" height="12.25"/><rect x="71.83" y="352.78" width="4.02" height="8.42"/><rect x="75.84" y="354.69" width="4.02" height="6.51"/><rect x="79.86" y="356.99" width="4.02" height="4.21"/><rect x="83.88" y="358.71" width="4.02" height="2.49"/><rect x="87.89" y="359.48" width="4.02" height="1.72"/><rect x="91.91" y="359.67" width="4.02" height="1.53"/><rect x="95.92" y="360.36" width="4.02" height="0.84"/><rect x="99.94" y="360.74" width="4.02" height="0.46"/></g>
<g fill="#f21414"><rect x="39.98" y="261.71" width="3.47" height="99.49"/><rect x="43.99" y="283.52" width="3.47" height="77.68"/><rect x="48.01" y="306.86" width="3.47" height="54.34"/><rect x="52.02" y="321.02" width="3.47" height="40.18"/><rect x="56.04" y="330.20" width="3.47" height="31.00"/><rect x="60.05" y="341.30" width="3.47" height="19.90"/><rect x="64.07" y="342.45" width="3.47" height="18.75"/><rect x="68.09" y="348.95" width="3.47" height="12.25"/><rect x="72.10" y="352.78" width="3.47" height="8.42"/><rect x="76.12" y="354.69" width="3.47" height="6.51"/><rect x="80.14" y="356.99" width="3.47" height="4.21"/><rect x="84.15" y="358.71" width="3.47" height="2.49"/><rect x="88.17" y="359.48" width="3.47" height="1.72"/><rect x="92.18" y="359.67" width="3.47" height="1.53"/><rect x="96.20" y="360.36" width="3.47" height="0.84"/><rect x="100.22" y="360.74" width="3.47" height="0.46"/></g>
<g stroke="#777" stroke-width="0.5" opacity="0.5"><line x1="39.7" x2="41.900000000000006" y1="361.20" y2="361.20"/><line x1="39.7" x2="41.900000000000006" y1="342.07" y2="342.07"/><line x1="39.7" x2="41.900000000000006" y1="322.93" y2="322.93"/><line x1="39.7" x2="41.900000000000006" y1="303.80" y2="303.80"/><line x1="39.7" x2="41.900000000000006" y1="284.67" y2="284.67"/><line x1="39.7" x2="41.900000000000006" y1="265.53" y2="265.53"/><line x1="39.7" x2="41.900000000000006" y1="246.40" y2="246.40"/><line x1="39.70" x2="39.70" y1="361.2" y2="359.0"/><line x1="59.78" x2="59.78" y1="361.2" y2="359.0"/><line x1="79.86" x2="79.86" y1="361.2" y2="359.0"/><line x1="99.94" x2="99.94" y1="361.2" y2="359.0"/><line x1="120.02" x2="120.02" y1="361.2" y2="359.0"/><line x1="140.10" x2="140.10" y1="361.2" y2="359.0"/><line x1="160.18" x2="160.18" y1="361.2" y2="359.0"/><line x1="180.26" x2="180.26" y1="361.2" y2="359.0"/></g>
<g font-family="Liberation Serif, serif" font-size="12" fill="#111"><text x="36.5" y="365.16" text-anchor="end">0</text><text x="36.5" y="346.03" text-anchor="end">5</text><text x="36.5" y="326.89" text-anchor="end">10</text><text x="36.5" y="307.76" text-anchor="end">15</text><text x="36.5" y="288.63" text-anchor="end">20</text><text x="36.5" y="269.49" text-anchor="end">25</text><text x="36.5" y="250.36" text-anchor="end">30</text><text x="39.70" y="374.9" text-anchor="middle">0</text><text x="59.78" y="374.9" text-anchor="middle">10</text><text x="79.86" y="374.9" text-anchor="middle">20</text><text x="99.94" y="374.9" text-anchor="middle">30</text><text x="120.02" y="374.9" text-anchor="middle">40</text><text x="140.10" y="374.9" text-anchor="middle">50</text><text x="160.18" y="374.9" text-anchor="middle">60</text><text x="180.26" y="374.9" text-anchor="middle">70</text></g>
<text font-family="Liberation Serif, serif" font-size="11.8" fill="#111" text-anchor="middle" transform="translate(20.8,302.8) rotate(-90)">Number fraction (%)</text>
<text font-family="Liberation Serif, serif" font-size="12" fill="#111" text-anchor="middle" x="110.5" y="384.5">Grain size (μm)</text>
<text font-family="Liberation Serif, serif" font-size="20.8" fill="#000" x="43.8" y="267.3">(d)</text>
<text font-family="Liberation Serif, serif" font-size="15.1" fill="#000" x="51.8" y="303.4">Grain size=6.04 μm</text>
<rect x="217.1" y="244.2" width="144.7" height="115.7" fill="#fff" stroke="#7a7a7a" stroke-width="0.9"/>
<g fill="#b8402e"><rect x="220.71" y="358.62" width="2.89" height="1.28"/><rect x="223.59" y="339.38" width="2.89" height="20.52"/><rect x="226.48" y="299.87" width="2.89" height="60.03"/><rect x="229.36" y="273.70" width="2.89" height="86.20"/><rect x="232.25" y="275.24" width="2.89" height="84.66"/><rect x="235.13" y="291.66" width="2.89" height="68.24"/><rect x="238.02" y="308.59" width="2.89" height="51.31"/><rect x="240.90" y="323.98" width="2.89" height="35.92"/><rect x="243.79" y="334.25" width="2.89" height="25.65"/><rect x="246.67" y="341.43" width="2.89" height="18.47"/><rect x="249.56" y="346.56" width="2.89" height="13.34"/><rect x="252.44" y="350.15" width="2.89" height="9.75"/><rect x="255.33" y="352.46" width="2.89" height="7.44"/><rect x="258.21" y="354.26" width="2.89" height="5.64"/><rect x="261.10" y="355.54" width="2.89" height="4.36"/><rect x="263.98" y="356.56" width="2.89" height="3.34"/><rect x="266.87" y="357.33" width="2.89" height="2.57"/><rect x="269.75" y="357.85" width="2.89" height="2.05"/><rect x="272.64" y="358.26" width="2.89" height="1.64"/><rect x="275.52" y="358.62" width="2.89" height="1.28"/><rect x="278.41" y="358.87" width="2.89" height="1.03"/><rect x="281.29" y="359.13" width="2.89" height="0.77"/></g>
<g fill="#f21414"><rect x="220.92" y="358.62" width="2.45" height="1.28"/><rect x="223.81" y="339.38" width="2.45" height="20.52"/><rect x="226.69" y="299.87" width="2.45" height="60.03"/><rect x="229.58" y="273.70" width="2.45" height="86.20"/><rect x="232.46" y="275.24" width="2.45" height="84.66"/><rect x="235.35" y="291.66" width="2.45" height="68.24"/><rect x="238.23" y="308.59" width="2.45" height="51.31"/><rect x="241.12" y="323.98" width="2.45" height="35.92"/><rect x="244.00" y="334.25" width="2.45" height="25.65"/><rect x="246.89" y="341.43" width="2.45" height="18.47"/><rect x="249.77" y="346.56" width="2.45" height="13.34"/><rect x="252.66" y="350.15" width="2.45" height="9.75"/><rect x="255.54" y="352.46" width="2.45" height="7.44"/><rect x="258.43" y="354.26" width="2.45" height="5.64"/><rect x="261.31" y="355.54" width="2.45" height="4.36"/><rect x="264.20" y="356.56" width="2.45" height="3.34"/><rect x="267.08" y="357.33" width="2.45" height="2.57"/><rect x="269.97" y="357.85" width="2.45" height="2.05"/><rect x="272.85" y="358.26" width="2.45" height="1.64"/><rect x="275.74" y="358.62" width="2.45" height="1.28"/><rect x="278.62" y="358.87" width="2.45" height="1.03"/><rect x="281.51" y="359.13" width="2.45" height="0.77"/></g>
<g stroke="#777" stroke-width="0.5" opacity="0.5"><line x1="217.1" x2="219.29999999999998" y1="359.90" y2="359.90"/><line x1="217.1" x2="219.29999999999998" y1="334.25" y2="334.25"/><line x1="217.1" x2="219.29999999999998" y1="308.59" y2="308.59"/><line x1="217.1" x2="219.29999999999998" y1="282.94" y2="282.94"/><line x1="217.1" x2="219.29999999999998" y1="257.28" y2="257.28"/><line x1="217.10" x2="217.10" y1="359.9" y2="357.7"/><line x1="245.95" x2="245.95" y1="359.9" y2="357.7"/><line x1="274.80" x2="274.80" y1="359.9" y2="357.7"/><line x1="303.65" x2="303.65" y1="359.9" y2="357.7"/><line x1="332.50" x2="332.50" y1="359.9" y2="357.7"/><line x1="361.35" x2="361.35" y1="359.9" y2="357.7"/></g>
<g font-family="Liberation Serif, serif" font-size="13.6" fill="#111"><text x="214.5" y="364.39" text-anchor="end">0</text><text x="214.5" y="338.73" text-anchor="end">5</text><text x="214.5" y="313.08" text-anchor="end">10</text><text x="214.5" y="287.43" text-anchor="end">15</text><text x="214.5" y="261.77" text-anchor="end">20</text><text x="217.10" y="372.4" text-anchor="middle">0</text><text x="245.95" y="372.4" text-anchor="middle">1</text><text x="274.80" y="372.4" text-anchor="middle">2</text><text x="303.65" y="372.4" text-anchor="middle">3</text><text x="332.50" y="372.4" text-anchor="middle">4</text><text x="361.35" y="372.4" text-anchor="middle">5</text></g>
<text font-family="Liberation Serif, serif" font-size="13.2" fill="#111" text-anchor="middle" transform="translate(196.8,301.3) rotate(-90)">Number fraction (%)</text>
<text font-family="Liberation Serif, serif" font-size="11.7" fill="#111" text-anchor="middle" x="283.6" y="382.8">Kernel average misorientation (°)</text>
<text font-family="Liberation Serif, serif" font-size="20.5" fill="#000" x="229.6" y="267.3">(e)</text>
<text font-family="Liberation Serif, serif" fill="#000" x="263.8" y="304.2"><tspan font-size="19">θ</tspan><tspan font-size="9.5" dy="4.6">Avg.</tspan><tspan font-size="15.5" dy="-4.6">=0.69°</tspan></text>
<rect x="393.5" y="246.8" width="142.1" height="113.8" fill="#fff" stroke="#7a7a7a" stroke-width="0.9"/>
<g fill="#b8402e"><rect x="395.81" y="255.22" width="2.27" height="105.38"/><rect x="398.08" y="346.49" width="2.27" height="14.11"/><rect x="400.36" y="354.68" width="2.27" height="5.92"/><rect x="402.63" y="356.73" width="2.27" height="3.87"/><rect x="404.90" y="357.87" width="2.27" height="2.73"/><rect x="407.17" y="358.55" width="2.27" height="2.05"/><rect x="409.44" y="359.01" width="2.27" height="1.59"/><rect x="411.72" y="359.35" width="2.27" height="1.25"/><rect x="413.99" y="359.58" width="2.27" height="1.02"/><rect x="416.26" y="359.80" width="2.27" height="0.80"/><rect x="418.53" y="359.80" width="2.27" height="0.80"/><rect x="420.80" y="359.80" width="2.27" height="0.80"/><rect x="423.08" y="359.80" width="2.27" height="0.80"/><rect x="425.35" y="359.80" width="2.27" height="0.80"/><rect x="427.62" y="359.80" width="2.27" height="0.80"/><rect x="429.89" y="359.80" width="2.27" height="0.80"/><rect x="432.16" y="359.80" width="2.27" height="0.80"/><rect x="434.44" y="359.92" width="2.27" height="0.68"/><rect x="436.71" y="359.92" width="2.27" height="0.68"/><rect x="438.98" y="359.92" width="2.27" height="0.68"/><rect x="441.25" y="359.92" width="2.27" height="0.68"/><rect x="443.52" y="359.92" width="2.27" height="0.68"/><rect x="445.80" y="359.92" width="2.27" height="0.68"/><rect x="448.07" y="359.92" width="2.27" height="0.68"/><rect x="450.34" y="359.92" width="2.27" height="0.68"/><rect x="452.61" y="359.92" width="2.27" height="0.68"/><rect x="454.88" y="359.92" width="2.27" height="0.68"/><rect x="457.16" y="359.69" width="2.27" height="0.91"/><rect x="459.43" y="359.69" width="2.27" height="0.91"/><rect x="461.70" y="359.69" width="2.27" height="0.91"/><rect x="463.97" y="359.69" width="2.27" height="0.91"/><rect x="466.24" y="359.69" width="2.27" height="0.91"/><rect x="468.52" y="359.69" width="2.27" height="0.91"/><rect x="470.79" y="359.69" width="2.27" height="0.91"/><rect x="473.06" y="359.69" width="2.27" height="0.91"/><rect x="475.33" y="359.69" width="2.27" height="0.91"/><rect x="477.60" y="359.69" width="2.27" height="0.91"/><rect x="479.88" y="359.46" width="2.27" height="1.14"/><rect x="482.15" y="359.46" width="2.27" height="1.14"/><rect x="484.42" y="359.46" width="2.27" height="1.14"/><rect x="486.69" y="359.46" width="2.27" height="1.14"/><rect x="488.96" y="359.46" width="2.27" height="1.14"/><rect x="491.24" y="359.46" width="2.27" height="1.14"/><rect x="493.51" y="359.46" width="2.27" height="1.14"/><rect x="495.78" y="359.46" width="2.27" height="1.14"/><rect x="498.05" y="359.46" width="2.27" height="1.14"/><rect x="500.32" y="359.46" width="2.27" height="1.14"/><rect x="502.60" y="359.23" width="2.27" height="1.37"/><rect x="504.87" y="359.23" width="2.27" height="1.37"/><rect x="507.14" y="359.01" width="2.27" height="1.59"/><rect x="509.41" y="359.01" width="2.27" height="1.59"/><rect x="511.68" y="358.78" width="2.27" height="1.82"/><rect x="513.96" y="358.55" width="2.27" height="2.05"/><rect x="516.23" y="358.32" width="2.27" height="2.28"/><rect x="518.50" y="357.87" width="2.27" height="2.73"/><rect x="520.77" y="356.96" width="2.27" height="3.64"/><rect x="523.04" y="355.37" width="2.27" height="5.23"/><rect x="525.32" y="354.68" width="2.27" height="5.92"/><rect x="527.59" y="359.46" width="2.27" height="1.14"/></g>
<g fill="#f21414"><rect x="395.98" y="255.22" width="1.93" height="105.38"/><rect x="398.26" y="346.49" width="1.93" height="14.11"/><rect x="400.53" y="354.68" width="1.93" height="5.92"/><rect x="402.80" y="356.73" width="1.93" height="3.87"/><rect x="405.07" y="357.87" width="1.93" height="2.73"/><rect x="407.34" y="358.55" width="1.93" height="2.05"/><rect x="409.62" y="359.01" width="1.93" height="1.59"/><rect x="411.89" y="359.35" width="1.93" height="1.25"/><rect x="414.16" y="359.58" width="1.93" height="1.02"/><rect x="416.43" y="359.80" width="1.93" height="0.80"/><rect x="418.70" y="359.80" width="1.93" height="0.80"/><rect x="420.98" y="359.80" width="1.93" height="0.80"/><rect x="423.25" y="359.80" width="1.93" height="0.80"/><rect x="425.52" y="359.80" width="1.93" height="0.80"/><rect x="427.79" y="359.80" width="1.93" height="0.80"/><rect x="430.06" y="359.80" width="1.93" height="0.80"/><rect x="432.34" y="359.80" width="1.93" height="0.80"/><rect x="434.61" y="359.92" width="1.93" height="0.68"/><rect x="436.88" y="359.92" width="1.93" height="0.68"/><rect x="439.15" y="359.92" width="1.93" height="0.68"/><rect x="441.42" y="359.92" width="1.93" height="0.68"/><rect x="443.70" y="359.92" width="1.93" height="0.68"/><rect x="445.97" y="359.92" width="1.93" height="0.68"/><rect x="448.24" y="359.92" width="1.93" height="0.68"/><rect x="450.51" y="359.92" width="1.93" height="0.68"/><rect x="452.78" y="359.92" width="1.93" height="0.68"/><rect x="455.06" y="359.92" width="1.93" height="0.68"/><rect x="457.33" y="359.69" width="1.93" height="0.91"/><rect x="459.60" y="359.69" width="1.93" height="0.91"/><rect x="461.87" y="359.69" width="1.93" height="0.91"/><rect x="464.14" y="359.69" width="1.93" height="0.91"/><rect x="466.42" y="359.69" width="1.93" height="0.91"/><rect x="468.69" y="359.69" width="1.93" height="0.91"/><rect x="470.96" y="359.69" width="1.93" height="0.91"/><rect x="473.23" y="359.69" width="1.93" height="0.91"/><rect x="475.50" y="359.69" width="1.93" height="0.91"/><rect x="477.78" y="359.69" width="1.93" height="0.91"/><rect x="480.05" y="359.46" width="1.93" height="1.14"/><rect x="482.32" y="359.46" width="1.93" height="1.14"/><rect x="484.59" y="359.46" width="1.93" height="1.14"/><rect x="486.86" y="359.46" width="1.93" height="1.14"/><rect x="489.14" y="359.46" width="1.93" height="1.14"/><rect x="491.41" y="359.46" width="1.93" height="1.14"/><rect x="493.68" y="359.46" width="1.93" height="1.14"/><rect x="495.95" y="359.46" width="1.93" height="1.14"/><rect x="498.22" y="359.46" width="1.93" height="1.14"/><rect x="500.50" y="359.46" width="1.93" height="1.14"/><rect x="502.77" y="359.23" width="1.93" height="1.37"/><rect x="505.04" y="359.23" width="1.93" height="1.37"/><rect x="507.31" y="359.01" width="1.93" height="1.59"/><rect x="509.58" y="359.01" width="1.93" height="1.59"/><rect x="511.86" y="358.78" width="1.93" height="1.82"/><rect x="514.13" y="358.55" width="1.93" height="2.05"/><rect x="516.40" y="358.32" width="1.93" height="2.28"/><rect x="518.67" y="357.87" width="1.93" height="2.73"/><rect x="520.94" y="356.96" width="1.93" height="3.64"/><rect x="523.22" y="355.37" width="1.93" height="5.23"/><rect x="525.49" y="354.68" width="1.93" height="5.92"/><rect x="527.76" y="359.46" width="1.93" height="1.14"/></g>
<g stroke="#777" stroke-width="0.5" opacity="0.5"><line x1="393.5" x2="395.7" y1="360.60" y2="360.60"/><line x1="393.5" x2="395.7" y1="337.84" y2="337.84"/><line x1="393.5" x2="395.7" y1="315.08" y2="315.08"/><line x1="393.5" x2="395.7" y1="292.32" y2="292.32"/><line x1="393.5" x2="395.7" y1="269.56" y2="269.56"/><line x1="393.5" x2="395.7" y1="246.80" y2="246.80"/><line x1="393.20" x2="393.20" y1="360.6" y2="358.40000000000003"/><line x1="415.92" x2="415.92" y1="360.6" y2="358.40000000000003"/><line x1="438.64" x2="438.64" y1="360.6" y2="358.40000000000003"/><line x1="461.36" x2="461.36" y1="360.6" y2="358.40000000000003"/><line x1="484.08" x2="484.08" y1="360.6" y2="358.40000000000003"/><line x1="506.80" x2="506.80" y1="360.6" y2="358.40000000000003"/><line x1="529.52" x2="529.52" y1="360.6" y2="358.40000000000003"/></g>
<g font-family="Liberation Serif, serif" font-size="13.2" fill="#111"><text x="390.9" y="364.96" text-anchor="end">0</text><text x="390.9" y="342.20" text-anchor="end">10</text><text x="390.9" y="319.44" text-anchor="end">20</text><text x="390.9" y="296.68" text-anchor="end">30</text><text x="390.9" y="273.92" text-anchor="end">40</text><text x="390.9" y="251.16" text-anchor="end">50</text><text x="393.20" y="373.9" text-anchor="middle">0</text><text x="415.92" y="373.9" text-anchor="middle">10</text><text x="438.64" y="373.9" text-anchor="middle">20</text><text x="461.36" y="373.9" text-anchor="middle">30</text><text x="484.08" y="373.9" text-anchor="middle">40</text><text x="506.80" y="373.9" text-anchor="middle">50</text><text x="529.52" y="373.9" text-anchor="middle">60</text></g>
<text font-family="Liberation Serif, serif" font-size="13.1" fill="#111" text-anchor="middle" transform="translate(374.4,301.7) rotate(-90)">Number fraction (%)</text>
<text font-family="Liberation Serif, serif" font-size="12.6" fill="#111" text-anchor="middle" x="465.2" y="382.9">Misorientation angle (°)</text>
<text font-family="Liberation Serif, serif" font-size="21" fill="#000" x="401.5" y="267">(f)</text>
<g font-family="Liberation Serif, serif" fill="#000"><text font-size="14.8" x="399.6" y="308.2">Fraction</text><text font-size="10" x="454.20000000000005" y="311.09999999999997">LAGBs</text><text font-size="15.1" x="485.5" y="308.2">=62.5%</text></g>
<rect x="41.1" y="626.3" width="140.9" height="117.3" fill="#fff" stroke="#7a7a7a" stroke-width="0.9"/>
<g fill="#e39a9a"><rect x="41.20" y="662.27" width="4.02" height="81.33"/><rect x="45.22" y="670.09" width="4.02" height="73.51"/><rect x="49.25" y="696.29" width="4.02" height="47.31"/><rect x="53.27" y="713.10" width="4.02" height="30.50"/><rect x="57.30" y="721.31" width="4.02" height="22.29"/><rect x="61.32" y="724.44" width="4.02" height="19.16"/><rect x="65.34" y="723.66" width="4.02" height="19.94"/><rect x="69.37" y="731.87" width="4.02" height="11.73"/><rect x="73.39" y="731.09" width="4.02" height="12.51"/><rect x="77.42" y="726.79" width="4.02" height="16.81"/><rect x="81.44" y="735.00" width="4.02" height="8.60"/><rect x="85.46" y="735.78" width="4.02" height="7.82"/><rect x="89.49" y="736.17" width="4.02" height="7.43"/><rect x="93.51" y="738.91" width="4.02" height="4.69"/><rect x="97.54" y="739.69" width="4.02" height="3.91"/><rect x="101.56" y="742.23" width="4.02" height="1.37"/><rect x="109.61" y="737.74" width="4.02" height="5.87"/><rect x="113.63" y="742.04" width="4.02" height="1.56"/><rect x="117.66" y="742.43" width="4.02" height="1.17"/><rect x="121.68" y="742.43" width="4.02" height="1.17"/><rect x="125.70" y="743.01" width="4.02" height="0.59"/><rect x="129.73" y="741.64" width="4.02" height="1.96"/><rect x="133.75" y="743.21" width="4.02" height="0.39"/><rect x="137.78" y="743.01" width="4.02" height="0.59"/><rect x="141.80" y="742.43" width="4.02" height="1.17"/><rect x="149.85" y="743.21" width="4.02" height="0.39"/><rect x="161.92" y="742.43" width="4.02" height="1.17"/><rect x="169.97" y="743.21" width="4.02" height="0.39"/></g>
<g fill="#f21414"><rect x="41.48" y="662.27" width="3.47" height="81.33"/><rect x="45.50" y="670.09" width="3.47" height="73.51"/><rect x="49.52" y="696.29" width="3.47" height="47.31"/><rect x="53.55" y="713.10" width="3.47" height="30.50"/><rect x="57.57" y="721.31" width="3.47" height="22.29"/><rect x="61.60" y="724.44" width="3.47" height="19.16"/><rect x="65.62" y="723.66" width="3.47" height="19.94"/><rect x="69.64" y="731.87" width="3.47" height="11.73"/><rect x="73.67" y="731.09" width="3.47" height="12.51"/><rect x="77.69" y="726.79" width="3.47" height="16.81"/><rect x="81.72" y="735.00" width="3.47" height="8.60"/><rect x="85.74" y="735.78" width="3.47" height="7.82"/><rect x="89.76" y="736.17" width="3.47" height="7.43"/><rect x="93.79" y="738.91" width="3.47" height="4.69"/><rect x="97.81" y="739.69" width="3.47" height="3.91"/><rect x="101.84" y="742.23" width="3.47" height="1.37"/><rect x="109.88" y="737.74" width="3.47" height="5.87"/><rect x="113.91" y="742.04" width="3.47" height="1.56"/><rect x="117.93" y="742.43" width="3.47" height="1.17"/><rect x="121.96" y="742.43" width="3.47" height="1.17"/><rect x="125.98" y="743.01" width="3.47" height="0.59"/><rect x="130.00" y="741.64" width="3.47" height="1.96"/><rect x="134.03" y="743.21" width="3.47" height="0.39"/><rect x="138.05" y="743.01" width="3.47" height="0.59"/><rect x="142.08" y="742.43" width="3.47" height="1.17"/><rect x="150.12" y="743.21" width="3.47" height="0.39"/><rect x="162.20" y="742.43" width="3.47" height="1.17"/><rect x="170.24" y="743.21" width="3.47" height="0.39"/></g>
<g stroke="#777" stroke-width="0.5" opacity="0.5"><line x1="41.1" x2="43.300000000000004" y1="743.60" y2="743.60"/><line x1="41.1" x2="43.300000000000004" y1="724.05" y2="724.05"/><line x1="41.1" x2="43.300000000000004" y1="704.50" y2="704.50"/><line x1="41.1" x2="43.300000000000004" y1="684.95" y2="684.95"/><line x1="41.1" x2="43.300000000000004" y1="665.40" y2="665.40"/><line x1="41.1" x2="43.300000000000004" y1="645.85" y2="645.85"/><line x1="41.1" x2="43.300000000000004" y1="626.30" y2="626.30"/><line x1="41.20" x2="41.20" y1="743.6" y2="741.4"/><line x1="61.32" x2="61.32" y1="743.6" y2="741.4"/><line x1="81.44" x2="81.44" y1="743.6" y2="741.4"/><line x1="101.56" x2="101.56" y1="743.6" y2="741.4"/><line x1="121.68" x2="121.68" y1="743.6" y2="741.4"/><line x1="141.80" x2="141.80" y1="743.6" y2="741.4"/><line x1="161.92" x2="161.92" y1="743.6" y2="741.4"/><line x1="182.04" x2="182.04" y1="743.6" y2="741.4"/></g>
<g font-family="Liberation Serif, serif" font-size="12" fill="#111"><text x="37.7" y="747.56" text-anchor="end">0</text><text x="37.7" y="728.01" text-anchor="end">5</text><text x="37.7" y="708.46" text-anchor="end">10</text><text x="37.7" y="688.91" text-anchor="end">15</text><text x="37.7" y="669.36" text-anchor="end">20</text><text x="37.7" y="649.81" text-anchor="end">25</text><text x="37.7" y="630.26" text-anchor="end">30</text><text x="41.20" y="755.8" text-anchor="middle">0</text><text x="61.32" y="755.8" text-anchor="middle">10</text><text x="81.44" y="755.8" text-anchor="middle">20</text><text x="101.56" y="755.8" text-anchor="middle">30</text><text x="121.68" y="755.8" text-anchor="middle">40</text><text x="141.80" y="755.8" text-anchor="middle">50</text><text x="161.92" y="755.8" text-anchor="middle">60</text><text x="182.04" y="755.8" text-anchor="middle">70</text></g>
<text font-family="Liberation Serif, serif" font-size="12.1" fill="#111" text-anchor="middle" transform="translate(22.5,684.2) rotate(-90)">Number fraction (%)</text>
<text font-family="Liberation Serif, serif" font-size="12" fill="#111" text-anchor="middle" x="111.2" y="766.6">Grain size (μm)</text>
<text font-family="Liberation Serif, serif" font-size="20.3" fill="#000" x="43" y="646">(j)</text>
<text font-family="Liberation Serif, serif" font-size="15.25" fill="#000" x="53.6" y="683.6">Grain size=9.18 μm</text>
<rect x="216.7" y="625.6" width="146.0" height="118.0" fill="#fff" stroke="#7a7a7a" stroke-width="0.9"/>
<g fill="#b8402e"><rect x="220.10" y="739.43" width="2.92" height="4.17"/><rect x="223.01" y="695.67" width="2.92" height="47.93"/><rect x="225.93" y="640.45" width="2.92" height="103.15"/><rect x="228.84" y="641.49" width="2.92" height="102.11"/><rect x="231.76" y="666.50" width="2.92" height="77.10"/><rect x="234.67" y="694.11" width="2.92" height="49.49"/><rect x="237.59" y="710.78" width="2.92" height="32.82"/><rect x="240.50" y="720.68" width="2.92" height="22.92"/><rect x="243.42" y="727.97" width="2.92" height="15.63"/><rect x="246.33" y="732.14" width="2.92" height="11.46"/><rect x="249.25" y="734.74" width="2.92" height="8.86"/><rect x="252.16" y="736.83" width="2.92" height="6.77"/><rect x="255.08" y="738.39" width="2.92" height="5.21"/><rect x="257.99" y="739.43" width="2.92" height="4.17"/><rect x="260.91" y="740.21" width="2.92" height="3.39"/><rect x="263.82" y="741.00" width="2.92" height="2.60"/><rect x="266.74" y="741.52" width="2.92" height="2.08"/><rect x="269.65" y="741.93" width="2.92" height="1.67"/><rect x="272.57" y="742.25" width="2.92" height="1.35"/><rect x="275.48" y="742.56" width="2.92" height="1.04"/><rect x="278.40" y="742.77" width="2.92" height="0.83"/><rect x="281.31" y="742.97" width="2.92" height="0.63"/><rect x="284.23" y="743.08" width="2.92" height="0.52"/><rect x="287.14" y="743.18" width="2.92" height="0.42"/><rect x="290.06" y="743.29" width="2.92" height="0.31"/><rect x="292.97" y="743.34" width="2.92" height="0.26"/></g>
<g fill="#f21414"><rect x="220.32" y="739.43" width="2.48" height="4.17"/><rect x="223.23" y="695.67" width="2.48" height="47.93"/><rect x="226.15" y="640.45" width="2.48" height="103.15"/><rect x="229.06" y="641.49" width="2.48" height="102.11"/><rect x="231.98" y="666.50" width="2.48" height="77.10"/><rect x="234.89" y="694.11" width="2.48" height="49.49"/><rect x="237.81" y="710.78" width="2.48" height="32.82"/><rect x="240.72" y="720.68" width="2.48" height="22.92"/><rect x="243.64" y="727.97" width="2.48" height="15.63"/><rect x="246.55" y="732.14" width="2.48" height="11.46"/><rect x="249.47" y="734.74" width="2.48" height="8.86"/><rect x="252.38" y="736.83" width="2.48" height="6.77"/><rect x="255.30" y="738.39" width="2.48" height="5.21"/><rect x="258.21" y="739.43" width="2.48" height="4.17"/><rect x="261.13" y="740.21" width="2.48" height="3.39"/><rect x="264.04" y="741.00" width="2.48" height="2.60"/><rect x="266.96" y="741.52" width="2.48" height="2.08"/><rect x="269.87" y="741.93" width="2.48" height="1.67"/><rect x="272.79" y="742.25" width="2.48" height="1.35"/><rect x="275.70" y="742.56" width="2.48" height="1.04"/><rect x="278.62" y="742.77" width="2.48" height="0.83"/><rect x="281.53" y="742.97" width="2.48" height="0.63"/><rect x="284.45" y="743.08" width="2.48" height="0.52"/><rect x="287.36" y="743.18" width="2.48" height="0.42"/><rect x="290.28" y="743.29" width="2.48" height="0.31"/><rect x="293.19" y="743.34" width="2.48" height="0.26"/></g>
<g stroke="#777" stroke-width="0.5" opacity="0.5"><line x1="216.7" x2="218.89999999999998" y1="743.60" y2="743.60"/><line x1="216.7" x2="218.89999999999998" y1="717.55" y2="717.55"/><line x1="216.7" x2="218.89999999999998" y1="691.50" y2="691.50"/><line x1="216.7" x2="218.89999999999998" y1="665.45" y2="665.45"/><line x1="216.7" x2="218.89999999999998" y1="639.41" y2="639.41"/><line x1="216.60" x2="216.60" y1="743.6" y2="741.4"/><line x1="245.75" x2="245.75" y1="743.6" y2="741.4"/><line x1="274.90" x2="274.90" y1="743.6" y2="741.4"/><line x1="304.05" x2="304.05" y1="743.6" y2="741.4"/><line x1="333.20" x2="333.20" y1="743.6" y2="741.4"/><line x1="362.35" x2="362.35" y1="743.6" y2="741.4"/></g>
<g font-family="Liberation Serif, serif" font-size="13.8" fill="#111"><text x="214.3" y="748.15" text-anchor="end">0</text><text x="214.3" y="722.11" text-anchor="end">5</text><text x="214.3" y="696.06" text-anchor="end">10</text><text x="214.3" y="670.01" text-anchor="end">15</text><text x="214.3" y="643.96" text-anchor="end">20</text><text x="216.60" y="757.4" text-anchor="middle">0</text><text x="245.75" y="757.4" text-anchor="middle">1</text><text x="274.90" y="757.4" text-anchor="middle">2</text><text x="304.05" y="757.4" text-anchor="middle">3</text><text x="333.20" y="757.4" text-anchor="middle">4</text><text x="362.35" y="757.4" text-anchor="middle">5</text></g>
<text font-family="Liberation Serif, serif" font-size="13.4" fill="#111" text-anchor="middle" transform="translate(196.6,684.6) rotate(-90)">Number fraction (%)</text>
<text font-family="Liberation Serif, serif" font-size="12.1" fill="#111" text-anchor="middle" x="283.8" y="767">Kernel Average misorientation (°)</text>
<text font-family="Liberation Serif, serif" font-size="21" fill="#000" x="229.3" y="645.6">(k)</text>
<text font-family="Liberation Serif, serif" fill="#000" x="255" y="683.6"><tspan font-size="19">θ</tspan><tspan font-size="9.5" dy="4.6">Avg.</tspan><tspan font-size="15.5" dy="-4.6">=0.61°</tspan></text>
<rect x="391.8" y="626.3" width="144.6" height="117.0" fill="#fff" stroke="#7a7a7a" stroke-width="0.9"/>
<g fill="#b8402e"><rect x="395.01" y="648.06" width="2.28" height="95.24"/><rect x="397.29" y="722.24" width="2.28" height="21.06"/><rect x="399.57" y="731.13" width="2.28" height="12.17"/><rect x="401.85" y="733.94" width="2.28" height="9.36"/><rect x="404.13" y="735.58" width="2.28" height="7.72"/><rect x="406.41" y="736.98" width="2.28" height="6.32"/><rect x="408.69" y="738.15" width="2.28" height="5.15"/><rect x="410.97" y="739.09" width="2.28" height="4.21"/><rect x="413.25" y="739.79" width="2.28" height="3.51"/><rect x="415.53" y="740.38" width="2.28" height="2.92"/><rect x="417.81" y="740.96" width="2.28" height="2.34"/><rect x="420.09" y="741.31" width="2.28" height="1.99"/><rect x="422.37" y="741.66" width="2.28" height="1.64"/><rect x="424.65" y="742.01" width="2.28" height="1.29"/><rect x="426.93" y="742.25" width="2.28" height="1.05"/><rect x="429.21" y="742.25" width="2.28" height="1.05"/><rect x="431.49" y="742.25" width="2.28" height="1.05"/><rect x="433.77" y="742.25" width="2.28" height="1.05"/><rect x="436.05" y="742.25" width="2.28" height="1.05"/><rect x="438.33" y="742.25" width="2.28" height="1.05"/><rect x="440.61" y="742.48" width="2.28" height="0.82"/><rect x="442.89" y="742.48" width="2.28" height="0.82"/><rect x="445.17" y="742.48" width="2.28" height="0.82"/><rect x="447.45" y="742.48" width="2.28" height="0.82"/><rect x="449.73" y="742.48" width="2.28" height="0.82"/><rect x="452.01" y="742.48" width="2.28" height="0.82"/><rect x="454.29" y="742.48" width="2.28" height="0.82"/><rect x="456.57" y="742.48" width="2.28" height="0.82"/><rect x="458.85" y="742.48" width="2.28" height="0.82"/><rect x="461.13" y="742.48" width="2.28" height="0.82"/><rect x="463.41" y="742.36" width="2.28" height="0.94"/><rect x="465.69" y="742.36" width="2.28" height="0.94"/><rect x="467.97" y="742.36" width="2.28" height="0.94"/><rect x="470.25" y="742.36" width="2.28" height="0.94"/><rect x="472.53" y="742.36" width="2.28" height="0.94"/><rect x="474.81" y="742.36" width="2.28" height="0.94"/><rect x="477.09" y="742.13" width="2.28" height="1.17"/><rect x="479.37" y="741.90" width="2.28" height="1.40"/><rect x="481.65" y="741.66" width="2.28" height="1.64"/><rect x="483.93" y="741.43" width="2.28" height="1.87"/><rect x="486.21" y="741.43" width="2.28" height="1.87"/><rect x="488.49" y="741.66" width="2.28" height="1.64"/><rect x="490.77" y="741.43" width="2.28" height="1.87"/><rect x="493.05" y="741.19" width="2.28" height="2.11"/><rect x="495.33" y="741.66" width="2.28" height="1.64"/><rect x="497.61" y="741.90" width="2.28" height="1.40"/><rect x="499.89" y="742.13" width="2.28" height="1.17"/><rect x="502.17" y="742.13" width="2.28" height="1.17"/><rect x="504.45" y="742.36" width="2.28" height="0.94"/><rect x="506.73" y="742.36" width="2.28" height="0.94"/><rect x="509.01" y="742.60" width="2.28" height="0.70"/><rect x="511.29" y="742.60" width="2.28" height="0.70"/><rect x="513.57" y="742.60" width="2.28" height="0.70"/><rect x="515.85" y="742.60" width="2.28" height="0.70"/><rect x="518.13" y="742.60" width="2.28" height="0.70"/><rect x="520.41" y="742.60" width="2.28" height="0.70"/><rect x="522.69" y="742.60" width="2.28" height="0.70"/><rect x="524.97" y="742.60" width="2.28" height="0.70"/><rect x="527.25" y="742.60" width="2.28" height="0.70"/><rect x="529.53" y="742.83" width="2.28" height="0.47"/></g>
<g fill="#f21414"><rect x="395.18" y="648.06" width="1.94" height="95.24"/><rect x="397.46" y="722.24" width="1.94" height="21.06"/><rect x="399.74" y="731.13" width="1.94" height="12.17"/><rect x="402.02" y="733.94" width="1.94" height="9.36"/><rect x="404.30" y="735.58" width="1.94" height="7.72"/><rect x="406.58" y="736.98" width="1.94" height="6.32"/><rect x="408.86" y="738.15" width="1.94" height="5.15"/><rect x="411.14" y="739.09" width="1.94" height="4.21"/><rect x="413.42" y="739.79" width="1.94" height="3.51"/><rect x="415.70" y="740.38" width="1.94" height="2.92"/><rect x="417.98" y="740.96" width="1.94" height="2.34"/><rect x="420.26" y="741.31" width="1.94" height="1.99"/><rect x="422.54" y="741.66" width="1.94" height="1.64"/><rect x="424.82" y="742.01" width="1.94" height="1.29"/><rect x="427.10" y="742.25" width="1.94" height="1.05"/><rect x="429.38" y="742.25" width="1.94" height="1.05"/><rect x="431.66" y="742.25" width="1.94" height="1.05"/><rect x="433.94" y="742.25" width="1.94" height="1.05"/><rect x="436.22" y="742.25" width="1.94" height="1.05"/><rect x="438.50" y="742.25" width="1.94" height="1.05"/><rect x="440.78" y="742.48" width="1.94" height="0.82"/><rect x="443.06" y="742.48" width="1.94" height="0.82"/><rect x="445.34" y="742.48" width="1.94" height="0.82"/><rect x="447.62" y="742.48" width="1.94" height="0.82"/><rect x="449.90" y="742.48" width="1.94" height="0.82"/><rect x="452.18" y="742.48" width="1.94" height="0.82"/><rect x="454.46" y="742.48" width="1.94" height="0.82"/><rect x="456.74" y="742.48" width="1.94" height="0.82"/><rect x="459.02" y="742.48" width="1.94" height="0.82"/><rect x="461.30" y="742.48" width="1.94" height="0.82"/><rect x="463.58" y="742.36" width="1.94" height="0.94"/><rect x="465.86" y="742.36" width="1.94" height="0.94"/><rect x="468.14" y="742.36" width="1.94" height="0.94"/><rect x="470.42" y="742.36" width="1.94" height="0.94"/><rect x="472.70" y="742.36" width="1.94" height="0.94"/><rect x="474.98" y="742.36" width="1.94" height="0.94"/><rect x="477.26" y="742.13" width="1.94" height="1.17"/><rect x="479.54" y="741.90" width="1.94" height="1.40"/><rect x="481.82" y="741.66" width="1.94" height="1.64"/><rect x="484.10" y="741.43" width="1.94" height="1.87"/><rect x="486.38" y="741.43" width="1.94" height="1.87"/><rect x="488.66" y="741.66" width="1.94" height="1.64"/><rect x="490.94" y="741.43" width="1.94" height="1.87"/><rect x="493.22" y="741.19" width="1.94" height="2.11"/><rect x="495.50" y="741.66" width="1.94" height="1.64"/><rect x="497.78" y="741.90" width="1.94" height="1.40"/><rect x="500.06" y="742.13" width="1.94" height="1.17"/><rect x="502.34" y="742.13" width="1.94" height="1.17"/><rect x="504.62" y="742.36" width="1.94" height="0.94"/><rect x="506.90" y="742.36" width="1.94" height="0.94"/><rect x="509.18" y="742.60" width="1.94" height="0.70"/><rect x="511.46" y="742.60" width="1.94" height="0.70"/><rect x="513.74" y="742.60" width="1.94" height="0.70"/><rect x="516.02" y="742.60" width="1.94" height="0.70"/><rect x="518.30" y="742.60" width="1.94" height="0.70"/><rect x="520.58" y="742.60" width="1.94" height="0.70"/><rect x="522.86" y="742.60" width="1.94" height="0.70"/><rect x="525.14" y="742.60" width="1.94" height="0.70"/><rect x="527.42" y="742.60" width="1.94" height="0.70"/><rect x="529.70" y="742.83" width="1.94" height="0.47"/></g>
<g stroke="#777" stroke-width="0.5" opacity="0.5"><line x1="391.8" x2="394.0" y1="743.30" y2="743.30"/><line x1="391.8" x2="394.0" y1="719.90" y2="719.90"/><line x1="391.8" x2="394.0" y1="696.50" y2="696.50"/><line x1="391.8" x2="394.0" y1="673.10" y2="673.10"/><line x1="391.8" x2="394.0" y1="649.70" y2="649.70"/><line x1="391.8" x2="394.0" y1="626.30" y2="626.30"/><line x1="392.50" x2="392.50" y1="743.3" y2="741.0999999999999"/><line x1="415.30" x2="415.30" y1="743.3" y2="741.0999999999999"/><line x1="438.10" x2="438.10" y1="743.3" y2="741.0999999999999"/><line x1="460.90" x2="460.90" y1="743.3" y2="741.0999999999999"/><line x1="483.70" x2="483.70" y1="743.3" y2="741.0999999999999"/><line x1="506.50" x2="506.50" y1="743.3" y2="741.0999999999999"/><line x1="529.30" x2="529.30" y1="743.3" y2="741.0999999999999"/></g>
<g font-family="Liberation Serif, serif" font-size="13.2" fill="#111"><text x="389.4" y="747.66" text-anchor="end">0</text><text x="389.4" y="724.26" text-anchor="end">10</text><text x="389.4" y="700.86" text-anchor="end">20</text><text x="389.4" y="677.46" text-anchor="end">30</text><text x="389.4" y="654.06" text-anchor="end">40</text><text x="389.4" y="630.66" text-anchor="end">50</text><text x="392.50" y="757" text-anchor="middle">0</text><text x="415.30" y="757" text-anchor="middle">10</text><text x="438.10" y="757" text-anchor="middle">20</text><text x="460.90" y="757" text-anchor="middle">30</text><text x="483.70" y="757" text-anchor="middle">40</text><text x="506.50" y="757" text-anchor="middle">50</text><text x="529.30" y="757" text-anchor="middle">60</text></g>
<text font-family="Liberation Serif, serif" font-size="13" fill="#111" text-anchor="middle" transform="translate(374,682.5) rotate(-90)">Number fraction (%)</text>
<text font-family="Liberation Serif, serif" font-size="12.4" fill="#111" text-anchor="middle" x="464.1" y="766.8">Misorientation angle (°)</text>
<text font-family="Liberation Serif, serif" font-size="21" fill="#000" x="402" y="644.6">(l)</text>
<g font-family="Liberation Serif, serif" fill="#000"><text font-size="14.8" x="399.6" y="683.1">Fraction</text><text font-size="10" x="454.20000000000005" y="686.0">LAGBs</text><text font-size="15.1" x="485.5" y="683.1">=75.3%</text></g>
</g>
</svg>
</body></html>
